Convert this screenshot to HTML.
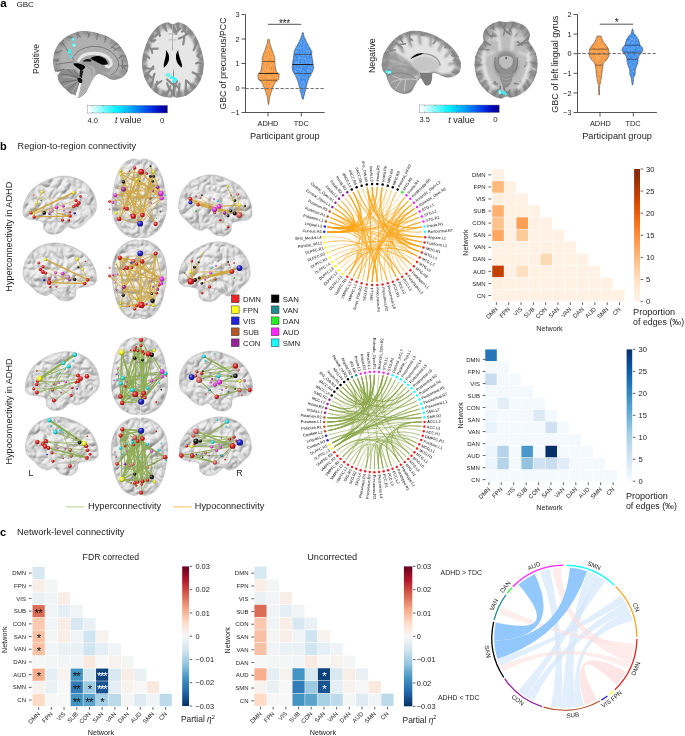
<!DOCTYPE html>
<html lang="en"><head><meta charset="utf-8"><title>Figure</title>
<style>html,body{margin:0;padding:0;background:#fff}svg{display:block}text{font-family:'Liberation Sans', sans-serif}</style>
</head><body>
<svg width="685" height="736" viewBox="0 0 685 736" font-family="Liberation Sans, sans-serif">
<rect width="685" height="736" fill="#ffffff"/>
<text x="0.30" y="6.60" font-size="10" font-weight="bold" fill="#000" textLength="6.40" lengthAdjust="spacingAndGlyphs">a</text>
<text x="16.40" y="6.70" font-size="7.9" fill="#222" textLength="17.60" lengthAdjust="spacingAndGlyphs">GBC</text>
<text x="39.40" y="59.00" font-size="8.6" text-anchor="middle" fill="#222" transform="rotate(-90 39.40 59.00)" textLength="30.20" lengthAdjust="spacingAndGlyphs">Positive</text>
<text x="375.20" y="55.70" font-size="8.6" text-anchor="middle" fill="#222" transform="rotate(-90 375.20 55.70)" textLength="34.80" lengthAdjust="spacingAndGlyphs">Negative</text>
<defs><linearGradient id="tcb" x1="0" x2="1" y1="0" y2="0"><stop offset="0" stop-color="#ffffff"/><stop offset="0.07" stop-color="#dcffff"/><stop offset="0.36" stop-color="#08f4ff"/><stop offset="0.6" stop-color="#0090fa"/><stop offset="0.8" stop-color="#0030e6"/><stop offset="0.93" stop-color="#0000b0"/><stop offset="1" stop-color="#000084"/></linearGradient></defs>
<rect x="87.30" y="105.30" width="80.30" height="7.70" fill="url(#tcb)" stroke="#8a8a8a" stroke-width="0.45"/>
<line x1="92.40" y1="105.30" x2="92.40" y2="106.40" stroke="#333" stroke-width="0.4"/>
<line x1="92.40" y1="111.90" x2="92.40" y2="113.00" stroke="#333" stroke-width="0.4"/>
<line x1="103.10" y1="105.30" x2="103.10" y2="106.40" stroke="#333" stroke-width="0.4"/>
<line x1="103.10" y1="111.90" x2="103.10" y2="113.00" stroke="#333" stroke-width="0.4"/>
<line x1="113.80" y1="105.30" x2="113.80" y2="106.40" stroke="#333" stroke-width="0.4"/>
<line x1="113.80" y1="111.90" x2="113.80" y2="113.00" stroke="#333" stroke-width="0.4"/>
<line x1="124.50" y1="105.30" x2="124.50" y2="106.40" stroke="#333" stroke-width="0.4"/>
<line x1="124.50" y1="111.90" x2="124.50" y2="113.00" stroke="#333" stroke-width="0.4"/>
<line x1="135.20" y1="105.30" x2="135.20" y2="106.40" stroke="#333" stroke-width="0.4"/>
<line x1="135.20" y1="111.90" x2="135.20" y2="113.00" stroke="#333" stroke-width="0.4"/>
<line x1="145.90" y1="105.30" x2="145.90" y2="106.40" stroke="#333" stroke-width="0.4"/>
<line x1="145.90" y1="111.90" x2="145.90" y2="113.00" stroke="#333" stroke-width="0.4"/>
<line x1="156.60" y1="105.30" x2="156.60" y2="106.40" stroke="#333" stroke-width="0.4"/>
<line x1="156.60" y1="111.90" x2="156.60" y2="113.00" stroke="#333" stroke-width="0.4"/>
<text x="87.60" y="122.80" font-size="7.8" fill="#222" textLength="10.40" lengthAdjust="spacingAndGlyphs">4.0</text>
<text x="115.00" y="123.10" font-size="8.6" fill="#222" textLength="26.60" lengthAdjust="spacingAndGlyphs"><tspan font-style="italic">t</tspan> value</text>
<text x="159.90" y="122.80" font-size="7.8" fill="#222">0</text>
<rect x="419.50" y="105.00" width="79.80" height="7.60" fill="url(#tcb)" stroke="#8a8a8a" stroke-width="0.45"/>
<line x1="424.60" y1="105.00" x2="424.60" y2="106.10" stroke="#333" stroke-width="0.4"/>
<line x1="424.60" y1="111.50" x2="424.60" y2="112.60" stroke="#333" stroke-width="0.4"/>
<line x1="435.30" y1="105.00" x2="435.30" y2="106.10" stroke="#333" stroke-width="0.4"/>
<line x1="435.30" y1="111.50" x2="435.30" y2="112.60" stroke="#333" stroke-width="0.4"/>
<line x1="446.00" y1="105.00" x2="446.00" y2="106.10" stroke="#333" stroke-width="0.4"/>
<line x1="446.00" y1="111.50" x2="446.00" y2="112.60" stroke="#333" stroke-width="0.4"/>
<line x1="456.70" y1="105.00" x2="456.70" y2="106.10" stroke="#333" stroke-width="0.4"/>
<line x1="456.70" y1="111.50" x2="456.70" y2="112.60" stroke="#333" stroke-width="0.4"/>
<line x1="467.40" y1="105.00" x2="467.40" y2="106.10" stroke="#333" stroke-width="0.4"/>
<line x1="467.40" y1="111.50" x2="467.40" y2="112.60" stroke="#333" stroke-width="0.4"/>
<line x1="478.10" y1="105.00" x2="478.10" y2="106.10" stroke="#333" stroke-width="0.4"/>
<line x1="478.10" y1="111.50" x2="478.10" y2="112.60" stroke="#333" stroke-width="0.4"/>
<line x1="488.80" y1="105.00" x2="488.80" y2="106.10" stroke="#333" stroke-width="0.4"/>
<line x1="488.80" y1="111.50" x2="488.80" y2="112.60" stroke="#333" stroke-width="0.4"/>
<text x="419.50" y="122.20" font-size="7.8" fill="#222" textLength="10.40" lengthAdjust="spacingAndGlyphs">3.5</text>
<text x="448.20" y="122.50" font-size="8.6" fill="#222" textLength="26.60" lengthAdjust="spacingAndGlyphs"><tspan font-style="italic">t</tspan> value</text>
<text x="493.20" y="122.20" font-size="7.8" fill="#222">0</text>
<line x1="245.50" y1="14.50" x2="245.50" y2="112.50" stroke="#2a2a2a" stroke-width="0.8"/>
<line x1="245.50" y1="112.50" x2="324.60" y2="112.50" stroke="#2a2a2a" stroke-width="0.8"/>
<line x1="241.50" y1="14.50" x2="245.50" y2="14.50" stroke="#2a2a2a" stroke-width="0.8"/>
<text x="239.50" y="17.10" font-size="7.4" text-anchor="end" fill="#222">3</text>
<line x1="241.50" y1="39.00" x2="245.50" y2="39.00" stroke="#2a2a2a" stroke-width="0.8"/>
<text x="239.50" y="41.60" font-size="7.4" text-anchor="end" fill="#222">2</text>
<line x1="241.50" y1="63.50" x2="245.50" y2="63.50" stroke="#2a2a2a" stroke-width="0.8"/>
<text x="239.50" y="66.10" font-size="7.4" text-anchor="end" fill="#222">1</text>
<line x1="241.50" y1="88.00" x2="245.50" y2="88.00" stroke="#2a2a2a" stroke-width="0.8"/>
<text x="239.50" y="90.60" font-size="7.4" text-anchor="end" fill="#222">0</text>
<line x1="241.50" y1="112.50" x2="245.50" y2="112.50" stroke="#2a2a2a" stroke-width="0.8"/>
<text x="239.50" y="115.10" font-size="7.4" text-anchor="end" fill="#222">−1</text>
<line x1="268.00" y1="112.50" x2="268.00" y2="116.50" stroke="#2a2a2a" stroke-width="0.8"/>
<line x1="301.30" y1="112.50" x2="301.30" y2="116.50" stroke="#2a2a2a" stroke-width="0.8"/>
<text x="268.00" y="125.90" font-size="7.4" text-anchor="middle" fill="#222">ADHD</text>
<text x="301.30" y="125.90" font-size="7.4" text-anchor="middle" fill="#222">TDC</text>
<text x="249.90" y="139.20" font-size="8.6" fill="#222" textLength="69.70" lengthAdjust="spacingAndGlyphs">Participant group</text>
<text x="226.40" y="63.60" font-size="8.6" text-anchor="middle" fill="#222" transform="rotate(-90 226.40 63.60)" textLength="92.00" lengthAdjust="spacingAndGlyphs">GBC of precuneus/PCC</text>
<line x1="268.00" y1="24.30" x2="301.30" y2="24.30" stroke="#2a2a2a" stroke-width="0.8"/>
<text x="284.40" y="27.20" font-size="10" text-anchor="middle" fill="#222" letter-spacing="-0.3">***</text>
<path d="M269.04 39.24L270.13 44.13L271.76 49.57L273.93 55.00L274.80 58.26L274.80 61.52L275.24 66.96L276.33 71.85L278.83 74.02L279.04 76.74L278.50 79.46L276.11 81.09L274.15 84.35L272.41 88.70L270.89 93.04L269.59 97.39L268.72 104.46L268.28 104.46L267.41 97.39L266.11 93.04L264.59 88.70L262.85 84.35L260.89 81.09L258.50 79.46L257.96 76.74L258.17 74.02L260.67 71.85L261.76 66.96L262.20 61.52L262.20 58.26L263.07 55.00L265.24 49.57L266.87 44.13L267.96 39.24Z" fill="#f9a24e" stroke="#3a3a3a" stroke-width="0.55" stroke-linejoin="round"/>
<path d="M268.7 41.0h0.01M268.9 39.3h0.01M268.4 44.1h0.01M268.6 48.8h0.01M269.3 44.5h0.01M269.7 44.3h0.01M269.7 48.9h0.01M268.2 48.5h0.01M267.3 44.7h0.01M269.1 46.5h0.01M267.9 46.2h0.01M269.6 49.0h0.01M273.0 54.2h0.01M265.9 53.4h0.01M265.3 51.1h0.01M270.5 50.0h0.01M270.5 51.2h0.01M264.6 52.9h0.01M273.2 54.4h0.01M265.4 51.2h0.01M267.9 50.6h0.01M270.8 49.8h0.01M267.3 54.4h0.01M269.3 53.1h0.01M268.6 54.7h0.01M267.1 50.9h0.01M264.4 52.5h0.01M269.2 49.7h0.01M268.2 53.0h0.01M270.3 55.2h0.01M269.5 56.5h0.01M267.1 56.0h0.01M271.4 56.2h0.01M266.3 57.4h0.01M265.2 55.8h0.01M266.7 55.3h0.01M272.4 56.4h0.01M272.8 57.1h0.01M268.8 55.4h0.01M264.8 57.7h0.01M272.0 57.1h0.01M271.6 56.0h0.01M267.6 56.4h0.01M273.8 58.3h0.01M273.8 59.7h0.01M272.5 60.7h0.01M266.6 59.2h0.01M266.0 60.2h0.01M270.8 61.2h0.01M269.4 61.2h0.01M266.1 58.8h0.01M273.7 59.6h0.01M272.8 59.1h0.01M264.9 59.4h0.01M272.0 58.8h0.01M262.7 60.9h0.01M265.8 58.4h0.01M268.2 59.6h0.01M264.0 62.2h0.01M263.3 66.2h0.01M266.7 63.2h0.01M264.7 63.5h0.01M271.2 64.5h0.01M267.0 62.5h0.01M272.2 63.6h0.01M268.5 63.5h0.01M268.0 65.3h0.01M263.2 65.3h0.01M274.0 66.3h0.01M265.5 65.8h0.01M270.5 65.9h0.01M271.4 65.1h0.01M262.4 64.7h0.01M263.6 61.8h0.01M262.8 62.5h0.01M270.7 66.1h0.01M272.2 64.7h0.01M271.1 64.3h0.01M263.0 66.6h0.01M265.3 66.0h0.01M271.6 64.9h0.01M266.7 63.7h0.01M274.3 64.2h0.01M270.8 62.4h0.01M263.4 71.3h0.01M268.8 71.4h0.01M265.5 67.9h0.01M264.9 68.5h0.01M271.2 68.4h0.01M265.3 69.8h0.01M266.9 69.3h0.01M272.2 68.5h0.01M269.9 69.3h0.01M269.3 71.0h0.01M267.1 71.1h0.01M264.8 69.2h0.01M274.9 70.3h0.01M265.3 67.9h0.01M274.3 71.2h0.01M267.5 68.5h0.01M272.8 67.4h0.01M270.9 69.8h0.01M268.3 69.1h0.01M266.9 71.6h0.01M270.7 68.3h0.01M262.6 71.4h0.01M272.2 70.7h0.01M272.8 70.2h0.01M271.0 71.7h0.01M266.5 69.4h0.01M262.8 73.2h0.01M275.1 72.1h0.01M270.3 73.4h0.01M265.3 72.8h0.01M273.1 73.4h0.01M264.7 72.6h0.01M268.6 71.9h0.01M265.8 72.6h0.01M265.8 73.5h0.01M262.1 72.4h0.01M262.8 73.4h0.01M274.2 73.5h0.01M266.9 72.2h0.01M263.3 73.1h0.01M271.1 75.6h0.01M275.5 74.8h0.01M258.7 76.0h0.01M269.0 75.4h0.01M259.4 75.5h0.01M269.8 75.2h0.01M274.2 74.4h0.01M263.3 75.0h0.01M265.0 76.5h0.01M275.5 74.4h0.01M273.2 76.0h0.01M275.7 76.6h0.01M260.8 75.3h0.01M261.9 74.6h0.01M267.0 75.5h0.01M273.5 75.3h0.01M272.8 76.5h0.01M270.4 75.5h0.01M274.0 74.6h0.01M262.8 74.6h0.01M259.3 74.5h0.01M259.4 77.6h0.01M268.4 76.8h0.01M266.3 77.4h0.01M276.6 77.1h0.01M277.9 77.5h0.01M268.3 79.4h0.01M278.1 77.7h0.01M260.5 77.9h0.01M259.3 78.6h0.01M268.7 77.3h0.01M265.5 78.8h0.01M266.2 78.5h0.01M277.2 77.8h0.01M269.4 78.1h0.01M275.1 77.8h0.01M265.8 79.3h0.01M267.4 77.9h0.01M268.6 79.0h0.01M277.1 78.6h0.01M274.7 78.8h0.01M261.8 80.8h0.01M274.7 80.2h0.01M262.8 79.5h0.01M265.2 80.0h0.01M271.9 79.8h0.01M277.3 79.7h0.01M274.8 79.8h0.01M265.8 80.9h0.01M270.5 80.2h0.01M274.3 80.4h0.01M271.6 83.2h0.01M267.8 83.1h0.01M272.3 83.0h0.01M271.4 82.6h0.01M263.1 82.7h0.01M270.4 82.5h0.01M275.0 82.2h0.01M264.6 81.4h0.01M272.9 83.5h0.01M268.9 84.1h0.01M273.4 84.0h0.01M274.9 82.4h0.01M265.1 84.1h0.01M268.8 82.0h0.01M265.9 83.5h0.01M271.4 83.5h0.01M271.3 86.5h0.01M269.6 87.9h0.01M268.3 88.4h0.01M266.9 88.5h0.01M271.6 85.9h0.01M264.2 86.6h0.01M273.3 84.4h0.01M267.3 87.8h0.01M268.4 86.8h0.01M271.1 88.3h0.01M266.3 86.3h0.01M267.2 87.5h0.01M266.0 88.7h0.01M270.3 88.5h0.01M267.2 87.6h0.01M270.8 91.6h0.01M268.6 90.5h0.01M271.2 91.7h0.01M268.2 90.2h0.01M266.9 92.9h0.01M270.7 90.5h0.01M265.9 91.4h0.01M267.2 90.8h0.01M269.7 89.1h0.01M270.7 92.6h0.01M268.0 93.8h0.01M270.2 94.2h0.01M267.7 94.8h0.01M267.6 97.3h0.01M268.6 93.4h0.01M269.2 99.4h0.01M268.2 100.8h0.01M269.3 99.1h0.01" stroke="#fcc590" stroke-width="0.8" stroke-linecap="round" fill="none" opacity="0.75"/>
<path d="M268.6 40.4h0.01M267.5 42.3h0.01M268.1 40.5h0.01M268.4 43.3h0.01M269.0 44.9h0.01M269.4 48.2h0.01M267.5 47.3h0.01M269.5 46.7h0.01M267.9 49.1h0.01M270.7 49.2h0.01M270.2 45.3h0.01M268.5 45.8h0.01M268.9 47.3h0.01M270.6 49.2h0.01M265.5 53.2h0.01M269.2 54.5h0.01M269.2 54.1h0.01M273.2 54.2h0.01M265.8 51.8h0.01M264.1 54.3h0.01M267.0 53.5h0.01M272.6 52.3h0.01M264.5 52.8h0.01M265.5 52.9h0.01M271.9 51.3h0.01M268.7 52.1h0.01M269.5 52.6h0.01M270.2 51.9h0.01M268.7 54.9h0.01M269.1 51.8h0.01M264.7 53.0h0.01M267.2 53.3h0.01M263.0 57.4h0.01M265.6 58.1h0.01M267.0 56.0h0.01M266.3 56.9h0.01M269.2 55.1h0.01M271.7 55.7h0.01M270.7 56.4h0.01M272.1 56.1h0.01M266.8 55.6h0.01M265.5 56.5h0.01M271.7 55.6h0.01M271.8 55.9h0.01M264.5 56.1h0.01M266.9 55.9h0.01M264.4 61.3h0.01M274.3 61.1h0.01M265.2 61.3h0.01M268.7 60.4h0.01M263.4 59.0h0.01M263.1 60.9h0.01M273.2 61.3h0.01M271.4 58.3h0.01M268.8 60.4h0.01M266.6 60.3h0.01M271.8 59.8h0.01M272.3 60.0h0.01M272.1 61.3h0.01M272.8 60.3h0.01M268.8 59.1h0.01M263.2 61.5h0.01M274.2 61.9h0.01M266.2 64.3h0.01M269.6 65.0h0.01M263.9 63.3h0.01M263.4 63.6h0.01M272.0 64.8h0.01M267.7 64.9h0.01M267.5 65.3h0.01M268.9 62.9h0.01M267.6 63.8h0.01M273.3 63.6h0.01M263.9 64.0h0.01M272.2 66.3h0.01M263.6 64.6h0.01M271.8 62.3h0.01M273.0 62.1h0.01M263.8 66.1h0.01M274.2 66.1h0.01M271.7 61.7h0.01M271.5 62.1h0.01M269.3 63.3h0.01M265.5 62.5h0.01M266.9 63.7h0.01M263.4 63.8h0.01M271.5 63.8h0.01M270.7 65.6h0.01M270.5 69.3h0.01M271.7 67.4h0.01M271.5 69.1h0.01M269.6 67.9h0.01M274.9 70.3h0.01M273.3 69.0h0.01M262.2 68.0h0.01M266.7 67.8h0.01M274.9 67.7h0.01M273.1 69.2h0.01M271.5 69.3h0.01M275.0 70.5h0.01M271.4 68.1h0.01M264.8 71.1h0.01M271.2 67.9h0.01M273.3 68.2h0.01M262.6 70.5h0.01M266.6 68.4h0.01M266.4 67.0h0.01M269.6 68.0h0.01M263.3 69.6h0.01M273.5 67.5h0.01M266.7 71.6h0.01M270.8 68.4h0.01M271.9 68.3h0.01M263.2 69.6h0.01M271.0 70.5h0.01M270.8 72.2h0.01M271.4 73.8h0.01M265.9 72.2h0.01M271.1 73.1h0.01M261.8 72.2h0.01M272.6 73.0h0.01M274.7 72.7h0.01M272.8 72.4h0.01M269.2 72.7h0.01M261.2 73.7h0.01M272.8 72.1h0.01M267.2 72.3h0.01M270.2 73.5h0.01M268.9 72.3h0.01M273.0 72.4h0.01M279.6 73.6h0.01M269.5 75.1h0.01M272.2 76.7h0.01M270.5 75.3h0.01M271.7 76.1h0.01M262.5 75.3h0.01M271.4 75.4h0.01M276.3 76.6h0.01M259.7 75.7h0.01M269.3 74.2h0.01M272.3 76.4h0.01M276.9 75.7h0.01M274.5 75.0h0.01M273.5 75.2h0.01M260.3 74.1h0.01M272.4 75.4h0.01M264.7 75.8h0.01M262.2 75.1h0.01M266.0 75.0h0.01M258.8 74.6h0.01M267.7 74.4h0.01M266.6 74.5h0.01M279.3 74.5h0.01M266.7 79.0h0.01M263.5 78.7h0.01M275.7 79.2h0.01M265.2 77.3h0.01M274.4 78.4h0.01M274.0 79.3h0.01M259.5 78.3h0.01M259.9 77.6h0.01M260.9 78.4h0.01M268.1 78.1h0.01M276.3 77.6h0.01M265.6 78.0h0.01M271.0 78.8h0.01M266.8 77.2h0.01M273.9 78.2h0.01M266.3 79.1h0.01M274.4 77.2h0.01M265.5 78.6h0.01M276.4 78.8h0.01M262.0 76.9h0.01M272.3 77.0h0.01M270.2 80.0h0.01M261.2 80.5h0.01M276.4 80.5h0.01M274.8 80.7h0.01M273.9 80.2h0.01M274.8 81.1h0.01M264.6 79.6h0.01M268.6 80.3h0.01M272.7 80.9h0.01M274.2 79.5h0.01M276.6 79.6h0.01M278.8 79.6h0.01M269.8 83.8h0.01M266.8 83.9h0.01M273.2 81.4h0.01M269.0 81.8h0.01M266.3 81.3h0.01M271.4 82.9h0.01M265.0 83.1h0.01M267.6 82.2h0.01M274.4 81.6h0.01M269.7 84.3h0.01M274.2 82.5h0.01M271.9 82.7h0.01M266.2 84.1h0.01M271.6 81.4h0.01M263.0 83.2h0.01M266.5 82.5h0.01M277.1 81.4h0.01M265.8 86.3h0.01M267.3 85.6h0.01M268.0 88.4h0.01M266.5 88.7h0.01M267.2 84.5h0.01M272.0 87.6h0.01M265.5 87.1h0.01M273.6 84.4h0.01M267.5 88.5h0.01M266.3 85.4h0.01M271.2 87.0h0.01M268.5 87.3h0.01M263.6 84.5h0.01M269.0 87.7h0.01M267.8 88.0h0.01M263.6 84.9h0.01M262.5 86.5h0.01M268.3 92.6h0.01M269.0 92.2h0.01M266.3 89.4h0.01M268.0 91.1h0.01M268.3 92.2h0.01M268.6 90.1h0.01M270.7 92.3h0.01M268.8 91.2h0.01M270.7 91.8h0.01M268.6 90.3h0.01M270.2 93.9h0.01M268.0 96.6h0.01M268.1 97.1h0.01M267.5 93.6h0.01M267.3 94.0h0.01M269.4 96.3h0.01M268.2 103.2h0.01M268.1 97.9h0.01M268.0 101.2h0.01" stroke="#ee7d1c" stroke-width="0.7" stroke-linecap="round" fill="none" opacity="0.7"/>
<line x1="262.20" y1="61.52" x2="274.80" y2="61.52" stroke="#1a1a1a" stroke-width="0.5"/>
<line x1="258.80" y1="73.48" x2="278.20" y2="73.48" stroke="#1a1a1a" stroke-width="0.9"/>
<line x1="259.62" y1="80.22" x2="277.38" y2="80.22" stroke="#1a1a1a" stroke-width="0.5"/>
<path d="M303.23 32.72L304.10 36.52L306.06 40.87L308.78 46.30L311.28 50.65L311.71 54.46L312.37 59.35L313.13 64.57L313.45 68.04L312.58 71.85L311.28 73.48L309.10 77.83L307.37 82.17L305.84 88.70L304.43 94.13L303.23 99.02L302.37 99.02L301.17 94.13L299.76 88.70L298.23 82.17L296.50 77.83L294.32 73.48L293.02 71.85L292.15 68.04L292.47 64.57L293.23 59.35L293.89 54.46L294.32 50.65L296.82 46.30L299.54 40.87L301.50 36.52L302.37 32.72Z" fill="#4f9af0" stroke="#3a3a3a" stroke-width="0.55" stroke-linejoin="round"/>
<path d="M302.3 34.2h0.01M303.5 36.2h0.01M301.7 37.7h0.01M304.7 40.6h0.01M302.2 37.4h0.01M304.9 40.2h0.01M302.8 39.4h0.01M304.0 36.9h0.01M304.3 37.8h0.01M302.0 43.6h0.01M301.4 41.7h0.01M303.6 41.1h0.01M301.5 43.4h0.01M300.4 43.1h0.01M304.8 42.8h0.01M298.5 45.8h0.01M304.0 45.0h0.01M302.5 41.8h0.01M307.7 45.7h0.01M301.5 41.0h0.01M306.4 43.1h0.01M300.4 42.5h0.01M306.5 42.9h0.01M300.7 41.1h0.01M299.7 42.4h0.01M299.6 42.0h0.01M299.4 44.5h0.01M298.5 49.1h0.01M299.0 48.4h0.01M299.0 48.2h0.01M303.1 47.4h0.01M300.6 47.4h0.01M303.6 46.8h0.01M306.1 50.1h0.01M308.5 48.2h0.01M300.4 47.0h0.01M301.8 47.7h0.01M300.4 49.8h0.01M299.4 50.0h0.01M304.4 48.0h0.01M308.4 50.0h0.01M301.5 48.4h0.01M298.6 47.2h0.01M306.3 48.0h0.01M308.0 46.5h0.01M303.7 49.9h0.01M297.2 48.2h0.01M299.4 48.7h0.01M307.2 46.7h0.01M297.3 47.8h0.01M296.6 51.0h0.01M301.7 52.6h0.01M308.9 50.9h0.01M301.5 53.8h0.01M297.4 54.0h0.01M303.5 51.9h0.01M299.8 50.7h0.01M302.5 53.4h0.01M300.4 53.9h0.01M305.7 53.0h0.01M302.2 54.1h0.01M307.6 54.0h0.01M307.2 51.2h0.01M296.1 51.2h0.01M309.3 51.3h0.01M304.8 52.0h0.01M297.4 54.2h0.01M295.1 51.8h0.01M307.8 53.8h0.01M304.2 51.3h0.01M307.1 54.2h0.01M305.7 53.1h0.01M299.5 53.8h0.01M309.3 52.9h0.01M299.0 58.5h0.01M303.5 55.4h0.01M310.6 56.2h0.01M310.8 54.8h0.01M299.5 57.4h0.01M310.1 55.5h0.01M298.4 55.2h0.01M307.7 55.3h0.01M298.5 59.1h0.01M294.9 54.9h0.01M311.1 54.8h0.01M306.9 57.9h0.01M306.7 58.8h0.01M303.7 58.0h0.01M302.5 58.6h0.01M298.5 58.7h0.01M299.7 58.7h0.01M309.1 54.6h0.01M297.0 55.2h0.01M303.7 55.6h0.01M308.3 55.4h0.01M310.6 59.0h0.01M304.4 58.5h0.01M299.3 58.9h0.01M294.7 57.4h0.01M305.7 58.7h0.01M300.0 57.5h0.01M309.6 58.8h0.01M303.3 57.4h0.01M306.4 54.9h0.01M298.4 57.4h0.01M310.0 58.3h0.01M308.7 59.2h0.01M307.0 59.4h0.01M300.3 60.1h0.01M298.9 63.6h0.01M301.2 59.5h0.01M298.9 63.8h0.01M301.6 63.0h0.01M311.1 64.0h0.01M305.2 61.5h0.01M298.2 62.6h0.01M298.9 60.7h0.01M294.9 63.3h0.01M297.6 59.8h0.01M302.8 64.0h0.01M311.9 61.7h0.01M295.4 63.7h0.01M305.8 62.3h0.01M296.6 63.8h0.01M296.7 63.3h0.01M299.6 61.0h0.01M311.9 61.2h0.01M311.5 64.3h0.01M310.1 59.6h0.01M295.2 63.7h0.01M303.7 61.8h0.01M309.2 63.2h0.01M297.7 60.1h0.01M305.1 60.4h0.01M311.2 63.0h0.01M297.2 64.5h0.01M307.2 63.7h0.01M299.3 59.6h0.01M300.5 60.1h0.01M296.0 61.7h0.01M301.2 63.2h0.01M310.2 62.3h0.01M296.8 62.1h0.01M307.0 62.5h0.01M295.9 63.5h0.01M309.5 67.8h0.01M304.7 65.8h0.01M304.2 65.1h0.01M294.3 67.4h0.01M303.8 65.1h0.01M299.8 66.4h0.01M309.3 64.7h0.01M298.7 66.7h0.01M308.0 66.8h0.01M295.8 64.8h0.01M304.8 65.8h0.01M306.3 65.3h0.01M296.9 64.7h0.01M307.0 65.2h0.01M310.4 64.9h0.01M294.2 66.4h0.01M296.9 65.2h0.01M295.8 64.8h0.01M303.1 67.9h0.01M304.5 65.0h0.01M293.0 66.7h0.01M308.2 66.8h0.01M300.1 65.1h0.01M312.3 66.1h0.01M303.9 64.7h0.01M304.3 66.6h0.01M296.0 67.8h0.01M309.9 69.1h0.01M310.6 68.9h0.01M312.0 69.7h0.01M311.6 68.2h0.01M311.0 68.7h0.01M305.4 69.5h0.01M299.8 70.0h0.01M300.7 69.6h0.01M297.3 68.2h0.01M296.0 71.4h0.01M297.3 69.5h0.01M295.0 70.1h0.01M307.6 70.0h0.01M301.6 68.5h0.01M300.9 69.6h0.01M307.0 71.5h0.01M303.0 69.5h0.01M300.4 71.8h0.01M301.4 68.7h0.01M308.1 70.0h0.01M308.0 70.4h0.01M301.7 71.6h0.01M311.3 69.9h0.01M310.2 69.4h0.01M296.0 69.3h0.01M311.6 71.5h0.01M302.6 68.6h0.01M308.9 70.4h0.01M308.7 68.2h0.01M303.4 73.3h0.01M304.0 73.0h0.01M299.9 72.2h0.01M298.1 72.6h0.01M295.7 71.9h0.01M303.4 72.6h0.01M309.1 72.2h0.01M302.8 73.4h0.01M296.4 72.5h0.01M306.1 72.9h0.01M311.5 71.9h0.01M306.1 73.8h0.01M309.2 75.1h0.01M297.3 73.8h0.01M303.0 76.7h0.01M295.7 74.2h0.01M302.5 77.5h0.01M307.8 75.4h0.01M305.6 74.6h0.01M305.4 76.9h0.01M309.4 74.3h0.01M297.9 76.4h0.01M297.0 75.9h0.01M302.9 73.6h0.01M299.1 73.5h0.01M299.0 74.0h0.01M296.9 74.7h0.01M304.1 76.7h0.01M307.3 76.7h0.01M298.8 77.6h0.01M303.4 74.3h0.01M307.0 76.1h0.01M301.0 76.7h0.01M297.4 76.8h0.01M306.0 74.1h0.01M299.0 81.1h0.01M306.9 79.5h0.01M299.5 78.0h0.01M305.2 78.7h0.01M299.6 79.3h0.01M305.6 80.3h0.01M303.1 81.5h0.01M299.0 82.1h0.01M306.0 79.6h0.01M297.8 79.6h0.01M300.2 79.6h0.01M303.1 81.9h0.01M299.8 81.3h0.01M299.4 80.7h0.01M306.9 80.3h0.01M305.8 78.7h0.01M306.5 78.6h0.01M302.4 84.0h0.01M301.3 82.6h0.01M302.4 88.1h0.01M300.9 83.8h0.01M305.7 83.3h0.01M302.8 82.8h0.01M305.9 86.9h0.01M303.3 86.3h0.01M300.4 85.3h0.01M299.9 86.6h0.01M303.0 86.9h0.01M303.0 86.8h0.01M303.0 85.2h0.01M303.1 85.2h0.01M301.8 83.7h0.01M304.9 88.0h0.01M304.5 83.3h0.01M301.3 84.0h0.01M303.2 92.2h0.01M301.8 88.8h0.01M303.3 89.5h0.01M303.7 92.6h0.01M305.1 89.3h0.01M301.6 92.5h0.01M303.8 93.4h0.01M304.1 91.2h0.01M301.1 89.6h0.01M302.5 97.1h0.01M302.6 95.7h0.01M302.4 94.6h0.01" stroke="#8cc0fa" stroke-width="0.8" stroke-linecap="round" fill="none" opacity="0.75"/>
<path d="M302.3 33.6h0.01M302.7 33.0h0.01M302.9 37.5h0.01M302.0 37.0h0.01M304.4 40.0h0.01M303.9 39.2h0.01M303.1 36.9h0.01M302.7 37.3h0.01M303.1 40.3h0.01M306.5 45.7h0.01M302.2 44.1h0.01M298.1 45.3h0.01M303.1 42.4h0.01M299.4 46.3h0.01M300.7 44.3h0.01M303.3 42.6h0.01M301.1 41.2h0.01M301.6 42.2h0.01M304.1 41.1h0.01M307.3 44.9h0.01M305.8 46.1h0.01M305.8 44.2h0.01M299.7 43.3h0.01M299.0 42.7h0.01M301.4 45.1h0.01M302.0 46.2h0.01M300.7 41.2h0.01M302.7 41.1h0.01M295.7 46.3h0.01M309.1 47.6h0.01M302.1 47.2h0.01M304.8 48.2h0.01M297.2 47.1h0.01M301.6 49.7h0.01M299.9 50.2h0.01M305.2 50.5h0.01M301.5 46.5h0.01M309.0 48.8h0.01M308.2 48.4h0.01M306.5 47.2h0.01M302.8 48.0h0.01M298.4 49.0h0.01M299.4 49.6h0.01M302.3 49.3h0.01M306.7 48.0h0.01M299.4 49.0h0.01M299.2 48.0h0.01M304.1 47.0h0.01M309.0 49.7h0.01M297.2 49.3h0.01M296.0 49.7h0.01M299.7 50.2h0.01M302.1 50.5h0.01M311.8 50.6h0.01M310.4 52.5h0.01M309.1 53.0h0.01M307.4 53.9h0.01M299.6 51.4h0.01M297.3 53.7h0.01M302.7 51.2h0.01M306.3 54.1h0.01M302.6 52.7h0.01M298.7 50.9h0.01M310.8 53.6h0.01M299.7 53.0h0.01M299.6 54.1h0.01M301.8 53.0h0.01M305.4 52.0h0.01M307.8 51.2h0.01M304.0 52.1h0.01M301.2 51.0h0.01M299.9 53.1h0.01M310.0 50.7h0.01M310.3 53.7h0.01M304.0 52.5h0.01M296.4 54.3h0.01M304.8 53.5h0.01M301.2 54.2h0.01M299.7 53.3h0.01M312.6 51.9h0.01M301.1 56.4h0.01M294.4 56.5h0.01M304.8 57.8h0.01M296.8 57.5h0.01M310.3 59.3h0.01M298.7 54.9h0.01M307.8 58.8h0.01M310.5 55.9h0.01M303.6 57.8h0.01M296.8 57.0h0.01M296.3 56.0h0.01M309.5 55.9h0.01M310.7 57.7h0.01M306.2 57.2h0.01M296.8 56.9h0.01M297.2 54.8h0.01M305.9 56.4h0.01M301.5 56.3h0.01M310.5 54.5h0.01M308.6 58.6h0.01M306.6 56.8h0.01M306.5 59.3h0.01M308.8 56.3h0.01M304.8 55.0h0.01M309.8 57.6h0.01M298.5 57.5h0.01M309.6 56.0h0.01M309.8 58.5h0.01M306.3 57.7h0.01M300.2 59.3h0.01M303.6 56.9h0.01M295.5 55.4h0.01M296.1 57.9h0.01M294.1 56.9h0.01M305.1 62.6h0.01M302.4 59.5h0.01M307.6 64.0h0.01M304.7 61.4h0.01M307.7 64.4h0.01M308.3 63.0h0.01M294.0 60.3h0.01M307.5 60.8h0.01M299.4 63.7h0.01M294.0 62.0h0.01M295.7 64.1h0.01M296.3 64.5h0.01M306.1 64.2h0.01M299.9 59.9h0.01M298.1 60.2h0.01M298.9 64.4h0.01M294.6 64.1h0.01M293.8 63.1h0.01M294.3 60.4h0.01M304.9 64.5h0.01M297.6 60.2h0.01M311.9 62.9h0.01M306.0 63.0h0.01M296.2 60.4h0.01M300.2 62.2h0.01M294.0 63.3h0.01M304.2 60.6h0.01M300.3 61.1h0.01M300.0 60.3h0.01M297.2 59.5h0.01M302.7 64.2h0.01M300.8 63.1h0.01M300.1 61.8h0.01M307.9 59.5h0.01M299.1 59.9h0.01M311.6 61.9h0.01M304.7 62.6h0.01M301.7 59.5h0.01M297.1 59.6h0.01M313.5 61.6h0.01M307.3 65.9h0.01M304.2 66.9h0.01M293.4 67.9h0.01M302.7 67.5h0.01M296.8 66.7h0.01M309.4 65.1h0.01M307.0 67.8h0.01M296.5 65.1h0.01M298.4 67.6h0.01M307.8 66.4h0.01M293.7 67.8h0.01M300.0 67.8h0.01M308.6 67.4h0.01M296.8 66.9h0.01M294.5 67.2h0.01M303.2 67.9h0.01M299.6 66.4h0.01M294.1 67.0h0.01M310.6 67.9h0.01M306.1 66.4h0.01M305.2 66.6h0.01M298.4 64.7h0.01M312.0 66.6h0.01M312.4 66.2h0.01M304.4 68.0h0.01M298.0 67.9h0.01M306.7 66.6h0.01M314.4 67.9h0.01M305.0 70.1h0.01M294.8 68.7h0.01M297.0 70.5h0.01M303.2 69.2h0.01M306.2 71.4h0.01M305.6 69.5h0.01M301.5 71.7h0.01M296.5 68.2h0.01M306.4 68.7h0.01M303.0 69.5h0.01M295.0 69.4h0.01M304.2 69.4h0.01M301.8 68.6h0.01M294.9 68.4h0.01M310.6 69.4h0.01M308.4 69.2h0.01M299.8 71.1h0.01M302.6 68.3h0.01M309.8 68.9h0.01M303.5 68.5h0.01M306.2 71.1h0.01M303.2 68.9h0.01M306.0 70.1h0.01M301.5 71.2h0.01M297.1 70.9h0.01M311.4 70.1h0.01M304.7 69.9h0.01M302.4 69.5h0.01M311.6 71.6h0.01M306.1 72.8h0.01M302.1 73.2h0.01M293.8 72.1h0.01M299.8 72.4h0.01M305.6 73.1h0.01M298.5 73.0h0.01M297.1 72.7h0.01M297.5 72.7h0.01M298.7 72.4h0.01M309.7 73.1h0.01M298.8 72.9h0.01M307.2 73.7h0.01M306.5 73.7h0.01M305.6 76.8h0.01M302.1 77.4h0.01M305.7 75.1h0.01M303.2 76.2h0.01M309.1 75.4h0.01M303.9 74.6h0.01M305.7 74.9h0.01M303.0 74.0h0.01M307.0 74.2h0.01M307.5 74.3h0.01M306.8 76.7h0.01M304.7 76.4h0.01M306.7 74.3h0.01M303.2 75.2h0.01M307.3 75.1h0.01M308.7 76.6h0.01M299.2 75.6h0.01M308.4 76.7h0.01M300.7 77.6h0.01M301.8 76.0h0.01M308.6 77.8h0.01M299.6 75.5h0.01M311.3 75.4h0.01M300.4 79.8h0.01M297.5 79.1h0.01M302.6 80.8h0.01M303.2 78.9h0.01M301.6 79.8h0.01M305.1 80.6h0.01M305.3 80.2h0.01M305.6 79.3h0.01M305.0 79.5h0.01M302.1 78.9h0.01M299.4 81.0h0.01M305.4 78.6h0.01M303.5 79.4h0.01M307.3 79.2h0.01M304.9 80.0h0.01M304.0 80.9h0.01M300.4 79.7h0.01M299.4 81.9h0.01M304.7 88.5h0.01M304.4 88.4h0.01M305.6 85.7h0.01M305.1 87.9h0.01M303.3 84.4h0.01M301.0 85.8h0.01M302.2 86.1h0.01M302.6 85.0h0.01M303.8 88.3h0.01M305.1 87.7h0.01M303.5 86.7h0.01M306.8 83.4h0.01M301.3 87.3h0.01M305.2 82.6h0.01M300.6 87.7h0.01M300.8 82.7h0.01M302.2 84.1h0.01M301.9 83.6h0.01M305.5 83.1h0.01M302.7 89.9h0.01M305.4 89.0h0.01M304.0 90.5h0.01M302.1 89.0h0.01M302.8 89.2h0.01M302.8 92.3h0.01M302.1 92.8h0.01M304.4 93.2h0.01M304.1 92.6h0.01M304.4 92.6h0.01M299.7 90.9h0.01M303.1 98.6h0.01M302.3 96.6h0.01M303.3 97.7h0.01M302.5 99.0h0.01" stroke="#1d6fe0" stroke-width="0.7" stroke-linecap="round" fill="none" opacity="0.7"/>
<line x1="293.89" y1="54.46" x2="311.71" y2="54.46" stroke="#1a1a1a" stroke-width="0.5"/>
<line x1="292.47" y1="64.57" x2="313.13" y2="64.57" stroke="#1a1a1a" stroke-width="1.0"/>
<line x1="294.32" y1="73.48" x2="311.28" y2="73.48" stroke="#1a1a1a" stroke-width="0.5"/>
<line x1="245.50" y1="88.50" x2="324.60" y2="88.50" stroke="#6a6a6a" stroke-width="0.95" stroke-dasharray="3.3 1.7"/>
<line x1="577.50" y1="14.50" x2="577.50" y2="112.50" stroke="#2a2a2a" stroke-width="0.8"/>
<line x1="577.50" y1="112.50" x2="656.90" y2="112.50" stroke="#2a2a2a" stroke-width="0.8"/>
<line x1="573.50" y1="14.50" x2="577.50" y2="14.50" stroke="#2a2a2a" stroke-width="0.8"/>
<text x="571.50" y="17.10" font-size="7.4" text-anchor="end" fill="#222">2</text>
<line x1="573.50" y1="34.10" x2="577.50" y2="34.10" stroke="#2a2a2a" stroke-width="0.8"/>
<text x="571.50" y="36.70" font-size="7.4" text-anchor="end" fill="#222">1</text>
<line x1="573.50" y1="53.70" x2="577.50" y2="53.70" stroke="#2a2a2a" stroke-width="0.8"/>
<text x="571.50" y="56.30" font-size="7.4" text-anchor="end" fill="#222">0</text>
<line x1="573.50" y1="73.30" x2="577.50" y2="73.30" stroke="#2a2a2a" stroke-width="0.8"/>
<text x="571.50" y="75.90" font-size="7.4" text-anchor="end" fill="#222">−1</text>
<line x1="573.50" y1="92.90" x2="577.50" y2="92.90" stroke="#2a2a2a" stroke-width="0.8"/>
<text x="571.50" y="95.50" font-size="7.4" text-anchor="end" fill="#222">−2</text>
<line x1="573.50" y1="112.50" x2="577.50" y2="112.50" stroke="#2a2a2a" stroke-width="0.8"/>
<text x="571.50" y="115.10" font-size="7.4" text-anchor="end" fill="#222">−3</text>
<line x1="600.00" y1="112.50" x2="600.00" y2="116.50" stroke="#2a2a2a" stroke-width="0.8"/>
<line x1="633.30" y1="112.50" x2="633.30" y2="116.50" stroke="#2a2a2a" stroke-width="0.8"/>
<text x="600.40" y="125.90" font-size="7.4" text-anchor="middle" fill="#222">ADHD</text>
<text x="633.10" y="125.90" font-size="7.4" text-anchor="middle" fill="#222">TDC</text>
<text x="582.20" y="139.20" font-size="8.6" fill="#222" textLength="69.80" lengthAdjust="spacingAndGlyphs">Participant group</text>
<text x="558.00" y="64.20" font-size="8.6" text-anchor="middle" fill="#222" transform="rotate(-90 558.00 64.20)" textLength="97.00" lengthAdjust="spacingAndGlyphs">GBC of left lingual gyrus</text>
<line x1="599.80" y1="24.20" x2="633.20" y2="24.20" stroke="#2a2a2a" stroke-width="0.8"/>
<text x="616.60" y="26.30" font-size="10" text-anchor="middle" fill="#222">*</text>
<path d="M601.06 36.09L602.14 39.02L603.23 41.74L605.84 45.00L608.34 48.80L609.10 52.61L608.88 55.87L606.71 59.67L603.67 62.93L602.90 65.11L602.36 68.91L601.82 74.35L600.84 80.87L599.75 85.22L599.32 95.00L598.88 95.00L598.45 85.22L597.36 80.87L596.38 74.35L595.84 68.91L595.30 65.11L594.53 62.93L591.49 59.67L589.32 55.87L589.10 52.61L589.86 48.80L592.36 45.00L594.97 41.74L596.06 39.02L597.14 36.09Z" fill="#f9a24e" stroke="#3a3a3a" stroke-width="0.55" stroke-linejoin="round"/>
<path d="M601.4 38.4h0.01M599.0 36.2h0.01M597.0 38.7h0.01M599.5 37.7h0.01M600.9 36.9h0.01M596.1 39.4h0.01M602.1 39.6h0.01M599.4 41.6h0.01M600.6 41.6h0.01M598.2 39.8h0.01M597.9 39.2h0.01M597.9 40.9h0.01M597.0 42.3h0.01M598.2 42.9h0.01M602.4 43.0h0.01M604.0 43.8h0.01M598.7 44.4h0.01M598.8 42.6h0.01M597.1 42.9h0.01M599.2 42.4h0.01M600.9 42.6h0.01M601.9 42.7h0.01M598.9 42.7h0.01M603.6 43.7h0.01M596.7 42.9h0.01M603.8 47.4h0.01M600.2 48.7h0.01M594.3 46.6h0.01M593.8 46.6h0.01M599.4 45.6h0.01M595.9 46.2h0.01M603.4 45.4h0.01M605.4 48.6h0.01M599.8 47.0h0.01M596.7 48.0h0.01M599.9 46.2h0.01M605.8 46.0h0.01M594.5 46.3h0.01M596.3 47.9h0.01M601.7 46.9h0.01M605.4 46.3h0.01M604.0 45.7h0.01M594.0 46.3h0.01M604.2 46.4h0.01M597.8 47.6h0.01M605.7 47.0h0.01M595.3 48.3h0.01M593.2 51.7h0.01M592.8 52.5h0.01M598.8 52.5h0.01M602.0 50.1h0.01M596.8 51.5h0.01M605.9 52.1h0.01M600.0 52.5h0.01M607.3 50.8h0.01M597.5 49.3h0.01M592.9 50.6h0.01M592.6 49.6h0.01M596.9 51.3h0.01M595.9 50.9h0.01M607.7 50.4h0.01M597.0 51.5h0.01M603.5 51.1h0.01M606.8 48.9h0.01M590.7 49.3h0.01M590.9 49.7h0.01M600.2 50.6h0.01M598.9 48.9h0.01M599.0 49.9h0.01M606.2 52.1h0.01M595.3 49.3h0.01M590.4 51.6h0.01M592.3 51.9h0.01M591.9 51.4h0.01M600.9 55.2h0.01M605.7 54.7h0.01M603.2 54.8h0.01M595.5 55.1h0.01M601.9 54.5h0.01M602.8 53.1h0.01M597.7 54.4h0.01M594.8 55.0h0.01M596.0 55.7h0.01M598.9 53.9h0.01M605.1 54.6h0.01M602.9 55.9h0.01M604.8 53.2h0.01M602.1 54.4h0.01M592.0 54.5h0.01M591.4 52.6h0.01M602.0 53.8h0.01M600.4 53.6h0.01M600.0 55.7h0.01M605.3 53.4h0.01M605.8 55.2h0.01M590.1 53.0h0.01M605.9 52.7h0.01M598.4 53.9h0.01M597.2 57.9h0.01M604.0 57.5h0.01M599.0 59.3h0.01M604.8 57.3h0.01M603.7 58.6h0.01M595.6 57.2h0.01M591.3 57.2h0.01M591.4 56.6h0.01M598.9 56.6h0.01M597.9 57.2h0.01M596.5 59.4h0.01M592.4 58.4h0.01M600.0 57.7h0.01M601.7 58.7h0.01M603.4 57.2h0.01M598.3 56.0h0.01M596.4 58.9h0.01M592.4 59.6h0.01M600.9 58.4h0.01M594.2 58.5h0.01M598.6 59.6h0.01M591.1 56.7h0.01M598.4 56.9h0.01M590.8 56.5h0.01M603.0 60.4h0.01M600.6 61.9h0.01M603.8 59.8h0.01M603.3 62.5h0.01M595.8 61.8h0.01M595.1 62.3h0.01M602.3 59.9h0.01M598.2 60.8h0.01M592.5 60.1h0.01M603.7 62.6h0.01M602.3 61.2h0.01M599.6 60.1h0.01M603.7 62.3h0.01M596.2 61.3h0.01M598.2 64.6h0.01M602.7 63.6h0.01M600.7 63.2h0.01M598.5 63.0h0.01M597.7 64.2h0.01M597.7 64.0h0.01M601.1 68.8h0.01M596.1 68.7h0.01M598.1 65.9h0.01M602.5 65.7h0.01M596.8 67.5h0.01M598.0 66.7h0.01M597.0 67.4h0.01M598.9 65.7h0.01M601.6 65.6h0.01M602.0 65.1h0.01M599.5 70.0h0.01M598.2 70.2h0.01M600.9 73.5h0.01M601.1 69.7h0.01M596.7 69.8h0.01M600.9 70.0h0.01M599.7 73.6h0.01M599.2 69.0h0.01M598.1 71.0h0.01M599.0 71.0h0.01M600.7 74.3h0.01M599.3 72.6h0.01M599.2 78.8h0.01M598.4 74.9h0.01M598.4 79.0h0.01M597.5 79.0h0.01M600.4 80.6h0.01M599.5 79.2h0.01M598.2 80.2h0.01M596.9 76.9h0.01M600.7 78.6h0.01M597.4 76.9h0.01M598.5 81.8h0.01M598.6 84.8h0.01M597.9 81.8h0.01M599.1 89.4h0.01M599.2 88.0h0.01M598.6 85.5h0.01" stroke="#fcc590" stroke-width="0.8" stroke-linecap="round" fill="none" opacity="0.75"/>
<path d="M600.3 37.9h0.01M601.3 38.3h0.01M599.9 38.9h0.01M597.9 37.5h0.01M598.1 36.1h0.01M597.3 38.3h0.01M599.8 39.4h0.01M596.9 41.4h0.01M597.5 41.4h0.01M597.0 40.9h0.01M602.1 41.6h0.01M597.0 39.5h0.01M595.6 40.7h0.01M604.0 41.2h0.01M598.9 42.3h0.01M604.7 44.8h0.01M598.3 43.5h0.01M601.2 43.2h0.01M597.0 42.1h0.01M603.1 43.4h0.01M602.1 43.7h0.01M603.8 43.2h0.01M595.7 42.9h0.01M600.6 42.0h0.01M601.5 43.8h0.01M594.4 44.1h0.01M601.0 41.8h0.01M605.5 45.6h0.01M594.9 46.3h0.01M604.4 45.5h0.01M592.7 46.4h0.01M601.1 48.5h0.01M602.3 48.7h0.01M605.1 46.8h0.01M594.2 47.0h0.01M599.0 45.7h0.01M592.5 46.9h0.01M591.9 47.2h0.01M604.4 47.5h0.01M606.4 47.7h0.01M598.7 48.2h0.01M596.2 46.0h0.01M595.9 46.4h0.01M605.3 46.6h0.01M597.1 46.7h0.01M593.9 48.7h0.01M593.2 46.1h0.01M605.9 47.3h0.01M599.8 46.2h0.01M593.8 48.8h0.01M593.3 51.2h0.01M608.0 51.5h0.01M591.8 52.2h0.01M597.6 50.9h0.01M593.9 49.1h0.01M607.2 50.1h0.01M600.0 51.4h0.01M595.5 50.0h0.01M596.5 49.9h0.01M599.8 50.9h0.01M598.7 50.3h0.01M604.7 49.1h0.01M606.5 50.0h0.01M600.3 52.1h0.01M598.7 50.7h0.01M592.8 52.1h0.01M594.7 49.9h0.01M606.7 50.0h0.01M607.5 51.3h0.01M597.2 49.3h0.01M598.6 49.7h0.01M603.2 52.0h0.01M599.4 52.6h0.01M590.1 52.2h0.01M601.2 51.5h0.01M602.3 50.1h0.01M600.0 48.8h0.01M597.8 53.2h0.01M607.5 54.9h0.01M598.7 55.4h0.01M598.5 55.5h0.01M604.3 52.6h0.01M595.6 54.1h0.01M607.8 55.5h0.01M590.7 54.4h0.01M590.9 52.9h0.01M591.1 54.0h0.01M592.0 53.0h0.01M606.5 53.0h0.01M593.2 54.0h0.01M593.7 52.8h0.01M595.0 55.0h0.01M601.4 53.9h0.01M598.9 54.8h0.01M592.4 55.6h0.01M595.2 54.8h0.01M590.9 53.3h0.01M608.0 53.5h0.01M597.0 54.1h0.01M600.5 53.7h0.01M598.2 54.3h0.01M599.7 56.3h0.01M605.7 59.1h0.01M592.7 58.7h0.01M602.6 56.7h0.01M606.5 57.0h0.01M602.9 57.3h0.01M606.4 58.3h0.01M595.0 59.6h0.01M593.4 56.0h0.01M601.4 59.4h0.01M606.6 57.0h0.01M594.0 57.6h0.01M604.6 59.2h0.01M604.8 56.3h0.01M606.3 56.0h0.01M591.6 57.1h0.01M594.0 59.1h0.01M594.8 57.6h0.01M600.3 58.6h0.01M602.1 59.3h0.01M591.8 57.2h0.01M594.2 58.8h0.01M602.7 58.2h0.01M602.1 57.6h0.01M604.2 59.0h0.01M601.0 62.7h0.01M598.7 60.0h0.01M602.3 61.3h0.01M600.8 61.1h0.01M601.7 60.3h0.01M604.6 60.4h0.01M596.2 62.9h0.01M598.5 61.7h0.01M599.3 62.2h0.01M601.0 62.1h0.01M595.1 61.5h0.01M597.9 60.5h0.01M601.4 61.2h0.01M596.7 61.8h0.01M602.1 62.0h0.01M596.0 64.9h0.01M595.4 64.6h0.01M595.1 63.2h0.01M595.5 64.6h0.01M601.7 63.2h0.01M596.1 63.6h0.01M599.5 63.0h0.01M596.4 65.2h0.01M597.5 66.8h0.01M596.6 67.1h0.01M599.9 65.7h0.01M599.8 66.1h0.01M598.7 68.0h0.01M597.3 66.8h0.01M600.3 65.3h0.01M595.8 67.0h0.01M597.2 67.7h0.01M603.2 67.8h0.01M597.8 70.1h0.01M600.5 70.9h0.01M601.9 70.3h0.01M598.6 72.3h0.01M596.5 71.6h0.01M601.3 72.8h0.01M600.2 70.7h0.01M598.4 73.3h0.01M597.4 72.1h0.01M598.0 69.1h0.01M598.6 72.7h0.01M600.1 73.9h0.01M599.5 76.7h0.01M597.2 76.2h0.01M600.1 78.1h0.01M598.3 80.4h0.01M599.7 79.3h0.01M600.4 78.8h0.01M599.2 75.7h0.01M599.2 80.7h0.01M597.7 76.9h0.01M599.5 80.3h0.01M599.3 78.8h0.01M600.1 82.5h0.01M599.4 82.0h0.01M599.6 83.6h0.01M599.8 83.3h0.01M599.0 92.3h0.01M599.0 94.1h0.01M599.0 94.7h0.01" stroke="#ee7d1c" stroke-width="0.7" stroke-linecap="round" fill="none" opacity="0.7"/>
<line x1="589.80" y1="49.13" x2="608.40" y2="49.13" stroke="#1a1a1a" stroke-width="0.5"/>
<line x1="589.20" y1="54.13" x2="609.00" y2="54.13" stroke="#1a1a1a" stroke-width="0.4"/>
<line x1="595.30" y1="65.11" x2="602.90" y2="65.11" stroke="#1a1a1a" stroke-width="0.5"/>
<path d="M632.83 29.24L633.59 33.04L636.30 36.30L638.48 39.57L639.57 43.37L640.11 45.22L642.50 47.72L642.93 49.89L641.74 52.61L639.02 55.87L637.93 59.35L638.15 61.30L636.85 65.65L635.22 70.00L635.22 74.35L633.59 77.61L633.37 80.87L632.83 84.67L632.17 84.67L631.63 80.87L631.41 77.61L629.78 74.35L629.78 70.00L628.15 65.65L626.85 61.30L627.07 59.35L625.98 55.87L623.26 52.61L622.07 49.89L622.50 47.72L624.89 45.22L625.43 43.37L626.52 39.57L628.70 36.30L631.41 33.04L632.17 29.24Z" fill="#4f9af0" stroke="#3a3a3a" stroke-width="0.55" stroke-linejoin="round"/>
<path d="M632.2 31.1h0.01M632.8 31.0h0.01M633.9 35.7h0.01M630.8 35.3h0.01M633.5 33.9h0.01M631.0 34.1h0.01M630.7 34.5h0.01M633.7 37.0h0.01M632.7 39.3h0.01M637.5 38.9h0.01M630.6 38.3h0.01M632.8 39.2h0.01M629.9 37.3h0.01M635.4 37.0h0.01M627.5 38.8h0.01M630.6 38.3h0.01M636.3 36.7h0.01M631.5 38.7h0.01M631.8 42.9h0.01M632.1 41.5h0.01M635.3 39.9h0.01M628.3 42.5h0.01M630.8 41.8h0.01M629.3 43.1h0.01M629.6 41.9h0.01M631.1 40.1h0.01M634.4 40.8h0.01M633.7 41.0h0.01M636.1 41.4h0.01M631.9 39.6h0.01M627.5 42.5h0.01M637.2 43.1h0.01M634.0 43.2h0.01M632.4 42.7h0.01M628.2 40.9h0.01M634.0 40.1h0.01M635.3 44.5h0.01M634.1 43.5h0.01M631.8 45.0h0.01M638.5 43.6h0.01M631.8 44.8h0.01M636.5 43.5h0.01M626.6 45.1h0.01M631.5 45.2h0.01M636.7 43.5h0.01M628.1 43.4h0.01M640.5 47.1h0.01M635.9 45.4h0.01M632.4 46.4h0.01M624.7 46.5h0.01M627.1 45.9h0.01M628.2 45.8h0.01M627.0 46.3h0.01M637.3 46.6h0.01M630.6 46.0h0.01M633.5 47.7h0.01M637.8 46.8h0.01M626.2 47.6h0.01M625.8 45.4h0.01M625.5 47.0h0.01M637.3 46.6h0.01M628.7 47.5h0.01M625.2 48.0h0.01M637.4 49.7h0.01M628.4 49.1h0.01M637.9 49.6h0.01M627.8 49.0h0.01M636.6 49.9h0.01M634.3 47.9h0.01M641.0 48.0h0.01M631.2 49.8h0.01M623.2 48.0h0.01M624.5 49.5h0.01M631.0 48.0h0.01M634.3 48.6h0.01M628.1 48.8h0.01M631.5 48.1h0.01M638.6 49.8h0.01M636.1 51.3h0.01M639.6 52.2h0.01M638.8 52.3h0.01M630.0 50.3h0.01M628.7 49.9h0.01M640.1 52.0h0.01M640.4 50.2h0.01M632.9 52.5h0.01M641.8 50.9h0.01M635.1 52.2h0.01M625.0 50.2h0.01M632.6 50.3h0.01M625.1 52.0h0.01M629.6 50.2h0.01M626.8 52.4h0.01M636.7 52.2h0.01M631.7 51.6h0.01M641.0 51.9h0.01M623.0 50.6h0.01M631.7 52.6h0.01M630.8 55.3h0.01M632.1 54.8h0.01M637.5 54.3h0.01M641.1 52.6h0.01M626.1 54.2h0.01M639.0 55.2h0.01M633.2 53.4h0.01M631.9 55.5h0.01M636.7 52.8h0.01M639.1 52.6h0.01M624.8 53.2h0.01M627.0 53.6h0.01M637.8 54.9h0.01M626.6 54.5h0.01M627.3 53.2h0.01M633.2 53.9h0.01M631.3 52.9h0.01M629.2 54.6h0.01M634.6 54.2h0.01M630.5 59.2h0.01M633.0 59.3h0.01M634.3 56.8h0.01M627.8 57.6h0.01M628.9 57.7h0.01M630.3 56.8h0.01M634.8 58.8h0.01M635.1 57.6h0.01M627.0 55.9h0.01M635.9 56.4h0.01M628.4 59.0h0.01M631.3 56.3h0.01M628.7 56.8h0.01M629.1 56.0h0.01M633.7 58.3h0.01M634.2 59.6h0.01M633.2 60.0h0.01M629.3 60.5h0.01M631.4 60.1h0.01M636.7 60.6h0.01M636.7 59.8h0.01M631.2 60.7h0.01M630.5 60.5h0.01M629.6 65.2h0.01M630.9 63.3h0.01M636.6 61.4h0.01M633.8 64.1h0.01M631.1 63.5h0.01M628.4 63.4h0.01M634.0 62.8h0.01M633.4 64.9h0.01M635.3 62.5h0.01M631.8 64.0h0.01M627.8 62.8h0.01M627.6 61.5h0.01M636.6 63.4h0.01M629.3 65.6h0.01M631.8 65.6h0.01M635.0 62.9h0.01M632.8 69.2h0.01M632.6 69.9h0.01M629.5 68.4h0.01M629.2 66.0h0.01M636.2 66.5h0.01M631.4 67.7h0.01M634.1 69.0h0.01M631.2 68.0h0.01M632.6 66.1h0.01M633.2 67.4h0.01M632.1 67.8h0.01M633.5 70.9h0.01M630.1 71.7h0.01M632.1 71.0h0.01M633.6 71.4h0.01M631.4 71.8h0.01M633.3 72.6h0.01M630.0 72.7h0.01M630.0 72.0h0.01M631.9 75.6h0.01M633.4 77.6h0.01M633.1 74.8h0.01M634.1 76.3h0.01M633.0 79.6h0.01M632.3 79.5h0.01M632.6 81.6h0.01" stroke="#8cc0fa" stroke-width="0.8" stroke-linecap="round" fill="none" opacity="0.75"/>
<path d="M633.1 32.3h0.01M632.6 29.2h0.01M631.1 35.6h0.01M632.7 34.4h0.01M634.0 34.8h0.01M634.4 35.3h0.01M634.4 35.7h0.01M632.9 33.7h0.01M633.5 39.4h0.01M636.2 37.5h0.01M634.4 38.4h0.01M631.5 36.4h0.01M628.6 38.2h0.01M633.7 36.7h0.01M629.2 37.9h0.01M627.6 38.6h0.01M635.9 37.4h0.01M631.5 37.5h0.01M631.9 36.5h0.01M629.7 39.5h0.01M634.7 43.0h0.01M636.3 42.7h0.01M631.3 42.2h0.01M632.4 40.6h0.01M628.3 39.6h0.01M631.9 40.5h0.01M637.1 41.1h0.01M632.2 41.4h0.01M636.1 40.7h0.01M638.1 43.3h0.01M631.3 40.8h0.01M629.7 43.1h0.01M627.2 39.8h0.01M630.7 42.3h0.01M629.0 39.8h0.01M635.9 41.2h0.01M627.6 41.3h0.01M633.8 41.9h0.01M628.0 39.9h0.01M638.0 44.2h0.01M637.0 43.6h0.01M638.3 45.1h0.01M636.6 44.7h0.01M631.7 45.0h0.01M635.4 43.9h0.01M629.4 45.2h0.01M629.4 45.0h0.01M625.8 45.1h0.01M633.0 44.5h0.01M639.7 45.3h0.01M629.8 47.0h0.01M633.2 45.5h0.01M626.3 45.4h0.01M626.7 46.5h0.01M630.6 46.6h0.01M639.4 46.6h0.01M628.4 46.0h0.01M627.2 46.6h0.01M630.8 46.3h0.01M636.2 46.9h0.01M635.2 46.1h0.01M630.5 46.8h0.01M625.7 47.1h0.01M625.0 46.1h0.01M633.5 45.8h0.01M636.2 46.4h0.01M635.6 48.1h0.01M623.7 49.9h0.01M636.9 49.2h0.01M626.8 48.7h0.01M626.9 49.4h0.01M637.3 49.4h0.01M637.9 49.2h0.01M630.0 47.8h0.01M640.4 47.8h0.01M623.8 49.5h0.01M623.1 47.9h0.01M628.1 49.0h0.01M641.5 48.1h0.01M634.9 48.9h0.01M639.8 48.0h0.01M634.0 49.5h0.01M625.2 48.8h0.01M639.2 51.2h0.01M632.0 52.1h0.01M640.6 50.3h0.01M627.8 50.8h0.01M630.1 52.2h0.01M634.9 50.1h0.01M630.2 50.1h0.01M632.9 52.2h0.01M632.3 52.0h0.01M634.1 52.2h0.01M624.8 52.1h0.01M636.5 51.5h0.01M636.1 50.2h0.01M635.4 52.6h0.01M636.9 50.3h0.01M635.0 50.4h0.01M625.3 51.1h0.01M633.8 52.1h0.01M640.0 51.6h0.01M624.2 52.3h0.01M621.7 50.6h0.01M626.9 54.6h0.01M627.9 55.3h0.01M625.1 53.9h0.01M631.6 52.9h0.01M634.7 55.8h0.01M635.9 53.0h0.01M631.7 55.4h0.01M633.2 53.7h0.01M635.2 55.8h0.01M634.2 54.8h0.01M633.0 54.2h0.01M627.5 52.7h0.01M636.4 52.8h0.01M636.2 53.3h0.01M630.7 55.5h0.01M629.0 55.6h0.01M634.9 53.8h0.01M634.2 54.5h0.01M639.2 54.7h0.01M629.7 56.7h0.01M631.0 57.4h0.01M629.0 59.0h0.01M634.4 57.0h0.01M631.8 56.3h0.01M626.7 56.8h0.01M633.6 57.2h0.01M630.2 58.4h0.01M629.8 59.0h0.01M636.7 57.7h0.01M636.5 58.1h0.01M628.6 58.6h0.01M627.7 57.6h0.01M627.7 56.3h0.01M631.6 57.0h0.01M630.5 57.6h0.01M629.2 59.7h0.01M629.7 59.6h0.01M633.5 60.6h0.01M635.0 61.1h0.01M628.5 60.5h0.01M632.5 60.1h0.01M631.1 60.1h0.01M631.6 61.1h0.01M628.8 63.4h0.01M634.1 63.8h0.01M637.3 63.3h0.01M632.3 63.9h0.01M636.6 64.9h0.01M636.5 62.9h0.01M629.0 63.9h0.01M632.8 64.0h0.01M635.1 65.5h0.01M636.8 62.9h0.01M636.0 62.1h0.01M628.2 64.8h0.01M633.1 64.1h0.01M629.7 63.3h0.01M629.6 61.5h0.01M631.2 62.9h0.01M630.2 66.9h0.01M630.5 67.8h0.01M633.4 69.6h0.01M634.4 69.6h0.01M633.5 68.6h0.01M633.0 66.1h0.01M632.1 68.6h0.01M631.1 65.7h0.01M629.5 68.3h0.01M630.3 66.6h0.01M633.1 68.5h0.01M634.5 69.4h0.01M633.4 74.1h0.01M631.5 71.2h0.01M630.9 71.9h0.01M633.3 73.3h0.01M631.8 71.8h0.01M634.9 70.7h0.01M632.5 72.7h0.01M632.7 70.3h0.01M631.5 70.9h0.01M631.3 77.1h0.01M631.5 74.8h0.01M633.7 75.2h0.01M633.2 74.6h0.01M633.9 76.2h0.01M630.3 76.4h0.01M633.2 79.0h0.01M633.2 80.6h0.01M632.1 83.7h0.01M632.3 84.6h0.01" stroke="#1d6fe0" stroke-width="0.7" stroke-linecap="round" fill="none" opacity="0.7"/>
<line x1="624.89" y1="45.22" x2="640.11" y2="45.22" stroke="#1a1a1a" stroke-width="0.5"/>
<line x1="623.07" y1="52.17" x2="641.93" y2="52.17" stroke="#1a1a1a" stroke-width="0.4"/>
<line x1="627.07" y1="59.35" x2="637.93" y2="59.35" stroke="#1a1a1a" stroke-width="0.5"/>
<line x1="577.50" y1="53.50" x2="656.90" y2="53.50" stroke="#6a6a6a" stroke-width="0.95" stroke-dasharray="3.3 1.7"/>
<defs><filter id="mb0" x="-10%" y="-10%" width="120%" height="120%"><feGaussianBlur stdDeviation="0.45"/></filter><filter id="mb1" x="-10%" y="-10%" width="120%" height="120%"><feGaussianBlur stdDeviation="0.8"/></filter><filter id="mb2" x="-20%" y="-20%" width="140%" height="140%"><feGaussianBlur stdDeviation="1.6"/></filter><filter id="mb3" x="-20%" y="-20%" width="140%" height="140%"><feGaussianBlur stdDeviation="2.4"/></filter><filter id="wav" x="-10%" y="-10%" width="120%" height="120%"><feTurbulence type="fractalNoise" baseFrequency="0.11" numOctaves="2" seed="4" result="n"/><feDisplacementMap in="SourceGraphic" in2="n" scale="5" xChannelSelector="R" yChannelSelector="G"/><feGaussianBlur stdDeviation="0.45"/></filter><filter id="wav2" x="-10%" y="-10%" width="120%" height="120%"><feTurbulence type="fractalNoise" baseFrequency="0.09" numOctaves="2" seed="9" result="n"/><feDisplacementMap in="SourceGraphic" in2="n" scale="4" xChannelSelector="R" yChannelSelector="G"/><feGaussianBlur stdDeviation="0.8"/></filter></defs>
<clipPath id="ca1"><path d="M53.14 60.54C53.29 57.44 53.78 53.47 55.07 50.26C56.35 47.05 58.38 43.84 60.85 41.27C63.31 38.70 66.63 36.52 69.84 34.85C73.05 33.18 76.48 31.79 80.12 31.25C83.76 30.71 87.83 31.04 91.68 31.64C95.53 32.23 99.60 33.46 103.24 34.85C106.88 36.24 110.52 37.84 113.52 39.99C116.52 42.13 119.09 44.91 121.23 47.69C123.37 50.48 125.19 53.69 126.37 56.69C127.54 59.68 128.29 62.90 128.29 65.68C128.29 68.46 127.76 71.25 126.37 73.39C124.97 75.53 122.30 77.46 119.94 78.53C117.59 79.60 114.80 80.24 112.23 79.81C109.66 79.38 106.77 76.92 104.53 75.96C102.28 74.99 100.46 73.82 98.75 74.03C97.03 74.24 95.64 75.64 94.25 77.24C92.86 78.85 91.89 80.99 90.39 83.66C88.90 86.34 87.29 90.90 85.26 93.30C83.22 95.70 79.86 97.73 78.19 98.05C76.52 98.37 76.41 95.91 75.24 95.23C74.06 94.54 72.77 95.01 71.12 93.94C69.48 92.87 67.27 90.73 65.34 88.80C63.42 86.88 61.00 84.74 59.56 82.38C58.13 80.03 57.64 76.92 56.74 74.67C55.84 72.42 54.77 71.25 54.17 68.89C53.57 66.54 52.99 63.65 53.14 60.54Z"/></clipPath>
<path d="M53.14 60.54C53.29 57.44 53.78 53.47 55.07 50.26C56.35 47.05 58.38 43.84 60.85 41.27C63.31 38.70 66.63 36.52 69.84 34.85C73.05 33.18 76.48 31.79 80.12 31.25C83.76 30.71 87.83 31.04 91.68 31.64C95.53 32.23 99.60 33.46 103.24 34.85C106.88 36.24 110.52 37.84 113.52 39.99C116.52 42.13 119.09 44.91 121.23 47.69C123.37 50.48 125.19 53.69 126.37 56.69C127.54 59.68 128.29 62.90 128.29 65.68C128.29 68.46 127.76 71.25 126.37 73.39C124.97 75.53 122.30 77.46 119.94 78.53C117.59 79.60 114.80 80.24 112.23 79.81C109.66 79.38 106.77 76.92 104.53 75.96C102.28 74.99 100.46 73.82 98.75 74.03C97.03 74.24 95.64 75.64 94.25 77.24C92.86 78.85 91.89 80.99 90.39 83.66C88.90 86.34 87.29 90.90 85.26 93.30C83.22 95.70 79.86 97.73 78.19 98.05C76.52 98.37 76.41 95.91 75.24 95.23C74.06 94.54 72.77 95.01 71.12 93.94C69.48 92.87 67.27 90.73 65.34 88.80C63.42 86.88 61.00 84.74 59.56 82.38C58.13 80.03 57.64 76.92 56.74 74.67C55.84 72.42 54.77 71.25 54.17 68.89C53.57 66.54 52.99 63.65 53.14 60.54Z" fill="#929292" filter="url(#mb0)"/>
<g clip-path="url(#ca1)">
<path d="M59.10 59.92C59.23 57.32 59.64 53.99 60.72 51.29C61.80 48.59 63.51 45.90 65.57 43.74C67.64 41.58 70.43 39.74 73.13 38.34C75.83 36.94 78.70 35.77 81.76 35.32C84.82 34.87 88.24 35.14 91.47 35.64C94.71 36.15 98.13 37.17 101.19 38.34C104.24 39.51 107.30 40.86 109.82 42.66C112.34 44.46 114.50 46.79 116.29 49.13C118.09 51.47 119.62 54.17 120.61 56.69C121.60 59.20 122.23 61.90 122.23 64.24C122.23 66.58 121.78 68.92 120.61 70.72C119.44 72.51 117.19 74.13 115.21 75.03C113.24 75.93 110.90 76.47 108.74 76.11C106.58 75.75 104.15 73.68 102.27 72.87C100.38 72.06 98.85 71.08 97.41 71.25C95.97 71.43 94.80 72.60 93.63 73.95C92.46 75.30 91.65 77.10 90.39 79.35C89.14 81.60 87.79 85.43 86.08 87.44C84.37 89.46 81.55 91.16 80.14 91.43C78.74 91.70 78.65 89.64 77.66 89.06C76.67 88.49 75.59 88.88 74.21 87.98C72.82 87.08 70.97 85.28 69.35 83.66C67.73 82.05 65.70 80.25 64.50 78.27C63.29 76.29 62.88 73.68 62.12 71.79C61.37 69.91 60.47 68.92 59.96 66.94C59.46 64.96 58.97 62.53 59.10 59.92Z" fill="#b0b0b0" filter="url(#mb2)"/>
<path d="M54.9 57.6Q57.6 56.6 60.5 56.0 M57.7 48.3Q62.1 48.3 65.6 50.8 M64.1 40.4Q66.7 41.0 67.9 43.4 M73.3 34.9Q74.8 37.0 76.5 38.9 M80.7 32.7Q82.3 35.4 83.0 38.4 M92.0 33.2Q92.5 36.3 93.3 39.4 M102.8 36.4Q103.0 40.1 100.9 43.1 M109.9 39.4Q107.2 41.5 104.3 43.3 M118.0 46.2Q114.2 48.6 109.8 49.3 M123.8 54.2Q119.7 52.6 115.4 53.1 M126.6 63.7Q122.8 63.1 119.2 64.5 M126.4 69.1Q123.4 67.3 119.9 66.4 M122.1 75.6Q116.6 73.8 111.9 70.3 M56.8 71.2Q60.7 68.8 65.1 67.5 M54.8 64.4Q60.0 63.7 64.1 60.5" fill="none" stroke="#b0b0b0" stroke-width="2.2" stroke-linecap="round" filter="url(#mb1)" opacity="0.9"/>
<path d="M53.1 60.5C55.1 58.7 56.8 60.9 58.7 60.8 M56.8 60.9L57.9 58.6 M54.2 52.8C56.8 52.2 59.8 52.9 61.7 50.2 M59.1 43.3C60.5 43.7 62.2 42.1 63.5 43.9 M62.2 42.1L63.8 40.2 M67.4 36.2C68.6 37.6 70.3 37.5 71.9 37.7 M77.4 31.8C78.1 33.6 78.7 35.5 77.8 37.5 M78.7 35.5L80.7 37.4 M85.8 31.0C86.9 32.7 89.3 33.4 89.2 35.9 M89.3 33.4L88.0 37.3 M97.5 32.9C97.9 35.2 97.0 37.2 96.7 39.5 M106.0 35.9C104.5 37.8 105.9 40.2 104.7 42.1 M117.7 43.6C114.3 43.6 113.5 47.3 110.8 48.3 M121.2 47.7C118.1 47.0 116.3 49.7 113.8 50.7 M116.3 49.7L111.8 46.7 M126.4 56.7C123.8 55.3 121.5 55.3 119.5 57.7 M121.5 55.3L119.0 58.7 M128.3 65.7C126.1 65.8 123.9 65.7 121.7 66.5 M123.9 65.7L122.4 69.1 M127.3 71.7C125.4 68.1 122.3 66.1 118.5 64.8 M122.3 66.1L122.3 60.1 M56.0 73.2C57.8 70.3 61.1 70.5 63.7 69.2 M54.7 70.5C57.9 70.0 61.1 70.5 64.3 69.2" fill="none" stroke="#6a6a6a" stroke-width="0.9" stroke-linecap="round" filter="url(#mb0)" opacity="0.95"/>
<path d="M74.3 56.0C81.4 43.2 109.7 41.9 118.0 60.5C119.9 67.0 116.1 73.4 110.9 74.7" fill="none" stroke="#6c6c6c" stroke-width="0.8" filter="url(#mb0)"/>
<path d="M62.1 42.6L74.3 60.5M55.7 64.4L73.7 61.8" fill="none" stroke="#6a6a6a" stroke-width="0.8" filter="url(#mb0)"/>
<path d="M80.8 61.8C86.5 54.8 105.8 54.1 110.7 64.4C112.2 70.8 108.4 73.4 102.0 72.4L90.4 73.4L81.7 68.2Z" fill="#9a9a9a" filter="url(#mb1)"/>
<path d="M78.6 60.5C82.7 51.3 104.5 50.5 110.7 60.5C112.9 65.7 108.4 68.2 106.1 65.9" fill="none" stroke="#e6e6e6" stroke-width="2.9" stroke-linecap="round" filter="url(#mb0)"/>
<path d="M90.4 58.2C96.2 54.4 104.5 55.7 107.9 62.9C106.5 65.9 102.0 65.0 98.7 62.9C95.8 61.1 92.7 60.5 90.4 58.2Z" fill="#030303" filter="url(#mb0)"/>
<path d="M82.7 61.2C85.9 58.6 89.1 58.6 91.7 59.9L90.4 61.8C87.2 61.2 85.3 61.8 82.7 61.2Z" fill="#151515" filter="url(#mb0)"/>
<path d="M73.1 63.8C77.5 62.5 82.0 63.8 85.5 67.0C84.0 69.8 81.7 70.8 80.1 69.8C77.5 67.2 75.0 67.0 73.1 63.8Z" fill="#060606" filter="url(#mb0)"/>
<path d="M58.3 74.0C63.4 67.0 76.9 67.2 80.1 76.0C81.1 84.9 76.5 94.6 70.5 93.3C62.1 89.4 56.0 81.7 58.3 74.0Z" fill="#8c8c8c" filter="url(#mb0)"/>
<path d="M60.8 74.7C67.3 73.4 73.7 76.0 78.8 79.2M61.5 82.4L78.8 79.8M67.3 90.1L78.8 80.8M73.7 68.9L78.8 78.5M67.3 69.5L78.2 78.5" fill="none" stroke="#626262" stroke-width="0.7" filter="url(#mb0)"/>
<path d="M63.4 77.2C69.8 76.6 73.7 78.5 78.3 79.6M64.1 86.2L78.2 80.5M72.4 92.0L78.8 81.7" fill="none" stroke="#b4b4b4" stroke-width="0.8" filter="url(#mb0)"/>
<path d="M51.9 72.7L60.2 71.5L57.0 76.0Z" fill="#ffffff" filter="url(#mb0)"/>
<path d="M85.9 65.0C92.3 64.4 97.5 68.9 95.3 75.3C93.0 82.4 88.1 91.4 79.5 98.1L75.5 95.2C80.8 86.9 82.9 77.2 83.7 70.2Z" fill="#b0b0b0" filter="url(#mb0)"/>
<path d="M86.5 66.3C90.4 67.0 93.0 70.8 91.7 76.0" fill="none" stroke="#8a8a8a" stroke-width="0.8" filter="url(#mb0)"/>
<path d="M77.3 78.5C80.1 76.6 82.9 78.5 82.2 82.6C80.1 83.9 77.8 82.4 77.3 78.5Z" fill="#0c0c0c" filter="url(#mb0)"/>
<path d="M80.1 69.8L83.3 70.8L81.7 78.5L79.5 76.0Z" fill="#1a1a1a" filter="url(#mb0)"/>
<path d="M74.3 99.1L78.3 97.2L81.1 83.4L79.6 83.0L76.5 92.4Z" fill="#ffffff" filter="url(#mb0)"/>
<circle cx="57.0" cy="77.2" r="1.0" fill="#ffffff" filter="url(#mb0)"/>
<circle cx="58.0" cy="83.7" r="1.0" fill="#ffffff" filter="url(#mb0)"/>
<circle cx="61.5" cy="88.8" r="1.0" fill="#ffffff" filter="url(#mb0)"/>
<circle cx="67.3" cy="93.3" r="1.0" fill="#ffffff" filter="url(#mb0)"/>
<circle cx="73.1" cy="95.5" r="1.0" fill="#ffffff" filter="url(#mb0)"/>
</g>
<ellipse cx="73.1" cy="39.3" rx="1.60" ry="1.60" fill="#3cf4f8"/>
<ellipse cx="73.7" cy="45.1" rx="2.00" ry="1.80" fill="#3cf4f8"/>
<ellipse cx="69.5" cy="51.5" rx="1.60" ry="2.80" fill="#3cf4f8"/>
<ellipse cx="70.9" cy="56.4" rx="1.00" ry="1.60" fill="#3cf4f8"/>
<ellipse cx="74.0" cy="45.4" rx="1.00" ry="0.90" fill="#e8ffff"/>
<ellipse cx="73.3" cy="39.3" rx="0.60" ry="0.60" fill="#e8ffff"/>
<clipPath id="ca2"><path d="M172.70 24.37C170.81 24.37 169.61 22.18 167.08 22.58C164.55 22.97 160.51 24.27 157.52 26.76C154.53 29.25 151.44 33.33 149.15 37.52C146.86 41.70 144.97 47.48 143.77 51.86C142.58 56.25 141.88 59.63 141.98 63.82C142.08 68.00 142.97 72.98 144.37 76.97C145.76 80.95 147.76 84.64 150.35 87.73C152.94 90.82 156.52 93.86 159.91 95.50C163.30 97.13 168.48 97.47 170.67 97.53C172.86 97.59 172.26 95.86 173.06 95.86C173.86 95.86 173.26 97.59 175.45 97.53C177.64 97.47 182.82 97.13 186.21 95.50C189.60 93.86 193.18 90.82 195.77 87.73C198.36 84.64 200.42 80.95 201.75 76.97C203.09 72.98 203.78 68.00 203.78 63.82C203.78 59.63 202.99 56.25 201.75 51.86C200.51 47.48 198.66 41.70 196.37 37.52C194.08 33.33 190.99 29.25 188.00 26.76C185.01 24.27 180.99 22.97 178.44 22.58C175.89 22.18 174.59 24.37 172.70 24.37Z"/></clipPath>
<path d="M172.70 24.37C170.81 24.37 169.61 22.18 167.08 22.58C164.55 22.97 160.51 24.27 157.52 26.76C154.53 29.25 151.44 33.33 149.15 37.52C146.86 41.70 144.97 47.48 143.77 51.86C142.58 56.25 141.88 59.63 141.98 63.82C142.08 68.00 142.97 72.98 144.37 76.97C145.76 80.95 147.76 84.64 150.35 87.73C152.94 90.82 156.52 93.86 159.91 95.50C163.30 97.13 168.48 97.47 170.67 97.53C172.86 97.59 172.26 95.86 173.06 95.86C173.86 95.86 173.26 97.59 175.45 97.53C177.64 97.47 182.82 97.13 186.21 95.50C189.60 93.86 193.18 90.82 195.77 87.73C198.36 84.64 200.42 80.95 201.75 76.97C203.09 72.98 203.78 68.00 203.78 63.82C203.78 59.63 202.99 56.25 201.75 51.86C200.51 47.48 198.66 41.70 196.37 37.52C194.08 33.33 190.99 29.25 188.00 26.76C185.01 24.27 180.99 22.97 178.44 22.58C175.89 22.18 174.59 24.37 172.70 24.37Z" fill="#8a8a8a" filter="url(#mb0)"/>
<g clip-path="url(#ca2)">
<path d="M172.70 30.11C171.11 30.11 170.11 28.27 167.98 28.60C165.86 28.93 162.46 30.02 159.95 32.11C157.44 34.21 154.84 37.64 152.92 41.15C150.99 44.67 149.40 49.52 148.40 53.20C147.40 56.88 146.81 59.73 146.89 63.24C146.98 66.76 147.73 70.94 148.90 74.29C150.07 77.64 151.75 80.73 153.92 83.33C156.10 85.92 159.11 88.48 161.96 89.86C164.80 91.23 169.15 91.51 170.99 91.56C172.83 91.61 172.33 90.16 173.00 90.16C173.67 90.16 173.17 91.61 175.01 91.56C176.85 91.51 181.20 91.23 184.05 89.86C186.89 88.48 189.91 85.92 192.08 83.33C194.26 80.73 195.98 77.64 197.10 74.29C198.22 70.94 198.81 66.76 198.81 63.24C198.81 59.73 198.14 56.88 197.10 53.20C196.06 49.52 194.51 44.67 192.58 41.15C190.66 37.64 188.06 34.21 185.55 32.11C183.04 30.02 179.66 28.93 177.52 28.60C175.38 28.27 174.29 30.11 172.70 30.11Z" fill="#e6e6e6" filter="url(#mb1)"/>
<path d="M171.1 25.6Q171.2 31.0 169.0 35.8 M167.1 24.2Q168.2 30.9 167.3 37.6 M160.6 26.6Q161.6 30.7 164.0 34.3 M154.1 32.7Q158.3 35.7 160.4 40.3 M149.0 41.6Q151.8 43.1 154.8 44.2 M145.3 52.3Q150.7 53.1 155.5 55.6 M143.6 63.8Q147.3 62.5 151.0 64.0 M144.6 72.8Q149.8 69.8 153.5 65.1 M148.1 81.6Q153.7 77.2 159.0 72.4 M152.9 88.5Q156.1 81.6 157.5 74.2 M160.0 93.9Q161.2 88.4 160.7 82.7 M168.7 95.8Q170.8 90.0 170.1 83.8 M172.0 95.2Q170.1 91.2 170.2 86.9 M173.2 94.5Q172.3 89.0 171.5 83.5 M175.2 95.9Q175.2 87.7 172.9 79.8 M183.2 94.9Q183.4 87.7 181.7 80.7 M190.5 90.8Q185.8 84.7 183.3 77.5 M196.5 84.1Q192.2 79.6 188.2 74.8 M200.6 75.8Q195.7 72.7 192.7 67.7 M202.2 63.4Q198.7 62.0 194.9 61.5 M201.0 55.3Q197.2 56.7 193.0 56.7 M198.3 45.8Q196.3 48.4 193.7 50.4 M193.9 35.9Q190.5 40.3 189.7 45.7 M187.0 28.0Q182.7 34.7 176.7 39.9 M180.5 24.6Q181.0 28.6 180.1 32.6 M174.9 24.9Q173.3 29.2 172.3 33.8" fill="none" stroke="#e6e6e6" stroke-width="1.6" stroke-linecap="round" filter="url(#mb1)" opacity="0.9"/>
<path d="M172.7 24.4C172.4 28.0 177.1 29.8 176.3 33.8 M168.8 22.7C171.5 26.0 172.6 30.4 175.7 33.7 M164.9 23.0C163.6 26.0 165.6 28.3 166.5 30.9 M157.5 26.8C157.3 30.0 159.4 32.7 159.9 36.0 M159.4 32.7L155.5 35.8 M149.2 37.5C149.6 40.1 151.3 41.2 153.8 41.3 M151.3 41.2L155.2 40.2 M146.0 44.6C149.1 46.6 151.9 48.8 152.3 52.9 M151.9 48.8L157.8 48.6 M143.0 55.0C144.7 56.8 147.8 55.5 149.3 58.0 M142.2 67.1C145.8 68.6 149.5 69.1 153.4 68.6 M144.4 77.0C147.3 73.5 151.0 70.6 153.3 66.4 M150.3 87.7C153.3 83.6 152.5 78.4 154.5 73.8 M152.5 78.4L146.0 73.2 M154.8 92.2C155.4 88.6 155.7 85.0 157.2 81.6 M155.7 85.0L161.4 81.2 M165.7 97.1C166.2 93.1 169.7 90.4 170.3 86.3 M169.7 90.4L167.1 83.4 M171.9 97.3C172.2 94.5 172.5 91.7 170.4 89.3 M172.5 91.7L169.4 89.8 M172.7 96.1C172.8 92.5 172.6 88.7 175.7 85.8 M173.7 96.7C174.0 91.4 174.4 86.1 177.2 81.2 M174.4 86.1L167.0 79.4 M177.6 97.4C179.9 93.1 178.8 88.3 179.5 83.7 M178.8 88.3L174.9 83.7 M186.2 95.5C184.9 90.6 186.0 85.8 186.1 80.8 M195.8 87.7C191.4 86.9 189.7 82.4 186.0 80.5 M200.6 79.9C198.9 76.5 196.5 73.7 192.6 72.4 M202.6 73.8C200.3 73.8 197.9 75.6 195.5 73.6 M203.8 63.8C201.2 64.2 198.9 61.4 196.1 63.3 M201.8 51.9C200.5 53.5 198.5 54.3 197.2 56.0 M198.5 54.3L198.9 57.1 M198.0 40.9C195.5 43.4 195.7 47.3 193.6 50.2 M192.4 31.5C187.3 32.6 184.3 37.7 178.9 38.6 M184.3 37.7L183.2 44.4 M185.6 25.1C186.0 28.2 184.8 30.3 182.0 31.7 M184.8 30.3L186.4 34.4 M178.4 22.6C176.2 25.3 180.0 28.6 177.6 31.4 M180.0 28.6L176.9 31.5" fill="none" stroke="#868686" stroke-width="2.2" stroke-linecap="round" filter="url(#mb0)" opacity="0.95"/>
<path d="M172.7 23.2L172.5 47.7" stroke="#8e8e8e" stroke-width="4.6" filter="url(#mb1)" fill="none" stroke-linecap="round"/>
<path d="M172.7 23.2L172.5 47.7" stroke="#c4c4c4" stroke-width="0.8" filter="url(#mb0)" fill="none"/>
<path d="M168.3 33.9L176.6 33.9M168.5 39.9L176.4 39.9" stroke="#b0b0b0" stroke-width="0.9" filter="url(#mb0)" fill="none"/>
<path d="M173.3 71.0L173.1 97.3" stroke="#8e8e8e" stroke-width="3.2" filter="url(#mb1)" fill="none" stroke-linecap="round"/>
<path d="M173.3 72.2L173.1 97.3" stroke="#6a6a6a" stroke-width="0.6" filter="url(#mb0)" fill="none"/>
<path d="M165.9 50.1C171.9 56.6 168.5 64.4 164.0 67.6C162.5 63.8 166.8 57.8 165.9 50.1Z" fill="#050505" filter="url(#mb0)"/>
<path d="M178.1 50.1C173.7 56.6 176.6 64.4 181.9 67.6C183.1 63.8 178.6 57.8 178.1 50.1Z" fill="#050505" filter="url(#mb0)"/>
</g>
<ellipse cx="168.0" cy="74.8" rx="2.60" ry="1.90" fill="#3cf4f8"/>
<ellipse cx="171.9" cy="77.6" rx="2.40" ry="1.50" fill="#3cf4f8"/>
<ellipse cx="174.9" cy="79.4" rx="2.20" ry="2.00" fill="#3cf4f8"/>
<ellipse cx="173.7" cy="81.8" rx="1.40" ry="1.20" fill="#3cf4f8"/>
<ellipse cx="168.0" cy="74.6" rx="1.20" ry="0.80" fill="#e8ffff"/>
<clipPath id="ca3"><path d="M381.78 64.39C381.89 61.61 382.32 57.54 383.71 54.12C385.10 50.69 387.56 46.94 390.13 43.84C392.70 40.74 395.70 37.63 399.12 35.49C402.55 33.35 406.62 31.64 410.69 30.99C414.75 30.35 419.25 30.78 423.53 31.64C427.82 32.49 432.31 34.10 436.38 36.13C440.45 38.17 444.62 41.06 447.94 43.84C451.26 46.62 454.15 49.62 456.29 52.83C458.43 56.04 460.25 59.90 460.79 63.11C461.32 66.32 460.79 69.85 459.50 72.10C458.22 74.35 455.44 75.74 453.08 76.60C450.73 77.46 447.94 77.67 445.37 77.24C442.80 76.81 439.81 74.67 437.66 74.03C435.52 73.39 433.45 72.64 432.53 73.39C431.61 74.14 432.57 76.71 432.14 78.53C431.71 80.35 431.07 83.19 429.96 84.31C428.84 85.42 426.92 86.17 425.46 85.21C424.00 84.24 422.40 79.38 421.22 78.53C420.04 77.67 419.51 78.78 418.39 80.07C417.28 81.35 415.87 84.18 414.54 86.23C413.21 88.29 412.57 91.18 410.43 92.40C408.29 93.62 404.65 94.16 401.69 93.56C398.74 92.96 394.95 90.88 392.70 88.80C390.45 86.73 389.32 83.45 388.20 81.10C387.09 78.74 386.88 76.39 386.02 74.67C385.16 72.96 383.77 72.53 383.07 70.82C382.36 69.11 381.67 67.18 381.78 64.39Z"/></clipPath>
<path d="M381.78 64.39C381.89 61.61 382.32 57.54 383.71 54.12C385.10 50.69 387.56 46.94 390.13 43.84C392.70 40.74 395.70 37.63 399.12 35.49C402.55 33.35 406.62 31.64 410.69 30.99C414.75 30.35 419.25 30.78 423.53 31.64C427.82 32.49 432.31 34.10 436.38 36.13C440.45 38.17 444.62 41.06 447.94 43.84C451.26 46.62 454.15 49.62 456.29 52.83C458.43 56.04 460.25 59.90 460.79 63.11C461.32 66.32 460.79 69.85 459.50 72.10C458.22 74.35 455.44 75.74 453.08 76.60C450.73 77.46 447.94 77.67 445.37 77.24C442.80 76.81 439.81 74.67 437.66 74.03C435.52 73.39 433.45 72.64 432.53 73.39C431.61 74.14 432.57 76.71 432.14 78.53C431.71 80.35 431.07 83.19 429.96 84.31C428.84 85.42 426.92 86.17 425.46 85.21C424.00 84.24 422.40 79.38 421.22 78.53C420.04 77.67 419.51 78.78 418.39 80.07C417.28 81.35 415.87 84.18 414.54 86.23C413.21 88.29 412.57 91.18 410.43 92.40C408.29 93.62 404.65 94.16 401.69 93.56C398.74 92.96 394.95 90.88 392.70 88.80C390.45 86.73 389.32 83.45 388.20 81.10C387.09 78.74 386.88 76.39 386.02 74.67C385.16 72.96 383.77 72.53 383.07 70.82C382.36 69.11 381.67 67.18 381.78 64.39Z" fill="#8c8c8c" filter="url(#mb0)"/>
<g clip-path="url(#ca3)">
<path d="M388.26 63.16C388.35 60.82 388.71 57.41 389.87 54.53C391.04 51.65 393.11 48.50 395.27 45.90C397.43 43.29 399.95 40.68 402.82 38.88C405.70 37.08 409.12 35.64 412.54 35.10C415.95 34.56 419.73 34.92 423.33 35.64C426.92 36.36 430.70 37.71 434.12 39.42C437.54 41.13 441.04 43.56 443.83 45.90C446.62 48.23 449.05 50.75 450.85 53.45C452.64 56.15 454.17 59.38 454.62 62.08C455.07 64.78 454.62 67.75 453.54 69.64C452.46 71.52 450.13 72.69 448.15 73.41C446.17 74.13 443.83 74.31 441.67 73.95C439.51 73.59 437.00 71.79 435.20 71.25C433.40 70.72 431.66 70.09 430.88 70.72C430.11 71.34 430.92 73.50 430.56 75.03C430.20 76.56 429.66 78.95 428.72 79.89C427.79 80.82 426.17 81.45 424.95 80.64C423.72 79.83 422.37 75.75 421.39 75.03C420.40 74.31 419.95 75.25 419.01 76.33C418.08 77.41 416.89 79.78 415.77 81.51C414.66 83.23 414.12 85.66 412.32 86.69C410.52 87.71 407.46 88.16 404.98 87.66C402.50 87.15 399.32 85.41 397.43 83.66C395.54 81.92 394.59 79.17 393.65 77.19C392.72 75.21 392.54 73.23 391.82 71.79C391.10 70.36 389.93 70.00 389.34 68.56C388.74 67.12 388.17 65.50 388.26 63.16Z" fill="#e2e2e2" filter="url(#mb1)"/>
<path d="M383.5 60.8Q389.0 59.1 394.5 57.4 M387.0 51.1Q393.5 51.5 399.2 54.6 M394.4 41.3Q400.6 42.0 406.0 45.4 M403.6 34.8Q406.0 38.1 408.2 41.5 M419.3 32.5Q420.9 37.8 420.2 43.2 M431.6 35.8Q431.8 39.0 429.6 41.3 M442.9 41.8Q439.7 44.6 435.5 45.5 M452.4 50.1Q450.0 51.6 447.2 51.4 M458.3 59.5Q455.1 57.6 451.6 58.6 M459.1 68.7Q455.4 67.4 452.2 65.1 M454.1 74.9Q450.8 73.5 447.7 71.9 M383.8 68.3Q389.5 66.2 394.6 63.0" fill="none" stroke="#e2e2e2" stroke-width="1.6" stroke-linecap="round" filter="url(#mb1)" opacity="0.9"/>
<path d="M381.8 64.4C385.4 65.1 388.9 66.1 392.6 67.0 M383.7 54.1C387.3 51.9 390.8 49.7 395.4 50.0 M392.8 40.8C395.7 43.6 400.0 44.3 402.3 48.0 M400.0 44.3L405.5 43.9 M399.1 35.5C400.2 37.8 400.9 40.2 402.7 42.2 M410.7 31.0C408.9 34.3 409.3 37.7 409.9 41.2 M409.3 37.7L412.5 40.3 M419.2 30.9C422.0 31.4 420.4 34.5 422.1 35.6 M420.4 34.5L424.2 34.8 M436.4 36.1C437.1 39.2 435.2 41.3 433.5 43.5 M447.9 43.8C445.9 44.3 447.1 47.3 444.9 47.7 M458.3 56.2C456.0 57.6 454.1 56.0 452.0 55.4 M454.1 56.0L452.7 51.8 M460.8 63.1C459.1 61.3 457.2 59.9 455.0 58.6 M457.2 59.9L453.7 60.4 M459.5 72.1C457.3 71.8 455.2 73.3 452.9 72.2 M383.1 70.8C385.8 67.7 389.2 65.8 393.6 66.0" fill="none" stroke="#858585" stroke-width="1.7" stroke-linecap="round" filter="url(#mb0)" opacity="0.95"/>
<path d="M381.8 64.4L388.8 52.2L400.4 56.0L410.7 63.1L420.3 73.4L414.5 77.2L388.8 76.6L383.1 71.5Z" fill="#8d8d8d" filter="url(#mb2)" opacity="0.85"/>
<path d="M390.1 60.5C396.6 61.8 403.0 64.4 409.7 67.2M388.2 67.0C395.3 65.7 401.7 67.2 406.8 69.8M395.3 54.1L403.6 61.8" fill="none" stroke="#c9c9c9" stroke-width="1.3" stroke-linecap="round" filter="url(#mb1)"/>
<path d="M395.3 41.3L403.6 52.2M406.2 34.2L411.3 46.4M418.4 32.0L420.3 43.8M431.2 34.8L430.6 45.8M442.8 41.3L438.9 50.9M451.8 49.6L445.4 56.7M458.2 61.8L449.2 64.4M388.8 47.7L397.2 56.0" fill="none" stroke="#8a8a8a" stroke-width="2.0" stroke-linecap="round" filter="url(#mb1)"/>
<path d="M412.0 60.5C418.4 54.1 435.1 55.4 440.2 64.4C440.2 70.8 432.5 72.7 424.8 72.1C417.1 71.5 411.3 67.0 412.0 60.5Z" fill="#c6c6c6" filter="url(#mb1)"/>
<path d="M410.7 58.6C415.8 52.8 424.8 52.2 432.5 55.7C437.7 58.0 440.2 62.5 440.0 65.7" fill="none" stroke="#9a9a9a" stroke-width="1.3" filter="url(#mb0)"/>
<path d="M410.4 59.3C413.3 54.8 418.4 52.8 423.8 53.2C419.7 55.1 414.5 56.7 410.4 59.3Z" fill="#060606" filter="url(#mb0)"/>
<path d="M391.4 68.2C401.7 64.4 413.3 67.0 419.7 74.7" fill="none" stroke="#8a8a8a" stroke-width="1.6" filter="url(#mb1)"/>
<path d="M387.3 76.0C392.7 71.5 408.1 71.5 416.1 78.8C414.5 86.2 410.7 92.4 401.7 93.3C391.4 90.1 386.3 82.4 387.3 76.0Z" fill="#9c9c9c" stroke="#6e6e6e" stroke-width="0.5" filter="url(#mb0)"/>
<path d="M391.4 82.4C399.1 78.5 408.1 78.5 417.1 79.8M401.7 79.8L395.3 88.8M405.5 79.4L404.3 91.4M403.0 79.6L392.7 76.0" fill="none" stroke="#c8c8c8" stroke-width="1.0" filter="url(#mb0)"/>
<path d="M419.7 72.7L432.5 72.7L431.0 84.3L425.5 85.2L421.2 78.5Z" fill="#7c7c7c" filter="url(#mb0)"/>
</g>
<ellipse cx="388.8" cy="72.1" rx="3.20" ry="1.70" fill="#3cf4f8"/>
<ellipse cx="386.9" cy="71.5" rx="1.60" ry="1.20" fill="#3cf4f8"/>
<ellipse cx="389.2" cy="72.4" rx="1.50" ry="0.80" fill="#e8ffff"/>
<clipPath id="ca4"><path d="M505.84 22.22C503.25 22.16 501.66 20.72 498.67 21.38C495.68 22.04 490.50 24.07 487.91 26.16C485.32 28.25 483.82 31.44 483.13 33.93C482.43 36.42 484.32 38.91 483.73 41.10C483.13 43.30 480.94 44.49 479.54 47.08C478.15 49.67 476.15 53.26 475.36 56.65C474.56 60.03 474.46 63.82 474.76 67.40C475.06 70.99 475.76 74.78 477.15 78.16C478.54 81.55 480.74 84.94 483.13 87.73C485.52 90.52 488.51 93.11 491.50 94.90C494.48 96.69 498.57 98.25 501.06 98.49C503.55 98.73 504.65 96.49 506.44 96.33C508.23 96.18 509.33 97.97 511.82 97.53C514.31 97.09 518.39 95.54 521.38 93.70C524.37 91.87 527.36 89.52 529.75 86.53C532.14 83.54 534.43 79.56 535.73 75.77C537.02 71.99 537.52 67.60 537.52 63.82C537.52 60.03 536.82 56.25 535.73 53.06C534.63 49.87 532.14 46.68 530.95 44.69C529.75 42.70 528.75 42.90 528.55 41.10C528.36 39.31 530.35 36.42 529.75 33.93C529.15 31.44 527.56 28.19 524.97 26.16C522.38 24.13 517.40 22.40 514.21 21.74C511.02 21.08 508.43 22.28 505.84 22.22Z"/></clipPath>
<path d="M505.84 22.22C503.25 22.16 501.66 20.72 498.67 21.38C495.68 22.04 490.50 24.07 487.91 26.16C485.32 28.25 483.82 31.44 483.13 33.93C482.43 36.42 484.32 38.91 483.73 41.10C483.13 43.30 480.94 44.49 479.54 47.08C478.15 49.67 476.15 53.26 475.36 56.65C474.56 60.03 474.46 63.82 474.76 67.40C475.06 70.99 475.76 74.78 477.15 78.16C478.54 81.55 480.74 84.94 483.13 87.73C485.52 90.52 488.51 93.11 491.50 94.90C494.48 96.69 498.57 98.25 501.06 98.49C503.55 98.73 504.65 96.49 506.44 96.33C508.23 96.18 509.33 97.97 511.82 97.53C514.31 97.09 518.39 95.54 521.38 93.70C524.37 91.87 527.36 89.52 529.75 86.53C532.14 83.54 534.43 79.56 535.73 75.77C537.02 71.99 537.52 67.60 537.52 63.82C537.52 60.03 536.82 56.25 535.73 53.06C534.63 49.87 532.14 46.68 530.95 44.69C529.75 42.70 528.75 42.90 528.55 41.10C528.36 39.31 530.35 36.42 529.75 33.93C529.15 31.44 527.56 28.19 524.97 26.16C522.38 24.13 517.40 22.40 514.21 21.74C511.02 21.08 508.43 22.28 505.84 22.22Z" fill="#8a8a8a" filter="url(#mb0)"/>
<g clip-path="url(#ca4)">
<path d="M505.88 29.27C503.76 29.23 502.45 28.05 500.00 28.59C497.55 29.13 493.30 30.79 491.18 32.51C489.06 34.22 487.83 36.84 487.26 38.88C486.69 40.92 488.24 42.97 487.75 44.76C487.26 46.56 485.46 47.54 484.32 49.66C483.17 51.79 481.54 54.73 480.89 57.51C480.23 60.28 480.15 63.39 480.40 66.33C480.64 69.27 481.21 72.37 482.36 75.15C483.50 77.93 485.30 80.71 487.26 82.99C489.22 85.28 491.67 87.40 494.12 88.88C496.57 90.35 499.92 91.62 501.96 91.82C504.01 92.01 504.90 90.18 506.37 90.05C507.84 89.92 508.74 91.39 510.79 91.03C512.83 90.67 516.18 89.40 518.63 87.89C521.08 86.39 523.53 84.46 525.49 82.01C527.45 79.56 529.33 76.29 530.39 73.19C531.45 70.09 531.86 66.49 531.86 63.39C531.86 60.28 531.29 57.18 530.39 54.57C529.49 51.95 527.45 49.34 526.47 47.70C525.49 46.07 524.67 46.23 524.51 44.76C524.35 43.29 525.98 40.92 525.49 38.88C525.00 36.84 523.69 34.18 521.57 32.51C519.44 30.84 515.36 29.42 512.75 28.88C510.13 28.34 508.01 29.32 505.88 29.27Z" fill="#bcbcbc" filter="url(#mb1)"/>
<path d="M504.4 23.5Q507.3 29.7 507.6 36.5 M496.0 23.7Q494.7 30.9 495.3 38.1 M488.3 27.7Q490.3 34.8 492.2 41.9 M484.1 35.2Q488.0 39.7 490.9 44.9 M485.1 40.4Q490.1 43.0 493.9 47.2 M483.2 44.9Q486.3 47.5 489.6 49.9 M478.8 51.6Q484.1 51.5 489.3 51.9 M476.4 59.6Q480.1 60.0 483.5 61.2 M476.5 69.5Q481.2 67.3 486.0 65.1 M478.4 77.1Q480.1 74.4 483.0 73.1 M484.4 86.7Q488.9 83.9 492.7 80.2 M490.1 92.0Q492.5 85.7 497.0 80.6 M497.3 95.9Q499.8 91.8 502.3 87.6 M504.3 96.0Q504.9 89.7 506.8 83.7 M507.5 94.9Q506.4 88.4 506.3 81.7 M513.4 95.5Q511.8 92.4 511.3 88.8 M520.6 92.3Q517.6 89.7 516.7 85.8 M528.7 85.3Q524.1 81.9 521.3 77.0 M533.0 78.2Q528.9 77.9 525.2 76.0 M535.5 69.7Q531.7 70.7 527.9 69.5 M535.5 58.7Q530.3 61.8 524.3 62.2 M533.4 51.6Q530.4 53.9 527.2 55.8 M528.8 44.5Q525.9 47.4 522.2 49.2 M527.3 42.1Q521.7 45.0 517.7 50.0 M528.7 35.2Q524.9 39.7 521.0 44.3 M525.7 29.1Q524.7 32.5 521.6 34.1 M519.1 24.9Q516.2 32.3 512.1 39.1 M509.6 23.3Q510.3 30.2 508.1 36.7" fill="none" stroke="#bcbcbc" stroke-width="1.6" stroke-linecap="round" filter="url(#mb1)" opacity="0.9"/>
<path d="M505.8 22.2C503.6 26.1 505.7 30.9 503.6 34.9 M505.7 30.9L511.9 35.3 M498.7 21.4C502.8 24.0 503.6 29.2 507.2 32.5 M493.1 23.2C493.9 28.0 492.8 32.7 492.3 37.5 M492.8 32.7L498.7 36.2 M484.8 29.9C487.6 32.5 489.7 35.6 491.8 38.9 M489.7 35.6L496.3 35.9 M483.0 35.8C484.1 39.2 483.8 42.9 485.6 46.2 M483.7 41.1C486.4 41.5 487.4 45.0 490.5 44.8 M478.4 49.2C481.7 49.0 485.0 50.1 488.5 49.7 M475.4 56.6C477.4 57.8 479.8 57.1 482.1 57.7 M479.8 57.1L480.9 60.1 M474.6 64.7C478.0 65.1 481.3 65.9 484.6 63.9 M476.2 75.6C477.6 73.1 480.0 75.0 481.9 74.2 M479.8 83.2C482.6 80.8 486.1 81.0 489.5 80.3 M487.1 91.7C490.0 88.5 491.4 84.1 495.5 81.8 M491.4 84.1L497.6 84.0 M493.9 96.2C494.1 92.4 497.2 90.9 499.7 88.9 M501.1 98.5C498.7 94.6 500.5 90.5 500.2 86.3 M506.4 96.3C505.8 92.1 503.7 88.3 503.2 83.9 M503.7 88.3L508.4 82.3 M510.2 97.5C510.6 94.7 508.4 93.5 506.6 91.9 M508.4 93.5L509.8 90.0 M516.4 96.1C514.9 93.7 518.2 91.5 516.9 89.0 M518.2 91.5L521.3 89.9 M525.8 90.6C523.8 87.6 521.7 84.7 520.5 81.2 M521.7 84.7L514.7 83.3 M529.8 86.5C527.4 84.7 527.7 81.8 526.8 79.4 M527.7 81.8L529.9 77.3 M536.6 72.8C535.3 70.5 531.9 71.0 530.8 68.5 M531.9 71.0L527.6 73.3 M537.5 63.8C533.7 64.3 530.3 61.0 526.2 62.6 M530.3 61.0L524.8 66.4 M535.7 53.1C534.4 55.1 531.7 55.6 530.2 57.5 M531.7 55.6L529.1 54.2 M532.0 46.4C531.6 49.3 529.4 50.9 527.1 52.3 M529.4 42.8C525.1 41.7 521.8 45.1 517.6 45.4 M521.8 45.1L517.6 41.7 M529.3 37.8C525.3 38.7 524.1 43.7 519.6 44.1 M529.8 33.9C530.8 36.4 526.7 37.1 527.7 39.6 M522.6 24.7C521.4 30.1 516.6 33.0 513.7 37.3 M514.2 21.7C512.7 25.8 509.6 29.1 508.7 33.5 M509.6 29.1L512.9 34.2" fill="none" stroke="#808080" stroke-width="1.7" stroke-linecap="round" filter="url(#mb0)" opacity="0.95"/>
<path d="M506.1 22.0L506.1 51.9" stroke="#5a5a5a" stroke-width="0.8" filter="url(#mb0)" fill="none"/>
<ellipse cx="506.1" cy="65.0" rx="12" ry="14" fill="#8a8a8a" filter="url(#mb2)" opacity="0.9"/>
<path d="M484.3 51.9C481.9 63.8 485.5 78.2 493.9 87.7M528.0 51.9C530.3 63.8 526.8 78.2 518.4 87.7" stroke="#e4e4e4" stroke-width="3.4" filter="url(#mb1)" fill="none" stroke-linecap="round"/>
<path d="M483.7 59.0L478.3 55.5M483.1 67.4L477.2 69.8M486.1 77.0L480.7 81.8M491.5 85.3L489.7 92.5M528.6 59.0L533.9 55.5M529.2 67.4L535.1 69.8M526.2 77.0L531.5 81.8M520.8 85.3L522.6 92.5M485.5 55.5L493.9 51.9M526.8 55.5L518.4 51.9" stroke="#dedede" stroke-width="1.8" filter="url(#mb1)" fill="none" stroke-linecap="round"/>
<path d="M495.1 57.8C493.9 66.2 496.3 72.2 499.9 72.2M517.2 57.8C518.4 66.2 516.0 72.2 512.4 72.2" stroke="#6a6a6a" stroke-width="0.9" filter="url(#mb0)" fill="none" stroke-linecap="round"/>
<path d="M497.5 29.2C498.7 37.5 499.9 43.5 499.9 49.5M514.2 29.2C513.0 37.5 511.8 43.5 511.8 49.5" stroke="#e0e0e0" stroke-width="2.8" filter="url(#mb1)" fill="none" stroke-linecap="round"/>
<path d="M498.1 33.9L490.9 30.3M498.7 39.9L489.7 38.7M513.6 33.9L520.8 30.3M513.0 39.9L522.6 38.7" stroke="#dcdcdc" stroke-width="1.7" filter="url(#mb1)" fill="none" stroke-linecap="round"/>
<path d="M498.7 59.0C499.9 54.3 511.8 54.3 513.3 59.0C514.2 65.0 510.0 68.6 506.1 69.2C502.3 68.6 497.7 65.0 498.7 59.0Z" fill="#bdbdbd" stroke="#6a6a6a" stroke-width="0.5" filter="url(#mb0)"/>
<circle cx="506.1" cy="58.1" r="0.8" fill="#111"/>
<path d="M499.9 71.0C503.5 68.6 508.8 68.6 512.4 71.0C513.0 79.4 510.6 86.5 506.1 87.7C501.7 86.5 499.3 79.4 499.9 71.0Z" fill="#8f8f8f" filter="url(#mb0)"/>
<path d="M501.7 74.6C504.6 76.4 507.6 76.4 510.6 74.6M501.7 78.2C504.6 80.0 507.6 80.0 510.6 78.2M502.3 81.8C504.6 83.5 507.6 83.5 510.0 81.8" stroke="#b4b4b4" stroke-width="0.6" fill="none"/>
</g>
<ellipse cx="499.9" cy="91.9" rx="1.50" ry="2.60" fill="#3cf4f8"/>
<ellipse cx="503.5" cy="92.5" rx="2.60" ry="1.20" fill="#3cf4f8"/>
<ellipse cx="505.8" cy="94.3" rx="1.20" ry="1.20" fill="#3cf4f8"/>
<ellipse cx="499.9" cy="92.5" rx="0.70" ry="1.40" fill="#e8ffff"/>
<defs>
<radialGradient id="gb" cx="0.45" cy="0.4" r="0.65"><stop offset="0" stop-color="#efefef"/><stop offset="0.6" stop-color="#e4e4e4"/><stop offset="0.9" stop-color="#d8d8d8"/><stop offset="1" stop-color="#cecece"/></radialGradient>
<filter id="bl1" x="-10%" y="-10%" width="120%" height="120%"><feGaussianBlur stdDeviation="0.7"/></filter>
<filter id="bl2" x="-10%" y="-10%" width="120%" height="120%"><feGaussianBlur stdDeviation="1.2"/></filter>
<filter id="bump" x="0" y="0" width="100%" height="100%" color-interpolation-filters="sRGB"><feTurbulence type="turbulence" baseFrequency="0.085" numOctaves="2" seed="7" result="noise"/><feGaussianBlur in="noise" stdDeviation="0.6" result="nb"/><feDiffuseLighting in="nb" lighting-color="#ffffff" surfaceScale="3.2" diffuseConstant="1.05" result="light"><feDistantLight azimuth="230" elevation="52"/></feDiffuseLighting><feComposite in="light" in2="SourceGraphic" operator="in"/></filter>
<radialGradient id="nr" cx="0.38" cy="0.35" r="0.7"><stop offset="0" stop-color="#f19b9b"/><stop offset="0.45" stop-color="#e02020"/><stop offset="1" stop-color="#7b1212"/></radialGradient>
<radialGradient id="ny" cx="0.38" cy="0.35" r="0.7"><stop offset="0" stop-color="#f8f89b"/><stop offset="0.45" stop-color="#f0f020"/><stop offset="1" stop-color="#848412"/></radialGradient>
<radialGradient id="nb" cx="0.38" cy="0.35" r="0.7"><stop offset="0" stop-color="#9b9be6"/><stop offset="0.45" stop-color="#2020c8"/><stop offset="1" stop-color="#12126e"/></radialGradient>
<radialGradient id="nk" cx="0.38" cy="0.35" r="0.7"><stop offset="0" stop-color="#979797"/><stop offset="0.45" stop-color="#181818"/><stop offset="1" stop-color="#0d0d0d"/></radialGradient>
<radialGradient id="nm" cx="0.38" cy="0.35" r="0.7"><stop offset="0" stop-color="#f5a5f5"/><stop offset="0.45" stop-color="#e838e8"/><stop offset="1" stop-color="#801f80"/></radialGradient>
<radialGradient id="np" cx="0.38" cy="0.35" r="0.7"><stop offset="0" stop-color="#d49ed8"/><stop offset="0.45" stop-color="#a028a8"/><stop offset="1" stop-color="#58165c"/></radialGradient>
<radialGradient id="npl" cx="0.38" cy="0.35" r="0.7"><stop offset="0" stop-color="#e6cbe8"/><stop offset="0.45" stop-color="#c78ccc"/><stop offset="1" stop-color="#6d4d70"/></radialGradient>
<radialGradient id="nc" cx="0.38" cy="0.35" r="0.7"><stop offset="0" stop-color="#9beff4"/><stop offset="0.45" stop-color="#20dce6"/><stop offset="1" stop-color="#12797f"/></radialGradient>
<radialGradient id="nt" cx="0.38" cy="0.35" r="0.7"><stop offset="0" stop-color="#9ad1d4"/><stop offset="0.45" stop-color="#1f98a0"/><stop offset="1" stop-color="#115458"/></radialGradient>
<radialGradient id="ng" cx="0.38" cy="0.35" r="0.7"><stop offset="0" stop-color="#a2eaa9"/><stop offset="0.45" stop-color="#30d040"/><stop offset="1" stop-color="#1a7223"/></radialGradient>
<radialGradient id="nn" cx="0.38" cy="0.35" r="0.7"><stop offset="0" stop-color="#dbbca9"/><stop offset="0.45" stop-color="#b06a40"/><stop offset="1" stop-color="#613a23"/></radialGradient>
<radialGradient id="ns" cx="0.38" cy="0.35" r="0.7"><stop offset="0" stop-color="#f1c2bb"/><stop offset="0.45" stop-color="#e07868"/><stop offset="1" stop-color="#7b4239"/></radialGradient>
<radialGradient id="npk" cx="0.38" cy="0.35" r="0.7"><stop offset="0" stop-color="#f5d4e3"/><stop offset="0.45" stop-color="#e8a0c0"/><stop offset="1" stop-color="#80586a"/></radialGradient>
<radialGradient id="nrp" cx="0.38" cy="0.35" r="0.7"><stop offset="0" stop-color="#f1b7b7"/><stop offset="0.45" stop-color="#e06060"/><stop offset="1" stop-color="#7b3535"/></radialGradient>
<radialGradient id="nry" cx="0.38" cy="0.35" r="0.7"><stop offset="0" stop-color="#edbfc6"/><stop offset="0.45" stop-color="#d87080"/><stop offset="1" stop-color="#773e46"/></radialGradient>
</defs>
<clipPath id="cp1"><path d="M22.90 210.85C23.09 208.51 23.19 205.01 24.65 201.50C26.11 198.00 28.55 193.13 31.66 189.82C34.78 186.51 38.87 183.88 43.34 181.64C47.82 179.40 53.66 177.16 58.53 176.38C63.40 175.61 68.07 175.90 72.55 176.97C77.03 178.04 81.90 180.08 85.40 182.81C88.91 185.54 91.73 189.63 93.58 193.32C95.43 197.02 96.34 201.60 96.50 205.01C96.66 208.42 95.88 211.34 94.51 213.77C93.15 216.20 90.43 217.61 88.32 219.61C86.22 221.62 84.29 224.25 81.90 225.80C79.50 227.36 76.39 228.76 73.95 228.96C71.52 229.15 69.57 226.33 67.29 226.97C65.02 227.61 63.07 231.61 60.28 232.81C57.50 234.02 53.27 234.72 50.59 234.22C47.90 233.71 45.41 231.68 44.16 229.78C42.92 227.87 44.22 224.32 43.11 222.77C42.00 221.21 40.00 221.05 37.50 220.43C35.01 219.81 30.49 219.85 28.16 219.03C25.82 218.21 24.36 216.89 23.48 215.52C22.61 214.16 22.71 213.19 22.90 210.85Z"/></clipPath>
<path d="M22.90 210.85C23.09 208.51 23.19 205.01 24.65 201.50C26.11 198.00 28.55 193.13 31.66 189.82C34.78 186.51 38.87 183.88 43.34 181.64C47.82 179.40 53.66 177.16 58.53 176.38C63.40 175.61 68.07 175.90 72.55 176.97C77.03 178.04 81.90 180.08 85.40 182.81C88.91 185.54 91.73 189.63 93.58 193.32C95.43 197.02 96.34 201.60 96.50 205.01C96.66 208.42 95.88 211.34 94.51 213.77C93.15 216.20 90.43 217.61 88.32 219.61C86.22 221.62 84.29 224.25 81.90 225.80C79.50 227.36 76.39 228.76 73.95 228.96C71.52 229.15 69.57 226.33 67.29 226.97C65.02 227.61 63.07 231.61 60.28 232.81C57.50 234.02 53.27 234.72 50.59 234.22C47.90 233.71 45.41 231.68 44.16 229.78C42.92 227.87 44.22 224.32 43.11 222.77C42.00 221.21 40.00 221.05 37.50 220.43C35.01 219.81 30.49 219.85 28.16 219.03C25.82 218.21 24.36 216.89 23.48 215.52C22.61 214.16 22.71 213.19 22.90 210.85Z" fill="#d2d2d2" opacity="0.6" filter="url(#bl1)"/>
<path d="M22.90 210.85C23.09 208.51 23.19 205.01 24.65 201.50C26.11 198.00 28.55 193.13 31.66 189.82C34.78 186.51 38.87 183.88 43.34 181.64C47.82 179.40 53.66 177.16 58.53 176.38C63.40 175.61 68.07 175.90 72.55 176.97C77.03 178.04 81.90 180.08 85.40 182.81C88.91 185.54 91.73 189.63 93.58 193.32C95.43 197.02 96.34 201.60 96.50 205.01C96.66 208.42 95.88 211.34 94.51 213.77C93.15 216.20 90.43 217.61 88.32 219.61C86.22 221.62 84.29 224.25 81.90 225.80C79.50 227.36 76.39 228.76 73.95 228.96C71.52 229.15 69.57 226.33 67.29 226.97C65.02 227.61 63.07 231.61 60.28 232.81C57.50 234.02 53.27 234.72 50.59 234.22C47.90 233.71 45.41 231.68 44.16 229.78C42.92 227.87 44.22 224.32 43.11 222.77C42.00 221.21 40.00 221.05 37.50 220.43C35.01 219.81 30.49 219.85 28.16 219.03C25.82 218.21 24.36 216.89 23.48 215.52C22.61 214.16 22.71 213.19 22.90 210.85Z" fill="url(#gb)" opacity="0.95"/>
<g clip-path="url(#cp1)">
<path d="M22.90 210.85C23.09 208.51 23.19 205.01 24.65 201.50C26.11 198.00 28.55 193.13 31.66 189.82C34.78 186.51 38.87 183.88 43.34 181.64C47.82 179.40 53.66 177.16 58.53 176.38C63.40 175.61 68.07 175.90 72.55 176.97C77.03 178.04 81.90 180.08 85.40 182.81C88.91 185.54 91.73 189.63 93.58 193.32C95.43 197.02 96.34 201.60 96.50 205.01C96.66 208.42 95.88 211.34 94.51 213.77C93.15 216.20 90.43 217.61 88.32 219.61C86.22 221.62 84.29 224.25 81.90 225.80C79.50 227.36 76.39 228.76 73.95 228.96C71.52 229.15 69.57 226.33 67.29 226.97C65.02 227.61 63.07 231.61 60.28 232.81C57.50 234.02 53.27 234.72 50.59 234.22C47.90 233.71 45.41 231.68 44.16 229.78C42.92 227.87 44.22 224.32 43.11 222.77C42.00 221.21 40.00 221.05 37.50 220.43C35.01 219.81 30.49 219.85 28.16 219.03C25.82 218.21 24.36 216.89 23.48 215.52C22.61 214.16 22.71 213.19 22.90 210.85Z" fill="#ffffff" filter="url(#bump)" opacity="0.43" style="mix-blend-mode:multiply"/>
<path d="M22.90 210.85C23.09 208.51 23.19 205.01 24.65 201.50C26.11 198.00 28.55 193.13 31.66 189.82C34.78 186.51 38.87 183.88 43.34 181.64C47.82 179.40 53.66 177.16 58.53 176.38C63.40 175.61 68.07 175.90 72.55 176.97C77.03 178.04 81.90 180.08 85.40 182.81C88.91 185.54 91.73 189.63 93.58 193.32C95.43 197.02 96.34 201.60 96.50 205.01C96.66 208.42 95.88 211.34 94.51 213.77C93.15 216.20 90.43 217.61 88.32 219.61C86.22 221.62 84.29 224.25 81.90 225.80C79.50 227.36 76.39 228.76 73.95 228.96C71.52 229.15 69.57 226.33 67.29 226.97C65.02 227.61 63.07 231.61 60.28 232.81C57.50 234.02 53.27 234.72 50.59 234.22C47.90 233.71 45.41 231.68 44.16 229.78C42.92 227.87 44.22 224.32 43.11 222.77C42.00 221.21 40.00 221.05 37.50 220.43C35.01 219.81 30.49 219.85 28.16 219.03C25.82 218.21 24.36 216.89 23.48 215.52C22.61 214.16 22.71 213.19 22.90 210.85Z" fill="none" stroke="#bcbcbc" stroke-width="3.0" opacity="0.55" filter="url(#bl2)"/>
<path d="M45.0 223.0C56.0 218.3 68.5 223.0 74.4 228.9" fill="none" stroke="#bcbcbc" stroke-width="1.2" opacity="0.6" filter="url(#bl1)"/>
</g>
<path d="M22.90 210.85C23.09 208.51 23.19 205.01 24.65 201.50C26.11 198.00 28.55 193.13 31.66 189.82C34.78 186.51 38.87 183.88 43.34 181.64C47.82 179.40 53.66 177.16 58.53 176.38C63.40 175.61 68.07 175.90 72.55 176.97C77.03 178.04 81.90 180.08 85.40 182.81C88.91 185.54 91.73 189.63 93.58 193.32C95.43 197.02 96.34 201.60 96.50 205.01C96.66 208.42 95.88 211.34 94.51 213.77C93.15 216.20 90.43 217.61 88.32 219.61C86.22 221.62 84.29 224.25 81.90 225.80C79.50 227.36 76.39 228.76 73.95 228.96C71.52 229.15 69.57 226.33 67.29 226.97C65.02 227.61 63.07 231.61 60.28 232.81C57.50 234.02 53.27 234.72 50.59 234.22C47.90 233.71 45.41 231.68 44.16 229.78C42.92 227.87 44.22 224.32 43.11 222.77C42.00 221.21 40.00 221.05 37.50 220.43C35.01 219.81 30.49 219.85 28.16 219.03C25.82 218.21 24.36 216.89 23.48 215.52C22.61 214.16 22.71 213.19 22.90 210.85Z" fill="none" stroke="#c0c0c0" stroke-width="0.5" opacity="0.7"/>
<g stroke="#cfa436" stroke-linecap="round" opacity="0.92"><line x1="31.1" y1="213.0" x2="73.6" y2="192.5" stroke-width="1.53"/><line x1="34.2" y1="216.9" x2="70.2" y2="216.1" stroke-width="1.27"/><line x1="42.0" y1="192.0" x2="31.1" y2="213.0" stroke-width="0.49"/><line x1="42.0" y1="192.0" x2="36.7" y2="202.9" stroke-width="0.49"/><line x1="33.8" y1="213.8" x2="76.1" y2="200.4" stroke-width="0.62"/><line x1="44.2" y1="212.9" x2="73.5" y2="206.8" stroke-width="0.62"/><line x1="57.4" y1="213.2" x2="70.2" y2="216.1" stroke-width="1.27"/><line x1="31.1" y1="213.0" x2="56.6" y2="207.4" stroke-width="0.62"/><line x1="33.8" y1="213.8" x2="63.3" y2="206.2" stroke-width="0.49"/><line x1="51.3" y1="210.6" x2="62.6" y2="220.2" stroke-width="0.49"/><line x1="36.7" y1="202.9" x2="33.8" y2="213.8" stroke-width="0.49"/><line x1="42.0" y1="192.0" x2="51.3" y2="200.4" stroke-width="0.49"/></g>
<circle cx="29.3" cy="210.9" r="0.67" fill="url(#ny)"/>
<circle cx="41.0" cy="200.6" r="0.67" fill="url(#nk)"/>
<circle cx="42.2" cy="198.6" r="0.81" fill="url(#ny)"/>
<circle cx="33.7" cy="194.8" r="0.81" fill="url(#nr)"/>
<circle cx="63.9" cy="210.5" r="0.94" fill="url(#nm)"/>
<circle cx="70.0" cy="212.3" r="1.21" fill="url(#nr)"/>
<circle cx="68.8" cy="220.2" r="1.21" fill="url(#nr)"/>
<circle cx="49.4" cy="213.8" r="1.21" fill="url(#np)"/>
<circle cx="74.7" cy="213.2" r="1.21" fill="url(#nb)"/>
<circle cx="36.7" cy="202.9" r="1.34" fill="url(#ny)"/>
<circle cx="33.8" cy="213.8" r="1.34" fill="url(#ny)"/>
<circle cx="80.4" cy="196.4" r="1.34" fill="url(#nr)"/>
<circle cx="77.2" cy="205.6" r="1.34" fill="url(#nr)"/>
<circle cx="42.0" cy="192.0" r="1.48" fill="url(#ny)"/>
<circle cx="73.5" cy="206.8" r="1.48" fill="url(#nr)"/>
<circle cx="62.6" cy="220.2" r="1.48" fill="url(#nr)"/>
<circle cx="63.3" cy="206.2" r="1.48" fill="url(#nm)"/>
<circle cx="31.1" cy="213.0" r="1.61" fill="url(#nr)"/>
<circle cx="76.1" cy="200.4" r="1.61" fill="url(#nr)"/>
<circle cx="75.5" cy="205.0" r="1.61" fill="url(#nr)"/>
<circle cx="73.6" cy="192.5" r="1.75" fill="url(#ny)"/>
<circle cx="34.2" cy="216.9" r="1.75" fill="url(#nr)"/>
<circle cx="70.2" cy="216.1" r="1.75" fill="url(#nr)"/>
<circle cx="56.6" cy="207.4" r="1.75" fill="url(#nm)"/>
<circle cx="44.2" cy="212.9" r="1.88" fill="url(#nk)"/>
<circle cx="78.7" cy="202.9" r="2.01" fill="url(#nr)"/>
<circle cx="51.3" cy="210.6" r="2.42" fill="url(#npl)" opacity="0.85"/>
<clipPath id="cp2"><path d="M96.50 277.69C96.31 275.36 96.21 271.86 94.75 268.36C93.29 264.86 90.85 260.00 87.74 256.70C84.62 253.39 80.53 250.77 76.06 248.53C71.58 246.30 65.74 244.06 60.87 243.28C56.00 242.51 51.33 242.80 46.85 243.87C42.37 244.94 37.50 246.98 34.00 249.70C30.49 252.42 27.67 256.50 25.82 260.20C23.97 263.89 23.06 268.46 22.90 271.86C22.74 275.26 23.52 278.18 24.89 280.61C26.25 283.04 28.97 284.44 31.08 286.44C33.18 288.44 35.11 291.06 37.50 292.62C39.90 294.17 43.01 295.57 45.45 295.77C47.88 295.96 49.83 293.14 52.11 293.79C54.38 294.43 56.33 298.41 59.12 299.62C61.90 300.82 66.13 301.52 68.81 301.02C71.50 300.51 73.99 298.49 75.24 296.58C76.48 294.68 75.18 291.14 76.29 289.59C77.40 288.03 79.40 287.88 81.90 287.25C84.39 286.63 88.91 286.67 91.24 285.85C93.58 285.04 95.04 283.72 95.92 282.36C96.79 280.99 96.69 280.02 96.50 277.69Z"/></clipPath>
<path d="M96.50 277.69C96.31 275.36 96.21 271.86 94.75 268.36C93.29 264.86 90.85 260.00 87.74 256.70C84.62 253.39 80.53 250.77 76.06 248.53C71.58 246.30 65.74 244.06 60.87 243.28C56.00 242.51 51.33 242.80 46.85 243.87C42.37 244.94 37.50 246.98 34.00 249.70C30.49 252.42 27.67 256.50 25.82 260.20C23.97 263.89 23.06 268.46 22.90 271.86C22.74 275.26 23.52 278.18 24.89 280.61C26.25 283.04 28.97 284.44 31.08 286.44C33.18 288.44 35.11 291.06 37.50 292.62C39.90 294.17 43.01 295.57 45.45 295.77C47.88 295.96 49.83 293.14 52.11 293.79C54.38 294.43 56.33 298.41 59.12 299.62C61.90 300.82 66.13 301.52 68.81 301.02C71.50 300.51 73.99 298.49 75.24 296.58C76.48 294.68 75.18 291.14 76.29 289.59C77.40 288.03 79.40 287.88 81.90 287.25C84.39 286.63 88.91 286.67 91.24 285.85C93.58 285.04 95.04 283.72 95.92 282.36C96.79 280.99 96.69 280.02 96.50 277.69Z" fill="#d2d2d2" opacity="0.6" filter="url(#bl1)"/>
<path d="M96.50 277.69C96.31 275.36 96.21 271.86 94.75 268.36C93.29 264.86 90.85 260.00 87.74 256.70C84.62 253.39 80.53 250.77 76.06 248.53C71.58 246.30 65.74 244.06 60.87 243.28C56.00 242.51 51.33 242.80 46.85 243.87C42.37 244.94 37.50 246.98 34.00 249.70C30.49 252.42 27.67 256.50 25.82 260.20C23.97 263.89 23.06 268.46 22.90 271.86C22.74 275.26 23.52 278.18 24.89 280.61C26.25 283.04 28.97 284.44 31.08 286.44C33.18 288.44 35.11 291.06 37.50 292.62C39.90 294.17 43.01 295.57 45.45 295.77C47.88 295.96 49.83 293.14 52.11 293.79C54.38 294.43 56.33 298.41 59.12 299.62C61.90 300.82 66.13 301.52 68.81 301.02C71.50 300.51 73.99 298.49 75.24 296.58C76.48 294.68 75.18 291.14 76.29 289.59C77.40 288.03 79.40 287.88 81.90 287.25C84.39 286.63 88.91 286.67 91.24 285.85C93.58 285.04 95.04 283.72 95.92 282.36C96.79 280.99 96.69 280.02 96.50 277.69Z" fill="url(#gb)" opacity="0.95"/>
<g clip-path="url(#cp2)">
<path d="M96.50 277.69C96.31 275.36 96.21 271.86 94.75 268.36C93.29 264.86 90.85 260.00 87.74 256.70C84.62 253.39 80.53 250.77 76.06 248.53C71.58 246.30 65.74 244.06 60.87 243.28C56.00 242.51 51.33 242.80 46.85 243.87C42.37 244.94 37.50 246.98 34.00 249.70C30.49 252.42 27.67 256.50 25.82 260.20C23.97 263.89 23.06 268.46 22.90 271.86C22.74 275.26 23.52 278.18 24.89 280.61C26.25 283.04 28.97 284.44 31.08 286.44C33.18 288.44 35.11 291.06 37.50 292.62C39.90 294.17 43.01 295.57 45.45 295.77C47.88 295.96 49.83 293.14 52.11 293.79C54.38 294.43 56.33 298.41 59.12 299.62C61.90 300.82 66.13 301.52 68.81 301.02C71.50 300.51 73.99 298.49 75.24 296.58C76.48 294.68 75.18 291.14 76.29 289.59C77.40 288.03 79.40 287.88 81.90 287.25C84.39 286.63 88.91 286.67 91.24 285.85C93.58 285.04 95.04 283.72 95.92 282.36C96.79 280.99 96.69 280.02 96.50 277.69Z" fill="#ffffff" filter="url(#bump)" opacity="0.43" style="mix-blend-mode:multiply"/>
<path d="M96.50 277.69C96.31 275.36 96.21 271.86 94.75 268.36C93.29 264.86 90.85 260.00 87.74 256.70C84.62 253.39 80.53 250.77 76.06 248.53C71.58 246.30 65.74 244.06 60.87 243.28C56.00 242.51 51.33 242.80 46.85 243.87C42.37 244.94 37.50 246.98 34.00 249.70C30.49 252.42 27.67 256.50 25.82 260.20C23.97 263.89 23.06 268.46 22.90 271.86C22.74 275.26 23.52 278.18 24.89 280.61C26.25 283.04 28.97 284.44 31.08 286.44C33.18 288.44 35.11 291.06 37.50 292.62C39.90 294.17 43.01 295.57 45.45 295.77C47.88 295.96 49.83 293.14 52.11 293.79C54.38 294.43 56.33 298.41 59.12 299.62C61.90 300.82 66.13 301.52 68.81 301.02C71.50 300.51 73.99 298.49 75.24 296.58C76.48 294.68 75.18 291.14 76.29 289.59C77.40 288.03 79.40 287.88 81.90 287.25C84.39 286.63 88.91 286.67 91.24 285.85C93.58 285.04 95.04 283.72 95.92 282.36C96.79 280.99 96.69 280.02 96.50 277.69Z" fill="none" stroke="#bcbcbc" stroke-width="3.0" opacity="0.55" filter="url(#bl2)"/>
<path d="M74.4 289.8C63.4 285.1 50.9 289.8 45.0 295.7" fill="none" stroke="#bcbcbc" stroke-width="1.2" opacity="0.6" filter="url(#bl1)"/>
</g>
<path d="M96.50 277.69C96.31 275.36 96.21 271.86 94.75 268.36C93.29 264.86 90.85 260.00 87.74 256.70C84.62 253.39 80.53 250.77 76.06 248.53C71.58 246.30 65.74 244.06 60.87 243.28C56.00 242.51 51.33 242.80 46.85 243.87C42.37 244.94 37.50 246.98 34.00 249.70C30.49 252.42 27.67 256.50 25.82 260.20C23.97 263.89 23.06 268.46 22.90 271.86C22.74 275.26 23.52 278.18 24.89 280.61C26.25 283.04 28.97 284.44 31.08 286.44C33.18 288.44 35.11 291.06 37.50 292.62C39.90 294.17 43.01 295.57 45.45 295.77C47.88 295.96 49.83 293.14 52.11 293.79C54.38 294.43 56.33 298.41 59.12 299.62C61.90 300.82 66.13 301.52 68.81 301.02C71.50 300.51 73.99 298.49 75.24 296.58C76.48 294.68 75.18 291.14 76.29 289.59C77.40 288.03 79.40 287.88 81.90 287.25C84.39 286.63 88.91 286.67 91.24 285.85C93.58 285.04 95.04 283.72 95.92 282.36C96.79 280.99 96.69 280.02 96.50 277.69Z" fill="none" stroke="#c0c0c0" stroke-width="0.5" opacity="0.7"/>
<g stroke="#cfa436" stroke-linecap="round" opacity="0.92"><line x1="45.5" y1="259.4" x2="87.7" y2="279.8" stroke-width="1.53"/><line x1="49.2" y1="282.6" x2="84.8" y2="283.5" stroke-width="1.40"/><line x1="52.7" y1="281.8" x2="67.6" y2="277.1" stroke-width="1.27"/><line x1="77.2" y1="259.0" x2="87.7" y2="279.8" stroke-width="0.49"/><line x1="77.2" y1="259.0" x2="82.5" y2="269.3" stroke-width="0.49"/><line x1="43.0" y1="266.6" x2="84.8" y2="283.5" stroke-width="0.49"/><line x1="82.5" y1="269.3" x2="87.7" y2="279.8" stroke-width="0.49"/><line x1="77.2" y1="259.0" x2="66.7" y2="268.4" stroke-width="0.43"/><line x1="56.4" y1="286.8" x2="67.6" y2="277.1" stroke-width="0.49"/><line x1="45.7" y1="273.0" x2="74.7" y2="279.5" stroke-width="0.49"/><line x1="62.6" y1="273.6" x2="84.8" y2="283.5" stroke-width="0.49"/></g>
<circle cx="89.7" cy="277.7" r="0.67" fill="url(#ny)"/>
<circle cx="85.4" cy="261.4" r="0.67" fill="url(#nr)"/>
<circle cx="76.9" cy="265.8" r="0.81" fill="url(#ny)"/>
<circle cx="55.0" cy="277.1" r="0.81" fill="url(#nm)"/>
<circle cx="85.4" cy="281.2" r="1.07" fill="url(#ny)"/>
<circle cx="56.4" cy="286.8" r="1.07" fill="url(#nr)"/>
<circle cx="78.4" cy="267.2" r="1.07" fill="url(#nk)"/>
<circle cx="82.5" cy="269.3" r="1.21" fill="url(#ny)"/>
<circle cx="50.1" cy="287.1" r="1.21" fill="url(#nr)"/>
<circle cx="44.3" cy="280.0" r="1.21" fill="url(#nb)"/>
<circle cx="38.7" cy="262.9" r="1.34" fill="url(#nr)"/>
<circle cx="49.4" cy="278.9" r="1.34" fill="url(#nr)"/>
<circle cx="55.6" cy="272.8" r="1.34" fill="url(#nm)"/>
<circle cx="69.6" cy="280.0" r="1.34" fill="url(#np)"/>
<circle cx="45.5" cy="259.4" r="1.61" fill="url(#ny)"/>
<circle cx="43.0" cy="266.6" r="1.61" fill="url(#nr)"/>
<circle cx="45.7" cy="273.0" r="1.61" fill="url(#nr)"/>
<circle cx="77.2" cy="259.0" r="1.75" fill="url(#ny)"/>
<circle cx="40.4" cy="269.5" r="1.75" fill="url(#nr)"/>
<circle cx="87.7" cy="279.8" r="1.75" fill="url(#nr)"/>
<circle cx="84.8" cy="283.5" r="1.75" fill="url(#nr)"/>
<circle cx="62.6" cy="273.6" r="1.75" fill="url(#nm)"/>
<circle cx="74.7" cy="279.5" r="1.75" fill="url(#nk)"/>
<circle cx="42.8" cy="271.9" r="2.01" fill="url(#nr)"/>
<circle cx="49.2" cy="282.6" r="2.28" fill="url(#nr)"/>
<circle cx="67.6" cy="277.1" r="2.55" fill="url(#npl)" opacity="0.85"/>
<clipPath id="cp3"><path d="M139.25 159.97C137.15 159.97 135.52 158.18 132.94 158.80C130.35 159.42 126.43 160.94 123.75 163.71C121.07 166.47 118.59 171.11 116.87 175.39C115.14 179.68 114.28 184.74 113.42 189.41C112.56 194.09 111.70 198.76 111.70 203.43C111.70 208.11 112.18 213.17 113.42 217.45C114.67 221.74 116.67 226.02 119.16 229.14C121.65 232.25 125.38 234.69 128.34 236.15C131.31 237.61 135.14 237.86 136.95 237.90C138.77 237.94 138.48 236.38 139.25 236.38C140.02 236.38 139.73 237.94 141.55 237.90C143.36 237.86 147.19 237.61 150.16 236.15C153.12 234.69 156.85 232.25 159.34 229.14C161.83 226.02 163.83 221.74 165.08 217.45C166.32 213.17 166.80 208.11 166.80 203.43C166.80 198.76 165.94 194.09 165.08 189.41C164.22 184.74 163.36 179.68 161.63 175.39C159.91 171.11 157.43 166.47 154.75 163.71C152.07 160.94 148.15 159.42 145.56 158.80C142.98 158.18 141.35 159.97 139.25 159.97Z"/></clipPath>
<path d="M139.25 159.97C137.15 159.97 135.52 158.18 132.94 158.80C130.35 159.42 126.43 160.94 123.75 163.71C121.07 166.47 118.59 171.11 116.87 175.39C115.14 179.68 114.28 184.74 113.42 189.41C112.56 194.09 111.70 198.76 111.70 203.43C111.70 208.11 112.18 213.17 113.42 217.45C114.67 221.74 116.67 226.02 119.16 229.14C121.65 232.25 125.38 234.69 128.34 236.15C131.31 237.61 135.14 237.86 136.95 237.90C138.77 237.94 138.48 236.38 139.25 236.38C140.02 236.38 139.73 237.94 141.55 237.90C143.36 237.86 147.19 237.61 150.16 236.15C153.12 234.69 156.85 232.25 159.34 229.14C161.83 226.02 163.83 221.74 165.08 217.45C166.32 213.17 166.80 208.11 166.80 203.43C166.80 198.76 165.94 194.09 165.08 189.41C164.22 184.74 163.36 179.68 161.63 175.39C159.91 171.11 157.43 166.47 154.75 163.71C152.07 160.94 148.15 159.42 145.56 158.80C142.98 158.18 141.35 159.97 139.25 159.97Z" fill="#d2d2d2" opacity="0.6" filter="url(#bl1)"/>
<path d="M139.25 159.97C137.15 159.97 135.52 158.18 132.94 158.80C130.35 159.42 126.43 160.94 123.75 163.71C121.07 166.47 118.59 171.11 116.87 175.39C115.14 179.68 114.28 184.74 113.42 189.41C112.56 194.09 111.70 198.76 111.70 203.43C111.70 208.11 112.18 213.17 113.42 217.45C114.67 221.74 116.67 226.02 119.16 229.14C121.65 232.25 125.38 234.69 128.34 236.15C131.31 237.61 135.14 237.86 136.95 237.90C138.77 237.94 138.48 236.38 139.25 236.38C140.02 236.38 139.73 237.94 141.55 237.90C143.36 237.86 147.19 237.61 150.16 236.15C153.12 234.69 156.85 232.25 159.34 229.14C161.83 226.02 163.83 221.74 165.08 217.45C166.32 213.17 166.80 208.11 166.80 203.43C166.80 198.76 165.94 194.09 165.08 189.41C164.22 184.74 163.36 179.68 161.63 175.39C159.91 171.11 157.43 166.47 154.75 163.71C152.07 160.94 148.15 159.42 145.56 158.80C142.98 158.18 141.35 159.97 139.25 159.97Z" fill="url(#gb)" opacity="0.95"/>
<g clip-path="url(#cp3)">
<path d="M139.25 159.97C137.15 159.97 135.52 158.18 132.94 158.80C130.35 159.42 126.43 160.94 123.75 163.71C121.07 166.47 118.59 171.11 116.87 175.39C115.14 179.68 114.28 184.74 113.42 189.41C112.56 194.09 111.70 198.76 111.70 203.43C111.70 208.11 112.18 213.17 113.42 217.45C114.67 221.74 116.67 226.02 119.16 229.14C121.65 232.25 125.38 234.69 128.34 236.15C131.31 237.61 135.14 237.86 136.95 237.90C138.77 237.94 138.48 236.38 139.25 236.38C140.02 236.38 139.73 237.94 141.55 237.90C143.36 237.86 147.19 237.61 150.16 236.15C153.12 234.69 156.85 232.25 159.34 229.14C161.83 226.02 163.83 221.74 165.08 217.45C166.32 213.17 166.80 208.11 166.80 203.43C166.80 198.76 165.94 194.09 165.08 189.41C164.22 184.74 163.36 179.68 161.63 175.39C159.91 171.11 157.43 166.47 154.75 163.71C152.07 160.94 148.15 159.42 145.56 158.80C142.98 158.18 141.35 159.97 139.25 159.97Z" fill="#ffffff" filter="url(#bump)" opacity="0.43" style="mix-blend-mode:multiply"/>
<path d="M139.25 159.97C137.15 159.97 135.52 158.18 132.94 158.80C130.35 159.42 126.43 160.94 123.75 163.71C121.07 166.47 118.59 171.11 116.87 175.39C115.14 179.68 114.28 184.74 113.42 189.41C112.56 194.09 111.70 198.76 111.70 203.43C111.70 208.11 112.18 213.17 113.42 217.45C114.67 221.74 116.67 226.02 119.16 229.14C121.65 232.25 125.38 234.69 128.34 236.15C131.31 237.61 135.14 237.86 136.95 237.90C138.77 237.94 138.48 236.38 139.25 236.38C140.02 236.38 139.73 237.94 141.55 237.90C143.36 237.86 147.19 237.61 150.16 236.15C153.12 234.69 156.85 232.25 159.34 229.14C161.83 226.02 163.83 221.74 165.08 217.45C166.32 213.17 166.80 208.11 166.80 203.43C166.80 198.76 165.94 194.09 165.08 189.41C164.22 184.74 163.36 179.68 161.63 175.39C159.91 171.11 157.43 166.47 154.75 163.71C152.07 160.94 148.15 159.42 145.56 158.80C142.98 158.18 141.35 159.97 139.25 159.97Z" fill="none" stroke="#bcbcbc" stroke-width="3.0" opacity="0.55" filter="url(#bl2)"/>
<line x1="139.2" y1="158.8" x2="139.2" y2="237.9" stroke="#b4b4b4" stroke-width="1.0" opacity="0.8" filter="url(#bl1)"/>
<line x1="140.2" y1="158.8" x2="140.2" y2="237.9" stroke="#f8f8f8" stroke-width="0.6" opacity="0.9"/>
</g>
<path d="M139.25 159.97C137.15 159.97 135.52 158.18 132.94 158.80C130.35 159.42 126.43 160.94 123.75 163.71C121.07 166.47 118.59 171.11 116.87 175.39C115.14 179.68 114.28 184.74 113.42 189.41C112.56 194.09 111.70 198.76 111.70 203.43C111.70 208.11 112.18 213.17 113.42 217.45C114.67 221.74 116.67 226.02 119.16 229.14C121.65 232.25 125.38 234.69 128.34 236.15C131.31 237.61 135.14 237.86 136.95 237.90C138.77 237.94 138.48 236.38 139.25 236.38C140.02 236.38 139.73 237.94 141.55 237.90C143.36 237.86 147.19 237.61 150.16 236.15C153.12 234.69 156.85 232.25 159.34 229.14C161.83 226.02 163.83 221.74 165.08 217.45C166.32 213.17 166.80 208.11 166.80 203.43C166.80 198.76 165.94 194.09 165.08 189.41C164.22 184.74 163.36 179.68 161.63 175.39C159.91 171.11 157.43 166.47 154.75 163.71C152.07 160.94 148.15 159.42 145.56 158.80C142.98 158.18 141.35 159.97 139.25 159.97Z" fill="none" stroke="#c0c0c0" stroke-width="0.5" opacity="0.7"/>
<g stroke="#cfa436" stroke-linecap="round" opacity="0.92"><line x1="141.2" y1="171.7" x2="133.3" y2="216.2" stroke-width="0.75"/><line x1="141.2" y1="171.7" x2="120.6" y2="174.1" stroke-width="0.49"/><line x1="140.2" y1="223.7" x2="133.3" y2="216.2" stroke-width="0.49"/><line x1="140.2" y1="223.7" x2="141.2" y2="171.7" stroke-width="0.49"/><line x1="142.5" y1="215.1" x2="124.1" y2="208.1" stroke-width="0.75"/><line x1="123.5" y1="189.3" x2="160.8" y2="193.4" stroke-width="0.49"/><line x1="133.3" y1="216.2" x2="153.7" y2="176.4" stroke-width="0.49"/><line x1="133.3" y1="216.2" x2="123.5" y2="182.1" stroke-width="0.88"/><line x1="136.8" y1="179.3" x2="124.1" y2="208.1" stroke-width="0.49"/><line x1="140.2" y1="223.7" x2="115.2" y2="195.2" stroke-width="0.49"/><line x1="119.2" y1="218.9" x2="153.5" y2="171.7" stroke-width="0.62"/><line x1="123.5" y1="189.3" x2="119.2" y2="218.9" stroke-width="0.75"/><line x1="140.2" y1="223.7" x2="152.9" y2="190.8" stroke-width="0.75"/><line x1="124.1" y1="208.1" x2="123.5" y2="182.1" stroke-width="0.49"/><line x1="123.5" y1="189.3" x2="116.6" y2="187.9" stroke-width="0.49"/><line x1="160.8" y1="193.4" x2="153.7" y2="176.4" stroke-width="0.88"/><line x1="140.2" y1="223.7" x2="112.9" y2="202.4" stroke-width="0.62"/><line x1="124.1" y1="208.1" x2="120.4" y2="170.6" stroke-width="0.62"/><line x1="115.2" y1="195.2" x2="161.8" y2="198.3" stroke-width="0.88"/><line x1="150.4" y1="176.4" x2="146.9" y2="173.5" stroke-width="0.49"/><line x1="142.5" y1="215.1" x2="123.5" y2="182.1" stroke-width="0.49"/><line x1="150.4" y1="176.4" x2="140.2" y2="223.7" stroke-width="0.62"/><line x1="150.1" y1="198.3" x2="136.8" y2="179.3" stroke-width="0.49"/><line x1="160.8" y1="193.4" x2="157.8" y2="187.3" stroke-width="0.75"/><line x1="115.2" y1="195.2" x2="126.9" y2="208.7" stroke-width="0.49"/><line x1="140.2" y1="223.7" x2="120.4" y2="170.6" stroke-width="0.49"/><line x1="123.5" y1="189.3" x2="126.9" y2="208.7" stroke-width="0.49"/><line x1="133.3" y1="216.2" x2="161.8" y2="198.3" stroke-width="0.88"/><line x1="160.8" y1="193.4" x2="161.8" y2="198.3" stroke-width="0.75"/><line x1="141.2" y1="171.7" x2="155.6" y2="224.0" stroke-width="0.49"/><line x1="140.2" y1="223.7" x2="161.8" y2="198.3" stroke-width="0.75"/><line x1="133.3" y1="216.2" x2="134.8" y2="167.9" stroke-width="0.62"/><line x1="133.3" y1="216.2" x2="123.5" y2="182.1" stroke-width="0.49"/><line x1="133.3" y1="216.2" x2="160.8" y2="193.4" stroke-width="0.62"/><line x1="141.2" y1="171.7" x2="120.6" y2="174.1" stroke-width="0.49"/><line x1="161.8" y1="198.3" x2="141.2" y2="171.7" stroke-width="0.88"/><line x1="142.5" y1="215.1" x2="136.8" y2="179.3" stroke-width="0.62"/><line x1="115.2" y1="195.2" x2="157.8" y2="187.3" stroke-width="0.88"/><line x1="152.9" y1="190.8" x2="126.9" y2="208.7" stroke-width="0.88"/><line x1="142.5" y1="215.1" x2="136.8" y2="179.3" stroke-width="0.88"/><line x1="140.2" y1="223.7" x2="119.2" y2="218.9" stroke-width="0.75"/><line x1="160.8" y1="193.4" x2="120.4" y2="170.6" stroke-width="0.88"/><line x1="124.1" y1="208.1" x2="136.8" y2="179.3" stroke-width="0.62"/><line x1="160.8" y1="193.4" x2="133.3" y2="216.2" stroke-width="0.49"/><line x1="140.2" y1="223.7" x2="120.4" y2="170.6" stroke-width="0.75"/><line x1="123.5" y1="189.3" x2="152.9" y2="181.3" stroke-width="0.62"/><line x1="140.2" y1="223.7" x2="150.4" y2="176.4" stroke-width="0.88"/><line x1="140.2" y1="223.7" x2="133.3" y2="216.2" stroke-width="0.62"/><line x1="119.2" y1="218.9" x2="141.2" y2="171.7" stroke-width="0.49"/><line x1="160.8" y1="193.4" x2="150.6" y2="166.0" stroke-width="0.88"/><line x1="140.2" y1="223.7" x2="123.5" y2="182.1" stroke-width="0.49"/><line x1="133.3" y1="216.2" x2="152.9" y2="181.3" stroke-width="0.49"/><line x1="160.8" y1="193.4" x2="123.5" y2="182.1" stroke-width="0.62"/><line x1="123.5" y1="182.1" x2="120.4" y2="170.6" stroke-width="0.49"/><line x1="123.5" y1="189.3" x2="150.1" y2="198.3" stroke-width="0.88"/><line x1="150.1" y1="198.3" x2="116.6" y2="187.9" stroke-width="0.75"/><line x1="150.6" y1="166.0" x2="109.6" y2="201.6" stroke-width="0.49"/><line x1="141.2" y1="171.7" x2="116.6" y2="187.9" stroke-width="0.49"/><line x1="133.3" y1="216.2" x2="119.2" y2="218.9" stroke-width="0.49"/><line x1="150.6" y1="166.0" x2="152.9" y2="181.3" stroke-width="0.62"/><line x1="150.4" y1="176.4" x2="150.1" y2="198.3" stroke-width="0.49"/><line x1="152.9" y1="181.3" x2="150.1" y2="198.3" stroke-width="0.49"/><line x1="123.5" y1="189.3" x2="155.6" y2="224.0" stroke-width="0.88"/><line x1="155.6" y1="224.0" x2="120.4" y2="170.6" stroke-width="0.88"/><line x1="134.8" y1="167.9" x2="123.5" y2="182.1" stroke-width="0.88"/><line x1="160.8" y1="193.4" x2="109.6" y2="201.6" stroke-width="0.75"/><line x1="160.8" y1="193.4" x2="150.4" y2="176.4" stroke-width="0.75"/><line x1="123.5" y1="189.3" x2="115.2" y2="195.2" stroke-width="0.49"/><line x1="141.2" y1="171.7" x2="119.2" y2="218.9" stroke-width="0.88"/><line x1="141.2" y1="171.7" x2="133.3" y2="216.2" stroke-width="1.27"/><line x1="141.2" y1="171.7" x2="160.8" y2="193.4" stroke-width="1.14"/><line x1="120.6" y1="174.1" x2="160.8" y2="193.4" stroke-width="1.01"/><line x1="123.5" y1="189.3" x2="142.5" y2="215.1" stroke-width="1.14"/><line x1="134.8" y1="167.9" x2="126.9" y2="208.7" stroke-width="1.14"/><line x1="153.5" y1="171.7" x2="142.5" y2="215.1" stroke-width="1.01"/><line x1="141.2" y1="171.7" x2="119.2" y2="218.9" stroke-width="0.88"/><line x1="136.8" y1="179.3" x2="161.8" y2="198.3" stroke-width="1.14"/></g>
<circle cx="129.5" cy="171.2" r="0.66" fill="url(#nr)"/>
<circle cx="123.5" cy="166.6" r="0.66" fill="url(#ny)"/>
<circle cx="152.9" cy="195.7" r="0.66" fill="url(#nc)"/>
<circle cx="156.6" cy="218.0" r="0.66" fill="url(#ng)"/>
<circle cx="157.6" cy="179.8" r="0.80" fill="url(#ny)"/>
<circle cx="139.7" cy="181.0" r="0.80" fill="url(#nk)"/>
<circle cx="160.4" cy="211.6" r="0.80" fill="url(#nk)"/>
<circle cx="164.8" cy="195.1" r="0.80" fill="url(#nc)"/>
<circle cx="109.6" cy="209.3" r="0.80" fill="url(#nr)"/>
<circle cx="151.2" cy="202.9" r="0.93" fill="url(#nm)"/>
<circle cx="131.0" cy="214.8" r="0.93" fill="url(#nb)"/>
<circle cx="150.6" cy="166.0" r="1.06" fill="url(#nk)"/>
<circle cx="116.6" cy="187.9" r="1.06" fill="url(#npl)" opacity="0.85"/>
<circle cx="152.9" cy="190.8" r="1.06" fill="url(#np)"/>
<circle cx="120.4" cy="170.6" r="1.20" fill="url(#ny)"/>
<circle cx="146.9" cy="173.5" r="1.33" fill="url(#nr)"/>
<circle cx="153.7" cy="176.4" r="1.33" fill="url(#nk)"/>
<circle cx="152.9" cy="181.3" r="1.33" fill="url(#nk)"/>
<circle cx="112.9" cy="202.4" r="1.33" fill="url(#nm)"/>
<circle cx="124.1" cy="208.1" r="1.33" fill="url(#nr)"/>
<circle cx="150.1" cy="198.3" r="1.33" fill="url(#nn)"/>
<circle cx="120.6" cy="174.1" r="1.46" fill="url(#ny)"/>
<circle cx="150.4" cy="176.4" r="1.46" fill="url(#nk)"/>
<circle cx="109.6" cy="201.6" r="1.46" fill="url(#nr)"/>
<circle cx="134.8" cy="167.9" r="1.59" fill="url(#nr)"/>
<circle cx="136.8" cy="179.3" r="1.59" fill="url(#ny)"/>
<circle cx="153.5" cy="171.7" r="1.73" fill="url(#ny)"/>
<circle cx="116.0" cy="213.1" r="1.73" fill="url(#ny)"/>
<circle cx="123.5" cy="182.1" r="1.73" fill="url(#nk)"/>
<circle cx="157.8" cy="187.3" r="1.73" fill="url(#np)"/>
<circle cx="115.2" cy="195.2" r="1.99" fill="url(#nm)"/>
<circle cx="126.9" cy="208.7" r="1.99" fill="url(#nr)"/>
<circle cx="161.8" cy="198.3" r="2.13" fill="url(#nm)"/>
<circle cx="155.6" cy="224.0" r="2.13" fill="url(#nr)"/>
<circle cx="119.2" cy="218.9" r="2.26" fill="url(#nr)"/>
<circle cx="123.5" cy="189.3" r="2.39" fill="url(#np)"/>
<circle cx="142.5" cy="215.1" r="2.39" fill="url(#nr)"/>
<circle cx="160.8" cy="193.4" r="2.66" fill="url(#nm)"/>
<circle cx="133.3" cy="216.2" r="2.66" fill="url(#nr)"/>
<circle cx="141.2" cy="171.7" r="2.92" fill="url(#nr)"/>
<circle cx="140.2" cy="223.7" r="2.92" fill="url(#nb)"/>
<clipPath id="cp4"><path d="M139.25 317.73C137.15 317.73 135.52 319.52 132.94 318.90C130.35 318.28 126.43 316.76 123.75 313.99C121.07 311.23 118.59 306.59 116.87 302.31C115.14 298.02 114.28 292.96 113.42 288.29C112.56 283.61 111.70 278.94 111.70 274.27C111.70 269.59 112.18 264.53 113.42 260.25C114.67 255.96 116.67 251.68 119.16 248.56C121.65 245.45 125.38 243.01 128.34 241.55C131.31 240.09 135.14 239.84 136.95 239.80C138.77 239.76 138.48 241.32 139.25 241.32C140.02 241.32 139.73 239.76 141.55 239.80C143.36 239.84 147.19 240.09 150.16 241.55C153.12 243.01 156.85 245.45 159.34 248.56C161.83 251.68 163.83 255.96 165.08 260.25C166.32 264.53 166.80 269.59 166.80 274.27C166.80 278.94 165.94 283.61 165.08 288.29C164.22 292.96 163.36 298.02 161.63 302.31C159.91 306.59 157.43 311.23 154.75 313.99C152.07 316.76 148.15 318.28 145.56 318.90C142.98 319.52 141.35 317.73 139.25 317.73Z"/></clipPath>
<path d="M139.25 317.73C137.15 317.73 135.52 319.52 132.94 318.90C130.35 318.28 126.43 316.76 123.75 313.99C121.07 311.23 118.59 306.59 116.87 302.31C115.14 298.02 114.28 292.96 113.42 288.29C112.56 283.61 111.70 278.94 111.70 274.27C111.70 269.59 112.18 264.53 113.42 260.25C114.67 255.96 116.67 251.68 119.16 248.56C121.65 245.45 125.38 243.01 128.34 241.55C131.31 240.09 135.14 239.84 136.95 239.80C138.77 239.76 138.48 241.32 139.25 241.32C140.02 241.32 139.73 239.76 141.55 239.80C143.36 239.84 147.19 240.09 150.16 241.55C153.12 243.01 156.85 245.45 159.34 248.56C161.83 251.68 163.83 255.96 165.08 260.25C166.32 264.53 166.80 269.59 166.80 274.27C166.80 278.94 165.94 283.61 165.08 288.29C164.22 292.96 163.36 298.02 161.63 302.31C159.91 306.59 157.43 311.23 154.75 313.99C152.07 316.76 148.15 318.28 145.56 318.90C142.98 319.52 141.35 317.73 139.25 317.73Z" fill="#d2d2d2" opacity="0.6" filter="url(#bl1)"/>
<path d="M139.25 317.73C137.15 317.73 135.52 319.52 132.94 318.90C130.35 318.28 126.43 316.76 123.75 313.99C121.07 311.23 118.59 306.59 116.87 302.31C115.14 298.02 114.28 292.96 113.42 288.29C112.56 283.61 111.70 278.94 111.70 274.27C111.70 269.59 112.18 264.53 113.42 260.25C114.67 255.96 116.67 251.68 119.16 248.56C121.65 245.45 125.38 243.01 128.34 241.55C131.31 240.09 135.14 239.84 136.95 239.80C138.77 239.76 138.48 241.32 139.25 241.32C140.02 241.32 139.73 239.76 141.55 239.80C143.36 239.84 147.19 240.09 150.16 241.55C153.12 243.01 156.85 245.45 159.34 248.56C161.83 251.68 163.83 255.96 165.08 260.25C166.32 264.53 166.80 269.59 166.80 274.27C166.80 278.94 165.94 283.61 165.08 288.29C164.22 292.96 163.36 298.02 161.63 302.31C159.91 306.59 157.43 311.23 154.75 313.99C152.07 316.76 148.15 318.28 145.56 318.90C142.98 319.52 141.35 317.73 139.25 317.73Z" fill="url(#gb)" opacity="0.95"/>
<g clip-path="url(#cp4)">
<path d="M139.25 317.73C137.15 317.73 135.52 319.52 132.94 318.90C130.35 318.28 126.43 316.76 123.75 313.99C121.07 311.23 118.59 306.59 116.87 302.31C115.14 298.02 114.28 292.96 113.42 288.29C112.56 283.61 111.70 278.94 111.70 274.27C111.70 269.59 112.18 264.53 113.42 260.25C114.67 255.96 116.67 251.68 119.16 248.56C121.65 245.45 125.38 243.01 128.34 241.55C131.31 240.09 135.14 239.84 136.95 239.80C138.77 239.76 138.48 241.32 139.25 241.32C140.02 241.32 139.73 239.76 141.55 239.80C143.36 239.84 147.19 240.09 150.16 241.55C153.12 243.01 156.85 245.45 159.34 248.56C161.83 251.68 163.83 255.96 165.08 260.25C166.32 264.53 166.80 269.59 166.80 274.27C166.80 278.94 165.94 283.61 165.08 288.29C164.22 292.96 163.36 298.02 161.63 302.31C159.91 306.59 157.43 311.23 154.75 313.99C152.07 316.76 148.15 318.28 145.56 318.90C142.98 319.52 141.35 317.73 139.25 317.73Z" fill="#ffffff" filter="url(#bump)" opacity="0.43" style="mix-blend-mode:multiply"/>
<path d="M139.25 317.73C137.15 317.73 135.52 319.52 132.94 318.90C130.35 318.28 126.43 316.76 123.75 313.99C121.07 311.23 118.59 306.59 116.87 302.31C115.14 298.02 114.28 292.96 113.42 288.29C112.56 283.61 111.70 278.94 111.70 274.27C111.70 269.59 112.18 264.53 113.42 260.25C114.67 255.96 116.67 251.68 119.16 248.56C121.65 245.45 125.38 243.01 128.34 241.55C131.31 240.09 135.14 239.84 136.95 239.80C138.77 239.76 138.48 241.32 139.25 241.32C140.02 241.32 139.73 239.76 141.55 239.80C143.36 239.84 147.19 240.09 150.16 241.55C153.12 243.01 156.85 245.45 159.34 248.56C161.83 251.68 163.83 255.96 165.08 260.25C166.32 264.53 166.80 269.59 166.80 274.27C166.80 278.94 165.94 283.61 165.08 288.29C164.22 292.96 163.36 298.02 161.63 302.31C159.91 306.59 157.43 311.23 154.75 313.99C152.07 316.76 148.15 318.28 145.56 318.90C142.98 319.52 141.35 317.73 139.25 317.73Z" fill="none" stroke="#bcbcbc" stroke-width="3.0" opacity="0.55" filter="url(#bl2)"/>
<line x1="139.2" y1="318.9" x2="139.2" y2="239.8" stroke="#b4b4b4" stroke-width="1.0" opacity="0.8" filter="url(#bl1)"/>
<line x1="140.2" y1="318.9" x2="140.2" y2="239.8" stroke="#f8f8f8" stroke-width="0.6" opacity="0.9"/>
</g>
<path d="M139.25 317.73C137.15 317.73 135.52 319.52 132.94 318.90C130.35 318.28 126.43 316.76 123.75 313.99C121.07 311.23 118.59 306.59 116.87 302.31C115.14 298.02 114.28 292.96 113.42 288.29C112.56 283.61 111.70 278.94 111.70 274.27C111.70 269.59 112.18 264.53 113.42 260.25C114.67 255.96 116.67 251.68 119.16 248.56C121.65 245.45 125.38 243.01 128.34 241.55C131.31 240.09 135.14 239.84 136.95 239.80C138.77 239.76 138.48 241.32 139.25 241.32C140.02 241.32 139.73 239.76 141.55 239.80C143.36 239.84 147.19 240.09 150.16 241.55C153.12 243.01 156.85 245.45 159.34 248.56C161.83 251.68 163.83 255.96 165.08 260.25C166.32 264.53 166.80 269.59 166.80 274.27C166.80 278.94 165.94 283.61 165.08 288.29C164.22 292.96 163.36 298.02 161.63 302.31C159.91 306.59 157.43 311.23 154.75 313.99C152.07 316.76 148.15 318.28 145.56 318.90C142.98 319.52 141.35 317.73 139.25 317.73Z" fill="none" stroke="#c0c0c0" stroke-width="0.5" opacity="0.7"/>
<g stroke="#cfa436" stroke-linecap="round" opacity="0.92"><line x1="119.7" y1="257.7" x2="142.2" y2="261.4" stroke-width="0.75"/><line x1="124.1" y1="286.8" x2="132.1" y2="267.8" stroke-width="0.88"/><line x1="141.4" y1="305.0" x2="157.9" y2="289.4" stroke-width="0.88"/><line x1="119.7" y1="257.7" x2="150.6" y2="279.9" stroke-width="0.49"/><line x1="119.7" y1="257.7" x2="133.3" y2="260.8" stroke-width="0.62"/><line x1="141.4" y1="305.0" x2="124.1" y2="286.8" stroke-width="0.88"/><line x1="119.7" y1="257.7" x2="123.3" y2="295.3" stroke-width="0.88"/><line x1="142.2" y1="261.4" x2="152.6" y2="300.7" stroke-width="0.49"/><line x1="142.2" y1="261.4" x2="122.6" y2="288.6" stroke-width="0.75"/><line x1="141.4" y1="305.0" x2="140.2" y2="253.3" stroke-width="0.49"/><line x1="119.7" y1="257.7" x2="124.1" y2="286.8" stroke-width="0.49"/><line x1="142.2" y1="261.4" x2="126.9" y2="267.8" stroke-width="0.88"/><line x1="152.6" y1="300.7" x2="142.2" y2="261.4" stroke-width="0.75"/><line x1="151.8" y1="293.8" x2="131.3" y2="262.6" stroke-width="0.62"/><line x1="140.2" y1="253.3" x2="150.6" y2="279.9" stroke-width="0.49"/><line x1="141.4" y1="305.0" x2="150.6" y2="279.9" stroke-width="0.75"/><line x1="126.9" y1="267.8" x2="140.2" y2="253.3" stroke-width="0.49"/><line x1="161.8" y1="279.0" x2="134.8" y2="309.0" stroke-width="0.75"/><line x1="141.4" y1="305.0" x2="123.7" y2="268.9" stroke-width="0.88"/><line x1="140.2" y1="253.3" x2="114.8" y2="282.2" stroke-width="0.75"/><line x1="119.7" y1="257.7" x2="123.3" y2="295.3" stroke-width="0.49"/><line x1="122.6" y1="288.6" x2="151.8" y2="293.8" stroke-width="0.49"/><line x1="124.1" y1="286.8" x2="133.3" y2="260.8" stroke-width="0.75"/><line x1="122.6" y1="288.6" x2="155.6" y2="253.6" stroke-width="0.88"/><line x1="152.6" y1="300.7" x2="151.8" y2="293.8" stroke-width="0.49"/><line x1="141.4" y1="305.0" x2="120.4" y2="306.5" stroke-width="0.75"/><line x1="155.6" y1="253.6" x2="134.8" y2="309.0" stroke-width="0.62"/><line x1="141.4" y1="305.0" x2="126.9" y2="267.8" stroke-width="0.62"/><line x1="141.4" y1="305.0" x2="109.6" y2="275.9" stroke-width="0.88"/><line x1="142.2" y1="261.4" x2="157.9" y2="289.4" stroke-width="0.75"/><line x1="136.8" y1="264.1" x2="161.8" y2="279.0" stroke-width="0.49"/><line x1="119.7" y1="257.7" x2="142.2" y2="261.4" stroke-width="0.75"/><line x1="155.6" y1="253.6" x2="126.9" y2="267.8" stroke-width="0.88"/><line x1="133.3" y1="260.8" x2="153.5" y2="305.3" stroke-width="0.62"/><line x1="161.8" y1="279.0" x2="150.6" y2="279.9" stroke-width="0.49"/><line x1="120.4" y1="306.5" x2="113.1" y2="274.9" stroke-width="0.49"/><line x1="153.5" y1="305.3" x2="156.8" y2="293.2" stroke-width="0.62"/><line x1="152.6" y1="300.7" x2="159.3" y2="285.1" stroke-width="0.49"/><line x1="141.4" y1="305.0" x2="134.8" y2="309.0" stroke-width="0.49"/><line x1="142.2" y1="261.4" x2="120.6" y2="303.3" stroke-width="0.49"/><line x1="141.4" y1="305.0" x2="113.1" y2="274.9" stroke-width="0.62"/><line x1="161.8" y1="279.0" x2="136.8" y2="305.9" stroke-width="0.62"/><line x1="142.2" y1="261.4" x2="151.8" y2="293.8" stroke-width="0.75"/><line x1="152.6" y1="300.7" x2="119.7" y2="257.7" stroke-width="0.62"/><line x1="120.6" y1="303.3" x2="132.1" y2="267.8" stroke-width="0.75"/><line x1="124.1" y1="286.8" x2="151.8" y2="293.8" stroke-width="0.49"/><line x1="161.8" y1="279.0" x2="113.1" y2="274.9" stroke-width="0.75"/><line x1="119.7" y1="257.7" x2="141.4" y2="305.0" stroke-width="0.75"/><line x1="119.7" y1="257.7" x2="153.5" y2="305.3" stroke-width="0.75"/><line x1="152.6" y1="300.7" x2="156.8" y2="293.2" stroke-width="0.49"/><line x1="124.1" y1="286.8" x2="152.6" y2="300.7" stroke-width="0.88"/><line x1="141.4" y1="305.0" x2="136.8" y2="264.1" stroke-width="0.75"/><line x1="109.6" y1="275.9" x2="136.8" y2="305.9" stroke-width="0.62"/><line x1="120.6" y1="303.3" x2="151.8" y2="293.8" stroke-width="0.49"/><line x1="152.6" y1="300.7" x2="136.8" y2="298.4" stroke-width="0.75"/><line x1="141.4" y1="305.0" x2="161.3" y2="283.4" stroke-width="0.88"/><line x1="119.7" y1="257.7" x2="152.6" y2="300.7" stroke-width="0.62"/><line x1="161.8" y1="279.0" x2="157.9" y2="289.4" stroke-width="0.88"/><line x1="156.8" y1="293.2" x2="122.6" y2="288.6" stroke-width="0.49"/><line x1="142.2" y1="261.4" x2="161.3" y2="283.4" stroke-width="0.88"/><line x1="153.5" y1="305.3" x2="155.6" y2="253.6" stroke-width="0.88"/><line x1="140.2" y1="253.3" x2="136.8" y2="264.1" stroke-width="0.62"/><line x1="161.8" y1="279.0" x2="155.6" y2="253.6" stroke-width="0.75"/><line x1="142.2" y1="261.4" x2="119.7" y2="257.7" stroke-width="0.62"/><line x1="140.2" y1="253.3" x2="161.8" y2="279.0" stroke-width="0.62"/><line x1="157.9" y1="289.4" x2="124.1" y2="286.8" stroke-width="0.62"/><line x1="119.7" y1="257.7" x2="155.6" y2="253.6" stroke-width="0.49"/><line x1="140.2" y1="253.3" x2="141.4" y2="305.0" stroke-width="1.14"/><line x1="119.7" y1="257.7" x2="161.8" y2="279.0" stroke-width="1.27"/><line x1="126.9" y1="267.8" x2="161.3" y2="283.4" stroke-width="1.27"/><line x1="136.8" y1="264.1" x2="161.8" y2="279.0" stroke-width="1.27"/><line x1="116.3" y1="263.7" x2="134.8" y2="309.0" stroke-width="1.14"/><line x1="141.4" y1="305.0" x2="120.4" y2="306.5" stroke-width="0.88"/><line x1="141.4" y1="305.0" x2="153.5" y2="305.3" stroke-width="0.88"/><line x1="141.4" y1="305.0" x2="120.6" y2="303.3" stroke-width="0.88"/><line x1="155.6" y1="253.6" x2="150.1" y2="289.1" stroke-width="1.27"/></g>
<circle cx="156.8" cy="259.7" r="0.66" fill="url(#ng)"/>
<circle cx="123.8" cy="311.1" r="0.66" fill="url(#ny)"/>
<circle cx="152.9" cy="282.2" r="0.66" fill="url(#nc)"/>
<circle cx="129.3" cy="306.5" r="0.66" fill="url(#nr)"/>
<circle cx="117.7" cy="274.1" r="0.80" fill="url(#nm)"/>
<circle cx="164.8" cy="282.8" r="0.80" fill="url(#nc)"/>
<circle cx="109.6" cy="267.8" r="0.93" fill="url(#nr)"/>
<circle cx="116.3" cy="263.7" r="0.93" fill="url(#ny)"/>
<circle cx="116.6" cy="289.7" r="0.93" fill="url(#np)"/>
<circle cx="152.9" cy="286.8" r="0.93" fill="url(#np)"/>
<circle cx="146.6" cy="304.2" r="0.93" fill="url(#nr)"/>
<circle cx="113.1" cy="274.9" r="1.06" fill="url(#nm)"/>
<circle cx="122.6" cy="288.6" r="1.06" fill="url(#np)"/>
<circle cx="131.3" cy="262.6" r="1.20" fill="url(#nb)"/>
<circle cx="123.7" cy="268.9" r="1.20" fill="url(#nr)"/>
<circle cx="132.1" cy="267.8" r="1.20" fill="url(#nr)"/>
<circle cx="120.6" cy="303.3" r="1.20" fill="url(#ny)"/>
<circle cx="151.8" cy="293.8" r="1.20" fill="url(#nk)"/>
<circle cx="159.3" cy="285.1" r="1.33" fill="url(#nr)"/>
<circle cx="156.8" cy="293.2" r="1.33" fill="url(#nr)"/>
<circle cx="120.4" cy="306.5" r="1.33" fill="url(#ny)"/>
<circle cx="136.8" cy="298.4" r="1.33" fill="url(#ny)"/>
<circle cx="114.8" cy="282.2" r="1.33" fill="url(#npk)" opacity="0.85"/>
<circle cx="157.9" cy="289.4" r="1.33" fill="url(#np)"/>
<circle cx="109.6" cy="275.9" r="1.46" fill="url(#nr)"/>
<circle cx="136.8" cy="305.9" r="1.46" fill="url(#nr)"/>
<circle cx="136.8" cy="264.1" r="1.59" fill="url(#nr)"/>
<circle cx="150.6" cy="279.9" r="1.59" fill="url(#npk)" opacity="0.85"/>
<circle cx="134.8" cy="309.0" r="1.59" fill="url(#nr)"/>
<circle cx="153.5" cy="305.3" r="1.73" fill="url(#ny)"/>
<circle cx="123.3" cy="295.3" r="1.73" fill="url(#nk)"/>
<circle cx="161.3" cy="283.4" r="1.86" fill="url(#nm)"/>
<circle cx="124.1" cy="286.8" r="1.86" fill="url(#np)"/>
<circle cx="155.6" cy="253.6" r="1.99" fill="url(#nr)"/>
<circle cx="133.3" cy="260.8" r="2.13" fill="url(#nrp)"/>
<circle cx="126.9" cy="267.8" r="2.13" fill="url(#nr)"/>
<circle cx="119.7" cy="257.7" r="2.26" fill="url(#nr)"/>
<circle cx="142.2" cy="261.4" r="2.26" fill="url(#nr)"/>
<circle cx="152.6" cy="300.7" r="2.26" fill="url(#nk)"/>
<circle cx="161.8" cy="279.0" r="2.39" fill="url(#nm)"/>
<circle cx="140.2" cy="253.3" r="2.92" fill="url(#nb)"/>
<circle cx="141.4" cy="305.0" r="3.19" fill="url(#nr)"/>
<clipPath id="cp5"><path d="M252.10 211.47C251.91 209.02 251.81 205.34 250.35 201.67C248.89 197.99 246.45 192.88 243.34 189.41C240.22 185.94 236.13 183.18 231.66 180.83C227.18 178.48 221.34 176.13 216.47 175.31C211.60 174.50 206.93 174.80 202.45 175.93C197.97 177.05 193.10 179.19 189.60 182.05C186.09 184.91 183.27 189.20 181.42 193.09C179.57 196.97 178.66 201.77 178.50 205.34C178.34 208.92 179.12 211.98 180.49 214.54C181.85 217.09 184.57 218.56 186.68 220.67C188.78 222.77 190.71 225.53 193.10 227.16C195.50 228.80 198.61 230.27 201.05 230.47C203.48 230.68 205.43 227.71 207.71 228.39C209.98 229.06 211.93 233.25 214.72 234.52C217.50 235.78 221.73 236.52 224.41 235.99C227.10 235.46 229.59 233.33 230.84 231.33C232.08 229.33 230.78 225.61 231.89 223.97C233.00 222.34 235.00 222.18 237.50 221.52C239.99 220.87 244.51 220.91 246.84 220.05C249.18 219.19 250.64 217.81 251.52 216.38C252.39 214.95 252.29 213.92 252.10 211.47Z"/></clipPath>
<path d="M252.10 211.47C251.91 209.02 251.81 205.34 250.35 201.67C248.89 197.99 246.45 192.88 243.34 189.41C240.22 185.94 236.13 183.18 231.66 180.83C227.18 178.48 221.34 176.13 216.47 175.31C211.60 174.50 206.93 174.80 202.45 175.93C197.97 177.05 193.10 179.19 189.60 182.05C186.09 184.91 183.27 189.20 181.42 193.09C179.57 196.97 178.66 201.77 178.50 205.34C178.34 208.92 179.12 211.98 180.49 214.54C181.85 217.09 184.57 218.56 186.68 220.67C188.78 222.77 190.71 225.53 193.10 227.16C195.50 228.80 198.61 230.27 201.05 230.47C203.48 230.68 205.43 227.71 207.71 228.39C209.98 229.06 211.93 233.25 214.72 234.52C217.50 235.78 221.73 236.52 224.41 235.99C227.10 235.46 229.59 233.33 230.84 231.33C232.08 229.33 230.78 225.61 231.89 223.97C233.00 222.34 235.00 222.18 237.50 221.52C239.99 220.87 244.51 220.91 246.84 220.05C249.18 219.19 250.64 217.81 251.52 216.38C252.39 214.95 252.29 213.92 252.10 211.47Z" fill="#d2d2d2" opacity="0.6" filter="url(#bl1)"/>
<path d="M252.10 211.47C251.91 209.02 251.81 205.34 250.35 201.67C248.89 197.99 246.45 192.88 243.34 189.41C240.22 185.94 236.13 183.18 231.66 180.83C227.18 178.48 221.34 176.13 216.47 175.31C211.60 174.50 206.93 174.80 202.45 175.93C197.97 177.05 193.10 179.19 189.60 182.05C186.09 184.91 183.27 189.20 181.42 193.09C179.57 196.97 178.66 201.77 178.50 205.34C178.34 208.92 179.12 211.98 180.49 214.54C181.85 217.09 184.57 218.56 186.68 220.67C188.78 222.77 190.71 225.53 193.10 227.16C195.50 228.80 198.61 230.27 201.05 230.47C203.48 230.68 205.43 227.71 207.71 228.39C209.98 229.06 211.93 233.25 214.72 234.52C217.50 235.78 221.73 236.52 224.41 235.99C227.10 235.46 229.59 233.33 230.84 231.33C232.08 229.33 230.78 225.61 231.89 223.97C233.00 222.34 235.00 222.18 237.50 221.52C239.99 220.87 244.51 220.91 246.84 220.05C249.18 219.19 250.64 217.81 251.52 216.38C252.39 214.95 252.29 213.92 252.10 211.47Z" fill="url(#gb)" opacity="0.95"/>
<g clip-path="url(#cp5)">
<path d="M252.10 211.47C251.91 209.02 251.81 205.34 250.35 201.67C248.89 197.99 246.45 192.88 243.34 189.41C240.22 185.94 236.13 183.18 231.66 180.83C227.18 178.48 221.34 176.13 216.47 175.31C211.60 174.50 206.93 174.80 202.45 175.93C197.97 177.05 193.10 179.19 189.60 182.05C186.09 184.91 183.27 189.20 181.42 193.09C179.57 196.97 178.66 201.77 178.50 205.34C178.34 208.92 179.12 211.98 180.49 214.54C181.85 217.09 184.57 218.56 186.68 220.67C188.78 222.77 190.71 225.53 193.10 227.16C195.50 228.80 198.61 230.27 201.05 230.47C203.48 230.68 205.43 227.71 207.71 228.39C209.98 229.06 211.93 233.25 214.72 234.52C217.50 235.78 221.73 236.52 224.41 235.99C227.10 235.46 229.59 233.33 230.84 231.33C232.08 229.33 230.78 225.61 231.89 223.97C233.00 222.34 235.00 222.18 237.50 221.52C239.99 220.87 244.51 220.91 246.84 220.05C249.18 219.19 250.64 217.81 251.52 216.38C252.39 214.95 252.29 213.92 252.10 211.47Z" fill="#ffffff" filter="url(#bump)" opacity="0.43" style="mix-blend-mode:multiply"/>
<path d="M252.10 211.47C251.91 209.02 251.81 205.34 250.35 201.67C248.89 197.99 246.45 192.88 243.34 189.41C240.22 185.94 236.13 183.18 231.66 180.83C227.18 178.48 221.34 176.13 216.47 175.31C211.60 174.50 206.93 174.80 202.45 175.93C197.97 177.05 193.10 179.19 189.60 182.05C186.09 184.91 183.27 189.20 181.42 193.09C179.57 196.97 178.66 201.77 178.50 205.34C178.34 208.92 179.12 211.98 180.49 214.54C181.85 217.09 184.57 218.56 186.68 220.67C188.78 222.77 190.71 225.53 193.10 227.16C195.50 228.80 198.61 230.27 201.05 230.47C203.48 230.68 205.43 227.71 207.71 228.39C209.98 229.06 211.93 233.25 214.72 234.52C217.50 235.78 221.73 236.52 224.41 235.99C227.10 235.46 229.59 233.33 230.84 231.33C232.08 229.33 230.78 225.61 231.89 223.97C233.00 222.34 235.00 222.18 237.50 221.52C239.99 220.87 244.51 220.91 246.84 220.05C249.18 219.19 250.64 217.81 251.52 216.38C252.39 214.95 252.29 213.92 252.10 211.47Z" fill="none" stroke="#bcbcbc" stroke-width="3.0" opacity="0.55" filter="url(#bl2)"/>
<path d="M230.0 224.2C219.0 219.3 206.5 224.2 200.6 230.4" fill="none" stroke="#bcbcbc" stroke-width="1.2" opacity="0.6" filter="url(#bl1)"/>
</g>
<path d="M252.10 211.47C251.91 209.02 251.81 205.34 250.35 201.67C248.89 197.99 246.45 192.88 243.34 189.41C240.22 185.94 236.13 183.18 231.66 180.83C227.18 178.48 221.34 176.13 216.47 175.31C211.60 174.50 206.93 174.80 202.45 175.93C197.97 177.05 193.10 179.19 189.60 182.05C186.09 184.91 183.27 189.20 181.42 193.09C179.57 196.97 178.66 201.77 178.50 205.34C178.34 208.92 179.12 211.98 180.49 214.54C181.85 217.09 184.57 218.56 186.68 220.67C188.78 222.77 190.71 225.53 193.10 227.16C195.50 228.80 198.61 230.27 201.05 230.47C203.48 230.68 205.43 227.71 207.71 228.39C209.98 229.06 211.93 233.25 214.72 234.52C217.50 235.78 221.73 236.52 224.41 235.99C227.10 235.46 229.59 233.33 230.84 231.33C232.08 229.33 230.78 225.61 231.89 223.97C233.00 222.34 235.00 222.18 237.50 221.52C239.99 220.87 244.51 220.91 246.84 220.05C249.18 219.19 250.64 217.81 251.52 216.38C252.39 214.95 252.29 213.92 252.10 211.47Z" fill="none" stroke="#c0c0c0" stroke-width="0.5" opacity="0.7"/>
<g stroke="#cfa436" stroke-linecap="round" opacity="0.92"><line x1="190.4" y1="199.8" x2="239.2" y2="215.0" stroke-width="1.27"/><line x1="190.4" y1="201.5" x2="234.8" y2="213.4" stroke-width="1.14"/><line x1="198.0" y1="204.8" x2="234.8" y2="213.4" stroke-width="1.01"/><line x1="227.3" y1="186.4" x2="239.2" y2="215.0" stroke-width="0.75"/><line x1="237.7" y1="194.3" x2="239.2" y2="215.0" stroke-width="0.75"/><line x1="239.6" y1="205.0" x2="239.2" y2="215.0" stroke-width="0.75"/><line x1="245.1" y1="206.0" x2="239.2" y2="215.0" stroke-width="0.75"/><line x1="219.1" y1="206.4" x2="239.6" y2="205.0" stroke-width="1.14"/><line x1="220.3" y1="220.0" x2="228.1" y2="226.9" stroke-width="0.49"/><line x1="198.0" y1="204.8" x2="224.6" y2="213.0" stroke-width="0.88"/><line x1="201.9" y1="195.1" x2="219.1" y2="206.4" stroke-width="0.49"/><line x1="200.5" y1="198.0" x2="214.5" y2="209.4" stroke-width="0.49"/><line x1="190.4" y1="199.0" x2="219.1" y2="206.4" stroke-width="0.75"/><line x1="198.0" y1="204.8" x2="230.8" y2="210.9" stroke-width="0.75"/><line x1="231.1" y1="195.1" x2="239.2" y2="215.0" stroke-width="0.49"/><line x1="214.5" y1="209.4" x2="228.1" y2="216.1" stroke-width="0.62"/></g>
<circle cx="210.0" cy="206.8" r="0.67" fill="url(#nm)"/>
<circle cx="231.1" cy="195.1" r="0.67" fill="url(#nk)"/>
<circle cx="196.0" cy="196.3" r="0.81" fill="url(#nr)"/>
<circle cx="200.5" cy="198.0" r="0.81" fill="url(#nr)"/>
<circle cx="231.9" cy="200.1" r="0.81" fill="url(#ny)"/>
<circle cx="201.9" cy="195.1" r="0.94" fill="url(#nk)"/>
<circle cx="196.0" cy="210.9" r="0.94" fill="url(#ng)"/>
<circle cx="213.9" cy="199.0" r="0.94" fill="url(#nm)"/>
<circle cx="245.1" cy="206.0" r="0.94" fill="url(#nk)"/>
<circle cx="217.9" cy="200.9" r="1.07" fill="url(#nc)"/>
<circle cx="227.3" cy="186.4" r="1.07" fill="url(#ny)"/>
<circle cx="235.1" cy="200.6" r="1.34" fill="url(#nk)"/>
<circle cx="220.3" cy="220.0" r="1.34" fill="url(#nr)"/>
<circle cx="228.1" cy="226.9" r="1.34" fill="url(#nr)"/>
<circle cx="230.8" cy="210.9" r="1.48" fill="url(#nk)"/>
<circle cx="228.1" cy="216.1" r="1.48" fill="url(#nk)"/>
<circle cx="237.7" cy="194.3" r="1.48" fill="url(#nry)"/>
<circle cx="198.0" cy="204.8" r="1.75" fill="url(#nr)"/>
<circle cx="214.7" cy="212.6" r="1.75" fill="url(#nn)"/>
<circle cx="224.6" cy="213.0" r="1.75" fill="url(#np)"/>
<circle cx="239.6" cy="205.0" r="1.75" fill="url(#ny)"/>
<circle cx="190.4" cy="199.0" r="2.01" fill="url(#nr)"/>
<circle cx="190.4" cy="202.5" r="2.01" fill="url(#nb)"/>
<circle cx="234.8" cy="213.4" r="2.15" fill="url(#nk)"/>
<circle cx="219.1" cy="206.4" r="2.42" fill="url(#nm)"/>
<circle cx="214.5" cy="209.4" r="2.55" fill="url(#nm)"/>
<circle cx="239.2" cy="215.0" r="2.95" fill="url(#nrp)"/>
<clipPath id="cp6"><path d="M178.50 277.56C178.69 275.16 178.78 271.55 180.21 267.94C181.63 264.34 184.01 259.33 187.05 255.92C190.09 252.52 194.08 249.81 198.44 247.51C202.81 245.21 208.51 242.90 213.26 242.10C218.01 241.30 222.57 241.60 226.94 242.70C231.31 243.80 236.05 245.91 239.47 248.71C242.89 251.52 245.65 255.72 247.45 259.53C249.26 263.34 250.15 268.04 250.30 271.55C250.45 275.06 249.69 278.06 248.36 280.56C247.03 283.07 244.37 284.51 242.32 286.57C240.27 288.64 238.39 291.34 236.05 292.94C233.72 294.55 230.68 295.99 228.30 296.19C225.93 296.39 224.03 293.49 221.81 294.15C219.59 294.81 217.69 298.91 214.97 300.16C212.25 301.40 208.13 302.12 205.51 301.60C202.89 301.08 200.46 298.99 199.24 297.03C198.03 295.07 199.30 291.42 198.22 289.82C197.13 288.22 195.18 288.06 192.75 287.42C190.31 286.77 185.91 286.81 183.63 285.97C181.35 285.13 179.92 283.77 179.07 282.37C178.22 280.97 178.31 279.96 178.50 277.56Z"/></clipPath>
<path d="M178.50 277.56C178.69 275.16 178.78 271.55 180.21 267.94C181.63 264.34 184.01 259.33 187.05 255.92C190.09 252.52 194.08 249.81 198.44 247.51C202.81 245.21 208.51 242.90 213.26 242.10C218.01 241.30 222.57 241.60 226.94 242.70C231.31 243.80 236.05 245.91 239.47 248.71C242.89 251.52 245.65 255.72 247.45 259.53C249.26 263.34 250.15 268.04 250.30 271.55C250.45 275.06 249.69 278.06 248.36 280.56C247.03 283.07 244.37 284.51 242.32 286.57C240.27 288.64 238.39 291.34 236.05 292.94C233.72 294.55 230.68 295.99 228.30 296.19C225.93 296.39 224.03 293.49 221.81 294.15C219.59 294.81 217.69 298.91 214.97 300.16C212.25 301.40 208.13 302.12 205.51 301.60C202.89 301.08 200.46 298.99 199.24 297.03C198.03 295.07 199.30 291.42 198.22 289.82C197.13 288.22 195.18 288.06 192.75 287.42C190.31 286.77 185.91 286.81 183.63 285.97C181.35 285.13 179.92 283.77 179.07 282.37C178.22 280.97 178.31 279.96 178.50 277.56Z" fill="#d2d2d2" opacity="0.6" filter="url(#bl1)"/>
<path d="M178.50 277.56C178.69 275.16 178.78 271.55 180.21 267.94C181.63 264.34 184.01 259.33 187.05 255.92C190.09 252.52 194.08 249.81 198.44 247.51C202.81 245.21 208.51 242.90 213.26 242.10C218.01 241.30 222.57 241.60 226.94 242.70C231.31 243.80 236.05 245.91 239.47 248.71C242.89 251.52 245.65 255.72 247.45 259.53C249.26 263.34 250.15 268.04 250.30 271.55C250.45 275.06 249.69 278.06 248.36 280.56C247.03 283.07 244.37 284.51 242.32 286.57C240.27 288.64 238.39 291.34 236.05 292.94C233.72 294.55 230.68 295.99 228.30 296.19C225.93 296.39 224.03 293.49 221.81 294.15C219.59 294.81 217.69 298.91 214.97 300.16C212.25 301.40 208.13 302.12 205.51 301.60C202.89 301.08 200.46 298.99 199.24 297.03C198.03 295.07 199.30 291.42 198.22 289.82C197.13 288.22 195.18 288.06 192.75 287.42C190.31 286.77 185.91 286.81 183.63 285.97C181.35 285.13 179.92 283.77 179.07 282.37C178.22 280.97 178.31 279.96 178.50 277.56Z" fill="url(#gb)" opacity="0.95"/>
<g clip-path="url(#cp6)">
<path d="M178.50 277.56C178.69 275.16 178.78 271.55 180.21 267.94C181.63 264.34 184.01 259.33 187.05 255.92C190.09 252.52 194.08 249.81 198.44 247.51C202.81 245.21 208.51 242.90 213.26 242.10C218.01 241.30 222.57 241.60 226.94 242.70C231.31 243.80 236.05 245.91 239.47 248.71C242.89 251.52 245.65 255.72 247.45 259.53C249.26 263.34 250.15 268.04 250.30 271.55C250.45 275.06 249.69 278.06 248.36 280.56C247.03 283.07 244.37 284.51 242.32 286.57C240.27 288.64 238.39 291.34 236.05 292.94C233.72 294.55 230.68 295.99 228.30 296.19C225.93 296.39 224.03 293.49 221.81 294.15C219.59 294.81 217.69 298.91 214.97 300.16C212.25 301.40 208.13 302.12 205.51 301.60C202.89 301.08 200.46 298.99 199.24 297.03C198.03 295.07 199.30 291.42 198.22 289.82C197.13 288.22 195.18 288.06 192.75 287.42C190.31 286.77 185.91 286.81 183.63 285.97C181.35 285.13 179.92 283.77 179.07 282.37C178.22 280.97 178.31 279.96 178.50 277.56Z" fill="#ffffff" filter="url(#bump)" opacity="0.43" style="mix-blend-mode:multiply"/>
<path d="M178.50 277.56C178.69 275.16 178.78 271.55 180.21 267.94C181.63 264.34 184.01 259.33 187.05 255.92C190.09 252.52 194.08 249.81 198.44 247.51C202.81 245.21 208.51 242.90 213.26 242.10C218.01 241.30 222.57 241.60 226.94 242.70C231.31 243.80 236.05 245.91 239.47 248.71C242.89 251.52 245.65 255.72 247.45 259.53C249.26 263.34 250.15 268.04 250.30 271.55C250.45 275.06 249.69 278.06 248.36 280.56C247.03 283.07 244.37 284.51 242.32 286.57C240.27 288.64 238.39 291.34 236.05 292.94C233.72 294.55 230.68 295.99 228.30 296.19C225.93 296.39 224.03 293.49 221.81 294.15C219.59 294.81 217.69 298.91 214.97 300.16C212.25 301.40 208.13 302.12 205.51 301.60C202.89 301.08 200.46 298.99 199.24 297.03C198.03 295.07 199.30 291.42 198.22 289.82C197.13 288.22 195.18 288.06 192.75 287.42C190.31 286.77 185.91 286.81 183.63 285.97C181.35 285.13 179.92 283.77 179.07 282.37C178.22 280.97 178.31 279.96 178.50 277.56Z" fill="none" stroke="#bcbcbc" stroke-width="3.0" opacity="0.55" filter="url(#bl2)"/>
<path d="M200.0 290.1C210.8 285.2 223.0 290.1 228.8 296.1" fill="none" stroke="#bcbcbc" stroke-width="1.2" opacity="0.6" filter="url(#bl1)"/>
</g>
<path d="M178.50 277.56C178.69 275.16 178.78 271.55 180.21 267.94C181.63 264.34 184.01 259.33 187.05 255.92C190.09 252.52 194.08 249.81 198.44 247.51C202.81 245.21 208.51 242.90 213.26 242.10C218.01 241.30 222.57 241.60 226.94 242.70C231.31 243.80 236.05 245.91 239.47 248.71C242.89 251.52 245.65 255.72 247.45 259.53C249.26 263.34 250.15 268.04 250.30 271.55C250.45 275.06 249.69 278.06 248.36 280.56C247.03 283.07 244.37 284.51 242.32 286.57C240.27 288.64 238.39 291.34 236.05 292.94C233.72 294.55 230.68 295.99 228.30 296.19C225.93 296.39 224.03 293.49 221.81 294.15C219.59 294.81 217.69 298.91 214.97 300.16C212.25 301.40 208.13 302.12 205.51 301.60C202.89 301.08 200.46 298.99 199.24 297.03C198.03 295.07 199.30 291.42 198.22 289.82C197.13 288.22 195.18 288.06 192.75 287.42C190.31 286.77 185.91 286.81 183.63 285.97C181.35 285.13 179.92 283.77 179.07 282.37C178.22 280.97 178.31 279.96 178.50 277.56Z" fill="none" stroke="#c0c0c0" stroke-width="0.5" opacity="0.7"/>
<g stroke="#cfa436" stroke-linecap="round" opacity="0.92"><line x1="190.8" y1="281.4" x2="232.0" y2="271.6" stroke-width="1.40"/><line x1="190.8" y1="281.4" x2="239.5" y2="268.1" stroke-width="1.27"/><line x1="195.1" y1="280.0" x2="232.0" y2="271.6" stroke-width="1.27"/><line x1="199.3" y1="277.9" x2="239.5" y2="268.1" stroke-width="1.14"/><line x1="190.8" y1="281.4" x2="191.9" y2="261.1" stroke-width="0.75"/><line x1="190.8" y1="281.4" x2="202.7" y2="252.9" stroke-width="0.75"/><line x1="190.8" y1="281.4" x2="198.7" y2="262.2" stroke-width="0.75"/><line x1="190.8" y1="281.4" x2="184.6" y2="272.7" stroke-width="0.88"/><line x1="190.8" y1="281.4" x2="228.1" y2="261.9" stroke-width="0.49"/><line x1="209.5" y1="286.8" x2="202.1" y2="293.1" stroke-width="0.49"/><line x1="190.5" y1="272.1" x2="232.0" y2="271.6" stroke-width="0.75"/><line x1="190.8" y1="281.4" x2="194.5" y2="267.2" stroke-width="0.88"/><line x1="201.9" y1="283.3" x2="215.1" y2="278.9" stroke-width="0.75"/><line x1="209.5" y1="286.8" x2="215.1" y2="278.9" stroke-width="0.49"/></g>
<circle cx="197.8" cy="266.6" r="0.67" fill="url(#ny)"/>
<circle cx="212.6" cy="273.0" r="0.67" fill="url(#nc)"/>
<circle cx="229.1" cy="264.9" r="0.81" fill="url(#nr)"/>
<circle cx="202.7" cy="252.9" r="0.81" fill="url(#ny)"/>
<circle cx="184.6" cy="272.7" r="0.81" fill="url(#nk)"/>
<circle cx="234.0" cy="262.9" r="0.94" fill="url(#nr)"/>
<circle cx="228.1" cy="261.9" r="0.94" fill="url(#nk)"/>
<circle cx="234.0" cy="277.7" r="0.94" fill="url(#ng)"/>
<circle cx="198.7" cy="262.2" r="1.07" fill="url(#nk)"/>
<circle cx="215.9" cy="265.8" r="1.07" fill="url(#nm)"/>
<circle cx="205.1" cy="279.5" r="1.07" fill="url(#nm)"/>
<circle cx="212.1" cy="267.5" r="1.07" fill="url(#nc)"/>
<circle cx="191.9" cy="261.1" r="1.34" fill="url(#nr)"/>
<circle cx="202.1" cy="293.1" r="1.34" fill="url(#nr)"/>
<circle cx="199.3" cy="277.9" r="1.34" fill="url(#nk)"/>
<circle cx="201.9" cy="283.3" r="1.34" fill="url(#nk)"/>
<circle cx="210.6" cy="273.0" r="1.34" fill="url(#nm)"/>
<circle cx="207.7" cy="277.1" r="1.34" fill="url(#npl)" opacity="0.85"/>
<circle cx="194.5" cy="267.2" r="1.48" fill="url(#nk)"/>
<circle cx="209.5" cy="286.8" r="1.61" fill="url(#nr)"/>
<circle cx="190.5" cy="272.1" r="1.61" fill="url(#ny)"/>
<circle cx="215.1" cy="278.9" r="1.61" fill="url(#nn)"/>
<circle cx="195.1" cy="280.0" r="1.88" fill="url(#nk)"/>
<circle cx="232.0" cy="271.6" r="2.42" fill="url(#nr)"/>
<circle cx="239.5" cy="268.1" r="2.95" fill="url(#nb)"/>
<circle cx="190.8" cy="281.4" r="3.22" fill="url(#nr)"/>
<clipPath id="cp7"><path d="M25.30 386.81C25.50 384.45 25.59 380.90 27.06 377.36C28.53 373.82 30.98 368.91 34.12 365.56C37.26 362.22 41.37 359.56 45.88 357.30C50.39 355.04 56.27 352.78 61.17 351.99C66.07 351.20 70.78 351.50 75.29 352.58C79.80 353.66 84.70 355.73 88.23 358.48C91.75 361.23 94.60 365.37 96.46 369.10C98.32 372.84 99.24 377.46 99.40 380.90C99.56 384.35 98.77 387.30 97.40 389.76C96.03 392.22 93.28 393.63 91.17 395.66C89.05 397.68 87.11 400.34 84.70 401.91C82.29 403.49 79.15 404.90 76.70 405.10C74.25 405.30 72.29 402.44 70.00 403.09C67.70 403.74 65.74 407.77 62.94 408.99C60.13 410.21 55.88 410.92 53.18 410.41C50.47 409.90 47.96 407.85 46.71 405.93C45.45 404.00 46.77 400.42 45.65 398.84C44.53 397.27 42.51 397.11 40.00 396.48C37.49 395.85 32.95 395.89 30.59 395.07C28.24 394.24 26.77 392.90 25.89 391.53C25.01 390.15 25.10 389.17 25.30 386.81Z"/></clipPath>
<path d="M25.30 386.81C25.50 384.45 25.59 380.90 27.06 377.36C28.53 373.82 30.98 368.91 34.12 365.56C37.26 362.22 41.37 359.56 45.88 357.30C50.39 355.04 56.27 352.78 61.17 351.99C66.07 351.20 70.78 351.50 75.29 352.58C79.80 353.66 84.70 355.73 88.23 358.48C91.75 361.23 94.60 365.37 96.46 369.10C98.32 372.84 99.24 377.46 99.40 380.90C99.56 384.35 98.77 387.30 97.40 389.76C96.03 392.22 93.28 393.63 91.17 395.66C89.05 397.68 87.11 400.34 84.70 401.91C82.29 403.49 79.15 404.90 76.70 405.10C74.25 405.30 72.29 402.44 70.00 403.09C67.70 403.74 65.74 407.77 62.94 408.99C60.13 410.21 55.88 410.92 53.18 410.41C50.47 409.90 47.96 407.85 46.71 405.93C45.45 404.00 46.77 400.42 45.65 398.84C44.53 397.27 42.51 397.11 40.00 396.48C37.49 395.85 32.95 395.89 30.59 395.07C28.24 394.24 26.77 392.90 25.89 391.53C25.01 390.15 25.10 389.17 25.30 386.81Z" fill="#d2d2d2" opacity="0.6" filter="url(#bl1)"/>
<path d="M25.30 386.81C25.50 384.45 25.59 380.90 27.06 377.36C28.53 373.82 30.98 368.91 34.12 365.56C37.26 362.22 41.37 359.56 45.88 357.30C50.39 355.04 56.27 352.78 61.17 351.99C66.07 351.20 70.78 351.50 75.29 352.58C79.80 353.66 84.70 355.73 88.23 358.48C91.75 361.23 94.60 365.37 96.46 369.10C98.32 372.84 99.24 377.46 99.40 380.90C99.56 384.35 98.77 387.30 97.40 389.76C96.03 392.22 93.28 393.63 91.17 395.66C89.05 397.68 87.11 400.34 84.70 401.91C82.29 403.49 79.15 404.90 76.70 405.10C74.25 405.30 72.29 402.44 70.00 403.09C67.70 403.74 65.74 407.77 62.94 408.99C60.13 410.21 55.88 410.92 53.18 410.41C50.47 409.90 47.96 407.85 46.71 405.93C45.45 404.00 46.77 400.42 45.65 398.84C44.53 397.27 42.51 397.11 40.00 396.48C37.49 395.85 32.95 395.89 30.59 395.07C28.24 394.24 26.77 392.90 25.89 391.53C25.01 390.15 25.10 389.17 25.30 386.81Z" fill="url(#gb)" opacity="0.95"/>
<g clip-path="url(#cp7)">
<path d="M25.30 386.81C25.50 384.45 25.59 380.90 27.06 377.36C28.53 373.82 30.98 368.91 34.12 365.56C37.26 362.22 41.37 359.56 45.88 357.30C50.39 355.04 56.27 352.78 61.17 351.99C66.07 351.20 70.78 351.50 75.29 352.58C79.80 353.66 84.70 355.73 88.23 358.48C91.75 361.23 94.60 365.37 96.46 369.10C98.32 372.84 99.24 377.46 99.40 380.90C99.56 384.35 98.77 387.30 97.40 389.76C96.03 392.22 93.28 393.63 91.17 395.66C89.05 397.68 87.11 400.34 84.70 401.91C82.29 403.49 79.15 404.90 76.70 405.10C74.25 405.30 72.29 402.44 70.00 403.09C67.70 403.74 65.74 407.77 62.94 408.99C60.13 410.21 55.88 410.92 53.18 410.41C50.47 409.90 47.96 407.85 46.71 405.93C45.45 404.00 46.77 400.42 45.65 398.84C44.53 397.27 42.51 397.11 40.00 396.48C37.49 395.85 32.95 395.89 30.59 395.07C28.24 394.24 26.77 392.90 25.89 391.53C25.01 390.15 25.10 389.17 25.30 386.81Z" fill="#ffffff" filter="url(#bump)" opacity="0.43" style="mix-blend-mode:multiply"/>
<path d="M25.30 386.81C25.50 384.45 25.59 380.90 27.06 377.36C28.53 373.82 30.98 368.91 34.12 365.56C37.26 362.22 41.37 359.56 45.88 357.30C50.39 355.04 56.27 352.78 61.17 351.99C66.07 351.20 70.78 351.50 75.29 352.58C79.80 353.66 84.70 355.73 88.23 358.48C91.75 361.23 94.60 365.37 96.46 369.10C98.32 372.84 99.24 377.46 99.40 380.90C99.56 384.35 98.77 387.30 97.40 389.76C96.03 392.22 93.28 393.63 91.17 395.66C89.05 397.68 87.11 400.34 84.70 401.91C82.29 403.49 79.15 404.90 76.70 405.10C74.25 405.30 72.29 402.44 70.00 403.09C67.70 403.74 65.74 407.77 62.94 408.99C60.13 410.21 55.88 410.92 53.18 410.41C50.47 409.90 47.96 407.85 46.71 405.93C45.45 404.00 46.77 400.42 45.65 398.84C44.53 397.27 42.51 397.11 40.00 396.48C37.49 395.85 32.95 395.89 30.59 395.07C28.24 394.24 26.77 392.90 25.89 391.53C25.01 390.15 25.10 389.17 25.30 386.81Z" fill="none" stroke="#bcbcbc" stroke-width="3.0" opacity="0.55" filter="url(#bl2)"/>
<path d="M47.5 399.1C58.6 394.3 71.2 399.1 77.2 405.0" fill="none" stroke="#bcbcbc" stroke-width="1.2" opacity="0.6" filter="url(#bl1)"/>
</g>
<path d="M25.30 386.81C25.50 384.45 25.59 380.90 27.06 377.36C28.53 373.82 30.98 368.91 34.12 365.56C37.26 362.22 41.37 359.56 45.88 357.30C50.39 355.04 56.27 352.78 61.17 351.99C66.07 351.20 70.78 351.50 75.29 352.58C79.80 353.66 84.70 355.73 88.23 358.48C91.75 361.23 94.60 365.37 96.46 369.10C98.32 372.84 99.24 377.46 99.40 380.90C99.56 384.35 98.77 387.30 97.40 389.76C96.03 392.22 93.28 393.63 91.17 395.66C89.05 397.68 87.11 400.34 84.70 401.91C82.29 403.49 79.15 404.90 76.70 405.10C74.25 405.30 72.29 402.44 70.00 403.09C67.70 403.74 65.74 407.77 62.94 408.99C60.13 410.21 55.88 410.92 53.18 410.41C50.47 409.90 47.96 407.85 46.71 405.93C45.45 404.00 46.77 400.42 45.65 398.84C44.53 397.27 42.51 397.11 40.00 396.48C37.49 395.85 32.95 395.89 30.59 395.07C28.24 394.24 26.77 392.90 25.89 391.53C25.01 390.15 25.10 389.17 25.30 386.81Z" fill="none" stroke="#c0c0c0" stroke-width="0.5" opacity="0.7"/>
<g stroke="#88a84a" stroke-linecap="round" opacity="0.92"><line x1="39.6" y1="378.6" x2="74.7" y2="354.7" stroke-width="2.31"/><line x1="39.6" y1="378.6" x2="63.4" y2="363.1" stroke-width="1.01"/><line x1="39.6" y1="378.6" x2="68.8" y2="366.4" stroke-width="0.88"/><line x1="36.9" y1="392.5" x2="78.0" y2="381.2" stroke-width="0.88"/><line x1="36.6" y1="384.5" x2="80.7" y2="378.6" stroke-width="0.62"/><line x1="53.9" y1="400.5" x2="72.3" y2="388.0" stroke-width="0.62"/><line x1="37.5" y1="381.2" x2="53.9" y2="400.5" stroke-width="0.62"/><line x1="36.7" y1="370.7" x2="78.0" y2="375.6" stroke-width="0.62"/><line x1="52.5" y1="390.2" x2="78.0" y2="381.2" stroke-width="0.75"/><line x1="33.8" y1="389.0" x2="72.3" y2="388.0" stroke-width="0.62"/><line x1="39.6" y1="378.6" x2="60.9" y2="392.6" stroke-width="0.62"/><line x1="53.9" y1="384.1" x2="71.2" y2="395.6" stroke-width="0.49"/><line x1="59.7" y1="372.4" x2="53.9" y2="384.1" stroke-width="0.62"/><line x1="65.0" y1="368.9" x2="52.5" y2="390.2" stroke-width="0.62"/><line x1="37.5" y1="381.2" x2="75.8" y2="382.4" stroke-width="0.62"/><line x1="39.6" y1="378.6" x2="78.0" y2="375.6" stroke-width="0.49"/></g>
<circle cx="65.0" cy="368.9" r="0.94" fill="url(#nc)"/>
<circle cx="59.7" cy="372.4" r="0.94" fill="url(#nc)"/>
<circle cx="36.7" cy="370.7" r="0.94" fill="url(#nr)"/>
<circle cx="60.9" cy="392.6" r="0.94" fill="url(#nr)"/>
<circle cx="59.1" cy="382.7" r="0.94" fill="url(#nm)"/>
<circle cx="77.0" cy="388.8" r="0.94" fill="url(#nb)"/>
<circle cx="73.4" cy="360.5" r="1.07" fill="url(#nc)"/>
<circle cx="65.9" cy="382.1" r="1.21" fill="url(#nm)"/>
<circle cx="72.3" cy="388.0" r="1.34" fill="url(#nr)"/>
<circle cx="75.8" cy="382.4" r="1.34" fill="url(#nr)"/>
<circle cx="53.9" cy="384.1" r="1.34" fill="url(#nn)"/>
<circle cx="33.8" cy="389.0" r="1.48" fill="url(#nr)"/>
<circle cx="71.2" cy="395.6" r="1.48" fill="url(#nr)"/>
<circle cx="37.5" cy="381.2" r="1.61" fill="url(#nr)"/>
<circle cx="52.5" cy="390.2" r="1.61" fill="url(#nn)"/>
<circle cx="36.6" cy="384.5" r="1.75" fill="url(#nr)"/>
<circle cx="36.9" cy="392.5" r="1.88" fill="url(#nr)"/>
<circle cx="53.9" cy="400.5" r="2.01" fill="url(#nr)"/>
<circle cx="78.0" cy="375.6" r="2.01" fill="url(#nr)"/>
<circle cx="63.4" cy="363.1" r="2.15" fill="url(#nc)"/>
<circle cx="68.8" cy="366.4" r="2.15" fill="url(#nc)"/>
<circle cx="78.0" cy="381.2" r="2.15" fill="url(#nr)"/>
<circle cx="74.7" cy="354.7" r="2.28" fill="url(#nc)"/>
<circle cx="80.7" cy="378.6" r="2.28" fill="url(#nr)"/>
<circle cx="86.9" cy="376.3" r="2.42" fill="url(#nr)"/>
<circle cx="39.6" cy="378.6" r="2.95" fill="url(#ny)"/>
<clipPath id="cp8"><path d="M98.20 451.93C98.01 449.58 97.91 446.06 96.46 442.53C95.02 439.01 92.61 434.12 89.52 430.79C86.44 427.46 82.39 424.82 77.95 422.57C73.51 420.32 67.73 418.07 62.91 417.29C58.09 416.50 53.46 416.80 49.02 417.87C44.59 418.95 39.76 421.01 36.29 423.75C32.82 426.49 30.02 430.60 28.19 434.31C26.36 438.03 25.45 442.63 25.30 446.06C25.15 449.48 25.92 452.42 27.27 454.86C28.62 457.31 31.32 458.72 33.40 460.73C35.48 462.75 37.39 465.39 39.76 466.96C42.14 468.52 45.22 469.93 47.63 470.13C50.04 470.32 51.97 467.49 54.23 468.13C56.49 468.78 58.41 472.79 61.17 474.00C63.93 475.22 68.11 475.92 70.78 475.41C73.44 474.90 75.91 472.87 77.14 470.95C78.37 469.03 77.08 465.47 78.18 463.91C79.28 462.34 81.27 462.18 83.74 461.56C86.20 460.93 90.68 460.97 92.99 460.15C95.31 459.33 96.75 457.99 97.62 456.62C98.49 455.25 98.39 454.28 98.20 451.93Z"/></clipPath>
<path d="M98.20 451.93C98.01 449.58 97.91 446.06 96.46 442.53C95.02 439.01 92.61 434.12 89.52 430.79C86.44 427.46 82.39 424.82 77.95 422.57C73.51 420.32 67.73 418.07 62.91 417.29C58.09 416.50 53.46 416.80 49.02 417.87C44.59 418.95 39.76 421.01 36.29 423.75C32.82 426.49 30.02 430.60 28.19 434.31C26.36 438.03 25.45 442.63 25.30 446.06C25.15 449.48 25.92 452.42 27.27 454.86C28.62 457.31 31.32 458.72 33.40 460.73C35.48 462.75 37.39 465.39 39.76 466.96C42.14 468.52 45.22 469.93 47.63 470.13C50.04 470.32 51.97 467.49 54.23 468.13C56.49 468.78 58.41 472.79 61.17 474.00C63.93 475.22 68.11 475.92 70.78 475.41C73.44 474.90 75.91 472.87 77.14 470.95C78.37 469.03 77.08 465.47 78.18 463.91C79.28 462.34 81.27 462.18 83.74 461.56C86.20 460.93 90.68 460.97 92.99 460.15C95.31 459.33 96.75 457.99 97.62 456.62C98.49 455.25 98.39 454.28 98.20 451.93Z" fill="#d2d2d2" opacity="0.6" filter="url(#bl1)"/>
<path d="M98.20 451.93C98.01 449.58 97.91 446.06 96.46 442.53C95.02 439.01 92.61 434.12 89.52 430.79C86.44 427.46 82.39 424.82 77.95 422.57C73.51 420.32 67.73 418.07 62.91 417.29C58.09 416.50 53.46 416.80 49.02 417.87C44.59 418.95 39.76 421.01 36.29 423.75C32.82 426.49 30.02 430.60 28.19 434.31C26.36 438.03 25.45 442.63 25.30 446.06C25.15 449.48 25.92 452.42 27.27 454.86C28.62 457.31 31.32 458.72 33.40 460.73C35.48 462.75 37.39 465.39 39.76 466.96C42.14 468.52 45.22 469.93 47.63 470.13C50.04 470.32 51.97 467.49 54.23 468.13C56.49 468.78 58.41 472.79 61.17 474.00C63.93 475.22 68.11 475.92 70.78 475.41C73.44 474.90 75.91 472.87 77.14 470.95C78.37 469.03 77.08 465.47 78.18 463.91C79.28 462.34 81.27 462.18 83.74 461.56C86.20 460.93 90.68 460.97 92.99 460.15C95.31 459.33 96.75 457.99 97.62 456.62C98.49 455.25 98.39 454.28 98.20 451.93Z" fill="url(#gb)" opacity="0.95"/>
<g clip-path="url(#cp8)">
<path d="M98.20 451.93C98.01 449.58 97.91 446.06 96.46 442.53C95.02 439.01 92.61 434.12 89.52 430.79C86.44 427.46 82.39 424.82 77.95 422.57C73.51 420.32 67.73 418.07 62.91 417.29C58.09 416.50 53.46 416.80 49.02 417.87C44.59 418.95 39.76 421.01 36.29 423.75C32.82 426.49 30.02 430.60 28.19 434.31C26.36 438.03 25.45 442.63 25.30 446.06C25.15 449.48 25.92 452.42 27.27 454.86C28.62 457.31 31.32 458.72 33.40 460.73C35.48 462.75 37.39 465.39 39.76 466.96C42.14 468.52 45.22 469.93 47.63 470.13C50.04 470.32 51.97 467.49 54.23 468.13C56.49 468.78 58.41 472.79 61.17 474.00C63.93 475.22 68.11 475.92 70.78 475.41C73.44 474.90 75.91 472.87 77.14 470.95C78.37 469.03 77.08 465.47 78.18 463.91C79.28 462.34 81.27 462.18 83.74 461.56C86.20 460.93 90.68 460.97 92.99 460.15C95.31 459.33 96.75 457.99 97.62 456.62C98.49 455.25 98.39 454.28 98.20 451.93Z" fill="#ffffff" filter="url(#bump)" opacity="0.43" style="mix-blend-mode:multiply"/>
<path d="M98.20 451.93C98.01 449.58 97.91 446.06 96.46 442.53C95.02 439.01 92.61 434.12 89.52 430.79C86.44 427.46 82.39 424.82 77.95 422.57C73.51 420.32 67.73 418.07 62.91 417.29C58.09 416.50 53.46 416.80 49.02 417.87C44.59 418.95 39.76 421.01 36.29 423.75C32.82 426.49 30.02 430.60 28.19 434.31C26.36 438.03 25.45 442.63 25.30 446.06C25.15 449.48 25.92 452.42 27.27 454.86C28.62 457.31 31.32 458.72 33.40 460.73C35.48 462.75 37.39 465.39 39.76 466.96C42.14 468.52 45.22 469.93 47.63 470.13C50.04 470.32 51.97 467.49 54.23 468.13C56.49 468.78 58.41 472.79 61.17 474.00C63.93 475.22 68.11 475.92 70.78 475.41C73.44 474.90 75.91 472.87 77.14 470.95C78.37 469.03 77.08 465.47 78.18 463.91C79.28 462.34 81.27 462.18 83.74 461.56C86.20 460.93 90.68 460.97 92.99 460.15C95.31 459.33 96.75 457.99 97.62 456.62C98.49 455.25 98.39 454.28 98.20 451.93Z" fill="none" stroke="#bcbcbc" stroke-width="3.0" opacity="0.55" filter="url(#bl2)"/>
<path d="M76.3 464.1C65.4 459.4 53.0 464.1 47.2 470.1" fill="none" stroke="#bcbcbc" stroke-width="1.2" opacity="0.6" filter="url(#bl1)"/>
</g>
<path d="M98.20 451.93C98.01 449.58 97.91 446.06 96.46 442.53C95.02 439.01 92.61 434.12 89.52 430.79C86.44 427.46 82.39 424.82 77.95 422.57C73.51 420.32 67.73 418.07 62.91 417.29C58.09 416.50 53.46 416.80 49.02 417.87C44.59 418.95 39.76 421.01 36.29 423.75C32.82 426.49 30.02 430.60 28.19 434.31C26.36 438.03 25.45 442.63 25.30 446.06C25.15 449.48 25.92 452.42 27.27 454.86C28.62 457.31 31.32 458.72 33.40 460.73C35.48 462.75 37.39 465.39 39.76 466.96C42.14 468.52 45.22 469.93 47.63 470.13C50.04 470.32 51.97 467.49 54.23 468.13C56.49 468.78 58.41 472.79 61.17 474.00C63.93 475.22 68.11 475.92 70.78 475.41C73.44 474.90 75.91 472.87 77.14 470.95C78.37 469.03 77.08 465.47 78.18 463.91C79.28 462.34 81.27 462.18 83.74 461.56C86.20 460.93 90.68 460.97 92.99 460.15C95.31 459.33 96.75 457.99 97.62 456.62C98.49 455.25 98.39 454.28 98.20 451.93Z" fill="none" stroke="#c0c0c0" stroke-width="0.5" opacity="0.7"/>
<g stroke="#88a84a" stroke-linecap="round" opacity="0.92"><line x1="49.4" y1="420.4" x2="84.2" y2="443.3" stroke-width="2.18"/><line x1="48.4" y1="448.0" x2="86.9" y2="457.8" stroke-width="1.53"/><line x1="55.3" y1="432.1" x2="84.2" y2="443.3" stroke-width="0.75"/><line x1="45.9" y1="441.2" x2="86.3" y2="446.2" stroke-width="0.62"/><line x1="37.3" y1="442.0" x2="79.6" y2="442.6" stroke-width="0.49"/><line x1="70.0" y1="466.1" x2="87.5" y2="450.2" stroke-width="0.62"/><line x1="52.9" y1="461.3" x2="70.2" y2="450.0" stroke-width="0.49"/><line x1="60.3" y1="430.1" x2="79.6" y2="442.6" stroke-width="0.75"/><line x1="45.1" y1="446.5" x2="87.5" y2="450.2" stroke-width="0.62"/><line x1="52.1" y1="453.1" x2="86.9" y2="457.8" stroke-width="0.75"/><line x1="76.1" y1="438.3" x2="87.4" y2="436.2" stroke-width="0.49"/><line x1="62.6" y1="432.4" x2="71.4" y2="456.1" stroke-width="0.62"/><line x1="70.2" y1="450.0" x2="86.9" y2="457.8" stroke-width="0.62"/><line x1="63.2" y1="458.5" x2="86.3" y2="446.2" stroke-width="0.49"/><line x1="70.0" y1="466.1" x2="71.4" y2="456.1" stroke-width="0.49"/><line x1="45.9" y1="441.2" x2="70.2" y2="450.0" stroke-width="0.62"/></g>
<circle cx="63.2" cy="458.5" r="0.67" fill="url(#nr)"/>
<circle cx="87.4" cy="436.2" r="0.81" fill="url(#nr)"/>
<circle cx="76.1" cy="438.3" r="0.81" fill="url(#np)"/>
<circle cx="47.1" cy="454.6" r="0.81" fill="url(#nb)"/>
<circle cx="50.9" cy="426.0" r="0.94" fill="url(#nc)"/>
<circle cx="62.6" cy="432.4" r="0.94" fill="url(#nc)"/>
<circle cx="65.0" cy="448.4" r="0.94" fill="url(#nm)"/>
<circle cx="57.6" cy="448.0" r="1.07" fill="url(#nm)"/>
<circle cx="60.3" cy="430.1" r="1.34" fill="url(#nc)"/>
<circle cx="52.1" cy="453.1" r="1.48" fill="url(#nr)"/>
<circle cx="52.9" cy="461.3" r="1.48" fill="url(#nr)"/>
<circle cx="90.1" cy="454.3" r="1.48" fill="url(#nr)"/>
<circle cx="71.4" cy="456.1" r="1.61" fill="url(#nn)"/>
<circle cx="87.5" cy="450.2" r="1.75" fill="url(#nr)"/>
<circle cx="70.2" cy="450.0" r="1.75" fill="url(#nn)"/>
<circle cx="48.4" cy="448.0" r="1.88" fill="url(#nr)"/>
<circle cx="70.0" cy="466.1" r="1.88" fill="url(#nr)"/>
<circle cx="86.3" cy="446.2" r="1.88" fill="url(#nr)"/>
<circle cx="79.6" cy="442.6" r="1.88" fill="url(#nk)"/>
<circle cx="42.8" cy="444.1" r="2.01" fill="url(#nr)"/>
<circle cx="86.9" cy="457.8" r="2.01" fill="url(#nr)"/>
<circle cx="49.4" cy="420.4" r="2.15" fill="url(#nc)"/>
<circle cx="45.9" cy="441.2" r="2.15" fill="url(#nr)"/>
<circle cx="55.3" cy="432.1" r="2.28" fill="url(#nc)"/>
<circle cx="37.3" cy="442.0" r="2.28" fill="url(#nr)"/>
<circle cx="45.1" cy="446.5" r="2.28" fill="url(#nr)"/>
<circle cx="84.2" cy="443.3" r="2.55" fill="url(#ny)"/>
<clipPath id="cp9"><path d="M139.50 338.54C137.32 338.54 135.64 336.79 132.97 337.40C130.30 338.01 126.24 339.50 123.47 342.20C120.70 344.91 118.12 349.44 116.34 353.63C114.56 357.83 113.67 362.78 112.78 367.35C111.89 371.93 111.00 376.50 111.00 381.07C111.00 385.65 111.49 390.60 112.78 394.79C114.07 398.98 116.15 403.18 118.72 406.23C121.29 409.27 125.15 411.66 128.22 413.09C131.29 414.51 135.24 414.76 137.12 414.80C139.01 414.84 138.71 413.31 139.50 413.31C140.29 413.31 139.99 414.84 141.88 414.80C143.76 414.76 147.71 414.51 150.78 413.09C153.85 411.66 157.71 409.27 160.28 406.23C162.85 403.18 164.93 398.98 166.22 394.79C167.51 390.60 168.00 385.65 168.00 381.07C168.00 376.50 167.11 371.93 166.22 367.35C165.33 362.78 164.44 357.83 162.66 353.63C160.88 349.44 158.30 344.91 155.53 342.20C152.76 339.50 148.70 338.01 146.03 337.40C143.36 336.79 141.68 338.54 139.50 338.54Z"/></clipPath>
<path d="M139.50 338.54C137.32 338.54 135.64 336.79 132.97 337.40C130.30 338.01 126.24 339.50 123.47 342.20C120.70 344.91 118.12 349.44 116.34 353.63C114.56 357.83 113.67 362.78 112.78 367.35C111.89 371.93 111.00 376.50 111.00 381.07C111.00 385.65 111.49 390.60 112.78 394.79C114.07 398.98 116.15 403.18 118.72 406.23C121.29 409.27 125.15 411.66 128.22 413.09C131.29 414.51 135.24 414.76 137.12 414.80C139.01 414.84 138.71 413.31 139.50 413.31C140.29 413.31 139.99 414.84 141.88 414.80C143.76 414.76 147.71 414.51 150.78 413.09C153.85 411.66 157.71 409.27 160.28 406.23C162.85 403.18 164.93 398.98 166.22 394.79C167.51 390.60 168.00 385.65 168.00 381.07C168.00 376.50 167.11 371.93 166.22 367.35C165.33 362.78 164.44 357.83 162.66 353.63C160.88 349.44 158.30 344.91 155.53 342.20C152.76 339.50 148.70 338.01 146.03 337.40C143.36 336.79 141.68 338.54 139.50 338.54Z" fill="#d2d2d2" opacity="0.6" filter="url(#bl1)"/>
<path d="M139.50 338.54C137.32 338.54 135.64 336.79 132.97 337.40C130.30 338.01 126.24 339.50 123.47 342.20C120.70 344.91 118.12 349.44 116.34 353.63C114.56 357.83 113.67 362.78 112.78 367.35C111.89 371.93 111.00 376.50 111.00 381.07C111.00 385.65 111.49 390.60 112.78 394.79C114.07 398.98 116.15 403.18 118.72 406.23C121.29 409.27 125.15 411.66 128.22 413.09C131.29 414.51 135.24 414.76 137.12 414.80C139.01 414.84 138.71 413.31 139.50 413.31C140.29 413.31 139.99 414.84 141.88 414.80C143.76 414.76 147.71 414.51 150.78 413.09C153.85 411.66 157.71 409.27 160.28 406.23C162.85 403.18 164.93 398.98 166.22 394.79C167.51 390.60 168.00 385.65 168.00 381.07C168.00 376.50 167.11 371.93 166.22 367.35C165.33 362.78 164.44 357.83 162.66 353.63C160.88 349.44 158.30 344.91 155.53 342.20C152.76 339.50 148.70 338.01 146.03 337.40C143.36 336.79 141.68 338.54 139.50 338.54Z" fill="url(#gb)" opacity="0.95"/>
<g clip-path="url(#cp9)">
<path d="M139.50 338.54C137.32 338.54 135.64 336.79 132.97 337.40C130.30 338.01 126.24 339.50 123.47 342.20C120.70 344.91 118.12 349.44 116.34 353.63C114.56 357.83 113.67 362.78 112.78 367.35C111.89 371.93 111.00 376.50 111.00 381.07C111.00 385.65 111.49 390.60 112.78 394.79C114.07 398.98 116.15 403.18 118.72 406.23C121.29 409.27 125.15 411.66 128.22 413.09C131.29 414.51 135.24 414.76 137.12 414.80C139.01 414.84 138.71 413.31 139.50 413.31C140.29 413.31 139.99 414.84 141.88 414.80C143.76 414.76 147.71 414.51 150.78 413.09C153.85 411.66 157.71 409.27 160.28 406.23C162.85 403.18 164.93 398.98 166.22 394.79C167.51 390.60 168.00 385.65 168.00 381.07C168.00 376.50 167.11 371.93 166.22 367.35C165.33 362.78 164.44 357.83 162.66 353.63C160.88 349.44 158.30 344.91 155.53 342.20C152.76 339.50 148.70 338.01 146.03 337.40C143.36 336.79 141.68 338.54 139.50 338.54Z" fill="#ffffff" filter="url(#bump)" opacity="0.43" style="mix-blend-mode:multiply"/>
<path d="M139.50 338.54C137.32 338.54 135.64 336.79 132.97 337.40C130.30 338.01 126.24 339.50 123.47 342.20C120.70 344.91 118.12 349.44 116.34 353.63C114.56 357.83 113.67 362.78 112.78 367.35C111.89 371.93 111.00 376.50 111.00 381.07C111.00 385.65 111.49 390.60 112.78 394.79C114.07 398.98 116.15 403.18 118.72 406.23C121.29 409.27 125.15 411.66 128.22 413.09C131.29 414.51 135.24 414.76 137.12 414.80C139.01 414.84 138.71 413.31 139.50 413.31C140.29 413.31 139.99 414.84 141.88 414.80C143.76 414.76 147.71 414.51 150.78 413.09C153.85 411.66 157.71 409.27 160.28 406.23C162.85 403.18 164.93 398.98 166.22 394.79C167.51 390.60 168.00 385.65 168.00 381.07C168.00 376.50 167.11 371.93 166.22 367.35C165.33 362.78 164.44 357.83 162.66 353.63C160.88 349.44 158.30 344.91 155.53 342.20C152.76 339.50 148.70 338.01 146.03 337.40C143.36 336.79 141.68 338.54 139.50 338.54Z" fill="none" stroke="#bcbcbc" stroke-width="3.0" opacity="0.55" filter="url(#bl2)"/>
<line x1="139.5" y1="337.4" x2="139.5" y2="414.8" stroke="#b4b4b4" stroke-width="1.0" opacity="0.8" filter="url(#bl1)"/>
<line x1="140.4" y1="337.4" x2="140.4" y2="414.8" stroke="#f8f8f8" stroke-width="0.6" opacity="0.9"/>
</g>
<path d="M139.50 338.54C137.32 338.54 135.64 336.79 132.97 337.40C130.30 338.01 126.24 339.50 123.47 342.20C120.70 344.91 118.12 349.44 116.34 353.63C114.56 357.83 113.67 362.78 112.78 367.35C111.89 371.93 111.00 376.50 111.00 381.07C111.00 385.65 111.49 390.60 112.78 394.79C114.07 398.98 116.15 403.18 118.72 406.23C121.29 409.27 125.15 411.66 128.22 413.09C131.29 414.51 135.24 414.76 137.12 414.80C139.01 414.84 138.71 413.31 139.50 413.31C140.29 413.31 139.99 414.84 141.88 414.80C143.76 414.76 147.71 414.51 150.78 413.09C153.85 411.66 157.71 409.27 160.28 406.23C162.85 403.18 164.93 398.98 166.22 394.79C167.51 390.60 168.00 385.65 168.00 381.07C168.00 376.50 167.11 371.93 166.22 367.35C165.33 362.78 164.44 357.83 162.66 353.63C160.88 349.44 158.30 344.91 155.53 342.20C152.76 339.50 148.70 338.01 146.03 337.40C143.36 336.79 141.68 338.54 139.50 338.54Z" fill="none" stroke="#c0c0c0" stroke-width="0.5" opacity="0.7"/>
<g stroke="#88a84a" stroke-linecap="round" opacity="0.92"><line x1="122.1" y1="402.9" x2="122.7" y2="378.1" stroke-width="0.62"/><line x1="162.2" y1="371.7" x2="145.1" y2="397.7" stroke-width="1.14"/><line x1="143.7" y1="393.1" x2="122.7" y2="378.1" stroke-width="0.88"/><line x1="122.7" y1="378.1" x2="165.6" y2="373.4" stroke-width="0.75"/><line x1="134.8" y1="358.2" x2="142.5" y2="360.1" stroke-width="0.75"/><line x1="148.3" y1="353.8" x2="120.4" y2="396.5" stroke-width="0.49"/><line x1="132.4" y1="389.9" x2="141.2" y2="345.7" stroke-width="0.88"/><line x1="142.5" y1="351.3" x2="134.8" y2="358.2" stroke-width="1.14"/><line x1="120.4" y1="396.5" x2="142.0" y2="396.0" stroke-width="0.62"/><line x1="141.2" y1="339.9" x2="162.4" y2="376.7" stroke-width="0.62"/><line x1="148.3" y1="353.8" x2="134.5" y2="350.1" stroke-width="1.14"/><line x1="122.1" y1="402.9" x2="162.4" y2="376.7" stroke-width="0.49"/><line x1="141.2" y1="401.7" x2="162.2" y2="371.7" stroke-width="0.62"/><line x1="134.8" y1="358.2" x2="134.5" y2="350.1" stroke-width="0.88"/><line x1="122.7" y1="378.1" x2="143.7" y2="393.1" stroke-width="0.62"/><line x1="162.4" y1="376.7" x2="151.8" y2="380.9" stroke-width="0.49"/><line x1="120.4" y1="396.5" x2="147.7" y2="388.2" stroke-width="0.49"/><line x1="145.1" y1="397.7" x2="122.7" y2="378.1" stroke-width="0.49"/><line x1="141.2" y1="401.7" x2="165.6" y2="373.4" stroke-width="1.14"/><line x1="132.4" y1="389.9" x2="141.2" y2="401.7" stroke-width="1.14"/><line x1="145.1" y1="397.7" x2="117.5" y2="368.2" stroke-width="0.49"/><line x1="122.1" y1="402.9" x2="136.0" y2="347.2" stroke-width="1.14"/><line x1="162.2" y1="371.7" x2="122.7" y2="378.1" stroke-width="0.75"/><line x1="120.4" y1="396.5" x2="120.6" y2="383.5" stroke-width="0.88"/><line x1="122.1" y1="402.9" x2="141.2" y2="345.7" stroke-width="0.75"/><line x1="122.1" y1="402.9" x2="117.5" y2="368.2" stroke-width="1.14"/><line x1="162.2" y1="371.7" x2="122.7" y2="378.1" stroke-width="0.75"/><line x1="154.1" y1="350.6" x2="121.7" y2="352.4" stroke-width="0.88"/><line x1="122.7" y1="378.1" x2="147.7" y2="388.2" stroke-width="0.88"/><line x1="142.5" y1="351.3" x2="134.5" y2="350.1" stroke-width="0.75"/><line x1="148.3" y1="353.8" x2="117.5" y2="368.2" stroke-width="0.62"/><line x1="135.3" y1="394.2" x2="136.0" y2="347.2" stroke-width="1.14"/><line x1="132.4" y1="389.9" x2="120.6" y2="383.5" stroke-width="1.14"/><line x1="135.3" y1="394.2" x2="162.4" y2="376.7" stroke-width="0.88"/><line x1="132.4" y1="389.9" x2="137.9" y2="350.9" stroke-width="0.88"/><line x1="143.7" y1="393.1" x2="151.8" y2="354.7" stroke-width="0.75"/><line x1="135.3" y1="394.2" x2="122.7" y2="378.1" stroke-width="0.88"/><line x1="141.2" y1="401.7" x2="151.8" y2="354.7" stroke-width="0.88"/><line x1="141.2" y1="339.9" x2="137.9" y2="350.9" stroke-width="0.88"/><line x1="143.7" y1="353.6" x2="142.0" y2="396.0" stroke-width="0.88"/><line x1="145.1" y1="397.7" x2="141.2" y2="345.7" stroke-width="1.14"/><line x1="135.3" y1="394.2" x2="143.7" y2="393.1" stroke-width="0.49"/><line x1="120.4" y1="396.5" x2="136.0" y2="347.2" stroke-width="1.14"/><line x1="137.9" y1="350.9" x2="134.8" y2="358.2" stroke-width="0.75"/><line x1="120.4" y1="396.5" x2="141.2" y2="401.7" stroke-width="1.14"/><line x1="141.2" y1="339.9" x2="148.3" y2="353.8" stroke-width="0.88"/><line x1="121.7" y1="352.4" x2="122.1" y2="402.9" stroke-width="1.14"/><line x1="135.3" y1="394.2" x2="141.2" y2="401.7" stroke-width="0.49"/><line x1="132.4" y1="389.9" x2="135.3" y2="394.2" stroke-width="0.62"/><line x1="143.7" y1="393.1" x2="120.6" y2="383.5" stroke-width="0.88"/><line x1="137.9" y1="350.9" x2="145.1" y2="397.7" stroke-width="1.14"/><line x1="143.7" y1="393.1" x2="143.7" y2="353.6" stroke-width="0.88"/><line x1="120.4" y1="396.5" x2="162.4" y2="376.7" stroke-width="0.88"/><line x1="122.1" y1="402.9" x2="141.2" y2="345.7" stroke-width="0.49"/><line x1="121.7" y1="352.4" x2="120.6" y2="383.5" stroke-width="0.62"/><line x1="147.7" y1="388.2" x2="136.0" y2="347.2" stroke-width="1.14"/><line x1="143.7" y1="353.6" x2="143.7" y2="393.1" stroke-width="0.88"/><line x1="120.4" y1="396.5" x2="148.3" y2="353.8" stroke-width="0.49"/><line x1="151.8" y1="380.9" x2="122.7" y2="378.1" stroke-width="0.62"/><line x1="143.7" y1="393.1" x2="143.7" y2="353.6" stroke-width="1.14"/><line x1="151.8" y1="354.7" x2="122.1" y2="402.9" stroke-width="1.14"/><line x1="120.4" y1="396.5" x2="135.3" y2="394.2" stroke-width="0.88"/><line x1="148.3" y1="353.8" x2="143.7" y2="353.6" stroke-width="0.49"/><line x1="132.4" y1="389.9" x2="154.1" y2="350.6" stroke-width="0.49"/><line x1="132.4" y1="389.9" x2="134.5" y2="350.1" stroke-width="0.62"/><line x1="148.3" y1="353.8" x2="151.8" y2="380.9" stroke-width="0.75"/><line x1="122.1" y1="402.9" x2="135.3" y2="394.2" stroke-width="0.88"/><line x1="122.1" y1="402.9" x2="145.1" y2="397.7" stroke-width="0.88"/><line x1="141.2" y1="401.7" x2="141.2" y2="345.7" stroke-width="0.88"/><line x1="148.3" y1="353.8" x2="154.1" y2="350.6" stroke-width="0.88"/><line x1="122.1" y1="402.9" x2="141.2" y2="345.7" stroke-width="0.88"/><line x1="122.1" y1="402.9" x2="143.7" y2="353.6" stroke-width="0.75"/><line x1="121.7" y1="352.4" x2="120.6" y2="383.5" stroke-width="0.88"/><line x1="121.7" y1="352.4" x2="132.4" y2="389.9" stroke-width="1.53"/><line x1="121.7" y1="352.4" x2="135.3" y2="394.2" stroke-width="1.27"/><line x1="148.3" y1="353.8" x2="143.7" y2="393.1" stroke-width="1.27"/><line x1="141.2" y1="339.9" x2="141.2" y2="401.7" stroke-width="1.14"/><line x1="162.2" y1="371.7" x2="135.3" y2="394.2" stroke-width="1.01"/><line x1="122.1" y1="402.9" x2="141.2" y2="401.7" stroke-width="1.27"/><line x1="120.4" y1="396.5" x2="143.7" y2="393.1" stroke-width="1.14"/><line x1="151.8" y1="354.7" x2="162.2" y2="371.7" stroke-width="1.14"/></g>
<circle cx="114.2" cy="380.4" r="0.80" fill="url(#nm)"/>
<circle cx="126.9" cy="382.1" r="0.80" fill="url(#nm)"/>
<circle cx="136.8" cy="361.9" r="0.80" fill="url(#nm)"/>
<circle cx="142.5" cy="377.5" r="0.80" fill="url(#nc)"/>
<circle cx="118.9" cy="374.8" r="0.80" fill="url(#nc)"/>
<circle cx="166.2" cy="376.0" r="0.80" fill="url(#nr)"/>
<circle cx="130.6" cy="350.1" r="0.93" fill="url(#nr)"/>
<circle cx="161.3" cy="389.6" r="0.93" fill="url(#nk)"/>
<circle cx="156.1" cy="379.8" r="0.93" fill="url(#nm)"/>
<circle cx="116.6" cy="374.0" r="0.93" fill="url(#nm)"/>
<circle cx="117.1" cy="379.8" r="0.93" fill="url(#nc)"/>
<circle cx="159.3" cy="382.7" r="0.93" fill="url(#nc)"/>
<circle cx="156.2" cy="402.0" r="0.93" fill="url(#nr)"/>
<circle cx="136.0" cy="347.2" r="1.20" fill="url(#nr)"/>
<circle cx="141.2" cy="345.7" r="1.33" fill="url(#nr)"/>
<circle cx="137.9" cy="350.9" r="1.33" fill="url(#nr)"/>
<circle cx="143.7" cy="353.6" r="1.33" fill="url(#nr)"/>
<circle cx="117.5" cy="368.2" r="1.33" fill="url(#npk)" opacity="0.85"/>
<circle cx="125.2" cy="386.4" r="1.33" fill="url(#nr)"/>
<circle cx="142.5" cy="351.3" r="1.46" fill="url(#nr)"/>
<circle cx="142.5" cy="360.1" r="1.46" fill="url(#nk)"/>
<circle cx="151.8" cy="380.9" r="1.59" fill="url(#nm)"/>
<circle cx="142.0" cy="396.0" r="1.59" fill="url(#nr)"/>
<circle cx="145.1" cy="397.7" r="1.59" fill="url(#nr)"/>
<circle cx="134.5" cy="350.1" r="1.73" fill="url(#nr)"/>
<circle cx="154.1" cy="350.6" r="1.73" fill="url(#ny)"/>
<circle cx="134.8" cy="358.2" r="1.73" fill="url(#nk)"/>
<circle cx="162.4" cy="376.7" r="1.73" fill="url(#nm)"/>
<circle cx="147.7" cy="388.2" r="1.73" fill="url(#nc)"/>
<circle cx="165.6" cy="373.4" r="1.99" fill="url(#nc)"/>
<circle cx="120.6" cy="383.5" r="1.99" fill="url(#nc)"/>
<circle cx="141.2" cy="339.9" r="2.13" fill="url(#nr)"/>
<circle cx="122.7" cy="378.1" r="2.13" fill="url(#nc)"/>
<circle cx="151.8" cy="354.7" r="2.26" fill="url(#nk)"/>
<circle cx="132.4" cy="389.9" r="2.26" fill="url(#nc)"/>
<circle cx="120.4" cy="396.5" r="2.26" fill="url(#nr)"/>
<circle cx="122.1" cy="402.9" r="2.26" fill="url(#nr)"/>
<circle cx="162.2" cy="371.7" r="2.39" fill="url(#nm)"/>
<circle cx="143.7" cy="393.1" r="2.39" fill="url(#nr)"/>
<circle cx="148.3" cy="353.8" r="2.66" fill="url(#nr)"/>
<circle cx="121.7" cy="352.4" r="2.92" fill="url(#ny)"/>
<circle cx="135.3" cy="394.2" r="2.92" fill="url(#nr)"/>
<circle cx="141.2" cy="401.7" r="3.06" fill="url(#nb)"/>
<clipPath id="cp10"><path d="M139.50 494.25C137.32 494.25 135.64 496.01 132.97 495.40C130.30 494.79 126.24 493.30 123.47 490.58C120.70 487.86 118.12 483.31 116.34 479.10C114.56 474.89 113.67 469.92 112.78 465.33C111.89 460.74 111.00 456.15 111.00 451.56C111.00 446.97 111.49 441.99 112.78 437.78C114.07 433.58 116.15 429.37 118.72 426.31C121.29 423.25 125.15 420.86 128.22 419.42C131.29 417.99 135.24 417.74 137.12 417.70C139.01 417.66 138.71 419.19 139.50 419.19C140.29 419.19 139.99 417.66 141.88 417.70C143.76 417.74 147.71 417.99 150.78 419.42C153.85 420.86 157.71 423.25 160.28 426.31C162.85 429.37 164.93 433.58 166.22 437.78C167.51 441.99 168.00 446.97 168.00 451.56C168.00 456.15 167.11 460.74 166.22 465.33C165.33 469.92 164.44 474.89 162.66 479.10C160.88 483.31 158.30 487.86 155.53 490.58C152.76 493.30 148.70 494.79 146.03 495.40C143.36 496.01 141.68 494.25 139.50 494.25Z"/></clipPath>
<path d="M139.50 494.25C137.32 494.25 135.64 496.01 132.97 495.40C130.30 494.79 126.24 493.30 123.47 490.58C120.70 487.86 118.12 483.31 116.34 479.10C114.56 474.89 113.67 469.92 112.78 465.33C111.89 460.74 111.00 456.15 111.00 451.56C111.00 446.97 111.49 441.99 112.78 437.78C114.07 433.58 116.15 429.37 118.72 426.31C121.29 423.25 125.15 420.86 128.22 419.42C131.29 417.99 135.24 417.74 137.12 417.70C139.01 417.66 138.71 419.19 139.50 419.19C140.29 419.19 139.99 417.66 141.88 417.70C143.76 417.74 147.71 417.99 150.78 419.42C153.85 420.86 157.71 423.25 160.28 426.31C162.85 429.37 164.93 433.58 166.22 437.78C167.51 441.99 168.00 446.97 168.00 451.56C168.00 456.15 167.11 460.74 166.22 465.33C165.33 469.92 164.44 474.89 162.66 479.10C160.88 483.31 158.30 487.86 155.53 490.58C152.76 493.30 148.70 494.79 146.03 495.40C143.36 496.01 141.68 494.25 139.50 494.25Z" fill="#d2d2d2" opacity="0.6" filter="url(#bl1)"/>
<path d="M139.50 494.25C137.32 494.25 135.64 496.01 132.97 495.40C130.30 494.79 126.24 493.30 123.47 490.58C120.70 487.86 118.12 483.31 116.34 479.10C114.56 474.89 113.67 469.92 112.78 465.33C111.89 460.74 111.00 456.15 111.00 451.56C111.00 446.97 111.49 441.99 112.78 437.78C114.07 433.58 116.15 429.37 118.72 426.31C121.29 423.25 125.15 420.86 128.22 419.42C131.29 417.99 135.24 417.74 137.12 417.70C139.01 417.66 138.71 419.19 139.50 419.19C140.29 419.19 139.99 417.66 141.88 417.70C143.76 417.74 147.71 417.99 150.78 419.42C153.85 420.86 157.71 423.25 160.28 426.31C162.85 429.37 164.93 433.58 166.22 437.78C167.51 441.99 168.00 446.97 168.00 451.56C168.00 456.15 167.11 460.74 166.22 465.33C165.33 469.92 164.44 474.89 162.66 479.10C160.88 483.31 158.30 487.86 155.53 490.58C152.76 493.30 148.70 494.79 146.03 495.40C143.36 496.01 141.68 494.25 139.50 494.25Z" fill="url(#gb)" opacity="0.95"/>
<g clip-path="url(#cp10)">
<path d="M139.50 494.25C137.32 494.25 135.64 496.01 132.97 495.40C130.30 494.79 126.24 493.30 123.47 490.58C120.70 487.86 118.12 483.31 116.34 479.10C114.56 474.89 113.67 469.92 112.78 465.33C111.89 460.74 111.00 456.15 111.00 451.56C111.00 446.97 111.49 441.99 112.78 437.78C114.07 433.58 116.15 429.37 118.72 426.31C121.29 423.25 125.15 420.86 128.22 419.42C131.29 417.99 135.24 417.74 137.12 417.70C139.01 417.66 138.71 419.19 139.50 419.19C140.29 419.19 139.99 417.66 141.88 417.70C143.76 417.74 147.71 417.99 150.78 419.42C153.85 420.86 157.71 423.25 160.28 426.31C162.85 429.37 164.93 433.58 166.22 437.78C167.51 441.99 168.00 446.97 168.00 451.56C168.00 456.15 167.11 460.74 166.22 465.33C165.33 469.92 164.44 474.89 162.66 479.10C160.88 483.31 158.30 487.86 155.53 490.58C152.76 493.30 148.70 494.79 146.03 495.40C143.36 496.01 141.68 494.25 139.50 494.25Z" fill="#ffffff" filter="url(#bump)" opacity="0.43" style="mix-blend-mode:multiply"/>
<path d="M139.50 494.25C137.32 494.25 135.64 496.01 132.97 495.40C130.30 494.79 126.24 493.30 123.47 490.58C120.70 487.86 118.12 483.31 116.34 479.10C114.56 474.89 113.67 469.92 112.78 465.33C111.89 460.74 111.00 456.15 111.00 451.56C111.00 446.97 111.49 441.99 112.78 437.78C114.07 433.58 116.15 429.37 118.72 426.31C121.29 423.25 125.15 420.86 128.22 419.42C131.29 417.99 135.24 417.74 137.12 417.70C139.01 417.66 138.71 419.19 139.50 419.19C140.29 419.19 139.99 417.66 141.88 417.70C143.76 417.74 147.71 417.99 150.78 419.42C153.85 420.86 157.71 423.25 160.28 426.31C162.85 429.37 164.93 433.58 166.22 437.78C167.51 441.99 168.00 446.97 168.00 451.56C168.00 456.15 167.11 460.74 166.22 465.33C165.33 469.92 164.44 474.89 162.66 479.10C160.88 483.31 158.30 487.86 155.53 490.58C152.76 493.30 148.70 494.79 146.03 495.40C143.36 496.01 141.68 494.25 139.50 494.25Z" fill="none" stroke="#bcbcbc" stroke-width="3.0" opacity="0.55" filter="url(#bl2)"/>
<line x1="139.5" y1="495.4" x2="139.5" y2="417.7" stroke="#b4b4b4" stroke-width="1.0" opacity="0.8" filter="url(#bl1)"/>
<line x1="140.4" y1="495.4" x2="140.4" y2="417.7" stroke="#f8f8f8" stroke-width="0.6" opacity="0.9"/>
</g>
<path d="M139.50 494.25C137.32 494.25 135.64 496.01 132.97 495.40C130.30 494.79 126.24 493.30 123.47 490.58C120.70 487.86 118.12 483.31 116.34 479.10C114.56 474.89 113.67 469.92 112.78 465.33C111.89 460.74 111.00 456.15 111.00 451.56C111.00 446.97 111.49 441.99 112.78 437.78C114.07 433.58 116.15 429.37 118.72 426.31C121.29 423.25 125.15 420.86 128.22 419.42C131.29 417.99 135.24 417.74 137.12 417.70C139.01 417.66 138.71 419.19 139.50 419.19C140.29 419.19 139.99 417.66 141.88 417.70C143.76 417.74 147.71 417.99 150.78 419.42C153.85 420.86 157.71 423.25 160.28 426.31C162.85 429.37 164.93 433.58 166.22 437.78C167.51 441.99 168.00 446.97 168.00 451.56C168.00 456.15 167.11 460.74 166.22 465.33C165.33 469.92 164.44 474.89 162.66 479.10C160.88 483.31 158.30 487.86 155.53 490.58C152.76 493.30 148.70 494.79 146.03 495.40C143.36 496.01 141.68 494.25 139.50 494.25Z" fill="none" stroke="#c0c0c0" stroke-width="0.5" opacity="0.7"/>
<g stroke="#88a84a" stroke-linecap="round" opacity="0.92"><line x1="134.8" y1="437.7" x2="142.5" y2="481.3" stroke-width="0.75"/><line x1="141.2" y1="430.7" x2="125.0" y2="464.2" stroke-width="0.75"/><line x1="151.8" y1="477.0" x2="151.8" y2="451.2" stroke-width="0.75"/><line x1="132.4" y1="442.1" x2="151.8" y2="477.0" stroke-width="0.49"/><line x1="154.3" y1="481.8" x2="120.6" y2="435.6" stroke-width="0.62"/><line x1="151.8" y1="477.0" x2="142.5" y2="481.3" stroke-width="0.62"/><line x1="151.8" y1="477.0" x2="117.1" y2="464.0" stroke-width="0.75"/><line x1="136.2" y1="485.6" x2="132.4" y2="442.1" stroke-width="0.88"/><line x1="134.8" y1="474.3" x2="147.5" y2="444.3" stroke-width="0.62"/><line x1="134.8" y1="474.3" x2="165.1" y2="457.3" stroke-width="0.88"/><line x1="120.6" y1="435.6" x2="137.7" y2="441.1" stroke-width="0.49"/><line x1="122.0" y1="479.3" x2="141.2" y2="430.7" stroke-width="1.14"/><line x1="142.5" y1="438.6" x2="141.2" y2="430.7" stroke-width="0.88"/><line x1="122.0" y1="479.3" x2="147.5" y2="444.3" stroke-width="0.49"/><line x1="122.3" y1="429.4" x2="134.8" y2="474.3" stroke-width="0.75"/><line x1="122.3" y1="429.4" x2="147.7" y2="480.1" stroke-width="0.88"/><line x1="151.8" y1="477.0" x2="133.6" y2="445.0" stroke-width="0.62"/><line x1="122.0" y1="479.3" x2="134.8" y2="437.7" stroke-width="0.75"/><line x1="151.8" y1="477.0" x2="159.3" y2="450.2" stroke-width="0.49"/><line x1="147.5" y1="444.3" x2="134.7" y2="483.0" stroke-width="0.62"/><line x1="147.7" y1="480.1" x2="141.2" y2="492.8" stroke-width="0.62"/><line x1="136.2" y1="485.6" x2="132.7" y2="464.2" stroke-width="0.88"/><line x1="120.6" y1="435.6" x2="136.2" y2="485.6" stroke-width="0.49"/><line x1="142.5" y1="481.3" x2="141.7" y2="484.5" stroke-width="0.62"/><line x1="141.2" y1="430.7" x2="134.7" y2="483.0" stroke-width="0.88"/><line x1="134.8" y1="437.7" x2="165.1" y2="457.3" stroke-width="1.14"/><line x1="165.1" y1="457.3" x2="125.0" y2="464.2" stroke-width="0.49"/><line x1="134.8" y1="437.7" x2="137.7" y2="441.1" stroke-width="0.49"/><line x1="122.0" y1="479.3" x2="142.5" y2="438.6" stroke-width="0.75"/><line x1="142.5" y1="438.6" x2="148.0" y2="467.4" stroke-width="0.75"/><line x1="120.6" y1="435.6" x2="142.5" y2="438.6" stroke-width="0.75"/><line x1="120.6" y1="435.6" x2="125.0" y2="464.2" stroke-width="0.49"/><line x1="151.8" y1="477.0" x2="125.2" y2="446.1" stroke-width="0.88"/><line x1="151.8" y1="477.0" x2="142.5" y2="481.3" stroke-width="1.14"/><line x1="137.7" y1="482.2" x2="122.3" y2="429.4" stroke-width="0.62"/><line x1="122.0" y1="479.3" x2="132.4" y2="442.1" stroke-width="0.88"/><line x1="120.6" y1="435.6" x2="122.0" y2="479.3" stroke-width="1.14"/><line x1="122.3" y1="429.4" x2="125.0" y2="464.2" stroke-width="0.75"/><line x1="141.7" y1="484.5" x2="147.7" y2="480.1" stroke-width="0.75"/><line x1="136.2" y1="485.6" x2="122.0" y2="479.3" stroke-width="1.14"/><line x1="122.0" y1="479.3" x2="154.3" y2="481.8" stroke-width="0.75"/><line x1="129.6" y1="465.6" x2="147.7" y2="480.1" stroke-width="0.75"/><line x1="134.8" y1="474.3" x2="122.0" y2="479.3" stroke-width="0.62"/><line x1="117.1" y1="464.0" x2="137.7" y2="441.1" stroke-width="1.14"/><line x1="137.7" y1="441.1" x2="165.1" y2="457.3" stroke-width="1.14"/><line x1="122.3" y1="429.4" x2="142.5" y2="438.6" stroke-width="1.14"/><line x1="142.5" y1="438.6" x2="125.0" y2="464.2" stroke-width="0.75"/><line x1="151.8" y1="451.2" x2="134.8" y2="437.7" stroke-width="1.14"/><line x1="147.5" y1="444.3" x2="134.8" y2="437.7" stroke-width="1.14"/><line x1="122.0" y1="479.3" x2="165.1" y2="457.3" stroke-width="0.62"/><line x1="122.0" y1="479.3" x2="142.5" y2="438.6" stroke-width="0.75"/><line x1="147.7" y1="480.1" x2="137.7" y2="482.2" stroke-width="0.49"/><line x1="120.6" y1="435.6" x2="151.8" y2="477.0" stroke-width="1.14"/><line x1="122.3" y1="429.4" x2="129.6" y2="465.6" stroke-width="1.14"/><line x1="120.6" y1="435.6" x2="141.2" y2="430.7" stroke-width="0.75"/><line x1="137.7" y1="482.2" x2="134.8" y2="474.3" stroke-width="0.75"/><line x1="122.0" y1="479.3" x2="142.5" y2="481.3" stroke-width="0.75"/><line x1="141.2" y1="430.7" x2="147.7" y2="480.1" stroke-width="1.14"/><line x1="142.5" y1="438.6" x2="147.7" y2="480.1" stroke-width="0.75"/><line x1="151.8" y1="451.2" x2="134.8" y2="474.3" stroke-width="1.14"/><line x1="122.0" y1="479.3" x2="133.6" y2="445.0" stroke-width="0.75"/><line x1="122.3" y1="429.4" x2="134.8" y2="474.3" stroke-width="0.49"/><line x1="134.8" y1="437.7" x2="142.5" y2="438.6" stroke-width="0.49"/><line x1="151.8" y1="477.0" x2="134.7" y2="483.0" stroke-width="0.75"/><line x1="134.8" y1="437.7" x2="129.6" y2="465.6" stroke-width="0.88"/><line x1="122.3" y1="429.4" x2="151.8" y2="451.2" stroke-width="0.75"/><line x1="134.8" y1="437.7" x2="120.6" y2="448.1" stroke-width="0.49"/><line x1="122.3" y1="429.4" x2="142.5" y2="481.3" stroke-width="0.62"/><line x1="122.3" y1="429.4" x2="120.6" y2="435.6" stroke-width="0.75"/><line x1="134.8" y1="437.7" x2="141.7" y2="484.5" stroke-width="1.14"/><line x1="122.0" y1="479.3" x2="151.8" y2="451.2" stroke-width="0.49"/><line x1="148.0" y1="467.4" x2="137.7" y2="482.2" stroke-width="1.14"/><line x1="141.2" y1="430.7" x2="148.0" y2="467.4" stroke-width="0.62"/><line x1="120.6" y1="435.6" x2="137.7" y2="482.2" stroke-width="0.62"/><line x1="122.3" y1="429.4" x2="141.2" y2="430.7" stroke-width="1.66"/><line x1="120.6" y1="435.6" x2="141.2" y2="430.7" stroke-width="1.40"/><line x1="122.0" y1="479.3" x2="165.1" y2="457.3" stroke-width="1.27"/><line x1="137.7" y1="441.1" x2="137.7" y2="482.2" stroke-width="1.40"/><line x1="142.5" y1="438.6" x2="142.5" y2="481.3" stroke-width="1.40"/><line x1="134.8" y1="437.7" x2="134.7" y2="483.0" stroke-width="1.14"/><line x1="122.0" y1="479.3" x2="147.5" y2="444.3" stroke-width="1.14"/><line x1="141.2" y1="430.7" x2="141.2" y2="492.8" stroke-width="0.88"/></g>
<circle cx="117.7" cy="458.5" r="0.66" fill="url(#nc)"/>
<circle cx="114.8" cy="452.1" r="0.66" fill="url(#nm)"/>
<circle cx="155.8" cy="452.7" r="0.66" fill="url(#nm)"/>
<circle cx="154.1" cy="463.7" r="0.66" fill="url(#np)"/>
<circle cx="116.2" cy="457.0" r="0.80" fill="url(#nr)"/>
<circle cx="161.0" cy="443.5" r="0.80" fill="url(#nc)"/>
<circle cx="139.4" cy="456.7" r="0.80" fill="url(#nc)"/>
<circle cx="126.9" cy="451.0" r="0.80" fill="url(#nm)"/>
<circle cx="161.6" cy="459.6" r="0.80" fill="url(#nm)"/>
<circle cx="131.0" cy="482.7" r="0.80" fill="url(#nr)"/>
<circle cx="132.5" cy="440.0" r="0.93" fill="url(#nb)"/>
<circle cx="156.2" cy="431.1" r="0.93" fill="url(#nr)"/>
<circle cx="126.9" cy="443.8" r="0.93" fill="url(#nc)"/>
<circle cx="122.3" cy="453.9" r="0.93" fill="url(#nc)"/>
<circle cx="166.2" cy="460.2" r="0.93" fill="url(#nc)"/>
<circle cx="129.6" cy="465.6" r="1.20" fill="url(#ns)"/>
<circle cx="148.0" cy="467.4" r="1.20" fill="url(#ns)"/>
<circle cx="136.2" cy="485.6" r="1.20" fill="url(#nr)"/>
<circle cx="141.7" cy="484.5" r="1.20" fill="url(#nr)"/>
<circle cx="133.6" cy="445.0" r="1.33" fill="url(#nr)"/>
<circle cx="125.2" cy="446.1" r="1.33" fill="url(#nr)"/>
<circle cx="159.3" cy="450.2" r="1.33" fill="url(#nc)"/>
<circle cx="125.0" cy="464.2" r="1.33" fill="url(#np)"/>
<circle cx="151.8" cy="451.2" r="1.46" fill="url(#nm)"/>
<circle cx="134.8" cy="474.3" r="1.46" fill="url(#nk)"/>
<circle cx="132.4" cy="442.1" r="1.59" fill="url(#nc)"/>
<circle cx="147.5" cy="444.3" r="1.59" fill="url(#nc)"/>
<circle cx="132.7" cy="464.2" r="1.59" fill="url(#ns)"/>
<circle cx="137.7" cy="482.2" r="1.59" fill="url(#nr)"/>
<circle cx="147.7" cy="480.1" r="1.59" fill="url(#nr)"/>
<circle cx="117.1" cy="464.0" r="1.73" fill="url(#nr)"/>
<circle cx="120.6" cy="448.1" r="1.73" fill="url(#nc)"/>
<circle cx="154.3" cy="481.8" r="1.73" fill="url(#ny)"/>
<circle cx="134.7" cy="483.0" r="1.73" fill="url(#nr)"/>
<circle cx="137.7" cy="441.1" r="1.86" fill="url(#nr)"/>
<circle cx="142.5" cy="481.3" r="1.86" fill="url(#nr)"/>
<circle cx="141.2" cy="492.8" r="1.99" fill="url(#nr)"/>
<circle cx="122.3" cy="429.4" r="2.13" fill="url(#nr)"/>
<circle cx="120.6" cy="435.6" r="2.13" fill="url(#nr)"/>
<circle cx="165.1" cy="457.3" r="2.26" fill="url(#nr)"/>
<circle cx="151.8" cy="477.0" r="2.26" fill="url(#nk)"/>
<circle cx="134.8" cy="437.7" r="2.39" fill="url(#nrp)"/>
<circle cx="142.5" cy="438.6" r="2.39" fill="url(#nr)"/>
<circle cx="122.0" cy="479.3" r="2.66" fill="url(#ny)"/>
<circle cx="141.2" cy="430.7" r="3.06" fill="url(#nb)"/>
<clipPath id="cp11"><path d="M252.70 386.92C252.51 384.51 252.41 380.90 250.95 377.29C249.49 373.68 247.05 368.66 243.94 365.25C240.82 361.84 236.73 359.13 232.26 356.82C227.78 354.51 221.94 352.20 217.07 351.40C212.20 350.60 207.53 350.90 203.05 352.00C198.57 353.11 193.70 355.21 190.20 358.02C186.69 360.83 183.87 365.05 182.02 368.86C180.17 372.67 179.26 377.39 179.10 380.90C178.94 384.41 179.72 387.42 181.09 389.93C182.45 392.44 185.17 393.88 187.28 395.95C189.38 398.02 191.31 400.72 193.70 402.33C196.10 403.93 199.21 405.38 201.65 405.58C204.08 405.78 206.03 402.87 208.31 403.53C210.58 404.20 212.53 408.31 215.32 409.55C218.10 410.80 222.33 411.52 225.01 411.00C227.70 410.48 230.19 408.39 231.44 406.42C232.68 404.46 231.38 400.80 232.49 399.20C233.60 397.59 235.60 397.43 238.10 396.79C240.59 396.15 245.11 396.19 247.44 395.35C249.78 394.50 251.24 393.14 252.12 391.73C252.99 390.33 252.89 389.33 252.70 386.92Z"/></clipPath>
<path d="M252.70 386.92C252.51 384.51 252.41 380.90 250.95 377.29C249.49 373.68 247.05 368.66 243.94 365.25C240.82 361.84 236.73 359.13 232.26 356.82C227.78 354.51 221.94 352.20 217.07 351.40C212.20 350.60 207.53 350.90 203.05 352.00C198.57 353.11 193.70 355.21 190.20 358.02C186.69 360.83 183.87 365.05 182.02 368.86C180.17 372.67 179.26 377.39 179.10 380.90C178.94 384.41 179.72 387.42 181.09 389.93C182.45 392.44 185.17 393.88 187.28 395.95C189.38 398.02 191.31 400.72 193.70 402.33C196.10 403.93 199.21 405.38 201.65 405.58C204.08 405.78 206.03 402.87 208.31 403.53C210.58 404.20 212.53 408.31 215.32 409.55C218.10 410.80 222.33 411.52 225.01 411.00C227.70 410.48 230.19 408.39 231.44 406.42C232.68 404.46 231.38 400.80 232.49 399.20C233.60 397.59 235.60 397.43 238.10 396.79C240.59 396.15 245.11 396.19 247.44 395.35C249.78 394.50 251.24 393.14 252.12 391.73C252.99 390.33 252.89 389.33 252.70 386.92Z" fill="#d2d2d2" opacity="0.6" filter="url(#bl1)"/>
<path d="M252.70 386.92C252.51 384.51 252.41 380.90 250.95 377.29C249.49 373.68 247.05 368.66 243.94 365.25C240.82 361.84 236.73 359.13 232.26 356.82C227.78 354.51 221.94 352.20 217.07 351.40C212.20 350.60 207.53 350.90 203.05 352.00C198.57 353.11 193.70 355.21 190.20 358.02C186.69 360.83 183.87 365.05 182.02 368.86C180.17 372.67 179.26 377.39 179.10 380.90C178.94 384.41 179.72 387.42 181.09 389.93C182.45 392.44 185.17 393.88 187.28 395.95C189.38 398.02 191.31 400.72 193.70 402.33C196.10 403.93 199.21 405.38 201.65 405.58C204.08 405.78 206.03 402.87 208.31 403.53C210.58 404.20 212.53 408.31 215.32 409.55C218.10 410.80 222.33 411.52 225.01 411.00C227.70 410.48 230.19 408.39 231.44 406.42C232.68 404.46 231.38 400.80 232.49 399.20C233.60 397.59 235.60 397.43 238.10 396.79C240.59 396.15 245.11 396.19 247.44 395.35C249.78 394.50 251.24 393.14 252.12 391.73C252.99 390.33 252.89 389.33 252.70 386.92Z" fill="url(#gb)" opacity="0.95"/>
<g clip-path="url(#cp11)">
<path d="M252.70 386.92C252.51 384.51 252.41 380.90 250.95 377.29C249.49 373.68 247.05 368.66 243.94 365.25C240.82 361.84 236.73 359.13 232.26 356.82C227.78 354.51 221.94 352.20 217.07 351.40C212.20 350.60 207.53 350.90 203.05 352.00C198.57 353.11 193.70 355.21 190.20 358.02C186.69 360.83 183.87 365.05 182.02 368.86C180.17 372.67 179.26 377.39 179.10 380.90C178.94 384.41 179.72 387.42 181.09 389.93C182.45 392.44 185.17 393.88 187.28 395.95C189.38 398.02 191.31 400.72 193.70 402.33C196.10 403.93 199.21 405.38 201.65 405.58C204.08 405.78 206.03 402.87 208.31 403.53C210.58 404.20 212.53 408.31 215.32 409.55C218.10 410.80 222.33 411.52 225.01 411.00C227.70 410.48 230.19 408.39 231.44 406.42C232.68 404.46 231.38 400.80 232.49 399.20C233.60 397.59 235.60 397.43 238.10 396.79C240.59 396.15 245.11 396.19 247.44 395.35C249.78 394.50 251.24 393.14 252.12 391.73C252.99 390.33 252.89 389.33 252.70 386.92Z" fill="#ffffff" filter="url(#bump)" opacity="0.43" style="mix-blend-mode:multiply"/>
<path d="M252.70 386.92C252.51 384.51 252.41 380.90 250.95 377.29C249.49 373.68 247.05 368.66 243.94 365.25C240.82 361.84 236.73 359.13 232.26 356.82C227.78 354.51 221.94 352.20 217.07 351.40C212.20 350.60 207.53 350.90 203.05 352.00C198.57 353.11 193.70 355.21 190.20 358.02C186.69 360.83 183.87 365.05 182.02 368.86C180.17 372.67 179.26 377.39 179.10 380.90C178.94 384.41 179.72 387.42 181.09 389.93C182.45 392.44 185.17 393.88 187.28 395.95C189.38 398.02 191.31 400.72 193.70 402.33C196.10 403.93 199.21 405.38 201.65 405.58C204.08 405.78 206.03 402.87 208.31 403.53C210.58 404.20 212.53 408.31 215.32 409.55C218.10 410.80 222.33 411.52 225.01 411.00C227.70 410.48 230.19 408.39 231.44 406.42C232.68 404.46 231.38 400.80 232.49 399.20C233.60 397.59 235.60 397.43 238.10 396.79C240.59 396.15 245.11 396.19 247.44 395.35C249.78 394.50 251.24 393.14 252.12 391.73C252.99 390.33 252.89 389.33 252.70 386.92Z" fill="none" stroke="#bcbcbc" stroke-width="3.0" opacity="0.55" filter="url(#bl2)"/>
<path d="M230.6 399.4C219.6 394.6 207.1 399.4 201.2 405.5" fill="none" stroke="#bcbcbc" stroke-width="1.2" opacity="0.6" filter="url(#bl1)"/>
</g>
<path d="M252.70 386.92C252.51 384.51 252.41 380.90 250.95 377.29C249.49 373.68 247.05 368.66 243.94 365.25C240.82 361.84 236.73 359.13 232.26 356.82C227.78 354.51 221.94 352.20 217.07 351.40C212.20 350.60 207.53 350.90 203.05 352.00C198.57 353.11 193.70 355.21 190.20 358.02C186.69 360.83 183.87 365.05 182.02 368.86C180.17 372.67 179.26 377.39 179.10 380.90C178.94 384.41 179.72 387.42 181.09 389.93C182.45 392.44 185.17 393.88 187.28 395.95C189.38 398.02 191.31 400.72 193.70 402.33C196.10 403.93 199.21 405.38 201.65 405.58C204.08 405.78 206.03 402.87 208.31 403.53C210.58 404.20 212.53 408.31 215.32 409.55C218.10 410.80 222.33 411.52 225.01 411.00C227.70 410.48 230.19 408.39 231.44 406.42C232.68 404.46 231.38 400.80 232.49 399.20C233.60 397.59 235.60 397.43 238.10 396.79C240.59 396.15 245.11 396.19 247.44 395.35C249.78 394.50 251.24 393.14 252.12 391.73C252.99 390.33 252.89 389.33 252.70 386.92Z" fill="none" stroke="#c0c0c0" stroke-width="0.5" opacity="0.7"/>
<g stroke="#88a84a" stroke-linecap="round" opacity="0.92"><line x1="203.8" y1="356.4" x2="229.9" y2="371.3" stroke-width="1.66"/><line x1="199.2" y1="380.0" x2="235.5" y2="366.0" stroke-width="0.88"/><line x1="191.6" y1="377.1" x2="235.5" y2="375.9" stroke-width="0.75"/><line x1="216.7" y1="396.7" x2="239.6" y2="390.3" stroke-width="1.40"/><line x1="199.2" y1="380.0" x2="216.7" y2="396.7" stroke-width="0.88"/><line x1="219.4" y1="382.1" x2="235.5" y2="375.9" stroke-width="1.40"/><line x1="201.6" y1="373.6" x2="238.1" y2="370.1" stroke-width="0.75"/><line x1="197.0" y1="372.1" x2="235.5" y2="366.0" stroke-width="0.75"/><line x1="199.2" y1="380.0" x2="239.8" y2="381.2" stroke-width="0.62"/><line x1="195.8" y1="375.9" x2="218.4" y2="376.3" stroke-width="0.62"/><line x1="209.5" y1="390.0" x2="199.2" y2="380.0" stroke-width="0.62"/><line x1="214.9" y1="384.7" x2="249.7" y2="390.0" stroke-width="0.75"/><line x1="205.1" y1="360.8" x2="235.5" y2="375.9" stroke-width="0.62"/><line x1="201.6" y1="373.6" x2="239.6" y2="390.3" stroke-width="0.62"/><line x1="210.6" y1="382.4" x2="244.5" y2="380.6" stroke-width="0.49"/><line x1="226.0" y1="387.6" x2="249.7" y2="390.0" stroke-width="0.62"/><line x1="202.8" y1="371.3" x2="231.1" y2="376.3" stroke-width="0.62"/><line x1="216.7" y1="396.7" x2="199.2" y2="380.0" stroke-width="0.62"/></g>
<circle cx="219.1" cy="373.3" r="0.67" fill="url(#nc)"/>
<circle cx="214.5" cy="354.1" r="0.81" fill="url(#nc)"/>
<circle cx="203.6" cy="378.1" r="0.81" fill="url(#nt)"/>
<circle cx="209.8" cy="372.7" r="0.81" fill="url(#np)"/>
<circle cx="222.1" cy="390.0" r="0.81" fill="url(#np)"/>
<circle cx="241.8" cy="395.2" r="0.81" fill="url(#nr)"/>
<circle cx="205.9" cy="394.1" r="0.81" fill="url(#nr)"/>
<circle cx="231.1" cy="376.3" r="0.81" fill="url(#nk)"/>
<circle cx="235.1" cy="389.1" r="0.81" fill="url(#nk)"/>
<circle cx="228.5" cy="391.7" r="0.81" fill="url(#nk)"/>
<circle cx="202.8" cy="371.3" r="0.94" fill="url(#nk)"/>
<circle cx="205.1" cy="360.8" r="1.07" fill="url(#nc)"/>
<circle cx="212.0" cy="378.9" r="1.07" fill="url(#np)"/>
<circle cx="210.6" cy="382.4" r="1.21" fill="url(#nm)"/>
<circle cx="226.0" cy="387.6" r="1.21" fill="url(#ns)"/>
<circle cx="209.5" cy="390.0" r="1.34" fill="url(#nt)"/>
<circle cx="197.0" cy="372.1" r="1.48" fill="url(#nr)"/>
<circle cx="195.8" cy="375.9" r="1.48" fill="url(#nr)"/>
<circle cx="244.5" cy="380.6" r="1.48" fill="url(#nry)"/>
<circle cx="201.6" cy="373.6" r="1.61" fill="url(#nr)"/>
<circle cx="238.1" cy="370.1" r="1.61" fill="url(#nry)"/>
<circle cx="239.8" cy="381.2" r="1.61" fill="url(#ny)"/>
<circle cx="218.4" cy="376.3" r="1.88" fill="url(#nc)"/>
<circle cx="203.8" cy="356.4" r="2.01" fill="url(#nc)"/>
<circle cx="214.9" cy="384.7" r="2.01" fill="url(#nm)"/>
<circle cx="239.6" cy="390.3" r="2.01" fill="url(#nrp)"/>
<circle cx="249.7" cy="390.0" r="2.15" fill="url(#nr)"/>
<circle cx="216.7" cy="396.7" r="2.28" fill="url(#nr)"/>
<circle cx="235.5" cy="375.9" r="2.28" fill="url(#nk)"/>
<circle cx="219.4" cy="382.1" r="2.69" fill="url(#nm)"/>
<circle cx="235.5" cy="366.0" r="2.69" fill="url(#nr)"/>
<circle cx="191.6" cy="377.1" r="2.95" fill="url(#nb)"/>
<circle cx="199.2" cy="380.0" r="2.95" fill="url(#nrp)"/>
<clipPath id="cp12"><path d="M179.10 451.93C179.29 449.58 179.39 446.06 180.82 442.53C182.26 439.01 184.65 434.12 187.72 430.79C190.78 427.46 194.81 424.82 199.21 422.57C203.62 420.32 209.36 418.07 214.15 417.29C218.94 416.50 223.54 416.80 227.94 417.87C232.35 418.95 237.13 421.01 240.58 423.75C244.03 426.49 246.81 430.60 248.63 434.31C250.45 438.03 251.35 442.63 251.50 446.06C251.65 449.48 250.89 452.42 249.55 454.86C248.21 457.31 245.52 458.72 243.46 460.73C241.39 462.75 239.49 465.39 237.13 466.96C234.78 468.52 231.71 469.93 229.32 470.13C226.93 470.32 225.01 467.49 222.77 468.13C220.53 468.78 218.61 472.79 215.87 474.00C213.14 475.22 208.98 475.92 206.34 475.41C203.69 474.90 201.24 472.87 200.02 470.95C198.79 469.03 200.07 465.47 198.98 463.91C197.89 462.34 195.92 462.18 193.47 461.56C191.01 460.93 186.57 460.97 184.27 460.15C181.97 459.33 180.54 457.99 179.67 456.62C178.81 455.25 178.91 454.28 179.10 451.93Z"/></clipPath>
<path d="M179.10 451.93C179.29 449.58 179.39 446.06 180.82 442.53C182.26 439.01 184.65 434.12 187.72 430.79C190.78 427.46 194.81 424.82 199.21 422.57C203.62 420.32 209.36 418.07 214.15 417.29C218.94 416.50 223.54 416.80 227.94 417.87C232.35 418.95 237.13 421.01 240.58 423.75C244.03 426.49 246.81 430.60 248.63 434.31C250.45 438.03 251.35 442.63 251.50 446.06C251.65 449.48 250.89 452.42 249.55 454.86C248.21 457.31 245.52 458.72 243.46 460.73C241.39 462.75 239.49 465.39 237.13 466.96C234.78 468.52 231.71 469.93 229.32 470.13C226.93 470.32 225.01 467.49 222.77 468.13C220.53 468.78 218.61 472.79 215.87 474.00C213.14 475.22 208.98 475.92 206.34 475.41C203.69 474.90 201.24 472.87 200.02 470.95C198.79 469.03 200.07 465.47 198.98 463.91C197.89 462.34 195.92 462.18 193.47 461.56C191.01 460.93 186.57 460.97 184.27 460.15C181.97 459.33 180.54 457.99 179.67 456.62C178.81 455.25 178.91 454.28 179.10 451.93Z" fill="#d2d2d2" opacity="0.6" filter="url(#bl1)"/>
<path d="M179.10 451.93C179.29 449.58 179.39 446.06 180.82 442.53C182.26 439.01 184.65 434.12 187.72 430.79C190.78 427.46 194.81 424.82 199.21 422.57C203.62 420.32 209.36 418.07 214.15 417.29C218.94 416.50 223.54 416.80 227.94 417.87C232.35 418.95 237.13 421.01 240.58 423.75C244.03 426.49 246.81 430.60 248.63 434.31C250.45 438.03 251.35 442.63 251.50 446.06C251.65 449.48 250.89 452.42 249.55 454.86C248.21 457.31 245.52 458.72 243.46 460.73C241.39 462.75 239.49 465.39 237.13 466.96C234.78 468.52 231.71 469.93 229.32 470.13C226.93 470.32 225.01 467.49 222.77 468.13C220.53 468.78 218.61 472.79 215.87 474.00C213.14 475.22 208.98 475.92 206.34 475.41C203.69 474.90 201.24 472.87 200.02 470.95C198.79 469.03 200.07 465.47 198.98 463.91C197.89 462.34 195.92 462.18 193.47 461.56C191.01 460.93 186.57 460.97 184.27 460.15C181.97 459.33 180.54 457.99 179.67 456.62C178.81 455.25 178.91 454.28 179.10 451.93Z" fill="url(#gb)" opacity="0.95"/>
<g clip-path="url(#cp12)">
<path d="M179.10 451.93C179.29 449.58 179.39 446.06 180.82 442.53C182.26 439.01 184.65 434.12 187.72 430.79C190.78 427.46 194.81 424.82 199.21 422.57C203.62 420.32 209.36 418.07 214.15 417.29C218.94 416.50 223.54 416.80 227.94 417.87C232.35 418.95 237.13 421.01 240.58 423.75C244.03 426.49 246.81 430.60 248.63 434.31C250.45 438.03 251.35 442.63 251.50 446.06C251.65 449.48 250.89 452.42 249.55 454.86C248.21 457.31 245.52 458.72 243.46 460.73C241.39 462.75 239.49 465.39 237.13 466.96C234.78 468.52 231.71 469.93 229.32 470.13C226.93 470.32 225.01 467.49 222.77 468.13C220.53 468.78 218.61 472.79 215.87 474.00C213.14 475.22 208.98 475.92 206.34 475.41C203.69 474.90 201.24 472.87 200.02 470.95C198.79 469.03 200.07 465.47 198.98 463.91C197.89 462.34 195.92 462.18 193.47 461.56C191.01 460.93 186.57 460.97 184.27 460.15C181.97 459.33 180.54 457.99 179.67 456.62C178.81 455.25 178.91 454.28 179.10 451.93Z" fill="#ffffff" filter="url(#bump)" opacity="0.43" style="mix-blend-mode:multiply"/>
<path d="M179.10 451.93C179.29 449.58 179.39 446.06 180.82 442.53C182.26 439.01 184.65 434.12 187.72 430.79C190.78 427.46 194.81 424.82 199.21 422.57C203.62 420.32 209.36 418.07 214.15 417.29C218.94 416.50 223.54 416.80 227.94 417.87C232.35 418.95 237.13 421.01 240.58 423.75C244.03 426.49 246.81 430.60 248.63 434.31C250.45 438.03 251.35 442.63 251.50 446.06C251.65 449.48 250.89 452.42 249.55 454.86C248.21 457.31 245.52 458.72 243.46 460.73C241.39 462.75 239.49 465.39 237.13 466.96C234.78 468.52 231.71 469.93 229.32 470.13C226.93 470.32 225.01 467.49 222.77 468.13C220.53 468.78 218.61 472.79 215.87 474.00C213.14 475.22 208.98 475.92 206.34 475.41C203.69 474.90 201.24 472.87 200.02 470.95C198.79 469.03 200.07 465.47 198.98 463.91C197.89 462.34 195.92 462.18 193.47 461.56C191.01 460.93 186.57 460.97 184.27 460.15C181.97 459.33 180.54 457.99 179.67 456.62C178.81 455.25 178.91 454.28 179.10 451.93Z" fill="none" stroke="#bcbcbc" stroke-width="3.0" opacity="0.55" filter="url(#bl2)"/>
<path d="M200.8 464.1C211.7 459.4 224.0 464.1 229.8 470.1" fill="none" stroke="#bcbcbc" stroke-width="1.2" opacity="0.6" filter="url(#bl1)"/>
</g>
<path d="M179.10 451.93C179.29 449.58 179.39 446.06 180.82 442.53C182.26 439.01 184.65 434.12 187.72 430.79C190.78 427.46 194.81 424.82 199.21 422.57C203.62 420.32 209.36 418.07 214.15 417.29C218.94 416.50 223.54 416.80 227.94 417.87C232.35 418.95 237.13 421.01 240.58 423.75C244.03 426.49 246.81 430.60 248.63 434.31C250.45 438.03 251.35 442.63 251.50 446.06C251.65 449.48 250.89 452.42 249.55 454.86C248.21 457.31 245.52 458.72 243.46 460.73C241.39 462.75 239.49 465.39 237.13 466.96C234.78 468.52 231.71 469.93 229.32 470.13C226.93 470.32 225.01 467.49 222.77 468.13C220.53 468.78 218.61 472.79 215.87 474.00C213.14 475.22 208.98 475.92 206.34 475.41C203.69 474.90 201.24 472.87 200.02 470.95C198.79 469.03 200.07 465.47 198.98 463.91C197.89 462.34 195.92 462.18 193.47 461.56C191.01 460.93 186.57 460.97 184.27 460.15C181.97 459.33 180.54 457.99 179.67 456.62C178.81 455.25 178.91 454.28 179.10 451.93Z" fill="none" stroke="#c0c0c0" stroke-width="0.5" opacity="0.7"/>
<g stroke="#88a84a" stroke-linecap="round" opacity="0.92"><line x1="196.0" y1="431.3" x2="232.6" y2="445.9" stroke-width="1.40"/><line x1="227.2" y1="421.7" x2="200.1" y2="440.6" stroke-width="1.40"/><line x1="193.3" y1="435.7" x2="234.3" y2="437.3" stroke-width="0.88"/><line x1="181.4" y1="455.6" x2="232.6" y2="445.9" stroke-width="1.01"/><line x1="192.2" y1="455.8" x2="214.9" y2="462.5" stroke-width="1.40"/><line x1="214.9" y1="462.5" x2="232.6" y2="445.9" stroke-width="0.88"/><line x1="196.0" y1="441.2" x2="229.7" y2="439.2" stroke-width="0.75"/><line x1="191.7" y1="446.5" x2="232.6" y2="445.9" stroke-width="0.88"/><line x1="186.9" y1="446.2" x2="220.8" y2="447.4" stroke-width="0.75"/><line x1="194.6" y1="444.1" x2="236.1" y2="440.6" stroke-width="0.75"/><line x1="192.2" y1="455.8" x2="221.7" y2="455.6" stroke-width="0.75"/><line x1="205.6" y1="453.1" x2="232.6" y2="445.9" stroke-width="0.62"/><line x1="196.0" y1="431.3" x2="229.7" y2="439.2" stroke-width="0.75"/><line x1="200.3" y1="441.2" x2="239.8" y2="442.4" stroke-width="0.75"/><line x1="181.4" y1="455.6" x2="214.9" y2="462.5" stroke-width="0.75"/><line x1="193.3" y1="435.7" x2="232.6" y2="445.9" stroke-width="0.75"/><line x1="225.2" y1="459.6" x2="232.6" y2="445.9" stroke-width="0.62"/><line x1="211.8" y1="446.8" x2="234.3" y2="437.3" stroke-width="0.49"/></g>
<circle cx="228.1" cy="443.3" r="0.67" fill="url(#nc)"/>
<circle cx="221.4" cy="437.9" r="0.67" fill="url(#np)"/>
<circle cx="189.6" cy="460.8" r="0.81" fill="url(#nr)"/>
<circle cx="196.4" cy="454.6" r="0.81" fill="url(#nk)"/>
<circle cx="202.7" cy="457.3" r="0.81" fill="url(#nk)"/>
<circle cx="219.1" cy="444.5" r="0.81" fill="url(#nm)"/>
<circle cx="209.2" cy="455.6" r="0.81" fill="url(#np)"/>
<circle cx="226.0" cy="426.6" r="0.94" fill="url(#nc)"/>
<circle cx="225.2" cy="459.6" r="0.94" fill="url(#nr)"/>
<circle cx="216.8" cy="419.9" r="1.07" fill="url(#nc)"/>
<circle cx="236.1" cy="440.6" r="1.21" fill="url(#nr)"/>
<circle cx="221.7" cy="455.6" r="1.34" fill="url(#nt)"/>
<circle cx="186.9" cy="446.2" r="1.34" fill="url(#nr)"/>
<circle cx="194.6" cy="444.1" r="1.34" fill="url(#nr)"/>
<circle cx="220.8" cy="447.4" r="1.34" fill="url(#nm)"/>
<circle cx="229.7" cy="439.2" r="1.34" fill="url(#nr)"/>
<circle cx="216.8" cy="450.5" r="1.48" fill="url(#nm)"/>
<circle cx="205.6" cy="453.1" r="1.48" fill="url(#nn)"/>
<circle cx="234.3" cy="437.3" r="1.48" fill="url(#nr)"/>
<circle cx="200.3" cy="441.2" r="1.61" fill="url(#nk)"/>
<circle cx="211.8" cy="446.8" r="1.61" fill="url(#nm)"/>
<circle cx="191.7" cy="446.5" r="1.75" fill="url(#ny)"/>
<circle cx="212.7" cy="442.1" r="1.88" fill="url(#nc)"/>
<circle cx="193.3" cy="435.7" r="2.01" fill="url(#nrp)"/>
<circle cx="227.2" cy="421.7" r="2.15" fill="url(#nc)"/>
<circle cx="181.4" cy="455.6" r="2.28" fill="url(#nr)"/>
<circle cx="192.2" cy="455.8" r="2.28" fill="url(#nr)"/>
<circle cx="214.9" cy="462.5" r="2.28" fill="url(#nrp)"/>
<circle cx="196.0" cy="431.3" r="2.69" fill="url(#nrp)"/>
<circle cx="196.0" cy="441.2" r="2.69" fill="url(#nk)"/>
<circle cx="232.6" cy="445.9" r="2.95" fill="url(#nr)"/>
<circle cx="239.8" cy="442.4" r="3.22" fill="url(#nb)"/>
<text x="0.00" y="149.50" font-size="11" font-weight="bold" fill="#000">b</text>
<text x="17.60" y="148.70" font-size="8.3" fill="#222" textLength="118.50" lengthAdjust="spacingAndGlyphs">Region-to-region connectivity</text>
<text x="11.80" y="236.70" font-size="9" text-anchor="middle" fill="#222" transform="rotate(-90 11.80 236.70)" textLength="110.00" lengthAdjust="spacingAndGlyphs">Hyperconnectivity in ADHD</text>
<text x="11.80" y="411.50" font-size="9" text-anchor="middle" fill="#222" transform="rotate(-90 11.80 411.50)" textLength="106.00" lengthAdjust="spacingAndGlyphs">Hypoconnectivity in ADHD</text>
<text x="28.60" y="475.90" font-size="8.7" fill="#222">L</text>
<text x="236.20" y="475.80" font-size="8.7" fill="#222">R</text>
<rect x="231.30" y="294.90" width="7.80" height="7.80" fill="#ee2324" stroke="#333" stroke-width="0.5"/>
<text x="243.00" y="301.70" font-size="7.8" fill="#222">DMN</text>
<rect x="231.30" y="305.90" width="7.80" height="7.80" fill="#ffff1a" stroke="#333" stroke-width="0.5"/>
<text x="243.00" y="312.70" font-size="7.8" fill="#222">FPN</text>
<rect x="231.30" y="316.90" width="7.80" height="7.80" fill="#2424dc" stroke="#333" stroke-width="0.5"/>
<text x="243.00" y="323.70" font-size="7.8" fill="#222">VIS</text>
<rect x="231.30" y="327.90" width="7.80" height="7.80" fill="#b5562a" stroke="#333" stroke-width="0.5"/>
<text x="243.00" y="334.70" font-size="7.8" fill="#222">SUB</text>
<rect x="231.30" y="338.90" width="7.80" height="7.80" fill="#96229a" stroke="#333" stroke-width="0.5"/>
<text x="243.00" y="345.70" font-size="7.8" fill="#222">CON</text>
<rect x="271.20" y="294.90" width="7.80" height="7.80" fill="#000000" stroke="#333" stroke-width="0.5"/>
<text x="282.80" y="301.70" font-size="7.8" fill="#222">SAN</text>
<rect x="271.20" y="305.90" width="7.80" height="7.80" fill="#228b8d" stroke="#333" stroke-width="0.5"/>
<text x="282.80" y="312.70" font-size="7.8" fill="#222">VAN</text>
<rect x="271.20" y="316.90" width="7.80" height="7.80" fill="#26ee26" stroke="#333" stroke-width="0.5"/>
<text x="282.80" y="323.70" font-size="7.8" fill="#222">DAN</text>
<rect x="271.20" y="327.90" width="7.80" height="7.80" fill="#ff26ff" stroke="#333" stroke-width="0.5"/>
<text x="282.80" y="334.70" font-size="7.8" fill="#222">AUD</text>
<rect x="271.20" y="338.90" width="7.80" height="7.80" fill="#1affff" stroke="#333" stroke-width="0.5"/>
<text x="282.80" y="345.70" font-size="7.8" fill="#222">SMN</text>
<line x1="66.00" y1="506.90" x2="84.40" y2="506.90" stroke="#b5d28c" stroke-width="1.0"/>
<text x="88.00" y="509.40" font-size="8.8" fill="#222" textLength="73.20" lengthAdjust="spacingAndGlyphs">Hyperconnectivity</text>
<line x1="173.40" y1="506.90" x2="191.70" y2="506.90" stroke="#f6c35a" stroke-width="1.0"/>
<text x="194.80" y="509.40" font-size="8.8" fill="#222" textLength="69.50" lengthAdjust="spacingAndGlyphs">Hypoconnectivity</text>
<rect x="492.25" y="169.05" width="11.57" height="11.57" fill="#fff1e3"/>
<rect x="492.25" y="181.12" width="11.57" height="11.57" fill="#fdb97d"/>
<rect x="504.32" y="181.12" width="11.57" height="11.57" fill="#fff1e3"/>
<rect x="492.25" y="193.19" width="11.57" height="11.57" fill="#ffefdf"/>
<rect x="504.32" y="193.19" width="11.57" height="11.57" fill="#fff1e3"/>
<rect x="516.39" y="193.19" width="11.57" height="11.57" fill="#fff1e3"/>
<rect x="492.25" y="205.26" width="11.57" height="11.57" fill="#fdb06f"/>
<rect x="504.32" y="205.26" width="11.57" height="11.57" fill="#fff1e3"/>
<rect x="516.39" y="205.26" width="11.57" height="11.57" fill="#fff1e3"/>
<rect x="528.46" y="205.26" width="11.57" height="11.57" fill="#fff1e3"/>
<rect x="492.25" y="217.33" width="11.57" height="11.57" fill="#fdc28c"/>
<rect x="504.32" y="217.33" width="11.57" height="11.57" fill="#fff1e3"/>
<rect x="516.39" y="217.33" width="11.57" height="11.57" fill="#fd9f55"/>
<rect x="528.46" y="217.33" width="11.57" height="11.57" fill="#fff1e3"/>
<rect x="540.53" y="217.33" width="11.57" height="11.57" fill="#fff1e3"/>
<rect x="492.25" y="229.40" width="11.57" height="11.57" fill="#fda762"/>
<rect x="504.32" y="229.40" width="11.57" height="11.57" fill="#fff1e3"/>
<rect x="516.39" y="229.40" width="11.57" height="11.57" fill="#fdcb9b"/>
<rect x="528.46" y="229.40" width="11.57" height="11.57" fill="#fff1e3"/>
<rect x="540.53" y="229.40" width="11.57" height="11.57" fill="#fff1e3"/>
<rect x="552.60" y="229.40" width="11.57" height="11.57" fill="#fff1e3"/>
<rect x="492.25" y="241.47" width="11.57" height="11.57" fill="#fff1e3"/>
<rect x="504.32" y="241.47" width="11.57" height="11.57" fill="#fff1e3"/>
<rect x="516.39" y="241.47" width="11.57" height="11.57" fill="#fff1e3"/>
<rect x="528.46" y="241.47" width="11.57" height="11.57" fill="#fff1e3"/>
<rect x="540.53" y="241.47" width="11.57" height="11.57" fill="#fff1e3"/>
<rect x="552.60" y="241.47" width="11.57" height="11.57" fill="#fff1e3"/>
<rect x="564.67" y="241.47" width="11.57" height="11.57" fill="#fff1e3"/>
<rect x="492.25" y="253.54" width="11.57" height="11.57" fill="#fff1e3"/>
<rect x="504.32" y="253.54" width="11.57" height="11.57" fill="#fff1e3"/>
<rect x="516.39" y="253.54" width="11.57" height="11.57" fill="#fff1e3"/>
<rect x="528.46" y="253.54" width="11.57" height="11.57" fill="#fff1e3"/>
<rect x="540.53" y="253.54" width="11.57" height="11.57" fill="#fdd9b4"/>
<rect x="552.60" y="253.54" width="11.57" height="11.57" fill="#fff1e3"/>
<rect x="564.67" y="253.54" width="11.57" height="11.57" fill="#fff1e3"/>
<rect x="576.74" y="253.54" width="11.57" height="11.57" fill="#fff1e3"/>
<rect x="492.25" y="265.61" width="11.57" height="11.57" fill="#c54102"/>
<rect x="504.32" y="265.61" width="11.57" height="11.57" fill="#fff1e3"/>
<rect x="516.39" y="265.61" width="11.57" height="11.57" fill="#fedfbf"/>
<rect x="528.46" y="265.61" width="11.57" height="11.57" fill="#fff1e3"/>
<rect x="540.53" y="265.61" width="11.57" height="11.57" fill="#fff1e3"/>
<rect x="552.60" y="265.61" width="11.57" height="11.57" fill="#fff1e3"/>
<rect x="564.67" y="265.61" width="11.57" height="11.57" fill="#fff1e3"/>
<rect x="576.74" y="265.61" width="11.57" height="11.57" fill="#fff1e3"/>
<rect x="588.81" y="265.61" width="11.57" height="11.57" fill="#fff1e3"/>
<rect x="492.25" y="277.68" width="11.57" height="11.57" fill="#ffefdf"/>
<rect x="504.32" y="277.68" width="11.57" height="11.57" fill="#fff1e3"/>
<rect x="516.39" y="277.68" width="11.57" height="11.57" fill="#fff1e3"/>
<rect x="528.46" y="277.68" width="11.57" height="11.57" fill="#fff1e3"/>
<rect x="540.53" y="277.68" width="11.57" height="11.57" fill="#fff1e3"/>
<rect x="552.60" y="277.68" width="11.57" height="11.57" fill="#fff1e3"/>
<rect x="564.67" y="277.68" width="11.57" height="11.57" fill="#fff1e3"/>
<rect x="576.74" y="277.68" width="11.57" height="11.57" fill="#fff1e3"/>
<rect x="588.81" y="277.68" width="11.57" height="11.57" fill="#fff1e3"/>
<rect x="600.88" y="277.68" width="11.57" height="11.57" fill="#fff1e3"/>
<rect x="492.25" y="289.75" width="11.57" height="11.57" fill="#fff1e3"/>
<rect x="504.32" y="289.75" width="11.57" height="11.57" fill="#fff1e3"/>
<rect x="516.39" y="289.75" width="11.57" height="11.57" fill="#fff1e3"/>
<rect x="528.46" y="289.75" width="11.57" height="11.57" fill="#fff1e3"/>
<rect x="540.53" y="289.75" width="11.57" height="11.57" fill="#fff1e3"/>
<rect x="552.60" y="289.75" width="11.57" height="11.57" fill="#fff1e3"/>
<rect x="564.67" y="289.75" width="11.57" height="11.57" fill="#fff1e3"/>
<rect x="576.74" y="289.75" width="11.57" height="11.57" fill="#fff1e3"/>
<rect x="588.81" y="289.75" width="11.57" height="11.57" fill="#fff1e3"/>
<rect x="600.88" y="289.75" width="11.57" height="11.57" fill="#fff1e3"/>
<rect x="612.95" y="289.75" width="11.57" height="11.57" fill="#fff1e3"/>
<line x1="488.40" y1="174.84" x2="491.20" y2="174.84" stroke="#222" stroke-width="0.7"/>
<text x="485.60" y="176.94" font-size="6.0" text-anchor="end" fill="#222">DMN</text>
<line x1="496.40" y1="302.27" x2="496.40" y2="304.97" stroke="#222" stroke-width="0.7"/>
<text x="498.10" y="309.67" font-size="6.0" text-anchor="end" fill="#222" transform="rotate(-45 498.10 309.67)">DMN</text>
<line x1="488.40" y1="186.91" x2="491.20" y2="186.91" stroke="#222" stroke-width="0.7"/>
<text x="485.60" y="189.00" font-size="6.0" text-anchor="end" fill="#222">FPN</text>
<line x1="508.71" y1="302.27" x2="508.71" y2="304.97" stroke="#222" stroke-width="0.7"/>
<text x="510.41" y="309.67" font-size="6.0" text-anchor="end" fill="#222" transform="rotate(-45 510.41 309.67)">FPN</text>
<line x1="488.40" y1="198.98" x2="491.20" y2="198.98" stroke="#222" stroke-width="0.7"/>
<text x="485.60" y="201.08" font-size="6.0" text-anchor="end" fill="#222">VIS</text>
<line x1="521.02" y1="302.27" x2="521.02" y2="304.97" stroke="#222" stroke-width="0.7"/>
<text x="522.72" y="309.67" font-size="6.0" text-anchor="end" fill="#222" transform="rotate(-45 522.72 309.67)">VIS</text>
<line x1="488.40" y1="211.05" x2="491.20" y2="211.05" stroke="#222" stroke-width="0.7"/>
<text x="485.60" y="213.15" font-size="6.0" text-anchor="end" fill="#222">SUB</text>
<line x1="533.33" y1="302.27" x2="533.33" y2="304.97" stroke="#222" stroke-width="0.7"/>
<text x="535.03" y="309.67" font-size="6.0" text-anchor="end" fill="#222" transform="rotate(-45 535.03 309.67)">SUB</text>
<line x1="488.40" y1="223.12" x2="491.20" y2="223.12" stroke="#222" stroke-width="0.7"/>
<text x="485.60" y="225.22" font-size="6.0" text-anchor="end" fill="#222">CON</text>
<line x1="545.64" y1="302.27" x2="545.64" y2="304.97" stroke="#222" stroke-width="0.7"/>
<text x="547.34" y="309.67" font-size="6.0" text-anchor="end" fill="#222" transform="rotate(-45 547.34 309.67)">CON</text>
<line x1="488.40" y1="235.19" x2="491.20" y2="235.19" stroke="#222" stroke-width="0.7"/>
<text x="485.60" y="237.28" font-size="6.0" text-anchor="end" fill="#222">SAN</text>
<line x1="557.95" y1="302.27" x2="557.95" y2="304.97" stroke="#222" stroke-width="0.7"/>
<text x="559.65" y="309.67" font-size="6.0" text-anchor="end" fill="#222" transform="rotate(-45 559.65 309.67)">SAN</text>
<line x1="488.40" y1="247.25" x2="491.20" y2="247.25" stroke="#222" stroke-width="0.7"/>
<text x="485.60" y="249.35" font-size="6.0" text-anchor="end" fill="#222">VAN</text>
<line x1="570.26" y1="302.27" x2="570.26" y2="304.97" stroke="#222" stroke-width="0.7"/>
<text x="571.96" y="309.67" font-size="6.0" text-anchor="end" fill="#222" transform="rotate(-45 571.96 309.67)">VAN</text>
<line x1="488.40" y1="259.33" x2="491.20" y2="259.33" stroke="#222" stroke-width="0.7"/>
<text x="485.60" y="261.43" font-size="6.0" text-anchor="end" fill="#222">DAN</text>
<line x1="582.57" y1="302.27" x2="582.57" y2="304.97" stroke="#222" stroke-width="0.7"/>
<text x="584.27" y="309.67" font-size="6.0" text-anchor="end" fill="#222" transform="rotate(-45 584.27 309.67)">DAN</text>
<line x1="488.40" y1="271.39" x2="491.20" y2="271.39" stroke="#222" stroke-width="0.7"/>
<text x="485.60" y="273.50" font-size="6.0" text-anchor="end" fill="#222">AUD</text>
<line x1="594.88" y1="302.27" x2="594.88" y2="304.97" stroke="#222" stroke-width="0.7"/>
<text x="596.58" y="309.67" font-size="6.0" text-anchor="end" fill="#222" transform="rotate(-45 596.58 309.67)">AUD</text>
<line x1="488.40" y1="283.47" x2="491.20" y2="283.47" stroke="#222" stroke-width="0.7"/>
<text x="485.60" y="285.57" font-size="6.0" text-anchor="end" fill="#222">SMN</text>
<line x1="607.19" y1="302.27" x2="607.19" y2="304.97" stroke="#222" stroke-width="0.7"/>
<text x="608.89" y="309.67" font-size="6.0" text-anchor="end" fill="#222" transform="rotate(-45 608.89 309.67)">SMN</text>
<line x1="488.40" y1="295.54" x2="491.20" y2="295.54" stroke="#222" stroke-width="0.7"/>
<text x="485.60" y="297.64" font-size="6.0" text-anchor="end" fill="#222">CN</text>
<line x1="619.50" y1="302.27" x2="619.50" y2="304.97" stroke="#222" stroke-width="0.7"/>
<text x="621.20" y="309.67" font-size="6.0" text-anchor="end" fill="#222" transform="rotate(-45 621.20 309.67)">CN</text>
<text x="468.20" y="242.50" font-size="7.2" text-anchor="middle" fill="#222" transform="rotate(-90 468.20 242.50)">Network</text>
<text x="549.50" y="330.60" font-size="7.2" text-anchor="middle" fill="#222">Network</text>
<defs><linearGradient id="cbO" x1="0" x2="0" y1="1" y2="0"><stop offset="0.000" stop-color="#fff5eb"/><stop offset="0.125" stop-color="#fee6ce"/><stop offset="0.250" stop-color="#fdd0a2"/><stop offset="0.375" stop-color="#fdae6b"/><stop offset="0.500" stop-color="#fd8d3c"/><stop offset="0.625" stop-color="#f16913"/><stop offset="0.750" stop-color="#d94801"/><stop offset="0.875" stop-color="#a63603"/><stop offset="1.000" stop-color="#7f2704"/></linearGradient></defs>
<rect x="634.10" y="169.00" width="5.90" height="132.60" fill="url(#cbO)"/>
<line x1="640.60" y1="169.00" x2="643.20" y2="169.00" stroke="#222" stroke-width="0.7"/>
<text x="646.00" y="171.70" font-size="7.6" fill="#222">30</text>
<line x1="640.60" y1="191.10" x2="643.20" y2="191.10" stroke="#222" stroke-width="0.7"/>
<text x="646.00" y="193.80" font-size="7.6" fill="#222">25</text>
<line x1="640.60" y1="213.20" x2="643.20" y2="213.20" stroke="#222" stroke-width="0.7"/>
<text x="646.00" y="215.90" font-size="7.6" fill="#222">20</text>
<line x1="640.60" y1="235.30" x2="643.20" y2="235.30" stroke="#222" stroke-width="0.7"/>
<text x="646.00" y="238.00" font-size="7.6" fill="#222">15</text>
<line x1="640.60" y1="257.40" x2="643.20" y2="257.40" stroke="#222" stroke-width="0.7"/>
<text x="646.00" y="260.10" font-size="7.6" fill="#222">10</text>
<line x1="640.60" y1="279.50" x2="643.20" y2="279.50" stroke="#222" stroke-width="0.7"/>
<text x="646.00" y="282.20" font-size="7.6" fill="#222">5</text>
<line x1="640.60" y1="301.60" x2="643.20" y2="301.60" stroke="#222" stroke-width="0.7"/>
<text x="646.00" y="304.30" font-size="7.6" fill="#222">0</text>
<text x="633.10" y="314.70" font-size="8.4" fill="#222" textLength="42.00" lengthAdjust="spacingAndGlyphs">Proportion</text>
<text x="633.10" y="324.70" font-size="8.4" fill="#222" textLength="51.00" lengthAdjust="spacingAndGlyphs">of edges (‰)</text>
<rect x="485.25" y="349.45" width="11.54" height="11.54" fill="#2575b7"/>
<rect x="485.25" y="361.49" width="11.54" height="11.54" fill="#f4f9fe"/>
<rect x="497.29" y="361.49" width="11.54" height="11.54" fill="#f4f9fe"/>
<rect x="485.25" y="373.53" width="11.54" height="11.54" fill="#c9ddf0"/>
<rect x="497.29" y="373.53" width="11.54" height="11.54" fill="#f4f9fe"/>
<rect x="509.33" y="373.53" width="11.54" height="11.54" fill="#f4f9fe"/>
<rect x="485.25" y="385.57" width="11.54" height="11.54" fill="#f4f9fe"/>
<rect x="497.29" y="385.57" width="11.54" height="11.54" fill="#f4f9fe"/>
<rect x="509.33" y="385.57" width="11.54" height="11.54" fill="#f4f9fe"/>
<rect x="521.37" y="385.57" width="11.54" height="11.54" fill="#f4f9fe"/>
<rect x="485.25" y="397.61" width="11.54" height="11.54" fill="#f4f9fe"/>
<rect x="497.29" y="397.61" width="11.54" height="11.54" fill="#e3eef9"/>
<rect x="509.33" y="397.61" width="11.54" height="11.54" fill="#f4f9fe"/>
<rect x="521.37" y="397.61" width="11.54" height="11.54" fill="#f4f9fe"/>
<rect x="533.41" y="397.61" width="11.54" height="11.54" fill="#f4f9fe"/>
<rect x="485.25" y="409.65" width="11.54" height="11.54" fill="#eff6fc"/>
<rect x="497.29" y="409.65" width="11.54" height="11.54" fill="#f4f9fe"/>
<rect x="509.33" y="409.65" width="11.54" height="11.54" fill="#f4f9fe"/>
<rect x="521.37" y="409.65" width="11.54" height="11.54" fill="#f4f9fe"/>
<rect x="533.41" y="409.65" width="11.54" height="11.54" fill="#dceaf6"/>
<rect x="545.45" y="409.65" width="11.54" height="11.54" fill="#f4f9fe"/>
<rect x="485.25" y="421.69" width="11.54" height="11.54" fill="#e8f2fa"/>
<rect x="497.29" y="421.69" width="11.54" height="11.54" fill="#f4f9fe"/>
<rect x="509.33" y="421.69" width="11.54" height="11.54" fill="#f4f9fe"/>
<rect x="521.37" y="421.69" width="11.54" height="11.54" fill="#f4f9fe"/>
<rect x="533.41" y="421.69" width="11.54" height="11.54" fill="#f4f9fe"/>
<rect x="545.45" y="421.69" width="11.54" height="11.54" fill="#d0e1f2"/>
<rect x="557.49" y="421.69" width="11.54" height="11.54" fill="#f4f9fe"/>
<rect x="485.25" y="433.73" width="11.54" height="11.54" fill="#f4f9fe"/>
<rect x="497.29" y="433.73" width="11.54" height="11.54" fill="#f4f9fe"/>
<rect x="509.33" y="433.73" width="11.54" height="11.54" fill="#f4f9fe"/>
<rect x="521.37" y="433.73" width="11.54" height="11.54" fill="#f4f9fe"/>
<rect x="533.41" y="433.73" width="11.54" height="11.54" fill="#f4f9fe"/>
<rect x="545.45" y="433.73" width="11.54" height="11.54" fill="#f4f9fe"/>
<rect x="557.49" y="433.73" width="11.54" height="11.54" fill="#f4f9fe"/>
<rect x="569.53" y="433.73" width="11.54" height="11.54" fill="#f4f9fe"/>
<rect x="485.25" y="445.77" width="11.54" height="11.54" fill="#edf5fc"/>
<rect x="497.29" y="445.77" width="11.54" height="11.54" fill="#b6d4e9"/>
<rect x="509.33" y="445.77" width="11.54" height="11.54" fill="#f4f9fe"/>
<rect x="521.37" y="445.77" width="11.54" height="11.54" fill="#4a98c9"/>
<rect x="533.41" y="445.77" width="11.54" height="11.54" fill="#f4f9fe"/>
<rect x="545.45" y="445.77" width="11.54" height="11.54" fill="#08306b"/>
<rect x="557.49" y="445.77" width="11.54" height="11.54" fill="#f4f9fe"/>
<rect x="569.53" y="445.77" width="11.54" height="11.54" fill="#f4f9fe"/>
<rect x="581.57" y="445.77" width="11.54" height="11.54" fill="#f4f9fe"/>
<rect x="485.25" y="457.81" width="11.54" height="11.54" fill="#edf5fc"/>
<rect x="497.29" y="457.81" width="11.54" height="11.54" fill="#b6d4e9"/>
<rect x="509.33" y="457.81" width="11.54" height="11.54" fill="#f4f9fe"/>
<rect x="521.37" y="457.81" width="11.54" height="11.54" fill="#94c4df"/>
<rect x="533.41" y="457.81" width="11.54" height="11.54" fill="#d0e1f2"/>
<rect x="545.45" y="457.81" width="11.54" height="11.54" fill="#c9ddf0"/>
<rect x="557.49" y="457.81" width="11.54" height="11.54" fill="#e0ecf8"/>
<rect x="569.53" y="457.81" width="11.54" height="11.54" fill="#f4f9fe"/>
<rect x="581.57" y="457.81" width="11.54" height="11.54" fill="#f4f9fe"/>
<rect x="593.61" y="457.81" width="11.54" height="11.54" fill="#f4f9fe"/>
<rect x="485.25" y="469.85" width="11.54" height="11.54" fill="#f4f9fe"/>
<rect x="497.29" y="469.85" width="11.54" height="11.54" fill="#f4f9fe"/>
<rect x="509.33" y="469.85" width="11.54" height="11.54" fill="#f4f9fe"/>
<rect x="521.37" y="469.85" width="11.54" height="11.54" fill="#f4f9fe"/>
<rect x="533.41" y="469.85" width="11.54" height="11.54" fill="#f4f9fe"/>
<rect x="545.45" y="469.85" width="11.54" height="11.54" fill="#f4f9fe"/>
<rect x="557.49" y="469.85" width="11.54" height="11.54" fill="#f4f9fe"/>
<rect x="569.53" y="469.85" width="11.54" height="11.54" fill="#f4f9fe"/>
<rect x="581.57" y="469.85" width="11.54" height="11.54" fill="#f4f9fe"/>
<rect x="593.61" y="469.85" width="11.54" height="11.54" fill="#f4f9fe"/>
<rect x="605.65" y="469.85" width="11.54" height="11.54" fill="#f4f9fe"/>
<line x1="482.70" y1="359.40" x2="485.50" y2="359.40" stroke="#222" stroke-width="0.7"/>
<text x="479.90" y="361.50" font-size="6.0" text-anchor="end" fill="#222">DMN</text>
<line x1="488.90" y1="482.34" x2="488.90" y2="485.04" stroke="#222" stroke-width="0.7"/>
<text x="490.60" y="489.74" font-size="6.0" text-anchor="end" fill="#222" transform="rotate(-45 490.60 489.74)">DMN</text>
<line x1="482.70" y1="371.42" x2="485.50" y2="371.42" stroke="#222" stroke-width="0.7"/>
<text x="479.90" y="373.52" font-size="6.0" text-anchor="end" fill="#222">FPN</text>
<line x1="501.32" y1="482.34" x2="501.32" y2="485.04" stroke="#222" stroke-width="0.7"/>
<text x="503.02" y="489.74" font-size="6.0" text-anchor="end" fill="#222" transform="rotate(-45 503.02 489.74)">FPN</text>
<line x1="482.70" y1="383.44" x2="485.50" y2="383.44" stroke="#222" stroke-width="0.7"/>
<text x="479.90" y="385.54" font-size="6.0" text-anchor="end" fill="#222">VIS</text>
<line x1="513.74" y1="482.34" x2="513.74" y2="485.04" stroke="#222" stroke-width="0.7"/>
<text x="515.44" y="489.74" font-size="6.0" text-anchor="end" fill="#222" transform="rotate(-45 515.44 489.74)">VIS</text>
<line x1="482.70" y1="395.46" x2="485.50" y2="395.46" stroke="#222" stroke-width="0.7"/>
<text x="479.90" y="397.56" font-size="6.0" text-anchor="end" fill="#222">SUB</text>
<line x1="526.16" y1="482.34" x2="526.16" y2="485.04" stroke="#222" stroke-width="0.7"/>
<text x="527.86" y="489.74" font-size="6.0" text-anchor="end" fill="#222" transform="rotate(-45 527.86 489.74)">SUB</text>
<line x1="482.70" y1="407.48" x2="485.50" y2="407.48" stroke="#222" stroke-width="0.7"/>
<text x="479.90" y="409.58" font-size="6.0" text-anchor="end" fill="#222">CON</text>
<line x1="538.58" y1="482.34" x2="538.58" y2="485.04" stroke="#222" stroke-width="0.7"/>
<text x="540.28" y="489.74" font-size="6.0" text-anchor="end" fill="#222" transform="rotate(-45 540.28 489.74)">CON</text>
<line x1="482.70" y1="419.50" x2="485.50" y2="419.50" stroke="#222" stroke-width="0.7"/>
<text x="479.90" y="421.60" font-size="6.0" text-anchor="end" fill="#222">SAN</text>
<line x1="551.00" y1="482.34" x2="551.00" y2="485.04" stroke="#222" stroke-width="0.7"/>
<text x="552.70" y="489.74" font-size="6.0" text-anchor="end" fill="#222" transform="rotate(-45 552.70 489.74)">SAN</text>
<line x1="482.70" y1="431.52" x2="485.50" y2="431.52" stroke="#222" stroke-width="0.7"/>
<text x="479.90" y="433.62" font-size="6.0" text-anchor="end" fill="#222">VAN</text>
<line x1="563.42" y1="482.34" x2="563.42" y2="485.04" stroke="#222" stroke-width="0.7"/>
<text x="565.12" y="489.74" font-size="6.0" text-anchor="end" fill="#222" transform="rotate(-45 565.12 489.74)">VAN</text>
<line x1="482.70" y1="443.54" x2="485.50" y2="443.54" stroke="#222" stroke-width="0.7"/>
<text x="479.90" y="445.64" font-size="6.0" text-anchor="end" fill="#222">DAN</text>
<line x1="575.84" y1="482.34" x2="575.84" y2="485.04" stroke="#222" stroke-width="0.7"/>
<text x="577.54" y="489.74" font-size="6.0" text-anchor="end" fill="#222" transform="rotate(-45 577.54 489.74)">DAN</text>
<line x1="482.70" y1="455.56" x2="485.50" y2="455.56" stroke="#222" stroke-width="0.7"/>
<text x="479.90" y="457.66" font-size="6.0" text-anchor="end" fill="#222">AUD</text>
<line x1="588.26" y1="482.34" x2="588.26" y2="485.04" stroke="#222" stroke-width="0.7"/>
<text x="589.96" y="489.74" font-size="6.0" text-anchor="end" fill="#222" transform="rotate(-45 589.96 489.74)">AUD</text>
<line x1="482.70" y1="467.58" x2="485.50" y2="467.58" stroke="#222" stroke-width="0.7"/>
<text x="479.90" y="469.68" font-size="6.0" text-anchor="end" fill="#222">SMN</text>
<line x1="600.68" y1="482.34" x2="600.68" y2="485.04" stroke="#222" stroke-width="0.7"/>
<text x="602.38" y="489.74" font-size="6.0" text-anchor="end" fill="#222" transform="rotate(-45 602.38 489.74)">SMN</text>
<line x1="482.70" y1="479.60" x2="485.50" y2="479.60" stroke="#222" stroke-width="0.7"/>
<text x="479.90" y="481.70" font-size="6.0" text-anchor="end" fill="#222">CN</text>
<line x1="613.10" y1="482.34" x2="613.10" y2="485.04" stroke="#222" stroke-width="0.7"/>
<text x="614.80" y="489.74" font-size="6.0" text-anchor="end" fill="#222" transform="rotate(-45 614.80 489.74)">CN</text>
<text x="463.20" y="415.40" font-size="7.2" text-anchor="middle" fill="#222" transform="rotate(-90 463.20 415.40)">Network</text>
<text x="549.40" y="510.00" font-size="7.2" text-anchor="middle" fill="#222">Network</text>
<defs><linearGradient id="cbB" x1="0" x2="0" y1="1" y2="0"><stop offset="0.000" stop-color="#f7fbff"/><stop offset="0.125" stop-color="#deebf7"/><stop offset="0.250" stop-color="#c6dbef"/><stop offset="0.375" stop-color="#9ecae1"/><stop offset="0.500" stop-color="#6baed6"/><stop offset="0.625" stop-color="#4292c6"/><stop offset="0.750" stop-color="#2171b5"/><stop offset="0.875" stop-color="#08519c"/><stop offset="1.000" stop-color="#08306b"/></linearGradient></defs>
<rect x="626.60" y="349.40" width="5.60" height="131.80" fill="url(#cbB)"/>
<line x1="632.80" y1="349.40" x2="635.40" y2="349.40" stroke="#222" stroke-width="0.7"/>
<text x="638.50" y="352.10" font-size="7.6" fill="#222">30</text>
<line x1="632.80" y1="371.37" x2="635.40" y2="371.37" stroke="#222" stroke-width="0.7"/>
<text x="638.50" y="374.07" font-size="7.6" fill="#222">25</text>
<line x1="632.80" y1="393.33" x2="635.40" y2="393.33" stroke="#222" stroke-width="0.7"/>
<text x="638.50" y="396.03" font-size="7.6" fill="#222">20</text>
<line x1="632.80" y1="415.30" x2="635.40" y2="415.30" stroke="#222" stroke-width="0.7"/>
<text x="638.50" y="418.00" font-size="7.6" fill="#222">15</text>
<line x1="632.80" y1="437.27" x2="635.40" y2="437.27" stroke="#222" stroke-width="0.7"/>
<text x="638.50" y="439.97" font-size="7.6" fill="#222">10</text>
<line x1="632.80" y1="459.23" x2="635.40" y2="459.23" stroke="#222" stroke-width="0.7"/>
<text x="638.50" y="461.93" font-size="7.6" fill="#222">5</text>
<line x1="632.80" y1="481.20" x2="635.40" y2="481.20" stroke="#222" stroke-width="0.7"/>
<text x="638.50" y="483.90" font-size="7.6" fill="#222">0</text>
<text x="625.90" y="498.60" font-size="8.4" fill="#222" textLength="42.00" lengthAdjust="spacingAndGlyphs">Proportion</text>
<text x="625.90" y="508.50" font-size="8.4" fill="#222" textLength="51.00" lengthAdjust="spacingAndGlyphs">of edges (‰)</text>
<g fill="none" stroke="#ffa414" stroke-linecap="round"><path d="M332.6 213.1C358.9 226.5 375.5 250.7 377.2 281.7" stroke-width="0.45"/><path d="M332.6 213.1C360.6 227.3 388.4 245.6 411.4 264.2" stroke-width="0.35"/><path d="M367.3 281.1C372.8 246.5 391.4 223.7 414.3 208.8" stroke-width="0.9"/><path d="M338.0 264.2C358.8 247.4 386.2 238.9 418.8 251.4" stroke-width="0.35"/><path d="M362.5 188.9C369.5 215.0 395.0 239.9 420.3 246.7" stroke-width="0.45"/><path d="M332.6 213.1C360.0 227.0 364.3 250.5 349.0 274.1" stroke-width="0.45"/><path d="M386.9 280.1C378.3 247.8 390.1 224.5 414.3 208.8" stroke-width="0.3"/><path d="M349.0 194.9C366.7 222.2 368.2 244.5 349.0 274.1" stroke-width="0.55"/><path d="M421.9 237.0C389.2 235.3 389.5 230.5 420.3 222.3" stroke-width="0.45"/><path d="M329.1 222.3C359.2 230.4 386.0 236.3 421.3 241.9" stroke-width="0.3"/><path d="M408.1 267.9C385.6 245.4 384.9 229.3 416.8 213.1" stroke-width="0.7"/><path d="M377.2 281.7C375.5 249.0 389.5 222.5 411.4 204.8" stroke-width="0.35"/><path d="M367.3 187.9C372.2 218.8 371.4 255.4 367.3 281.1" stroke-width="0.9"/><path d="M341.3 201.1C363.1 222.9 357.0 231.7 328.1 227.1" stroke-width="0.55"/><path d="M420.3 246.7C394.7 239.8 388.2 225.7 414.3 208.8" stroke-width="0.9"/><path d="M345.0 197.8C367.2 225.2 371.2 247.4 362.5 280.1" stroke-width="0.7"/><path d="M421.3 227.1C391.2 231.9 373.7 215.0 372.2 187.3" stroke-width="0.7"/><path d="M338.0 204.8C361.1 223.4 358.5 231.9 328.1 227.1" stroke-width="0.7"/><path d="M357.8 278.6C369.8 247.3 392.0 229.9 420.3 222.3" stroke-width="0.7"/><path d="M418.8 251.4C387.0 239.2 393.7 229.4 420.3 222.3" stroke-width="0.7"/><path d="M335.1 208.8C360.9 225.6 357.8 233.6 327.5 232.0" stroke-width="0.35"/><path d="M400.4 194.9C383.0 221.7 365.2 226.8 338.0 204.8" stroke-width="0.3"/><path d="M421.3 241.9C391.7 237.2 384.3 228.3 414.3 208.8" stroke-width="0.3"/><path d="M382.1 187.9C377.3 218.4 377.1 249.5 382.1 281.1" stroke-width="0.7"/><path d="M349.0 274.1C368.0 244.9 383.2 226.0 408.1 201.1" stroke-width="0.35"/><path d="M372.2 187.3C374.1 222.7 358.4 231.9 328.1 227.1" stroke-width="0.55"/><path d="M396.1 276.6C384.0 252.7 386.8 219.6 404.4 197.8" stroke-width="0.55"/><path d="M357.8 190.4C369.7 221.6 385.9 223.3 408.1 201.1" stroke-width="0.35"/><path d="M335.1 208.8C362.5 226.6 354.5 233.4 327.5 232.0" stroke-width="0.55"/><path d="M372.2 281.7C373.8 250.9 383.3 225.9 408.1 201.1" stroke-width="0.55"/><path d="M338.0 204.8C361.2 223.6 375.8 254.9 377.2 281.7" stroke-width="0.35"/><path d="M332.6 213.1C358.5 226.2 393.4 244.0 416.8 255.9" stroke-width="0.3"/><path d="M382.1 187.9C376.7 221.6 387.2 239.3 418.8 251.4" stroke-width="0.9"/><path d="M367.3 187.9C372.5 220.7 393.1 235.5 421.9 237.0" stroke-width="0.35"/><path d="M349.0 194.9C365.2 219.9 362.7 232.6 328.1 227.1" stroke-width="0.9"/><path d="M421.3 227.1C391.5 231.8 371.6 215.0 367.3 187.9" stroke-width="0.7"/><path d="M353.3 276.6C368.5 246.7 386.9 229.8 418.8 217.6" stroke-width="0.7"/><path d="M345.0 271.2C362.1 250.0 384.8 239.7 416.8 255.9" stroke-width="0.9"/><path d="M404.4 271.2C384.3 246.4 385.1 221.7 404.4 197.8" stroke-width="0.35"/><path d="M377.2 187.3C375.6 218.0 355.1 231.4 328.1 227.1" stroke-width="0.7"/><path d="M357.8 190.4C368.4 218.1 390.6 238.8 420.3 246.7" stroke-width="0.7"/><path d="M349.0 274.1C365.3 249.0 388.7 220.5 408.1 201.1" stroke-width="0.35"/><path d="M391.6 278.6C382.0 253.5 388.3 223.5 411.4 204.8" stroke-width="0.45"/><path d="M338.0 264.2C359.0 247.2 369.6 247.9 357.8 278.6" stroke-width="0.45"/><path d="M332.6 213.1C356.8 225.4 386.4 240.4 416.8 255.9" stroke-width="0.35"/><path d="M408.1 201.1C388.9 220.3 362.3 233.8 327.5 232.0" stroke-width="0.35"/><path d="M338.0 204.8C365.0 226.7 362.7 233.9 327.5 232.0" stroke-width="0.55"/><path d="M338.0 204.8C365.3 226.9 364.1 250.9 349.0 274.1" stroke-width="0.55"/><path d="M421.3 227.1C391.1 231.9 379.4 252.1 386.9 280.1" stroke-width="0.35"/><path d="M416.8 213.1C388.2 227.6 356.7 233.6 327.5 232.0" stroke-width="0.3"/><path d="M357.8 190.4C370.4 223.2 390.4 240.5 418.8 251.4" stroke-width="0.45"/><path d="M404.4 271.2C387.5 250.3 389.5 219.7 408.1 201.1" stroke-width="0.3"/><path d="M382.1 187.9C377.6 216.5 357.4 231.8 328.1 227.1" stroke-width="0.45"/><path d="M396.1 192.4C382.0 220.1 373.8 252.5 372.2 281.7" stroke-width="0.35"/><path d="M338.0 204.8C359.8 222.4 358.7 233.7 327.5 232.0" stroke-width="0.3"/><path d="M372.2 281.7C374.1 246.0 389.6 226.9 416.8 213.1" stroke-width="0.7"/><path d="M349.0 194.9C363.7 217.5 367.4 248.7 353.3 276.6" stroke-width="0.35"/><path d="M411.4 264.2C384.8 242.7 384.0 225.2 408.1 201.1" stroke-width="0.35"/><path d="M357.8 190.4C367.1 214.8 354.5 231.3 328.1 227.1" stroke-width="0.3"/><path d="M367.3 187.9C372.0 217.7 387.0 236.5 421.3 241.9" stroke-width="0.9"/><path d="M400.4 274.1C383.3 247.7 389.3 222.6 411.4 204.8" stroke-width="0.45"/><path d="M329.1 222.3C360.2 230.6 389.6 238.5 420.3 246.7" stroke-width="0.45"/><path d="M386.9 188.9C378.7 219.6 382.5 249.8 396.1 276.6" stroke-width="0.3"/><path d="M349.0 194.9C365.2 219.8 370.6 245.3 357.8 278.6" stroke-width="0.35"/><path d="M421.3 227.1C387.5 232.5 390.4 235.3 421.9 237.0" stroke-width="0.9"/><path d="M330.6 217.6C360.8 229.2 385.8 251.6 400.4 274.1" stroke-width="0.7"/><path d="M353.3 192.4C368.9 223.1 363.2 246.0 341.3 267.9" stroke-width="0.3"/><path d="M332.6 213.1C361.9 228.0 381.2 244.5 400.4 274.1" stroke-width="0.9"/><path d="M335.1 208.8C358.0 223.6 354.4 233.4 327.5 232.0" stroke-width="0.55"/><path d="M330.6 217.6C359.0 228.5 387.6 236.5 421.3 241.9" stroke-width="0.7"/><path d="M418.8 217.6C394.3 227.0 355.5 233.5 327.5 232.0" stroke-width="0.45"/><path d="M377.2 187.3C375.4 220.6 362.6 232.6 328.1 227.1" stroke-width="0.9"/><path d="M372.2 281.7C373.7 253.4 386.9 219.5 404.4 197.8" stroke-width="0.55"/><path d="M414.3 208.8C385.1 227.7 360.3 233.7 327.5 232.0" stroke-width="0.7"/><path d="M416.8 213.1C390.9 226.3 355.9 233.5 327.5 232.0" stroke-width="0.35"/><path d="M329.1 246.7C360.0 238.4 379.5 252.3 386.9 280.1" stroke-width="0.3"/><path d="M341.3 267.9C361.1 248.1 388.4 238.2 420.3 246.7" stroke-width="0.3"/><path d="M418.8 251.4C385.2 238.5 386.1 225.2 411.4 204.8" stroke-width="0.9"/><path d="M418.8 217.6C393.6 227.3 363.2 232.7 328.1 227.1" stroke-width="0.45"/><path d="M396.1 192.4C384.1 216.1 375.6 252.3 377.2 281.7" stroke-width="0.45"/><path d="M391.6 190.4C379.5 222.1 389.4 238.4 420.3 246.7" stroke-width="0.35"/><path d="M332.6 213.1C360.0 227.0 389.7 235.3 421.9 237.0" stroke-width="0.55"/><path d="M335.1 208.8C359.9 224.9 356.7 231.7 328.1 227.1" stroke-width="0.55"/><path d="M418.8 251.4C394.3 242.0 384.2 228.3 414.3 208.8" stroke-width="0.7"/><path d="M386.9 188.9C377.9 222.7 361.4 232.4 328.1 227.1" stroke-width="0.55"/><path d="M411.4 204.8C386.5 225.0 363.2 232.7 328.1 227.1" stroke-width="0.35"/><path d="M353.3 276.6C366.7 250.2 382.6 226.6 408.1 201.1" stroke-width="0.45"/><path d="M330.6 217.6C362.0 229.6 375.8 254.7 377.2 281.7" stroke-width="0.7"/><path d="M329.1 222.3C358.7 230.2 381.6 248.1 396.1 276.6" stroke-width="0.7"/><path d="M372.2 187.3C373.8 217.7 391.1 247.8 411.4 264.2" stroke-width="0.9"/><path d="M335.1 260.2C361.6 243.0 388.4 245.6 411.4 264.2" stroke-width="0.7"/><path d="M396.1 192.4C382.5 219.2 383.2 251.2 396.1 276.6" stroke-width="0.3"/><path d="M416.8 255.9C388.1 241.3 392.0 223.3 414.3 208.8" stroke-width="0.55"/><path d="M353.3 192.4C367.5 220.4 387.1 237.8 420.3 246.7" stroke-width="0.55"/><path d="M372.2 187.3C373.8 217.9 361.4 245.3 338.0 264.2" stroke-width="0.55"/><path d="M372.2 281.7C373.6 255.1 386.6 224.8 411.4 204.8" stroke-width="0.7"/><path d="M328.1 227.1C359.8 232.1 378.4 248.3 386.9 280.1" stroke-width="0.7"/><path d="M328.1 241.9C360.9 236.7 382.7 250.3 396.1 276.6" stroke-width="0.7"/><path d="M349.0 194.9C363.5 217.3 375.6 252.3 377.2 281.7" stroke-width="0.9"/><path d="M335.1 208.8C362.9 226.8 363.6 232.7 328.1 227.1" stroke-width="0.35"/><path d="M404.4 197.8C385.4 221.3 357.4 231.8 328.1 227.1" stroke-width="0.55"/><path d="M332.6 255.9C358.0 243.0 366.5 247.1 349.0 274.1" stroke-width="0.45"/><path d="M353.3 192.4C366.2 217.9 363.1 233.9 327.5 232.0" stroke-width="0.9"/><path d="M367.3 187.9C371.5 214.1 386.5 235.1 421.9 237.0" stroke-width="0.35"/><path d="M372.2 187.3C373.9 219.1 358.8 233.7 327.5 232.0" stroke-width="0.35"/><path d="M353.3 192.4C369.4 224.2 362.6 233.9 327.5 232.0" stroke-width="0.9"/><path d="M391.6 190.4C382.0 215.6 367.9 245.0 349.0 274.1" stroke-width="0.35"/><path d="M330.6 251.4C358.6 240.7 386.6 237.7 420.3 246.7" stroke-width="0.7"/><path d="M338.0 204.8C362.8 224.9 374.1 246.8 372.2 281.7" stroke-width="0.3"/><path d="M335.1 208.8C362.4 226.5 362.2 232.5 328.1 227.1" stroke-width="0.45"/><path d="M329.1 222.3C359.6 230.5 389.7 244.2 414.3 260.2" stroke-width="0.55"/><path d="M341.3 201.1C362.6 222.4 357.2 233.6 327.5 232.0" stroke-width="0.9"/><path d="M367.3 187.9C372.3 219.3 393.0 239.4 420.3 246.7" stroke-width="0.7"/><path d="M382.1 187.9C377.7 215.4 385.8 240.2 416.8 255.9" stroke-width="0.45"/><path d="M367.3 187.9C371.8 216.2 367.3 245.8 349.0 274.1" stroke-width="0.3"/><path d="M421.9 232.0C390.9 233.7 368.2 221.8 353.3 192.4" stroke-width="0.7"/><path d="M327.5 237.0C357.3 235.4 369.4 248.3 357.8 278.6" stroke-width="0.45"/></g>
<circle cx="351.77" cy="189.50" r="1.25" fill="#000000"/>
<text x="350.59" y="187.19" font-size="3.85" text-anchor="end" fill="#000" transform="rotate(423.0 350.59 187.19)" dy="1.3">dACC.L4</text>
<circle cx="356.60" cy="187.35" r="1.25" fill="#000000"/>
<text x="355.67" y="184.93" font-size="3.85" text-anchor="end" fill="#000" transform="rotate(429.0 355.67 184.93)" dy="1.3">dACC.R4</text>
<circle cx="361.63" cy="185.72" r="1.25" fill="#000000"/>
<text x="360.96" y="183.21" font-size="3.85" text-anchor="end" fill="#000" transform="rotate(435.0 360.96 183.21)" dy="1.3">dACC.R6</text>
<circle cx="366.80" cy="184.62" r="1.25" fill="#000000"/>
<text x="366.39" y="182.05" font-size="3.85" text-anchor="end" fill="#000" transform="rotate(441.0 366.39 182.05)" dy="1.3">IFG_Orb.R3</text>
<circle cx="372.06" cy="184.07" r="1.25" fill="#000000"/>
<text x="371.92" y="181.47" font-size="3.85" text-anchor="end" fill="#000" transform="rotate(447.0 371.92 181.47)" dy="1.3">Insula.L3</text>
<circle cx="377.34" cy="184.07" r="1.25" fill="#000000"/>
<text x="377.48" y="181.47" font-size="3.85" text-anchor="start" fill="#000" transform="rotate(-87.0 377.48 181.47)" dy="1.3">Insula.R5</text>
<circle cx="382.60" cy="184.62" r="1.25" fill="#000000"/>
<text x="383.01" y="182.05" font-size="3.85" text-anchor="start" fill="#000" transform="rotate(-81.0 383.01 182.05)" dy="1.3">Insula.R6</text>
<circle cx="387.77" cy="185.72" r="1.25" fill="#000000"/>
<text x="388.44" y="183.21" font-size="3.85" text-anchor="start" fill="#000" transform="rotate(-75.0 388.44 183.21)" dy="1.3">MFG.R4</text>
<circle cx="392.80" cy="187.35" r="1.25" fill="#000000"/>
<text x="393.73" y="184.93" font-size="3.85" text-anchor="start" fill="#000" transform="rotate(-69.0 393.73 184.93)" dy="1.3">MFG.R5</text>
<circle cx="397.63" cy="189.50" r="1.25" fill="#000000"/>
<text x="398.81" y="187.19" font-size="3.85" text-anchor="start" fill="#000" transform="rotate(-63.0 398.81 187.19)" dy="1.3">Parietal_Inf.R3</text>
<circle cx="402.20" cy="192.15" r="1.25" fill="#26ee26"/>
<text x="403.62" y="189.97" font-size="3.85" text-anchor="start" fill="#000" transform="rotate(-57.0 403.62 189.97)" dy="1.3">MTG.R5</text>
<circle cx="406.48" cy="195.25" r="1.25" fill="#ff26ff"/>
<text x="408.12" y="193.23" font-size="3.85" text-anchor="start" fill="#000" transform="rotate(-51.0 408.12 193.23)" dy="1.3">Insula.R4</text>
<circle cx="410.41" cy="198.79" r="1.25" fill="#ff26ff"/>
<text x="412.25" y="196.95" font-size="3.85" text-anchor="start" fill="#000" transform="rotate(-45.0 412.25 196.95)" dy="1.3">PostInsular.R6</text>
<circle cx="413.95" cy="202.72" r="1.25" fill="#ff26ff"/>
<text x="415.97" y="201.08" font-size="3.85" text-anchor="start" fill="#000" transform="rotate(-39.0 415.97 201.08)" dy="1.3">Rolandic_Oper.L3</text>
<circle cx="417.05" cy="207.00" r="1.25" fill="#ff26ff"/>
<text x="419.23" y="205.58" font-size="3.85" text-anchor="start" fill="#000" transform="rotate(-33.0 419.23 205.58)" dy="1.3">Rolandic_Oper.R2</text>
<circle cx="419.70" cy="211.57" r="1.25" fill="#ff26ff"/>
<text x="422.01" y="210.39" font-size="3.85" text-anchor="start" fill="#000" transform="rotate(-27.0 422.01 210.39)" dy="1.3">STG.L1</text>
<circle cx="421.85" cy="216.40" r="1.25" fill="#ff26ff"/>
<text x="424.27" y="215.47" font-size="3.85" text-anchor="start" fill="#000" transform="rotate(-21.0 424.27 215.47)" dy="1.3">STG.L2</text>
<circle cx="423.48" cy="221.43" r="1.25" fill="#ff26ff"/>
<text x="425.99" y="220.76" font-size="3.85" text-anchor="start" fill="#000" transform="rotate(-15.0 425.99 220.76)" dy="1.3">STG.R2</text>
<circle cx="424.58" cy="226.60" r="1.25" fill="#1affff"/>
<text x="427.15" y="226.19" font-size="3.85" text-anchor="start" fill="#000" transform="rotate(-9.0 427.15 226.19)" dy="1.3">Insula.R1</text>
<circle cx="425.13" cy="231.86" r="1.25" fill="#1affff"/>
<text x="427.73" y="231.72" font-size="3.85" text-anchor="start" fill="#000" transform="rotate(-3.0 427.73 231.72)" dy="1.3">Postcentral.R7</text>
<circle cx="425.13" cy="237.14" r="1.25" fill="#ee2324"/>
<text x="427.73" y="237.28" font-size="3.85" text-anchor="start" fill="#000" transform="rotate(3.0 427.73 237.28)" dy="1.3">Angular.L1</text>
<circle cx="424.58" cy="242.40" r="1.25" fill="#ee2324"/>
<text x="427.15" y="242.81" font-size="3.85" text-anchor="start" fill="#000" transform="rotate(9.0 427.15 242.81)" dy="1.3">Fusiform.L1</text>
<circle cx="423.48" cy="247.57" r="1.25" fill="#ee2324"/>
<text x="425.99" y="248.24" font-size="3.85" text-anchor="start" fill="#000" transform="rotate(15.0 425.99 248.24)" dy="1.3">MOG.R1</text>
<circle cx="421.85" cy="252.60" r="1.25" fill="#ee2324"/>
<text x="424.27" y="253.53" font-size="3.85" text-anchor="start" fill="#000" transform="rotate(21.0 424.27 253.53)" dy="1.3">MTG.L1</text>
<circle cx="419.70" cy="257.43" r="1.25" fill="#ee2324"/>
<text x="422.01" y="258.61" font-size="3.85" text-anchor="start" fill="#000" transform="rotate(27.0 422.01 258.61)" dy="1.3">MTG.L2</text>
<circle cx="417.05" cy="262.00" r="1.25" fill="#ee2324"/>
<text x="419.23" y="263.42" font-size="3.85" text-anchor="start" fill="#000" transform="rotate(33.0 419.23 263.42)" dy="1.3">MTG.L5</text>
<circle cx="413.95" cy="266.28" r="1.25" fill="#ee2324"/>
<text x="415.97" y="267.92" font-size="3.85" text-anchor="start" fill="#000" transform="rotate(39.0 415.97 267.92)" dy="1.3">MTG.R3</text>
<circle cx="410.41" cy="270.21" r="1.25" fill="#ee2324"/>
<text x="412.25" y="272.05" font-size="3.85" text-anchor="start" fill="#000" transform="rotate(45.0 412.25 272.05)" dy="1.3">Parahippo.L1</text>
<circle cx="406.48" cy="273.75" r="1.25" fill="#ee2324"/>
<text x="408.12" y="275.77" font-size="3.85" text-anchor="start" fill="#000" transform="rotate(51.0 408.12 275.77)" dy="1.3">Parahippo.L2</text>
<circle cx="402.20" cy="276.85" r="1.25" fill="#ee2324"/>
<text x="403.62" y="279.03" font-size="3.85" text-anchor="start" fill="#000" transform="rotate(57.0 403.62 279.03)" dy="1.3">PCC.L3</text>
<circle cx="397.63" cy="279.50" r="1.25" fill="#ee2324"/>
<text x="398.81" y="281.81" font-size="3.85" text-anchor="start" fill="#000" transform="rotate(63.0 398.81 281.81)" dy="1.3">PCC.L2</text>
<circle cx="392.80" cy="281.65" r="1.25" fill="#ee2324"/>
<text x="393.73" y="284.07" font-size="3.85" text-anchor="start" fill="#000" transform="rotate(69.0 393.73 284.07)" dy="1.3">PCC.R1</text>
<circle cx="387.77" cy="283.28" r="1.25" fill="#ee2324"/>
<text x="388.44" y="285.79" font-size="3.85" text-anchor="start" fill="#000" transform="rotate(75.0 388.44 285.79)" dy="1.3">Precuneus.L4</text>
<circle cx="382.60" cy="284.38" r="1.25" fill="#ee2324"/>
<text x="383.01" y="286.95" font-size="3.85" text-anchor="start" fill="#000" transform="rotate(81.0 383.01 286.95)" dy="1.3">Precuneus.R3</text>
<circle cx="377.34" cy="284.93" r="1.25" fill="#ee2324"/>
<text x="377.48" y="287.53" font-size="3.85" text-anchor="start" fill="#000" transform="rotate(87.0 377.48 287.53)" dy="1.3">Precuneus.R4</text>
<circle cx="372.06" cy="284.93" r="1.25" fill="#ee2324"/>
<text x="371.92" y="287.53" font-size="3.85" text-anchor="end" fill="#000" transform="rotate(273.0 371.92 287.53)" dy="1.3">SFG.L4</text>
<circle cx="366.80" cy="284.38" r="1.25" fill="#ee2324"/>
<text x="366.39" y="286.95" font-size="3.85" text-anchor="end" fill="#000" transform="rotate(279.0 366.39 286.95)" dy="1.3">SFG.R3</text>
<circle cx="361.63" cy="283.28" r="1.25" fill="#ee2324"/>
<text x="360.96" y="285.79" font-size="3.85" text-anchor="end" fill="#000" transform="rotate(285.0 360.96 285.79)" dy="1.3">Temp_Pole.R1</text>
<circle cx="356.60" cy="281.65" r="1.25" fill="#ee2324"/>
<text x="355.67" y="284.07" font-size="3.85" text-anchor="end" fill="#000" transform="rotate(291.0 355.67 284.07)" dy="1.3">VMPFC.L1</text>
<circle cx="351.77" cy="279.50" r="1.25" fill="#ee2324"/>
<text x="350.59" y="281.81" font-size="3.85" text-anchor="end" fill="#000" transform="rotate(297.0 350.59 281.81)" dy="1.3">VMPFC.L3</text>
<circle cx="347.20" cy="276.85" r="1.25" fill="#ee2324"/>
<text x="345.78" y="279.03" font-size="3.85" text-anchor="end" fill="#000" transform="rotate(303.0 345.78 279.03)" dy="1.3">VMPFC.R3</text>
<circle cx="342.92" cy="273.75" r="1.25" fill="#ffff1a"/>
<text x="341.28" y="275.77" font-size="3.85" text-anchor="end" fill="#000" transform="rotate(309.0 341.28 275.77)" dy="1.3">DLPFC.L1</text>
<circle cx="338.99" cy="270.21" r="1.25" fill="#ffff1a"/>
<text x="337.15" y="272.05" font-size="3.85" text-anchor="end" fill="#000" transform="rotate(315.0 337.15 272.05)" dy="1.3">DLPFC.L2</text>
<circle cx="335.45" cy="266.28" r="1.25" fill="#ffff1a"/>
<text x="333.43" y="267.92" font-size="3.85" text-anchor="end" fill="#000" transform="rotate(321.0 333.43 267.92)" dy="1.3">DLPFC.L3</text>
<circle cx="332.35" cy="262.00" r="1.25" fill="#ffff1a"/>
<text x="330.17" y="263.42" font-size="3.85" text-anchor="end" fill="#000" transform="rotate(327.0 330.17 263.42)" dy="1.3">DLPFC.L4</text>
<circle cx="329.70" cy="257.43" r="1.25" fill="#ffff1a"/>
<text x="327.39" y="258.61" font-size="3.85" text-anchor="end" fill="#000" transform="rotate(333.0 327.39 258.61)" dy="1.3">DLPFC.R1</text>
<circle cx="327.55" cy="252.60" r="1.25" fill="#ffff1a"/>
<text x="325.13" y="253.53" font-size="3.85" text-anchor="end" fill="#000" transform="rotate(339.0 325.13 253.53)" dy="1.3">DLPFC.R2</text>
<circle cx="325.92" cy="247.57" r="1.25" fill="#ffff1a"/>
<text x="323.41" y="248.24" font-size="3.85" text-anchor="end" fill="#000" transform="rotate(345.0 323.41 248.24)" dy="1.3">DLPFC.R3</text>
<circle cx="324.82" cy="242.40" r="1.25" fill="#ffff1a"/>
<text x="322.25" y="242.81" font-size="3.85" text-anchor="end" fill="#000" transform="rotate(351.0 322.25 242.81)" dy="1.3">Parietal_Inf.L2</text>
<circle cx="324.27" cy="237.14" r="1.25" fill="#ffff1a"/>
<text x="321.67" y="237.28" font-size="3.85" text-anchor="end" fill="#000" transform="rotate(357.0 321.67 237.28)" dy="1.3">SFG_Medial.L4</text>
<circle cx="324.27" cy="231.86" r="1.25" fill="#2424dc"/>
<text x="321.67" y="231.72" font-size="3.85" text-anchor="end" fill="#000" transform="rotate(363.0 321.67 231.72)" dy="1.3">Cuneus.R3</text>
<circle cx="324.82" cy="226.60" r="1.25" fill="#2424dc"/>
<text x="322.25" y="226.19" font-size="3.85" text-anchor="end" fill="#000" transform="rotate(369.0 322.25 226.19)" dy="1.3">Lingual.L3</text>
<circle cx="325.92" cy="221.43" r="1.25" fill="#b5562a"/>
<text x="323.41" y="220.76" font-size="3.85" text-anchor="end" fill="#000" transform="rotate(375.0 323.41 220.76)" dy="1.3">Putamen.L3</text>
<circle cx="327.55" cy="216.40" r="1.25" fill="#b5562a"/>
<text x="325.13" y="215.47" font-size="3.85" text-anchor="end" fill="#000" transform="rotate(381.0 325.13 215.47)" dy="1.3">Putamen.R1</text>
<circle cx="329.70" cy="211.57" r="1.25" fill="#b5562a"/>
<text x="327.39" y="210.39" font-size="3.85" text-anchor="end" fill="#000" transform="rotate(387.0 327.39 210.39)" dy="1.3">Putamen.R3</text>
<circle cx="332.35" cy="207.00" r="1.25" fill="#96229a"/>
<text x="330.17" y="205.58" font-size="3.85" text-anchor="end" fill="#000" transform="rotate(393.0 330.17 205.58)" dy="1.3">Central_Oper.L1</text>
<circle cx="335.45" cy="202.72" r="1.25" fill="#96229a"/>
<text x="333.43" y="201.08" font-size="3.85" text-anchor="end" fill="#000" transform="rotate(399.0 333.43 201.08)" dy="1.3">Central_Oper.R1</text>
<circle cx="338.99" cy="198.79" r="1.25" fill="#96229a"/>
<text x="337.15" y="196.95" font-size="3.85" text-anchor="end" fill="#000" transform="rotate(405.0 337.15 196.95)" dy="1.3">Insula.L1</text>
<circle cx="342.92" cy="195.25" r="1.25" fill="#96229a"/>
<text x="341.28" y="193.23" font-size="3.85" text-anchor="end" fill="#000" transform="rotate(411.0 341.28 193.23)" dy="1.3">Insula.R2</text>
<circle cx="347.20" cy="192.15" r="1.25" fill="#96229a"/>
<text x="345.78" y="189.97" font-size="3.85" text-anchor="end" fill="#000" transform="rotate(417.0 345.78 189.97)" dy="1.3">Insula.R3</text>
<g fill="none" stroke="#8aa548" stroke-linecap="round"><path d="M383.0 375.9C377.7 404.1 360.6 422.0 327.5 422.0" stroke-width="0.35"/><path d="M421.3 422.0C390.4 422.0 384.7 438.7 399.1 461.9" stroke-width="0.9"/><path d="M383.0 375.9C376.6 410.1 355.0 420.2 327.7 417.7" stroke-width="0.55"/><path d="M418.2 405.0C389.8 416.0 356.8 432.9 334.5 446.7" stroke-width="0.45"/><path d="M419.5 409.1C392.3 416.9 355.0 423.8 327.7 426.3" stroke-width="0.35"/><path d="M370.1 375.3C373.1 407.5 386.4 428.0 416.4 442.9" stroke-width="0.55"/><path d="M414.3 446.7C384.5 428.3 386.0 423.1 421.1 426.3" stroke-width="0.3"/><path d="M402.7 384.5C386.7 405.7 363.2 424.1 328.3 430.6" stroke-width="0.9"/><path d="M387.2 376.9C379.3 404.8 357.2 422.0 327.5 422.0" stroke-width="0.9"/><path d="M421.1 417.7C395.0 420.1 358.6 431.8 334.5 446.7" stroke-width="0.3"/><path d="M361.5 376.9C369.7 405.7 365.5 407.6 349.7 382.1" stroke-width="0.55"/><path d="M361.5 376.9C369.6 405.3 358.8 420.6 327.7 417.7" stroke-width="0.45"/><path d="M328.3 413.4C359.4 419.2 359.6 429.4 332.4 442.9" stroke-width="0.45"/><path d="M346.1 384.6C362.9 406.8 383.4 433.9 402.7 459.4" stroke-width="0.9"/><path d="M353.5 380.0C366.8 406.7 363.5 404.5 349.7 382.1" stroke-width="0.9"/><path d="M346.1 384.6C362.1 405.7 360.3 418.0 329.3 409.2" stroke-width="0.45"/><path d="M361.5 376.9C371.0 410.2 358.5 420.5 327.7 417.7" stroke-width="0.35"/><path d="M383.0 375.9C377.7 404.5 364.4 427.0 332.4 442.9" stroke-width="0.35"/><path d="M374.4 375.1C374.4 409.7 359.2 424.8 328.3 430.6" stroke-width="0.45"/><path d="M361.5 376.9C369.1 403.4 358.5 431.8 334.5 446.7" stroke-width="0.45"/><path d="M383.0 375.9C377.5 405.3 388.2 434.6 409.1 453.6" stroke-width="0.55"/><path d="M399.1 461.9C382.0 434.3 358.5 434.0 337.0 450.3" stroke-width="0.9"/><path d="M419.5 409.1C390.2 417.5 361.3 428.5 332.4 442.9" stroke-width="0.35"/><path d="M365.8 375.9C371.7 407.8 364.3 412.8 339.7 390.4" stroke-width="0.7"/><path d="M378.7 468.7C375.5 434.3 372.9 438.4 370.1 468.7" stroke-width="0.55"/><path d="M416.4 401.1C391.0 413.7 361.3 418.3 329.3 409.2" stroke-width="0.55"/><path d="M387.2 376.9C380.1 401.8 366.2 413.0 342.8 387.3" stroke-width="0.7"/><path d="M361.5 376.9C369.6 405.3 364.2 414.3 336.9 393.7" stroke-width="0.7"/><path d="M391.3 378.2C379.0 410.2 358.9 429.7 332.4 442.9" stroke-width="0.45"/><path d="M365.8 468.1C371.7 436.6 388.0 425.9 419.5 434.8" stroke-width="0.45"/><path d="M330.6 439.0C355.6 429.3 392.5 431.0 416.4 442.9" stroke-width="0.7"/><path d="M370.1 375.3C372.8 405.0 364.4 415.8 334.5 397.3" stroke-width="0.7"/><path d="M383.0 468.1C377.2 436.8 381.3 433.1 399.1 461.9" stroke-width="0.45"/><path d="M383.0 375.9C377.6 405.0 359.8 431.1 334.5 446.7" stroke-width="0.35"/><path d="M370.1 375.3C373.1 408.0 360.1 423.3 327.7 426.3" stroke-width="0.9"/><path d="M387.3 467.1C379.2 438.8 376.5 433.3 383.0 468.1" stroke-width="0.45"/><path d="M414.3 397.3C389.3 412.8 364.4 428.2 334.5 446.7" stroke-width="0.9"/><path d="M353.5 380.0C367.1 407.4 379.8 441.0 387.3 467.1" stroke-width="0.35"/><path d="M409.1 390.4C388.6 409.1 365.0 403.2 353.5 380.0" stroke-width="0.9"/><path d="M349.7 461.9C366.9 434.0 389.6 433.4 411.9 450.3" stroke-width="0.35"/><path d="M391.3 378.2C379.4 409.1 367.4 403.8 357.4 378.2" stroke-width="0.35"/><path d="M421.1 417.7C387.3 420.8 369.4 409.1 357.4 378.2" stroke-width="0.3"/><path d="M342.8 456.7C362.7 434.9 391.4 422.0 421.3 422.0" stroke-width="0.55"/><path d="M365.8 375.9C371.0 403.8 360.5 424.6 328.3 430.6" stroke-width="0.35"/><path d="M378.7 375.3C376.3 401.6 375.8 436.9 378.7 468.7" stroke-width="0.55"/><path d="M402.7 459.4C383.4 433.9 365.1 432.2 342.8 456.7" stroke-width="0.35"/><path d="M406.0 387.3C383.5 412.1 360.5 430.6 334.5 446.7" stroke-width="0.9"/><path d="M383.0 375.9C377.3 406.4 356.7 422.0 327.5 422.0" stroke-width="0.9"/><path d="M387.3 467.1C379.1 438.6 364.8 437.5 349.7 461.9" stroke-width="0.45"/><path d="M406.0 456.7C384.5 433.1 372.1 434.2 365.8 468.1" stroke-width="0.3"/><path d="M357.4 378.2C367.2 403.4 360.4 409.2 339.7 390.4" stroke-width="0.55"/><path d="M332.4 401.1C358.5 414.1 362.5 429.3 334.5 446.7" stroke-width="0.55"/><path d="M329.3 434.9C362.3 425.4 393.8 422.0 421.3 422.0" stroke-width="0.55"/><path d="M420.5 413.4C391.0 418.9 363.5 428.8 334.5 446.7" stroke-width="0.55"/><path d="M409.1 453.6C385.6 432.2 378.6 432.8 391.4 465.8" stroke-width="0.3"/><path d="M414.3 446.7C387.7 430.2 380.3 437.3 391.4 465.8" stroke-width="0.35"/><path d="M361.5 376.9C370.9 409.8 362.1 422.0 327.5 422.0" stroke-width="0.7"/><path d="M411.8 393.7C386.3 413.0 363.6 410.2 342.8 387.3" stroke-width="0.7"/><path d="M411.8 393.7C384.0 414.8 361.5 423.2 327.7 426.3" stroke-width="0.35"/><path d="M409.1 390.4C385.4 412.0 358.0 422.0 327.5 422.0" stroke-width="0.45"/><path d="M374.4 375.1C374.4 401.6 360.5 430.6 334.5 446.7" stroke-width="0.45"/><path d="M383.0 375.9C377.9 403.4 364.6 414.6 336.9 393.7" stroke-width="0.35"/><path d="M334.5 397.3C358.5 412.1 358.1 419.0 328.3 413.4" stroke-width="0.35"/><path d="M416.4 401.1C386.6 415.9 367.1 407.3 353.5 380.0" stroke-width="0.55"/><path d="M411.8 393.7C384.1 414.7 359.7 412.9 334.5 397.3" stroke-width="0.35"/><path d="M402.7 384.5C386.9 405.5 359.4 429.5 332.4 442.9" stroke-width="0.9"/><path d="M342.8 456.7C366.6 430.6 368.1 434.6 353.5 464.0" stroke-width="0.55"/><path d="M414.3 397.3C387.1 414.2 357.8 432.3 334.5 446.7" stroke-width="0.3"/><path d="M365.8 468.1C372.2 433.6 365.4 440.2 353.5 464.0" stroke-width="0.7"/><path d="M418.2 405.0C389.0 416.4 358.3 432.0 334.5 446.7" stroke-width="0.7"/><path d="M370.1 375.3C373.0 407.0 366.2 414.5 339.7 390.4" stroke-width="0.7"/><path d="M370.1 375.3C373.0 407.3 358.4 409.9 336.9 393.7" stroke-width="0.3"/><path d="M420.5 413.4C388.6 419.3 363.9 427.3 332.4 442.9" stroke-width="0.9"/><path d="M416.4 442.9C389.9 429.7 361.8 438.8 346.1 459.5" stroke-width="0.35"/><path d="M419.5 409.1C387.9 418.2 362.0 428.2 332.4 442.9" stroke-width="0.7"/><path d="M421.3 422.0C392.9 422.0 388.3 430.6 414.3 446.7" stroke-width="0.9"/><path d="M374.4 375.1C374.4 404.2 354.7 420.2 327.7 417.7" stroke-width="0.9"/><path d="M357.5 465.8C366.9 441.3 371.1 439.7 365.8 468.1" stroke-width="0.45"/><path d="M411.9 450.3C383.9 429.1 381.8 431.8 402.7 459.4" stroke-width="0.3"/><path d="M365.8 375.9C372.2 410.0 358.1 411.9 334.5 397.3" stroke-width="0.3"/><path d="M357.4 378.2C368.2 406.1 383.6 430.3 409.1 453.6" stroke-width="0.7"/><path d="M357.4 378.2C368.5 406.7 364.9 413.4 339.7 390.4" stroke-width="0.45"/><path d="M418.2 438.9C393.9 429.5 375.6 435.2 378.7 468.7" stroke-width="0.55"/><path d="M339.7 390.4C366.1 414.4 362.4 418.6 329.3 409.2" stroke-width="0.55"/><path d="M374.4 375.1C374.4 405.2 356.4 423.7 327.7 426.3" stroke-width="0.35"/><path d="M387.2 376.9C379.7 403.4 356.1 425.4 328.3 430.6" stroke-width="0.45"/><path d="M402.7 384.5C383.7 409.7 357.6 413.7 332.4 401.1" stroke-width="0.35"/><path d="M421.1 417.7C387.1 420.8 363.2 421.0 327.7 417.7" stroke-width="0.7"/><path d="M374.4 375.1C374.4 407.4 360.7 424.6 328.3 430.6" stroke-width="0.7"/><path d="M346.1 384.6C364.8 409.3 373.0 437.1 370.1 468.7" stroke-width="0.45"/><path d="M409.1 390.4C382.9 414.3 362.4 429.4 334.5 446.7" stroke-width="0.7"/><path d="M383.0 468.1C377.6 439.0 383.2 436.1 399.1 461.9" stroke-width="0.3"/><path d="M365.8 375.9C371.8 408.2 357.6 432.4 334.5 446.7" stroke-width="0.45"/><path d="M387.2 376.9C377.8 410.0 355.0 423.8 327.7 426.3" stroke-width="0.45"/><path d="M421.1 426.3C387.8 423.2 380.4 437.4 391.4 465.8" stroke-width="0.9"/><path d="M406.0 387.3C387.9 407.2 361.0 407.3 342.8 387.3" stroke-width="0.3"/><path d="M330.6 405.1C355.1 414.5 363.9 427.2 332.4 442.9" stroke-width="0.35"/><path d="M421.1 417.7C392.8 420.3 354.8 414.4 330.6 405.1" stroke-width="0.9"/><path d="M409.1 453.6C385.1 431.7 370.6 435.2 361.6 467.1" stroke-width="0.3"/><path d="M383.0 375.9C377.2 406.8 362.2 405.9 346.1 384.6" stroke-width="0.45"/><path d="M411.8 393.7C385.9 413.3 362.7 409.2 342.8 387.3" stroke-width="0.45"/><path d="M357.5 465.8C368.0 438.5 386.1 432.7 409.1 453.6" stroke-width="0.35"/><path d="M346.1 459.5C362.5 437.7 382.1 437.5 395.3 464.0" stroke-width="0.3"/><path d="M374.4 375.1C374.4 404.2 358.5 423.5 327.7 426.3" stroke-width="0.35"/><path d="M414.3 446.7C388.2 430.5 361.2 434.0 339.7 453.6" stroke-width="0.55"/><path d="M409.1 453.6C386.5 433.0 375.8 436.9 378.7 468.7" stroke-width="0.45"/><path d="M349.7 382.1C363.4 404.2 356.2 414.9 330.6 405.1" stroke-width="0.9"/><path d="M370.1 375.3C373.3 409.7 363.6 436.3 346.1 459.5" stroke-width="0.7"/><path d="M337.0 450.3C361.8 431.5 384.9 433.5 406.0 456.7" stroke-width="0.35"/><path d="M402.7 384.5C381.7 412.3 357.1 418.8 328.3 413.4" stroke-width="0.35"/><path d="M391.3 378.2C379.0 410.1 357.4 425.2 328.3 430.6" stroke-width="0.45"/><path d="M402.7 384.5C383.9 409.4 354.9 416.4 329.3 409.2" stroke-width="0.55"/><path d="M342.8 456.7C363.5 434.0 384.8 433.4 406.0 456.7" stroke-width="0.55"/><path d="M399.1 382.1C385.0 404.9 369.8 410.1 357.4 378.2" stroke-width="0.7"/><path d="M391.3 378.2C380.7 405.6 357.1 425.2 328.3 430.6" stroke-width="0.35"/><path d="M383.0 468.1C376.6 433.7 374.4 440.1 374.4 468.9" stroke-width="0.9"/><path d="M419.5 434.8C388.2 425.9 376.0 438.9 378.7 468.7" stroke-width="0.35"/><path d="M365.8 375.9C372.3 410.7 363.8 410.3 342.8 387.3" stroke-width="0.55"/><path d="M383.0 375.9C377.8 403.8 362.0 422.0 327.5 422.0" stroke-width="0.3"/><path d="M395.3 380.0C383.2 404.4 360.4 429.0 332.4 442.9" stroke-width="0.9"/><path d="M420.5 430.6C390.8 425.1 362.0 426.8 330.6 439.0" stroke-width="0.55"/></g>
<circle cx="360.65" cy="373.72" r="1.25" fill="#ff26ff"/>
<text x="359.93" y="371.22" font-size="3.85" text-anchor="end" fill="#000" transform="rotate(434.1 359.93 371.22)" dy="1.3">Insula.L1</text>
<circle cx="365.16" cy="372.66" r="1.25" fill="#ff26ff"/>
<text x="364.68" y="370.10" font-size="3.85" text-anchor="end" fill="#000" transform="rotate(439.4 364.68 370.10)" dy="1.3">Insula.R4</text>
<circle cx="369.75" cy="372.02" r="1.25" fill="#ff26ff"/>
<text x="369.51" y="369.43" font-size="3.85" text-anchor="end" fill="#000" transform="rotate(444.7 369.51 369.43)" dy="1.3">Heschl.L1</text>
<circle cx="374.38" cy="371.80" r="1.25" fill="#ff26ff"/>
<text x="374.38" y="369.20" font-size="3.85" text-anchor="end" fill="#000" transform="rotate(450.0 374.38 369.20)" dy="1.3">Rolandic_Oper.R1</text>
<circle cx="379.02" cy="372.01" r="1.25" fill="#ff26ff"/>
<text x="379.26" y="369.42" font-size="3.85" text-anchor="start" fill="#000" transform="rotate(-84.7 379.26 369.42)" dy="1.3">Rolandic_Oper.R2</text>
<circle cx="383.61" cy="372.65" r="1.25" fill="#ff26ff"/>
<text x="384.09" y="370.10" font-size="3.85" text-anchor="start" fill="#000" transform="rotate(-79.4 384.09 370.10)" dy="1.3">STG.L1</text>
<circle cx="388.12" cy="373.71" r="1.25" fill="#ff26ff"/>
<text x="388.83" y="371.21" font-size="3.85" text-anchor="start" fill="#000" transform="rotate(-74.1 388.83 371.21)" dy="1.3">STG.R2</text>
<circle cx="392.52" cy="375.18" r="1.25" fill="#1affff"/>
<text x="393.46" y="372.76" font-size="3.85" text-anchor="start" fill="#000" transform="rotate(-68.8 393.46 372.76)" dy="1.3">Parietal_Inf.L7</text>
<circle cx="396.76" cy="377.06" r="1.25" fill="#1affff"/>
<text x="397.92" y="374.73" font-size="3.85" text-anchor="start" fill="#000" transform="rotate(-63.5 397.92 374.73)" dy="1.3">Parietal_Sup.L1</text>
<circle cx="400.81" cy="379.31" r="1.25" fill="#1affff"/>
<text x="402.18" y="377.10" font-size="3.85" text-anchor="start" fill="#000" transform="rotate(-58.3 402.18 377.10)" dy="1.3">Postcentral.L3</text>
<circle cx="404.64" cy="381.93" r="1.25" fill="#1affff"/>
<text x="406.21" y="379.85" font-size="3.85" text-anchor="start" fill="#000" transform="rotate(-53.0 406.21 379.85)" dy="1.3">Postcentral.L4</text>
<circle cx="408.21" cy="384.89" r="1.25" fill="#1affff"/>
<text x="409.96" y="382.97" font-size="3.85" text-anchor="start" fill="#000" transform="rotate(-47.7 409.96 382.97)" dy="1.3">Postcentral.L5</text>
<circle cx="411.49" cy="388.17" r="1.25" fill="#1affff"/>
<text x="413.41" y="386.42" font-size="3.85" text-anchor="start" fill="#000" transform="rotate(-42.4 413.41 386.42)" dy="1.3">Postcentral.L6</text>
<circle cx="414.45" cy="391.74" r="1.25" fill="#1affff"/>
<text x="416.53" y="390.17" font-size="3.85" text-anchor="start" fill="#000" transform="rotate(-37.1 416.53 390.17)" dy="1.3">Postcentral.R2</text>
<circle cx="417.07" cy="395.56" r="1.25" fill="#1affff"/>
<text x="419.28" y="394.19" font-size="3.85" text-anchor="start" fill="#000" transform="rotate(-31.8 419.28 394.19)" dy="1.3">Postcentral.R4</text>
<circle cx="419.33" cy="399.61" r="1.25" fill="#1affff"/>
<text x="421.66" y="398.45" font-size="3.85" text-anchor="start" fill="#000" transform="rotate(-26.5 421.66 398.45)" dy="1.3">Postcentral.R5</text>
<circle cx="421.20" cy="403.85" r="1.25" fill="#1affff"/>
<text x="423.63" y="402.91" font-size="3.85" text-anchor="start" fill="#000" transform="rotate(-21.2 423.63 402.91)" dy="1.3">Postcentral.R7</text>
<circle cx="422.68" cy="408.25" r="1.25" fill="#1affff"/>
<text x="425.18" y="407.53" font-size="3.85" text-anchor="start" fill="#000" transform="rotate(-15.9 425.18 407.53)" dy="1.3">Precentral.L1</text>
<circle cx="423.74" cy="412.76" r="1.25" fill="#1affff"/>
<text x="426.30" y="412.28" font-size="3.85" text-anchor="start" fill="#000" transform="rotate(-10.6 426.30 412.28)" dy="1.3">SMA.L7</text>
<circle cx="424.38" cy="417.35" r="1.25" fill="#1affff"/>
<text x="426.97" y="417.11" font-size="3.85" text-anchor="start" fill="#000" transform="rotate(-5.3 426.97 417.11)" dy="1.3">SMA.R2</text>
<circle cx="424.60" cy="421.98" r="1.25" fill="#ee2324"/>
<text x="427.20" y="421.98" font-size="3.85" text-anchor="start" fill="#000" transform="rotate(-0.0 427.20 421.98)" dy="1.3">ACC.L2</text>
<circle cx="424.39" cy="426.62" r="1.25" fill="#ee2324"/>
<text x="426.98" y="426.86" font-size="3.85" text-anchor="start" fill="#000" transform="rotate(5.3 426.98 426.86)" dy="1.3">ACC.L3</text>
<circle cx="423.75" cy="431.21" r="1.25" fill="#ee2324"/>
<text x="426.30" y="431.69" font-size="3.85" text-anchor="start" fill="#000" transform="rotate(10.6 426.30 431.69)" dy="1.3">ACC.R1</text>
<circle cx="422.69" cy="435.72" r="1.25" fill="#ee2324"/>
<text x="425.19" y="436.43" font-size="3.85" text-anchor="start" fill="#000" transform="rotate(15.9 425.19 436.43)" dy="1.3">DMPFC.R1</text>
<circle cx="421.22" cy="440.12" r="1.25" fill="#ee2324"/>
<text x="423.64" y="441.06" font-size="3.85" text-anchor="start" fill="#000" transform="rotate(21.2 423.64 441.06)" dy="1.3">Fusiform.L1</text>
<circle cx="419.34" cy="444.36" r="1.25" fill="#ee2324"/>
<text x="421.67" y="445.52" font-size="3.85" text-anchor="start" fill="#000" transform="rotate(26.5 421.67 445.52)" dy="1.3">MOG.L1</text>
<circle cx="417.09" cy="448.41" r="1.25" fill="#ee2324"/>
<text x="419.30" y="449.78" font-size="3.85" text-anchor="start" fill="#000" transform="rotate(31.7 419.30 449.78)" dy="1.3">MOG.R1</text>
<circle cx="414.47" cy="452.24" r="1.25" fill="#ee2324"/>
<text x="416.55" y="453.81" font-size="3.85" text-anchor="start" fill="#000" transform="rotate(37.0 416.55 453.81)" dy="1.3">MTG.L1</text>
<circle cx="411.51" cy="455.81" r="1.25" fill="#ee2324"/>
<text x="413.43" y="457.56" font-size="3.85" text-anchor="start" fill="#000" transform="rotate(42.3 413.43 457.56)" dy="1.3">MTG.L5</text>
<circle cx="408.23" cy="459.09" r="1.25" fill="#ee2324"/>
<text x="409.98" y="461.01" font-size="3.85" text-anchor="start" fill="#000" transform="rotate(47.6 409.98 461.01)" dy="1.3">MTG.L6</text>
<circle cx="404.66" cy="462.05" r="1.25" fill="#ee2324"/>
<text x="406.23" y="464.13" font-size="3.85" text-anchor="start" fill="#000" transform="rotate(52.9 406.23 464.13)" dy="1.3">MTG.R1</text>
<circle cx="400.84" cy="464.67" r="1.25" fill="#ee2324"/>
<text x="402.21" y="466.88" font-size="3.85" text-anchor="start" fill="#000" transform="rotate(58.2 402.21 466.88)" dy="1.3">Parahippo.L1</text>
<circle cx="396.79" cy="466.93" r="1.25" fill="#ee2324"/>
<text x="397.95" y="469.26" font-size="3.85" text-anchor="start" fill="#000" transform="rotate(63.5 397.95 469.26)" dy="1.3">Parahippo.R1</text>
<circle cx="392.55" cy="468.80" r="1.25" fill="#ee2324"/>
<text x="393.49" y="471.23" font-size="3.85" text-anchor="start" fill="#000" transform="rotate(68.8 393.49 471.23)" dy="1.3">PCC.L2</text>
<circle cx="388.15" cy="470.28" r="1.25" fill="#ee2324"/>
<text x="388.87" y="472.78" font-size="3.85" text-anchor="start" fill="#000" transform="rotate(74.1 388.87 472.78)" dy="1.3">PCC.L3</text>
<circle cx="383.64" cy="471.34" r="1.25" fill="#ee2324"/>
<text x="384.12" y="473.90" font-size="3.85" text-anchor="start" fill="#000" transform="rotate(79.4 384.12 473.90)" dy="1.3">PCC.R1</text>
<circle cx="379.05" cy="471.98" r="1.25" fill="#ee2324"/>
<text x="379.29" y="474.57" font-size="3.85" text-anchor="start" fill="#000" transform="rotate(84.7 379.29 474.57)" dy="1.3">Precuneus.L4</text>
<circle cx="374.42" cy="472.20" r="1.25" fill="#ee2324"/>
<text x="374.42" y="474.80" font-size="3.85" text-anchor="start" fill="#000" transform="rotate(90.0 374.42 474.80)" dy="1.3">Precuneus.R2</text>
<circle cx="369.78" cy="471.99" r="1.25" fill="#ee2324"/>
<text x="369.54" y="474.58" font-size="3.85" text-anchor="end" fill="#000" transform="rotate(275.3 369.54 474.58)" dy="1.3">Precuneus.R3</text>
<circle cx="365.19" cy="471.35" r="1.25" fill="#ee2324"/>
<text x="364.71" y="473.90" font-size="3.85" text-anchor="end" fill="#000" transform="rotate(280.6 364.71 473.90)" dy="1.3">Precuneus.R4</text>
<circle cx="360.68" cy="470.29" r="1.25" fill="#ee2324"/>
<text x="359.97" y="472.79" font-size="3.85" text-anchor="end" fill="#000" transform="rotate(285.9 359.97 472.79)" dy="1.3">SFG.L4</text>
<circle cx="356.28" cy="468.82" r="1.25" fill="#ee2324"/>
<text x="355.34" y="471.24" font-size="3.85" text-anchor="end" fill="#000" transform="rotate(291.2 355.34 471.24)" dy="1.3">SFG.R2</text>
<circle cx="352.04" cy="466.94" r="1.25" fill="#ee2324"/>
<text x="350.88" y="469.27" font-size="3.85" text-anchor="end" fill="#000" transform="rotate(296.5 350.88 469.27)" dy="1.3">SFG.R3</text>
<circle cx="347.99" cy="464.69" r="1.25" fill="#ee2324"/>
<text x="346.62" y="466.90" font-size="3.85" text-anchor="end" fill="#000" transform="rotate(301.7 346.62 466.90)" dy="1.3">VMPFC.L1</text>
<circle cx="344.16" cy="462.07" r="1.25" fill="#ee2324"/>
<text x="342.59" y="464.15" font-size="3.85" text-anchor="end" fill="#000" transform="rotate(307.0 342.59 464.15)" dy="1.3">VMPFC.L2</text>
<circle cx="340.59" cy="459.11" r="1.25" fill="#ee2324"/>
<text x="338.84" y="461.03" font-size="3.85" text-anchor="end" fill="#000" transform="rotate(312.3 338.84 461.03)" dy="1.3">VMPFC.R1</text>
<circle cx="337.31" cy="455.83" r="1.25" fill="#ee2324"/>
<text x="335.39" y="457.58" font-size="3.85" text-anchor="end" fill="#000" transform="rotate(317.6 335.39 457.58)" dy="1.3">VMPFC.R2</text>
<circle cx="334.35" cy="452.26" r="1.25" fill="#ee2324"/>
<text x="332.27" y="453.83" font-size="3.85" text-anchor="end" fill="#000" transform="rotate(322.9 332.27 453.83)" dy="1.3">VMPFC.R3</text>
<circle cx="331.73" cy="448.44" r="1.25" fill="#ffff1a"/>
<text x="329.52" y="449.81" font-size="3.85" text-anchor="end" fill="#000" transform="rotate(328.2 329.52 449.81)" dy="1.3">DLPFC.L3</text>
<circle cx="329.47" cy="444.39" r="1.25" fill="#ffff1a"/>
<text x="327.14" y="445.55" font-size="3.85" text-anchor="end" fill="#000" transform="rotate(333.5 327.14 445.55)" dy="1.3">DLPFC.R3</text>
<circle cx="327.60" cy="440.15" r="1.25" fill="#2424dc"/>
<text x="325.17" y="441.09" font-size="3.85" text-anchor="end" fill="#000" transform="rotate(338.8 325.17 441.09)" dy="1.3">Cuneus.R3</text>
<circle cx="326.12" cy="435.75" r="1.25" fill="#2424dc"/>
<text x="323.62" y="436.47" font-size="3.85" text-anchor="end" fill="#000" transform="rotate(344.1 323.62 436.47)" dy="1.3">Lingual.L2</text>
<circle cx="325.06" cy="431.24" r="1.25" fill="#b5562a"/>
<text x="322.50" y="431.72" font-size="3.85" text-anchor="end" fill="#000" transform="rotate(349.4 322.50 431.72)" dy="1.3">Caudate.L1</text>
<circle cx="324.42" cy="426.65" r="1.25" fill="#b5562a"/>
<text x="321.83" y="426.89" font-size="3.85" text-anchor="end" fill="#000" transform="rotate(354.7 321.83 426.89)" dy="1.3">Pallidum.R1</text>
<circle cx="324.20" cy="422.02" r="1.25" fill="#b5562a"/>
<text x="321.60" y="422.02" font-size="3.85" text-anchor="end" fill="#000" transform="rotate(360.0 321.60 422.02)" dy="1.3">Putamen.L1</text>
<circle cx="324.41" cy="417.38" r="1.25" fill="#b5562a"/>
<text x="321.82" y="417.14" font-size="3.85" text-anchor="end" fill="#000" transform="rotate(365.3 321.82 417.14)" dy="1.3">Putamen.R2</text>
<circle cx="325.05" cy="412.79" r="1.25" fill="#96229a"/>
<text x="322.50" y="412.31" font-size="3.85" text-anchor="end" fill="#000" transform="rotate(370.6 322.50 412.31)" dy="1.3">Insula.L1</text>
<circle cx="326.11" cy="408.28" r="1.25" fill="#96229a"/>
<text x="323.61" y="407.57" font-size="3.85" text-anchor="end" fill="#000" transform="rotate(375.9 323.61 407.57)" dy="1.3">Insula.R2</text>
<circle cx="327.58" cy="403.88" r="1.25" fill="#96229a"/>
<text x="325.16" y="402.94" font-size="3.85" text-anchor="end" fill="#000" transform="rotate(381.2 325.16 402.94)" dy="1.3">MCC.L2</text>
<circle cx="329.46" cy="399.64" r="1.25" fill="#96229a"/>
<text x="327.13" y="398.48" font-size="3.85" text-anchor="end" fill="#000" transform="rotate(386.5 327.13 398.48)" dy="1.3">SMG.R2</text>
<circle cx="331.71" cy="395.59" r="1.25" fill="#000000"/>
<text x="329.50" y="394.22" font-size="3.85" text-anchor="end" fill="#000" transform="rotate(391.7 329.50 394.22)" dy="1.3">dACC.L6</text>
<circle cx="334.33" cy="391.76" r="1.25" fill="#000000"/>
<text x="332.25" y="390.19" font-size="3.85" text-anchor="end" fill="#000" transform="rotate(397.0 332.25 390.19)" dy="1.3">dACC.R4</text>
<circle cx="337.29" cy="388.19" r="1.25" fill="#000000"/>
<text x="335.37" y="386.44" font-size="3.85" text-anchor="end" fill="#000" transform="rotate(402.3 335.37 386.44)" dy="1.3">IFG_Orb.R3</text>
<circle cx="340.57" cy="384.91" r="1.25" fill="#000000"/>
<text x="338.82" y="382.99" font-size="3.85" text-anchor="end" fill="#000" transform="rotate(407.6 338.82 382.99)" dy="1.3">Insula.R5</text>
<circle cx="344.14" cy="381.95" r="1.25" fill="#000000"/>
<text x="342.57" y="379.87" font-size="3.85" text-anchor="end" fill="#000" transform="rotate(412.9 342.57 379.87)" dy="1.3">MFG.R4</text>
<circle cx="347.96" cy="379.33" r="1.25" fill="#000000"/>
<text x="346.59" y="377.12" font-size="3.85" text-anchor="end" fill="#000" transform="rotate(418.2 346.59 377.12)" dy="1.3">Parietal_Inf.R3</text>
<circle cx="352.01" cy="377.07" r="1.25" fill="#228b8d"/>
<text x="350.85" y="374.74" font-size="3.85" text-anchor="end" fill="#000" transform="rotate(423.5 350.85 374.74)" dy="1.3">Angular.R2</text>
<circle cx="356.25" cy="375.20" r="1.25" fill="#228b8d"/>
<text x="355.31" y="372.77" font-size="3.85" text-anchor="end" fill="#000" transform="rotate(428.8 355.31 372.77)" dy="1.3">IFG.R6</text>
<path d="M539.90 571.81A70.30 70.30 0 0 1 550.02 568.89Q564.40 637.70 561.95 707.96A70.30 70.30 0 0 1 550.99 706.71Q564.40 637.70 539.90 571.81Z" fill="#d6e7fa" fill-opacity="0.72"/>
<path d="M587.29 571.23A70.30 70.30 0 0 1 598.48 576.21Q564.40 637.70 576.61 706.93A70.30 70.30 0 0 1 561.95 707.96Q564.40 637.70 587.29 571.23Z" fill="#d6e7fa" fill-opacity="0.72"/>
<path d="M598.48 576.21A70.30 70.30 0 0 1 605.72 580.83Q564.40 637.70 526.11 696.66A70.30 70.30 0 0 1 518.28 690.76Q564.40 637.70 598.48 576.21Z" fill="#d6e7fa" fill-opacity="0.72"/>
<path d="M620.54 595.39A70.30 70.30 0 0 1 625.28 602.55Q564.40 637.70 499.98 665.84A70.30 70.30 0 0 1 497.32 658.72Q564.40 637.70 620.54 595.39Z" fill="#d6e7fa" fill-opacity="0.72"/>
<path d="M625.28 602.55A70.30 70.30 0 0 1 629.58 611.37Q564.40 637.70 533.58 700.89A70.30 70.30 0 0 1 526.11 696.66Q564.40 637.70 625.28 602.55Z" fill="#d6e7fa" fill-opacity="0.72"/>
<path d="M629.58 611.37A70.30 70.30 0 0 1 632.61 620.69Q564.40 637.70 583.78 705.28A70.30 70.30 0 0 1 576.61 706.93Q564.40 637.70 629.58 611.37Z" fill="#d6e7fa" fill-opacity="0.72"/>
<path d="M552.19 568.47A70.30 70.30 0 0 1 560.72 567.50Q564.40 637.70 633.83 648.70A70.30 70.30 0 0 1 630.03 662.89Q564.40 637.70 552.19 568.47Z" fill="#fddede" fill-opacity="0.6"/>
<path d="M625.89 671.78A70.30 70.30 0 0 1 616.64 684.74Q564.40 637.70 597.08 699.94A70.30 70.30 0 0 1 584.95 704.93Q564.40 637.70 625.89 671.78Z" fill="#fddede" fill-opacity="0.75"/>
<path d="M634.43 643.83A70.30 70.30 0 0 1 633.83 648.70Q564.40 637.70 498.34 613.66A70.30 70.30 0 0 1 501.21 606.88Q564.40 637.70 634.43 643.83Z" fill="#fddede" fill-opacity="0.55"/>
<path d="M630.03 662.89A70.30 70.30 0 0 1 627.59 668.52Q564.40 637.70 502.91 671.78A70.30 70.30 0 0 1 499.98 665.84Q564.40 637.70 630.03 662.89Z" fill="#fddede" fill-opacity="0.55"/>
<path d="M518.46 584.48A70.30 70.30 0 0 1 534.80 573.93Q564.40 637.70 494.17 640.77A70.30 70.30 0 0 1 495.77 622.48Q564.40 637.70 518.46 584.48Z" fill="#92c8fb" fill-opacity="1.0"/>
<path d="M569.79 567.61A70.30 70.30 0 0 1 587.06 571.15Q564.40 637.70 497.32 658.72A70.30 70.30 0 0 1 494.17 640.77Q564.40 637.70 569.79 567.61Z" fill="#92c8fb" fill-opacity="1.0"/>
<path d="M566.42 565.23A72.5 72.5 0 0 1 614.12 584.94" fill="none" stroke="#1affff" stroke-width="1.3"/>
<text x="593.35" y="567.64" font-size="6.2" text-anchor="middle" fill="#222" transform="rotate(22.4 593.35 567.64)">SMN</text>
<path d="M615.58 586.35A72.5 72.5 0 0 1 636.89 636.69" fill="none" stroke="#ffa01a" stroke-width="1.3"/>
<text x="634.20" y="608.14" font-size="6.2" text-anchor="middle" fill="#222" transform="rotate(67.0 634.20 608.14)">CN</text>
<path d="M636.89 638.97A72.5 72.5 0 0 1 614.94 689.68" fill="none" stroke="#ee2324" stroke-width="1.3"/>
<text x="637.82" y="669.47" font-size="6.2" text-anchor="middle" fill="#222" transform="rotate(-66.6 637.82 669.47)">DMN</text>
<path d="M613.29 691.24A72.5 72.5 0 0 1 609.43 694.52" fill="none" stroke="#ffff1a" stroke-width="1.3"/>
<text x="617.72" y="697.34" font-size="6.2" text-anchor="middle" fill="#222" transform="rotate(-41.8 617.72 697.34)">FPN</text>
<path d="M607.42 696.05A72.5 72.5 0 0 1 601.31 700.10" fill="none" stroke="#2424dc" stroke-width="1.3"/>
<text x="607.27" y="705.25" font-size="6.2" text-anchor="middle" fill="#222" transform="rotate(-32.4 607.27 705.25)">VIS</text>
<path d="M599.77 700.99A72.5 72.5 0 0 1 543.45 707.11" fill="none" stroke="#b5562a" stroke-width="1.3"/>
<text x="573.04" y="717.23" font-size="6.2" text-anchor="middle" fill="#222" transform="rotate(-6.2 573.04 717.23)">SUB</text>
<path d="M542.00 706.65A72.5 72.5 0 0 1 504.58 678.66" fill="none" stroke="#96229a" stroke-width="1.3"/>
<text x="516.48" y="701.76" font-size="6.2" text-anchor="middle" fill="#222" transform="rotate(36.8 516.48 701.76)">CON</text>
<path d="M503.73 677.40A72.5 72.5 0 0 1 493.65 621.88" fill="none" stroke="#000000" stroke-width="1.3"/>
<text x="485.69" y="652.00" font-size="6.2" text-anchor="middle" fill="#222" transform="rotate(79.7 485.69 652.00)">SAN</text>
<path d="M494.12 619.92A72.5 72.5 0 0 1 505.90 594.88" fill="none" stroke="#228b8d" stroke-width="1.3"/>
<text x="495.81" y="605.43" font-size="6.2" text-anchor="middle" fill="#222" transform="rotate(295.2 495.81 605.43)">VAN</text>
<path d="M507.27 593.06A72.5 72.5 0 0 1 511.72 587.89" fill="none" stroke="#26ee26" stroke-width="1.3"/>
<text x="506.93" y="588.27" font-size="6.2" text-anchor="middle" fill="#222" transform="rotate(310.7 506.93 588.27)">DAN</text>
<path d="M512.78 586.79A72.5 72.5 0 0 1 563.64 565.20" fill="none" stroke="#ff26ff" stroke-width="1.3"/>
<text x="534.78" y="567.93" font-size="6.2" text-anchor="middle" fill="#222" transform="rotate(337.0 534.78 567.93)">AUD</text>
<text x="0.00" y="535.50" font-size="11" font-weight="bold" fill="#000">c</text>
<text x="17.00" y="535.30" font-size="8.3" fill="#222" textLength="107.50" lengthAdjust="spacingAndGlyphs">Network-level connectivity</text>
<rect x="32.55" y="566.95" width="12.20" height="12.20" fill="#d7e8f1"/>
<rect x="32.55" y="579.65" width="12.20" height="12.20" fill="#f9eee7"/>
<rect x="45.25" y="579.65" width="12.20" height="12.20" fill="#f4f6f6"/>
<rect x="32.55" y="592.35" width="12.20" height="12.20" fill="#eaf1f5"/>
<rect x="45.25" y="592.35" width="12.20" height="12.20" fill="#f1f4f6"/>
<rect x="57.95" y="592.35" width="12.20" height="12.20" fill="#f9eee7"/>
<rect x="32.55" y="605.05" width="12.20" height="12.20" fill="#db6c56"/>
<text x="38.15" y="616.95" font-size="11.5" text-anchor="middle" fill="#111" letter-spacing="-0.9">**</text>
<rect x="45.25" y="605.05" width="12.20" height="12.20" fill="#f1f4f6"/>
<rect x="57.95" y="605.05" width="12.20" height="12.20" fill="#e4eef4"/>
<rect x="70.65" y="605.05" width="12.20" height="12.20" fill="#f1f4f6"/>
<rect x="32.55" y="617.75" width="12.20" height="12.20" fill="#fac9b0"/>
<rect x="45.25" y="617.75" width="12.20" height="12.20" fill="#f1f4f6"/>
<rect x="57.95" y="617.75" width="12.20" height="12.20" fill="#f9eee7"/>
<rect x="70.65" y="617.75" width="12.20" height="12.20" fill="#d7e8f1"/>
<rect x="83.35" y="617.75" width="12.20" height="12.20" fill="#eaf1f5"/>
<rect x="32.55" y="630.45" width="12.20" height="12.20" fill="#f8c0a4"/>
<text x="38.65" y="642.35" font-size="11.5" text-anchor="middle" fill="#111" letter-spacing="-0.9">*</text>
<rect x="45.25" y="630.45" width="12.20" height="12.20" fill="#f4f6f6"/>
<rect x="57.95" y="630.45" width="12.20" height="12.20" fill="#f9eee7"/>
<rect x="70.65" y="630.45" width="12.20" height="12.20" fill="#f1f4f6"/>
<rect x="83.35" y="630.45" width="12.20" height="12.20" fill="#d1e5f0"/>
<rect x="96.05" y="630.45" width="12.20" height="12.20" fill="#f8f2ef"/>
<rect x="32.55" y="643.15" width="12.20" height="12.20" fill="#f8c0a4"/>
<text x="38.65" y="655.05" font-size="11.5" text-anchor="middle" fill="#111" letter-spacing="-0.9">*</text>
<rect x="45.25" y="643.15" width="12.20" height="12.20" fill="#f1f4f6"/>
<rect x="57.95" y="643.15" width="12.20" height="12.20" fill="#eaf1f5"/>
<rect x="70.65" y="643.15" width="12.20" height="12.20" fill="#eaf1f5"/>
<rect x="83.35" y="643.15" width="12.20" height="12.20" fill="#d1e5f0"/>
<rect x="96.05" y="643.15" width="12.20" height="12.20" fill="#e4eef4"/>
<rect x="108.75" y="643.15" width="12.20" height="12.20" fill="#f1f4f6"/>
<rect x="32.55" y="655.85" width="12.20" height="12.20" fill="#f7f7f7"/>
<rect x="45.25" y="655.85" width="12.20" height="12.20" fill="#f4f6f6"/>
<rect x="57.95" y="655.85" width="12.20" height="12.20" fill="#f4f6f6"/>
<rect x="70.65" y="655.85" width="12.20" height="12.20" fill="#f1f4f6"/>
<rect x="83.35" y="655.85" width="12.20" height="12.20" fill="#fae9df"/>
<rect x="96.05" y="655.85" width="12.20" height="12.20" fill="#f7f7f7"/>
<rect x="108.75" y="655.85" width="12.20" height="12.20" fill="#f8f2ef"/>
<rect x="121.45" y="655.85" width="12.20" height="12.20" fill="#f4f6f6"/>
<rect x="32.55" y="668.55" width="12.20" height="12.20" fill="#f6ae8e"/>
<text x="38.65" y="680.45" font-size="11.5" text-anchor="middle" fill="#111" letter-spacing="-0.9">*</text>
<rect x="45.25" y="668.55" width="12.20" height="12.20" fill="#e4eef4"/>
<rect x="57.95" y="668.55" width="12.20" height="12.20" fill="#f8f2ef"/>
<rect x="70.65" y="668.55" width="12.20" height="12.20" fill="#4393c3"/>
<text x="76.25" y="680.45" font-size="11.5" text-anchor="middle" fill="#111" letter-spacing="-0.9">**</text>
<rect x="83.35" y="668.55" width="12.20" height="12.20" fill="#d7e8f1"/>
<rect x="96.05" y="668.55" width="12.20" height="12.20" fill="#0e427a"/>
<text x="101.65" y="680.45" font-size="11.5" text-anchor="middle" fill="#fff" letter-spacing="-1.4">***</text>
<rect x="108.75" y="668.55" width="12.20" height="12.20" fill="#d7e8f1"/>
<rect x="121.45" y="668.55" width="12.20" height="12.20" fill="#f9eee7"/>
<rect x="134.15" y="668.55" width="12.20" height="12.20" fill="#eaf1f5"/>
<rect x="32.55" y="681.25" width="12.20" height="12.20" fill="#f8f2ef"/>
<rect x="45.25" y="681.25" width="12.20" height="12.20" fill="#eaf1f5"/>
<rect x="57.95" y="681.25" width="12.20" height="12.20" fill="#f7f7f7"/>
<rect x="70.65" y="681.25" width="12.20" height="12.20" fill="#327cb8"/>
<text x="76.25" y="693.15" font-size="11.5" text-anchor="middle" fill="#111" letter-spacing="-0.9">**</text>
<rect x="83.35" y="681.25" width="12.20" height="12.20" fill="#9ccae1"/>
<text x="89.45" y="693.15" font-size="11.5" text-anchor="middle" fill="#111" letter-spacing="-0.9">*</text>
<rect x="96.05" y="681.25" width="12.20" height="12.20" fill="#185493"/>
<text x="101.65" y="693.15" font-size="11.5" text-anchor="middle" fill="#fff" letter-spacing="-1.4">***</text>
<rect x="108.75" y="681.25" width="12.20" height="12.20" fill="#e4eef4"/>
<rect x="121.45" y="681.25" width="12.20" height="12.20" fill="#f8f2ef"/>
<rect x="134.15" y="681.25" width="12.20" height="12.20" fill="#f7f7f7"/>
<rect x="146.85" y="681.25" width="12.20" height="12.20" fill="#fae9df"/>
<rect x="32.55" y="693.95" width="12.20" height="12.20" fill="#fddbc7"/>
<rect x="45.25" y="693.95" width="12.20" height="12.20" fill="#f7f7f7"/>
<rect x="57.95" y="693.95" width="12.20" height="12.20" fill="#f7f7f7"/>
<rect x="70.65" y="693.95" width="12.20" height="12.20" fill="#4393c3"/>
<text x="76.25" y="705.85" font-size="11.5" text-anchor="middle" fill="#111" letter-spacing="-0.9">**</text>
<rect x="83.35" y="693.95" width="12.20" height="12.20" fill="#5da4cc"/>
<text x="88.95" y="705.85" font-size="11.5" text-anchor="middle" fill="#111" letter-spacing="-0.9">**</text>
<rect x="96.05" y="693.95" width="12.20" height="12.20" fill="#a7d0e4"/>
<text x="102.15" y="705.85" font-size="11.5" text-anchor="middle" fill="#111" letter-spacing="-0.9">*</text>
<rect x="108.75" y="693.95" width="12.20" height="12.20" fill="#bcdaea"/>
<rect x="121.45" y="693.95" width="12.20" height="12.20" fill="#f4f6f6"/>
<rect x="134.15" y="693.95" width="12.20" height="12.20" fill="#deebf2"/>
<rect x="146.85" y="693.95" width="12.20" height="12.20" fill="#f1f4f6"/>
<rect x="159.55" y="693.95" width="12.20" height="12.20" fill="#bcdaea"/>
<line x1="28.80" y1="573.05" x2="31.60" y2="573.05" stroke="#222" stroke-width="0.7"/>
<text x="26.00" y="575.15" font-size="6.0" text-anchor="end" fill="#222">DMN</text>
<line x1="38.65" y1="707.10" x2="38.65" y2="709.80" stroke="#222" stroke-width="0.7"/>
<text x="40.35" y="714.50" font-size="6.0" text-anchor="end" fill="#222" transform="rotate(-45 40.35 714.50)">DMN</text>
<line x1="28.80" y1="585.75" x2="31.60" y2="585.75" stroke="#222" stroke-width="0.7"/>
<text x="26.00" y="587.85" font-size="6.0" text-anchor="end" fill="#222">FPN</text>
<line x1="51.35" y1="707.10" x2="51.35" y2="709.80" stroke="#222" stroke-width="0.7"/>
<text x="53.05" y="714.50" font-size="6.0" text-anchor="end" fill="#222" transform="rotate(-45 53.05 714.50)">FPN</text>
<line x1="28.80" y1="598.45" x2="31.60" y2="598.45" stroke="#222" stroke-width="0.7"/>
<text x="26.00" y="600.55" font-size="6.0" text-anchor="end" fill="#222">VIS</text>
<line x1="64.05" y1="707.10" x2="64.05" y2="709.80" stroke="#222" stroke-width="0.7"/>
<text x="65.75" y="714.50" font-size="6.0" text-anchor="end" fill="#222" transform="rotate(-45 65.75 714.50)">VIS</text>
<line x1="28.80" y1="611.15" x2="31.60" y2="611.15" stroke="#222" stroke-width="0.7"/>
<text x="26.00" y="613.25" font-size="6.0" text-anchor="end" fill="#222">SUB</text>
<line x1="76.75" y1="707.10" x2="76.75" y2="709.80" stroke="#222" stroke-width="0.7"/>
<text x="78.45" y="714.50" font-size="6.0" text-anchor="end" fill="#222" transform="rotate(-45 78.45 714.50)">SUB</text>
<line x1="28.80" y1="623.85" x2="31.60" y2="623.85" stroke="#222" stroke-width="0.7"/>
<text x="26.00" y="625.95" font-size="6.0" text-anchor="end" fill="#222">CON</text>
<line x1="89.45" y1="707.10" x2="89.45" y2="709.80" stroke="#222" stroke-width="0.7"/>
<text x="91.15" y="714.50" font-size="6.0" text-anchor="end" fill="#222" transform="rotate(-45 91.15 714.50)">CON</text>
<line x1="28.80" y1="636.55" x2="31.60" y2="636.55" stroke="#222" stroke-width="0.7"/>
<text x="26.00" y="638.65" font-size="6.0" text-anchor="end" fill="#222">SAN</text>
<line x1="102.15" y1="707.10" x2="102.15" y2="709.80" stroke="#222" stroke-width="0.7"/>
<text x="103.85" y="714.50" font-size="6.0" text-anchor="end" fill="#222" transform="rotate(-45 103.85 714.50)">SAN</text>
<line x1="28.80" y1="649.25" x2="31.60" y2="649.25" stroke="#222" stroke-width="0.7"/>
<text x="26.00" y="651.35" font-size="6.0" text-anchor="end" fill="#222">VAN</text>
<line x1="114.85" y1="707.10" x2="114.85" y2="709.80" stroke="#222" stroke-width="0.7"/>
<text x="116.55" y="714.50" font-size="6.0" text-anchor="end" fill="#222" transform="rotate(-45 116.55 714.50)">VAN</text>
<line x1="28.80" y1="661.95" x2="31.60" y2="661.95" stroke="#222" stroke-width="0.7"/>
<text x="26.00" y="664.05" font-size="6.0" text-anchor="end" fill="#222">DAN</text>
<line x1="127.55" y1="707.10" x2="127.55" y2="709.80" stroke="#222" stroke-width="0.7"/>
<text x="129.25" y="714.50" font-size="6.0" text-anchor="end" fill="#222" transform="rotate(-45 129.25 714.50)">DAN</text>
<line x1="28.80" y1="674.65" x2="31.60" y2="674.65" stroke="#222" stroke-width="0.7"/>
<text x="26.00" y="676.75" font-size="6.0" text-anchor="end" fill="#222">AUD</text>
<line x1="140.25" y1="707.10" x2="140.25" y2="709.80" stroke="#222" stroke-width="0.7"/>
<text x="141.95" y="714.50" font-size="6.0" text-anchor="end" fill="#222" transform="rotate(-45 141.95 714.50)">AUD</text>
<line x1="28.80" y1="687.35" x2="31.60" y2="687.35" stroke="#222" stroke-width="0.7"/>
<text x="26.00" y="689.45" font-size="6.0" text-anchor="end" fill="#222">SMN</text>
<line x1="152.95" y1="707.10" x2="152.95" y2="709.80" stroke="#222" stroke-width="0.7"/>
<text x="154.65" y="714.50" font-size="6.0" text-anchor="end" fill="#222" transform="rotate(-45 154.65 714.50)">SMN</text>
<line x1="28.80" y1="700.05" x2="31.60" y2="700.05" stroke="#222" stroke-width="0.7"/>
<text x="26.00" y="702.15" font-size="6.0" text-anchor="end" fill="#222">CN</text>
<line x1="165.65" y1="707.10" x2="165.65" y2="709.80" stroke="#222" stroke-width="0.7"/>
<text x="167.35" y="714.50" font-size="6.0" text-anchor="end" fill="#222" transform="rotate(-45 167.35 714.50)">CN</text>
<text x="82.60" y="559.60" font-size="8.4" fill="#222" textLength="56.50" lengthAdjust="spacingAndGlyphs">FDR corrected</text>
<text x="7.00" y="639.70" font-size="7.2" text-anchor="middle" fill="#222" transform="rotate(-90 7.00 639.70)">Network</text>
<text x="87.70" y="735.20" font-size="7.2" fill="#222">Network</text>
<defs><linearGradient id="cbR" x1="0" x2="0" y1="1" y2="0"><stop offset="0.000" stop-color="#053061"/><stop offset="0.100" stop-color="#2166ac"/><stop offset="0.200" stop-color="#4393c3"/><stop offset="0.300" stop-color="#92c5de"/><stop offset="0.400" stop-color="#d1e5f0"/><stop offset="0.500" stop-color="#f7f7f7"/><stop offset="0.600" stop-color="#fddbc7"/><stop offset="0.700" stop-color="#f4a582"/><stop offset="0.800" stop-color="#d6604d"/><stop offset="0.900" stop-color="#b2182b"/><stop offset="1.000" stop-color="#67001f"/></linearGradient></defs>
<rect x="182.20" y="566.40" width="6.80" height="139.60" fill="url(#cbR)"/>
<line x1="189.60" y1="566.40" x2="192.20" y2="566.40" stroke="#222" stroke-width="0.7"/>
<text x="195.40" y="569.10" font-size="7.4" fill="#222">0.03</text>
<line x1="189.60" y1="589.67" x2="192.20" y2="589.67" stroke="#222" stroke-width="0.7"/>
<text x="195.40" y="592.37" font-size="7.4" fill="#222">0.02</text>
<line x1="189.60" y1="612.93" x2="192.20" y2="612.93" stroke="#222" stroke-width="0.7"/>
<text x="195.40" y="615.63" font-size="7.4" fill="#222">0.01</text>
<line x1="189.60" y1="636.20" x2="192.20" y2="636.20" stroke="#222" stroke-width="0.7"/>
<text x="195.40" y="638.90" font-size="7.4" fill="#222">0</text>
<line x1="189.60" y1="659.47" x2="192.20" y2="659.47" stroke="#222" stroke-width="0.7"/>
<text x="195.40" y="662.17" font-size="7.4" fill="#222">−0.01</text>
<line x1="189.60" y1="682.73" x2="192.20" y2="682.73" stroke="#222" stroke-width="0.7"/>
<text x="195.40" y="685.43" font-size="7.4" fill="#222">−0.02</text>
<line x1="189.60" y1="706.00" x2="192.20" y2="706.00" stroke="#222" stroke-width="0.7"/>
<text x="195.40" y="708.70" font-size="7.4" fill="#222">−0.03</text>
<text x="181.00" y="722.20" font-size="8.4" fill="#222">Partial <tspan font-style="italic">η</tspan><tspan font-size="5.5" dy="-3.2">2</tspan></text>
<rect x="254.35" y="566.65" width="12.20" height="12.20" fill="#d7e8f1"/>
<rect x="254.35" y="579.35" width="12.20" height="12.20" fill="#f9eee7"/>
<rect x="267.05" y="579.35" width="12.20" height="12.20" fill="#f4f6f6"/>
<rect x="254.35" y="592.05" width="12.20" height="12.20" fill="#eaf1f5"/>
<rect x="267.05" y="592.05" width="12.20" height="12.20" fill="#f1f4f6"/>
<rect x="279.75" y="592.05" width="12.20" height="12.20" fill="#f9eee7"/>
<rect x="254.35" y="604.75" width="12.20" height="12.20" fill="#db6c56"/>
<rect x="267.05" y="604.75" width="12.20" height="12.20" fill="#f1f4f6"/>
<rect x="279.75" y="604.75" width="12.20" height="12.20" fill="#e4eef4"/>
<rect x="292.45" y="604.75" width="12.20" height="12.20" fill="#f1f4f6"/>
<rect x="254.35" y="617.45" width="12.20" height="12.20" fill="#fac9b0"/>
<rect x="267.05" y="617.45" width="12.20" height="12.20" fill="#f1f4f6"/>
<rect x="279.75" y="617.45" width="12.20" height="12.20" fill="#f9eee7"/>
<rect x="292.45" y="617.45" width="12.20" height="12.20" fill="#d7e8f1"/>
<rect x="305.15" y="617.45" width="12.20" height="12.20" fill="#eaf1f5"/>
<rect x="254.35" y="630.15" width="12.20" height="12.20" fill="#f8c0a4"/>
<rect x="267.05" y="630.15" width="12.20" height="12.20" fill="#f4f6f6"/>
<rect x="279.75" y="630.15" width="12.20" height="12.20" fill="#f9eee7"/>
<rect x="292.45" y="630.15" width="12.20" height="12.20" fill="#f1f4f6"/>
<rect x="305.15" y="630.15" width="12.20" height="12.20" fill="#d1e5f0"/>
<rect x="317.85" y="630.15" width="12.20" height="12.20" fill="#f8f2ef"/>
<rect x="254.35" y="642.85" width="12.20" height="12.20" fill="#f8c0a4"/>
<rect x="267.05" y="642.85" width="12.20" height="12.20" fill="#f1f4f6"/>
<rect x="279.75" y="642.85" width="12.20" height="12.20" fill="#eaf1f5"/>
<rect x="292.45" y="642.85" width="12.20" height="12.20" fill="#eaf1f5"/>
<rect x="305.15" y="642.85" width="12.20" height="12.20" fill="#d1e5f0"/>
<rect x="317.85" y="642.85" width="12.20" height="12.20" fill="#e4eef4"/>
<rect x="330.55" y="642.85" width="12.20" height="12.20" fill="#f1f4f6"/>
<rect x="254.35" y="655.55" width="12.20" height="12.20" fill="#f7f7f7"/>
<rect x="267.05" y="655.55" width="12.20" height="12.20" fill="#f4f6f6"/>
<rect x="279.75" y="655.55" width="12.20" height="12.20" fill="#f4f6f6"/>
<rect x="292.45" y="655.55" width="12.20" height="12.20" fill="#f1f4f6"/>
<rect x="305.15" y="655.55" width="12.20" height="12.20" fill="#fae9df"/>
<rect x="317.85" y="655.55" width="12.20" height="12.20" fill="#f7f7f7"/>
<rect x="330.55" y="655.55" width="12.20" height="12.20" fill="#f8f2ef"/>
<rect x="343.25" y="655.55" width="12.20" height="12.20" fill="#f4f6f6"/>
<rect x="254.35" y="668.25" width="12.20" height="12.20" fill="#f6ae8e"/>
<rect x="267.05" y="668.25" width="12.20" height="12.20" fill="#e4eef4"/>
<rect x="279.75" y="668.25" width="12.20" height="12.20" fill="#f8f2ef"/>
<rect x="292.45" y="668.25" width="12.20" height="12.20" fill="#4393c3"/>
<rect x="305.15" y="668.25" width="12.20" height="12.20" fill="#d7e8f1"/>
<rect x="317.85" y="668.25" width="12.20" height="12.20" fill="#0e427a"/>
<text x="323.95" y="680.15" font-size="11.5" text-anchor="middle" fill="#fff" letter-spacing="-0.9">*</text>
<rect x="330.55" y="668.25" width="12.20" height="12.20" fill="#d7e8f1"/>
<rect x="343.25" y="668.25" width="12.20" height="12.20" fill="#f9eee7"/>
<rect x="355.95" y="668.25" width="12.20" height="12.20" fill="#eaf1f5"/>
<rect x="254.35" y="680.95" width="12.20" height="12.20" fill="#f8f2ef"/>
<rect x="267.05" y="680.95" width="12.20" height="12.20" fill="#eaf1f5"/>
<rect x="279.75" y="680.95" width="12.20" height="12.20" fill="#f7f7f7"/>
<rect x="292.45" y="680.95" width="12.20" height="12.20" fill="#327cb8"/>
<rect x="305.15" y="680.95" width="12.20" height="12.20" fill="#9ccae1"/>
<rect x="317.85" y="680.95" width="12.20" height="12.20" fill="#185493"/>
<text x="323.95" y="692.85" font-size="11.5" text-anchor="middle" fill="#fff" letter-spacing="-0.9">*</text>
<rect x="330.55" y="680.95" width="12.20" height="12.20" fill="#e4eef4"/>
<rect x="343.25" y="680.95" width="12.20" height="12.20" fill="#f8f2ef"/>
<rect x="355.95" y="680.95" width="12.20" height="12.20" fill="#f7f7f7"/>
<rect x="368.65" y="680.95" width="12.20" height="12.20" fill="#fae9df"/>
<rect x="254.35" y="693.65" width="12.20" height="12.20" fill="#fddbc7"/>
<rect x="267.05" y="693.65" width="12.20" height="12.20" fill="#f7f7f7"/>
<rect x="279.75" y="693.65" width="12.20" height="12.20" fill="#f7f7f7"/>
<rect x="292.45" y="693.65" width="12.20" height="12.20" fill="#4393c3"/>
<rect x="305.15" y="693.65" width="12.20" height="12.20" fill="#5da4cc"/>
<rect x="317.85" y="693.65" width="12.20" height="12.20" fill="#a7d0e4"/>
<rect x="330.55" y="693.65" width="12.20" height="12.20" fill="#bcdaea"/>
<rect x="343.25" y="693.65" width="12.20" height="12.20" fill="#f4f6f6"/>
<rect x="355.95" y="693.65" width="12.20" height="12.20" fill="#deebf2"/>
<rect x="368.65" y="693.65" width="12.20" height="12.20" fill="#f1f4f6"/>
<rect x="381.35" y="693.65" width="12.20" height="12.20" fill="#bcdaea"/>
<line x1="251.30" y1="573.20" x2="254.10" y2="573.20" stroke="#222" stroke-width="0.7"/>
<text x="248.50" y="575.30" font-size="6.0" text-anchor="end" fill="#222">DMN</text>
<line x1="260.45" y1="706.80" x2="260.45" y2="709.50" stroke="#222" stroke-width="0.7"/>
<text x="262.15" y="714.20" font-size="6.0" text-anchor="end" fill="#222" transform="rotate(-45 262.15 714.20)">DMN</text>
<line x1="251.30" y1="585.96" x2="254.10" y2="585.96" stroke="#222" stroke-width="0.7"/>
<text x="248.50" y="588.06" font-size="6.0" text-anchor="end" fill="#222">FPN</text>
<line x1="273.15" y1="706.80" x2="273.15" y2="709.50" stroke="#222" stroke-width="0.7"/>
<text x="274.85" y="714.20" font-size="6.0" text-anchor="end" fill="#222" transform="rotate(-45 274.85 714.20)">FPN</text>
<line x1="251.30" y1="598.72" x2="254.10" y2="598.72" stroke="#222" stroke-width="0.7"/>
<text x="248.50" y="600.82" font-size="6.0" text-anchor="end" fill="#222">VIS</text>
<line x1="285.85" y1="706.80" x2="285.85" y2="709.50" stroke="#222" stroke-width="0.7"/>
<text x="287.55" y="714.20" font-size="6.0" text-anchor="end" fill="#222" transform="rotate(-45 287.55 714.20)">VIS</text>
<line x1="251.30" y1="611.48" x2="254.10" y2="611.48" stroke="#222" stroke-width="0.7"/>
<text x="248.50" y="613.58" font-size="6.0" text-anchor="end" fill="#222">SUB</text>
<line x1="298.55" y1="706.80" x2="298.55" y2="709.50" stroke="#222" stroke-width="0.7"/>
<text x="300.25" y="714.20" font-size="6.0" text-anchor="end" fill="#222" transform="rotate(-45 300.25 714.20)">SUB</text>
<line x1="251.30" y1="624.24" x2="254.10" y2="624.24" stroke="#222" stroke-width="0.7"/>
<text x="248.50" y="626.34" font-size="6.0" text-anchor="end" fill="#222">CON</text>
<line x1="311.25" y1="706.80" x2="311.25" y2="709.50" stroke="#222" stroke-width="0.7"/>
<text x="312.95" y="714.20" font-size="6.0" text-anchor="end" fill="#222" transform="rotate(-45 312.95 714.20)">CON</text>
<line x1="251.30" y1="637.00" x2="254.10" y2="637.00" stroke="#222" stroke-width="0.7"/>
<text x="248.50" y="639.10" font-size="6.0" text-anchor="end" fill="#222">SAN</text>
<line x1="323.95" y1="706.80" x2="323.95" y2="709.50" stroke="#222" stroke-width="0.7"/>
<text x="325.65" y="714.20" font-size="6.0" text-anchor="end" fill="#222" transform="rotate(-45 325.65 714.20)">SAN</text>
<line x1="251.30" y1="649.76" x2="254.10" y2="649.76" stroke="#222" stroke-width="0.7"/>
<text x="248.50" y="651.86" font-size="6.0" text-anchor="end" fill="#222">VAN</text>
<line x1="336.65" y1="706.80" x2="336.65" y2="709.50" stroke="#222" stroke-width="0.7"/>
<text x="338.35" y="714.20" font-size="6.0" text-anchor="end" fill="#222" transform="rotate(-45 338.35 714.20)">VAN</text>
<line x1="251.30" y1="662.52" x2="254.10" y2="662.52" stroke="#222" stroke-width="0.7"/>
<text x="248.50" y="664.62" font-size="6.0" text-anchor="end" fill="#222">DAN</text>
<line x1="349.35" y1="706.80" x2="349.35" y2="709.50" stroke="#222" stroke-width="0.7"/>
<text x="351.05" y="714.20" font-size="6.0" text-anchor="end" fill="#222" transform="rotate(-45 351.05 714.20)">DAN</text>
<line x1="251.30" y1="675.28" x2="254.10" y2="675.28" stroke="#222" stroke-width="0.7"/>
<text x="248.50" y="677.38" font-size="6.0" text-anchor="end" fill="#222">AUD</text>
<line x1="362.05" y1="706.80" x2="362.05" y2="709.50" stroke="#222" stroke-width="0.7"/>
<text x="363.75" y="714.20" font-size="6.0" text-anchor="end" fill="#222" transform="rotate(-45 363.75 714.20)">AUD</text>
<line x1="251.30" y1="688.04" x2="254.10" y2="688.04" stroke="#222" stroke-width="0.7"/>
<text x="248.50" y="690.14" font-size="6.0" text-anchor="end" fill="#222">SMN</text>
<line x1="374.75" y1="706.80" x2="374.75" y2="709.50" stroke="#222" stroke-width="0.7"/>
<text x="376.45" y="714.20" font-size="6.0" text-anchor="end" fill="#222" transform="rotate(-45 376.45 714.20)">SMN</text>
<line x1="251.30" y1="700.80" x2="254.10" y2="700.80" stroke="#222" stroke-width="0.7"/>
<text x="248.50" y="702.90" font-size="6.0" text-anchor="end" fill="#222">CN</text>
<line x1="387.45" y1="706.80" x2="387.45" y2="709.50" stroke="#222" stroke-width="0.7"/>
<text x="389.15" y="714.20" font-size="6.0" text-anchor="end" fill="#222" transform="rotate(-45 389.15 714.20)">CN</text>
<text x="307.20" y="559.50" font-size="8.4" fill="#222" textLength="50.00" lengthAdjust="spacingAndGlyphs">Uncorrected</text>
<text x="230.10" y="640.20" font-size="7.2" text-anchor="middle" fill="#222" transform="rotate(-90 230.10 640.20)">Network</text>
<text x="309.70" y="735.20" font-size="7.2" fill="#222">Network</text>
<defs><linearGradient id="cbR2" x1="0" x2="0" y1="1" y2="0"><stop offset="0.000" stop-color="#053061"/><stop offset="0.100" stop-color="#2166ac"/><stop offset="0.200" stop-color="#4393c3"/><stop offset="0.300" stop-color="#92c5de"/><stop offset="0.400" stop-color="#d1e5f0"/><stop offset="0.500" stop-color="#f7f7f7"/><stop offset="0.600" stop-color="#fddbc7"/><stop offset="0.700" stop-color="#f4a582"/><stop offset="0.800" stop-color="#d6604d"/><stop offset="0.900" stop-color="#b2182b"/><stop offset="1.000" stop-color="#67001f"/></linearGradient></defs>
<rect x="403.90" y="566.40" width="8.40" height="139.90" fill="url(#cbR2)"/>
<line x1="412.90" y1="566.40" x2="415.50" y2="566.40" stroke="#222" stroke-width="0.7"/>
<text x="416.80" y="569.10" font-size="7.4" fill="#222">0.03</text>
<line x1="412.90" y1="589.72" x2="415.50" y2="589.72" stroke="#222" stroke-width="0.7"/>
<text x="416.80" y="592.42" font-size="7.4" fill="#222">0.02</text>
<line x1="412.90" y1="613.03" x2="415.50" y2="613.03" stroke="#222" stroke-width="0.7"/>
<text x="416.80" y="615.73" font-size="7.4" fill="#222">0.01</text>
<line x1="412.90" y1="636.35" x2="415.50" y2="636.35" stroke="#222" stroke-width="0.7"/>
<text x="416.80" y="639.05" font-size="7.4" fill="#222">0</text>
<line x1="412.90" y1="659.67" x2="415.50" y2="659.67" stroke="#222" stroke-width="0.7"/>
<text x="416.80" y="662.37" font-size="7.4" fill="#222">−0.01</text>
<line x1="412.90" y1="682.98" x2="415.50" y2="682.98" stroke="#222" stroke-width="0.7"/>
<text x="416.80" y="685.68" font-size="7.4" fill="#222">0.02</text>
<line x1="412.90" y1="706.30" x2="415.50" y2="706.30" stroke="#222" stroke-width="0.7"/>
<text x="416.80" y="709.00" font-size="7.4" fill="#222">−0.03</text>
<text x="402.60" y="722.50" font-size="8.4" fill="#222">Partial <tspan font-style="italic">η</tspan><tspan font-size="5.5" dy="-3.2">2</tspan></text>
<text x="440.60" y="574.80" font-size="6.9" fill="#222">ADHD &gt; TDC</text>
<text x="438.00" y="700.40" font-size="6.9" fill="#222">ADHD &lt; TDC</text>
</svg>
</body></html>
